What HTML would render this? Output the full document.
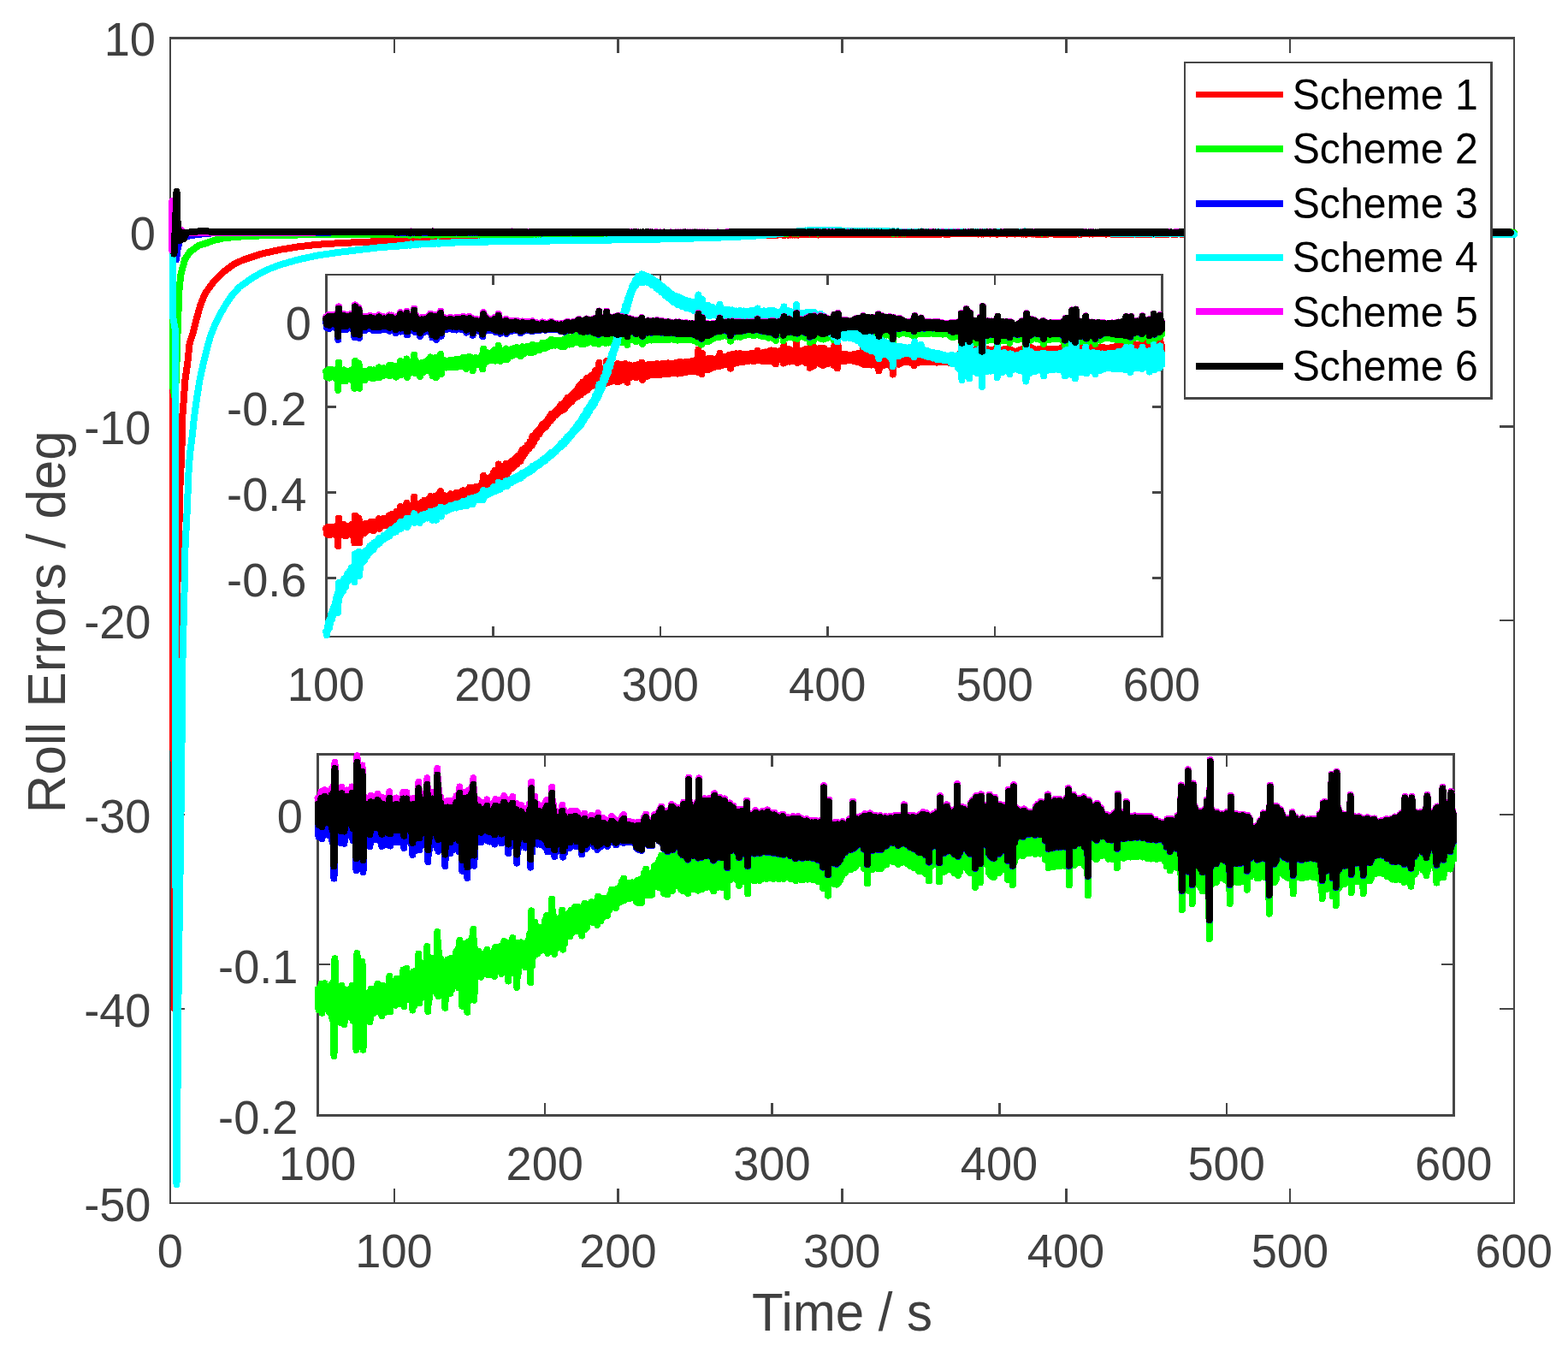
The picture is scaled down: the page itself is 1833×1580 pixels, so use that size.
<!DOCTYPE html>
<html lang="en"><head><meta charset="utf-8"><title>Roll Errors</title>
<style>html,body{margin:0;padding:0;background:#fff}svg{display:block}text{font-family:"Liberation Sans",sans-serif}.ax{fill:#464646;shape-rendering:crispEdges}.tk{fill:#404040;font-size:54.2px}.lb{fill:#404040;font-size:60.0px}.lg{fill:#000;font-size:50.0px}.d{fill:none;stroke-width:8.0;stroke-linejoin:round;stroke-linecap:round;shape-rendering:crispEdges}.k{fill:none;stroke-width:7;shape-rendering:crispEdges}</style></head><body>
<svg width="1833" height="1580" viewBox="0 0 1833 1580">
<rect width="1833" height="1580" fill="#fff"/>
<g id="main">
<path class="ax" d="M198,43H200V1407H198ZM1769,43H1771V1407H1769ZM198,43H1771V46H198ZM198,1405H1771V1407H198ZM460,1389H462V1407H460ZM460,43H462V62H460ZM721,1389H724V1407H721ZM721,43H724V62H721ZM983,1389H986V1407H983ZM983,43H986V62H983ZM1245,1389H1248V1407H1245ZM1245,43H1248V62H1245ZM1507,1389H1509V1407H1507ZM1507,43H1509V62H1507ZM198,270H216V273H198ZM1753,270H1771V273H1753ZM198,497H216V500H198ZM1753,497H1771V500H1753ZM198,724H216V726H198ZM1753,724H1771V726H1753ZM198,951H216V953H198ZM1753,951H1771V953H1753ZM198,1178H216V1180H198ZM1753,1178H1771V1180H1753Z"/>
<g class="d">
<path d="M202,275 202,870 203.5,890 203.5,1178 205.6,1000 206.8,756 206.9,700 209.4,616.6 210.2,573.5 212.3,530.5 213.2,487.5 214.9,466 216.4,444.5 219.4,423 221.6,401.5 225.4,390 229.4,374 234.3,356.3 240,342.6 250.9,327.8 261.8,317.5 272.7,309.3 283.6,304 294.6,300.3 305.5,296.7 327.3,291.8 349.1,288.3 370.9,285.8 392.8,284.4 414.6,283.3 440,282.2 460.8,282.4 461.8,282.7 462.8,282.4 463.8,282.6 464.8,282.3 465.8,282.7 466.7,282.4 467.7,282.7 468.7,282.3 469.7,282.7 470.7,282.3 471.7,282.7 472.7,282.3 473.6,282.7 474.6,282.3 475.6,282.7 476.6,282.3 477.6,282.8 478.6,282.2 479.5,283.3 480.5,281.8 481.5,282.7 482.5,282.3 483.5,282.7 484.5,282.3 485.5,282.7 486.4,282.3 487.4,282.7 488.4,282.2 489.4,282.7 490.4,282.3 491.4,282.8 492.4,282.3 493.3,282.7 494.3,282.3 495.3,282.7 496.3,282.3 497.3,282.6 498.3,282.3 499.3,282.6 500.2,282.2 501.2,282.7 502.2,282.3 503.2,282.7 504.2,282.3 505.2,283.2 506.1,281.7 507.1,282.8 508.1,282.2 509.1,282.7 510.1,282.3 511.1,282.7 512.1,281.8 513,283.2 514,282.3 515,282.6 516,282.2 517,282.6 518,282.2 519,282.6 519.9,282.2 520.9,282.6 521.9,282.1 522.9,282.5 523.9,282.2 524.9,282.5 525.8,282.2 526.8,282.5 527.8,282.1 528.8,282.5 529.8,282 530.8,282.4 531.8,282.1 532.7,282.5 533.7,282.1 534.7,282.5 535.7,282 536.7,282.4 537.7,282 538.7,282.3 539.6,282.1 540.6,282.4 541.6,282 542.6,282.3 543.6,281.9 544.6,282.4 545.5,282 546.5,282.3 547.5,282 548.5,282.2 549.5,282 550.5,282.2 551.5,281.8 552.4,282.2 553.4,281.9 554.4,282.2 555.4,281.9 556.4,282.2 557.4,281.8 558.4,282.1 559.3,281.7 560.3,282.2 561.3,281.7 562.3,282.1 563.3,281.6 564.3,282.1 565.3,281.7 566.2,282 567.2,281.7 568.2,282 569.2,281.6 570.2,282.1 571.2,281.5 572.1,282 573.1,281.6 574.1,282 575.1,281.5 576.1,281.9 577.1,281.2 578.1,282 579,281.5 580,281.8 581,281.4 582,281.8 583,281.3 584,281.8 585,281.4 585.9,281.8 586.9,281 587.9,282 588.9,281.3 589.9,281.8 590.9,281.3 591.8,281.6 592.8,281.2 593.8,281.6 594.8,281.2 595.8,281.6 596.8,281.2 597.8,281.6 598.7,280.7 599.7,281.7 600.7,281 601.7,281.6 602.7,281.1 603.7,281.6 604.7,281.1 605.6,281.5 606.6,281.1 607.6,281.8 608.6,281.1 609.6,281.5 610.6,281 611.5,281.5 612.5,281 613.5,281.4 614.5,280.9 615.5,281.4 616.5,281 617.5,281.3 618.4,281 619.4,281.4 620.4,280.9 621.4,281.3 622.4,280.9 623.4,281.4 624.4,280.7 625.3,281.3 626.3,280.8 627.3,281.6 628.3,280.7 629.3,281.3 630.3,280.7 631.3,281.4 632.2,280.7 633.2,281.7 634.2,280.6 635.2,281.2 636.2,280.6 637.2,281.1 638.1,280.6 639.1,281.2 640.1,280.4 641.1,281.5 642.1,280.7 643.1,281 644.1,280.7 645,281 646,280.6 647,281 648,280.7 649,281 650,280.7 651,281 651.9,280.7 652.9,281 653.9,280.7 654.9,280.9 655.9,280.6 656.9,280.9 657.8,280.6 658.8,280.9 659.8,280.6 660.8,280.9 661.8,280.6 662.8,280.8 663.8,280.5 664.7,280.9 665.7,280.5 666.7,280.8 667.7,280.5 668.7,280.8 669.7,280.5 670.7,280.8 671.6,280.5 672.6,280.9 673.6,280.4 674.6,280.8 675.6,280.4 676.6,280.8 677.5,280.4 678.5,280.7 679.5,280.4 680.5,280.9 681.5,280.4 682.5,280.8 683.5,280.3 684.4,280.7 685.4,280.2 686.4,280.7 687.4,280.3 688.4,280.7 689.4,280.2 690.4,280.9 691.3,280.3 692.3,280.7 693.3,280.2 694.3,280.5 695.3,280.2 696.3,280.5 697.3,280.2 698.2,280.5 699.2,280.2 700.2,280.5 701.2,280.2 702.2,280.4 703.2,280.1 704.1,280.4 705.1,280 706.1,280.7 707.1,279.6 708.1,280.4 709.1,279.9 710.1,280.2 711,279.7 712,280.2 713,279.8 714,280.1 715,279.7 716,280 717,279.7 717.9,280 718.9,279.7 719.9,279.9 720.9,279.6 721.9,279.9 722.9,279.4 723.8,279.9 724.8,279.3 725.8,279.9 726.8,279.4 727.8,279.8 728.8,279.4 729.8,279.8 730.7,279 731.7,279.7 732.7,279.2 733.7,279.7 734.7,279.2 735.7,279.6 736.7,279.2 737.6,279.5 738.6,279.2 739.6,279.5 740.6,279.1 741.6,279.4 742.6,278.9 743.5,279.5 744.5,279 745.5,279.4 746.5,279 747.5,279.3 748.5,278.9 749.5,279.2 750.4,278.9 751.4,279.2 752.4,278.8 753.4,279.1 754.4,278.8 755.4,279.1 756.4,278.7 757.3,279 758.3,278.7 759.3,279 760.3,278.6 761.3,278.9 762.3,278.5 763.3,278.8 764.2,278.5 765.2,278.8 766.2,278.4 767.2,278.6 768.2,278.2 769.2,278.6 770.1,278.2 771.1,278.5 772.1,278.1 773.1,278.4 774.1,278.1 775.1,278.3 776.1,278 777,278.2 778,277.9 779,278.2 780,277.8 781,278 782,277.7 783,278 783.9,277.5 784.9,277.8 785.9,277.5 786.9,277.8 787.9,277.4 788.9,277.6 789.8,277.3 790.8,277.5 791.8,277.2 792.8,277.4 793.8,277.2 794.8,277.4 795.8,277.1 796.7,277.2 797.7,277 798.7,277.2 799.7,276.9 800.7,277.1 801.7,276.8 802.7,277 803.6,276.8 804.6,277 805.6,276.7 806.6,276.9 807.6,276.6 808.6,276.8 809.5,276.5 810.5,276.7 811.5,276.4 812.5,276.7 813.5,276.3 814.5,276.6 815.5,276.3 816.4,276.5 817.4,276.3 818.4,276.4 819.4,276.2 820.4,276.4 821.4,276.1 822.4,276.3 823.3,276.1 824.3,276.2 825.3,276 826.3,276.2 827.3,275.9 828.3,276.2 829.3,275.8 830.2,276.1 831.2,275.8 832.2,276 833.2,275.7 834.2,276.1 835.2,275.7 836.1,275.9 837.1,275.6 838.1,275.9 839.1,275.5 840.1,275.8 841.1,275.4 842.1,275.8 843,275.4 844,275.7 845,275.4 846,275.6 847,275.3 848,275.5 849,275.2 849.9,275.4 850.9,275.2 851.9,275.4 852.9,275.1 853.9,275.4 854.9,274.9 855.8,275.3 856.8,274.8 857.8,275.3 858.8,274.8 859.8,275.3 860.8,274.7 861.8,275.2 862.7,274.6 863.7,275.2 864.7,274.6 865.7,275.1 866.7,274.6 867.7,275 868.7,274.4 869.6,275.1 870.6,274.4 871.6,274.9 872.6,274.4 873.6,274.9 874.6,274.3 875.5,274.8 876.5,274.3 877.5,274.8 878.5,274.3 879.5,274.8 880.5,274.2 881.5,274.8 882.4,274 883.4,274.7 884.4,274.1 885.4,274.8 886.4,274 887.4,274.8 888.4,273.6 889.3,274.6 890.3,274 891.3,274.6 892.3,274 893.3,274.7 894.3,273.9 895.3,274.6 896.2,274 897.2,274.6 898.2,273.9 899.2,274.7 900.2,273.5 901.2,274.6 902.1,273.8 903.1,274.6 904.1,273.8 905.1,274.6 906.1,273.8 907.1,274.6 908.1,273.8 909,274.6 910,273.9 911,274.5 912,273.7 913,274.5 914,273.8 915,274.6 915.9,273.8 916.9,274.6 917.9,273.6 918.9,274.5 919.9,273.8 920.9,274.6 921.8,273.7 922.8,274.5 923.8,273.7 924.8,274.5 925.8,273.7 926.8,274.5 927.8,273.8 928.7,274.5 929.7,273.7 930.7,274.5 931.7,273.8 932.7,274.6 933.7,273.7 934.7,274.3 935.6,273.7 936.6,274.4 937.6,273.8 938.6,274.3 939.6,273.8 940.6,274.3 941.5,273.8 942.5,274.3 943.5,273.8 944.5,274.3 945.5,273.7 946.5,274.4 947.5,273.8 948.4,274.3 949.4,273.7 950.4,274.3 951.4,273.8 952.4,274.3 953.4,273.8 954.4,274.3 955.3,273.6 956.3,274.5 957.3,273.7 958.3,274.3 959.3,273.7 960.3,274.3 961.3,273.8 962.2,274.3 963.2,273.8 964.2,274.3 965.2,273.7 966.2,274.2 967.2,273.8 968.1,274.2 969.1,273.7 970.1,274.3 971.1,273.7 972.1,274.2 973.1,273.7 974.1,274.2 975,273.7 976,274.2 977,273.7 978,274.3 979,273.6 980,274.2 981,273.7 981.9,274.2 982.9,273.7 983.9,274.2 984.9,273.7 985.9,274.2 986.9,273.6 987.8,274.1 988.8,273.7 989.8,274.1 990.8,273.7 991.8,274.2 992.8,273.7 993.8,274.2 994.7,273.6 995.7,274.2 996.7,273.6 997.7,274.2 998.7,273.7 999.7,274.1 1000.7,273.7 1001.6,274.1 1002.6,273.6 1003.6,274.1 1004.6,273.7 1005.6,274.2 1006.6,273.7 1007.5,274.1 1008.5,273.6 1009.5,274.1 1010.5,273.7 1011.5,274.2 1012.5,273.6 1013.5,274.1 1014.4,273.6 1015.4,274.1 1016.4,273.6 1017.4,274.1 1018.4,273.6 1019.4,274.1 1020.4,273.6 1021.3,274.1 1022.3,273.6 1023.3,274 1024.3,273.5 1025.3,274.1 1026.3,273.6 1027.3,274 1028.2,273.6 1029.2,274.1 1030.2,273.5 1031.2,274.1 1032.2,273.6 1033.2,274 1034.1,273.5 1035.1,274.1 1036.1,273.5 1037.1,274.1 1038.1,273.5 1039.1,274 1040.1,273.5 1041,274 1042,273.5 1043,274.1 1044,272.9 1045,274.1 1046,273.4 1047,273.9 1047.9,273.5 1048.9,274.2 1049.9,273.1 1050.9,273.9 1051.9,273.5 1052.9,274 1053.8,273.5 1054.8,274 1055.8,273.4 1056.8,274 1057.8,273.4 1058.8,274 1059.8,273.4 1060.7,273.9 1061.7,273.4 1062.7,273.9 1063.7,273.4 1064.7,273.9 1065.7,273.4 1066.7,273.8 1067.6,273.4 1068.6,273.8 1069.6,273.4 1070.6,273.7 1071.6,273.4 1072.6,273.8 1073.5,273.4 1074.5,273.8 1075.5,273.4 1076.5,273.7 1077.5,273.1 1078.5,273.8 1079.5,273.3 1080.4,273.7 1081.4,273.3 1082.4,273.7 1083.4,273.3 1084.4,273.7 1085.4,273.3 1086.4,273.7 1087.3,273.3 1088.3,273.7 1089.3,273.3 1090.3,273.7 1091.3,273.2 1092.3,273.6 1093.3,273.2 1094.2,273.9 1095.2,273.2 1096.2,273.6 1097.2,273.1 1098.2,273.6 1099.2,273.2 1100.1,273.6 1101.1,273.1 1102.1,273.5 1103.1,273.1 1104.1,273.6 1105.1,273.2 1106.1,273.6 1107,273.2 1108,273.6 1109,273.1 1110,273.6 1111,273.2 1112,273.5 1113,273.2 1113.9,273.5 1114.9,273.1 1115.9,273.5 1116.9,273.2 1117.9,273.5 1118.9,273.2 1119.8,273.5 1120.8,273.1 1121.8,273.5 1122.8,273.2 1123.8,273.5 1124.8,273.2 1125.8,273.5 1126.7,273.1 1127.7,273.5 1128.7,273.1 1129.7,273.5 1130.7,273.1 1131.7,273.5 1132.7,273.1 1133.6,273.5 1134.6,273.1 1135.6,273.4 1136.6,272.9 1137.6,273.4 1138.6,273.1 1139.5,273.5 1140.5,273.1 1141.5,273.4 1142.5,273.1 1143.5,273.5 1144.5,273.1 1145.5,273.4 1146.4,273 1147.4,273.5 1148.4,273 1149.4,273.5 1150.4,273.1 1151.4,273.5 1152.4,273.1 1153.3,273.5 1154.3,273 1155.3,273.5 1156.3,273 1157.3,273.5 1158.3,272.9 1159.3,273.5 1160.2,273 1161.2,273.5 1162.2,273 1163.2,273.5 1164.2,273 1165.2,273.7 1166.1,273 1167.1,273.5 1168.1,273.1 1169.1,273.4 1170.1,273 1171.1,273.4 1172.1,273 1173,273.4 1174,272.9 1175,273.4 1176,272.9 1177,273.6 1178,272.7 1179,273.5 1179.9,272.9 1180.9,273.5 1181.9,272.9 1182.9,273.5 1183.9,273 1184.9,273.4 1185.8,272.9 1186.8,273.5 1187.8,272.9 1188.8,273.4 1189.8,273 1190.8,273.4 1191.8,273 1192.7,273.5 1193.7,273 1194.7,273.5 1195.7,272.9 1196.7,273.5 1197.7,272.5 1198.7,273.6 1199.6,273 1200.6,273.6 1201.6,272.9 1202.6,273.4 1203.6,273 1204.6,273.4 1205.5,273 1206.5,273.5 1207.5,273 1208.5,273.5 1209.5,272.9 1210.5,273.5 1211.5,273 1212.4,273.6 1213.4,272.9 1214.4,273.6 1215.4,272.9 1216.4,273.6 1217.4,272.9 1218.4,273.9 1219.3,272.8 1220.3,273.7 1221.3,272.9 1222.3,273.6 1223.3,272.9 1224.3,273.8 1225.3,272.8 1226.2,273.5 1227.2,273.1 1228.2,273.4 1229.2,273.1 1230.2,273.5 1231.2,273 1232.1,273.6 1233.1,273 1234.1,273.7 1235.1,272.8 1236.1,273.7 1237.1,272.9 1238.1,273.7 1239,272.9 1240,273.7 1241,272.8 1242,273.6 1243,273 1244,273.6 1245,273 1245.9,273.7 1246.9,273 1247.9,273.6 1248.9,273 1249.9,273.6 1250.9,273 1251.8,273.6 1252.8,273 1253.8,273.6 1254.8,272.9 1255.8,273.7 1256.8,272.7 1257.8,273.6 1258.7,273 1259.7,273.5 1260.7,273.1 1261.7,273.9 1262.7,272.7 1263.7,273.6 1264.7,273.1 1265.6,273.5 1266.6,273.1 1267.6,273.5 1268.6,273.1 1269.6,273.5 1270.6,273.2 1271.5,273.5 1272.5,273.2 1273.5,273.5 1274.5,273.1 1275.5,273.5 1276.5,273.2 1277.5,273.5 1278.4,273.2 1279.4,273.5 1280.4,273.2 1281.4,273.5 1282.4,273.2 1283.4,273.5 1284.4,273.2 1285.3,273.5 1286.3,273.2 1287.3,273.5 1288.3,273.1 1289.3,273.5 1290.3,273.1 1291.3,273.5 1292.2,273.2 1293.2,273.6 1294.2,273.1 1295.2,273.5 1296.2,273.2 1297.2,273.5 1298.1,273.1 1299.1,273.6 1300.1,273 1301.1,273.6 1302.1,272.9 1303.1,273.7 1304.1,273.1 1305,273.6 1306,273 1307,273.7 1308,273.1 1309,273.7 1310,273 1311,273.7 1311.9,273 1312.9,273.6 1313.9,273.1 1314.9,273.7 1315.9,273 1316.9,273.7 1317.8,273.1 1318.8,273.7 1319.8,273.1 1320.8,273.6 1321.8,273.1 1322.8,273.7 1323.8,273 1324.7,273.6 1325.7,272.9 1326.7,274 1327.7,273.1 1328.7,273.7 1329.7,273 1330.7,273.7 1331.6,273 1332.6,273.8 1333.6,273.1 1334.6,273.7 1335.6,273.1 1336.6,273.7 1337.5,273.1 1338.5,273.7 1339.5,273.2 1340.5,273.7 1341.5,273.1 1342.5,273.7 1343.5,273 1344.4,273.8 1345.4,273.1 1346.4,273.7 1347.4,273.2 1348.4,274.2 1349.4,273.1 1350.4,273.6 1351.3,273.2 1352.3,273.6 1353.3,273.2 1354.3,273.6 1355.3,273.2 1356.3,273.6 1357.3,273.2 1358.2,273.7 1359.2,273.2 1360.2,273.6 1361.2,273.2 1362.2,273.6 1363.2,273.2 1364.1,273.6 1365.1,273.3 1366.1,273.6 1367.1,273.3 1368.1,273.5 1369.1,273.2 1370.1,273.6 1371,273.3 1372,273.6 1373,273.3 1374,273.6 1375,273.2 1376,273.6 1377,273.3 1377.9,273.5 1378.9,273.2 1379.9,273.6 1380.9,273.2 1381.9,273.7 1382.9,272.9 1383.8,273.6 1384.8,273.3 1385.8,273.6 1386.8,273.2 1387.8,273.5 1388.8,273.3 1389.8,273.6 1390.7,273.3 1391.7,273.6 1392.7,273 1393.7,273.6 1394.7,273.3 1395.7,273.5 1396.7,273.3 1397.6,273.6 1398.6,273.3 1399.6,273.6 1400.6,273.3 1401.6,273.5 1402.6,273.3 1403.6,273.5 1404.5,273.3 1405.5,273.6 1406.5,273.3 1407.5,273.5 1408.5,273.3 1409.5,273.5 1410.4,273.3 1411.4,273.6 1412.4,273.3 1413.4,273.5 1414.4,273.3 1415.4,273.5 1416.4,273.3 1417.3,273.6 1418.3,273.3 1419.3,273.6 1420.3,273.3 1421.3,273.6 1422.3,273.3 1423.3,273.6 1424.2,273.3 1425.2,273.5 1426.2,273.3 1427.2,273.6 1428.2,273.3 1429.2,273.5 1430.1,273.3 1431.1,273.5 1432.1,273.3 1433.1,273.5 1434.1,273.3 1435.1,273.5 1436.1,273.3 1437,273.6 1438,273.3 1439,273.6 1440,273.2 1441,273.6 1442,273.2 1443,273.7 1443.9,273.2 1444.9,273.6 1445.9,273.2 1446.9,273.6 1447.9,273.3 1448.9,273.5 1449.8,273.2 1450.8,273.6 1451.8,273.2 1452.8,273.6 1453.8,273.2 1454.8,273.7 1455.8,272.7 1456.7,274.2 1457.7,273 1458.7,273.7 1459.7,273 1460.7,273.7 1461.7,272.9 1462.7,273.8 1463.6,272.3 1464.6,273.8 1465.6,273 1466.6,273.8 1467.6,272.8 1468.6,274.1 1469.6,272.6 1470.5,273.7 1471.5,272.9 1472.5,273.7 1473.5,273 1474.5,273.6 1475.5,273.1 1476.4,273.7 1477.4,272.9 1478.4,273.7 1479.4,272.9 1480.4,273.7 1481.4,273 1482.4,273.6 1483.3,272.9 1484.3,273.7 1485.3,272.7 1486.3,273.6 1487.3,272.8 1488.3,274.5 1489.3,272.1 1490.2,273.7 1491.2,272.9 1492.2,273.6 1493.2,273 1494.2,273.5 1495.2,273 1496.1,273.6 1497.1,272.9 1498.1,273.5 1499.1,273 1500.1,273.6 1501.1,272.9 1502.1,273.6 1503,272.9 1504,273.5 1505,273 1506,273.6 1507,272.9 1508,273.6 1509,272.9 1509.9,273.6 1510.9,272.9 1511.9,273.9 1512.9,272.6 1513.9,273.6 1514.9,272.9 1515.8,273.6 1516.8,272.9 1517.8,273.6 1518.8,272.9 1519.8,273.6 1520.8,273 1521.8,273.5 1522.7,272.9 1523.7,273.6 1524.7,273 1525.7,273.6 1526.7,272.9 1527.7,273.5 1528.7,272.9 1529.6,273.6 1530.6,273 1531.6,273.7 1532.6,272.9 1533.6,273.5 1534.6,272.9 1535.6,273.5 1536.5,273 1537.5,273.4 1538.5,273 1539.5,273.4 1540.5,273.1 1541.5,273.4 1542.4,273 1543.4,273.5 1544.4,273 1545.4,273.5 1546.4,272.9 1547.4,273.5 1548.4,273 1549.3,273.5 1550.3,272.9 1551.3,273.5 1552.3,272.9 1553.3,273.4 1554.3,272.9 1555.3,273.5 1556.2,272.9 1557.2,274.1 1558.2,272.4 1559.2,273.5 1560.2,272.9 1561.2,273.6 1562.1,272.9 1563.1,273.6 1564.1,272.8 1565.1,273.6 1566.1,272.8 1567.1,273.5 1568.1,272.9 1569,273.5 1570,272.9 1571,273.5 1572,272.9 1573,273.5 1574,272.9 1575,273.5 1575.9,272.9 1576.9,273.4 1577.9,272.9 1578.9,273.5 1579.9,272.9 1580.9,273.5 1581.8,272.9 1582.8,273.5 1583.8,272.8 1584.8,273.7 1585.8,272.9 1586.8,273.4 1587.8,272.9 1588.7,273.4 1589.7,272.9 1590.7,273.4 1591.7,272.9 1592.7,273.4 1593.7,272.9 1594.7,273.5 1595.6,272.9 1596.6,273.4 1597.6,272.9 1598.6,273.4 1599.6,272.9 1600.6,273.4 1601.6,272.9 1602.5,273.4 1603.5,272.9 1604.5,273.4 1605.5,272.9 1606.5,273.4 1607.5,272.9 1608.4,273.4 1609.4,272.8 1610.4,273.4 1611.4,272.9 1612.4,273.4 1613.4,272.8 1614.4,273.4 1615.3,272.8 1616.3,273.5 1617.3,272.8 1618.3,273.8 1619.3,272.6 1620.3,273.5 1621.3,272.6 1622.2,273.6 1623.2,272.7 1624.2,273.5 1625.2,272.8 1626.2,273.6 1627.2,272.6 1628.1,273.5 1629.1,272.2 1630.1,273.7 1631.1,272.8 1632.1,273.6 1633.1,272.8 1634.1,273.9 1635,272.1 1636,273.6 1637,272.7 1638,273.5 1639,272.8 1640,273.4 1641,272.7 1641.9,273.5 1642.9,272.8 1643.9,273.5 1644.9,272.8 1645.9,273.4 1646.9,272.8 1647.8,273.4 1648.8,272.9 1649.8,273.5 1650.8,272.4 1651.8,273.6 1652.8,272.8 1653.8,273.4 1654.7,272.8 1655.7,273.4 1656.7,272.8 1657.7,273.4 1658.7,272.8 1659.7,273.4 1660.7,272.8 1661.6,273.4 1662.6,272.8 1663.6,273.4 1664.6,272.8 1665.6,273.6 1666.6,272.8 1667.6,273.4 1668.5,272.8 1669.5,273.4 1670.5,272.8 1671.5,273.4 1672.5,272.9 1673.5,273.4 1674.4,272.8 1675.4,273.4 1676.4,272.8 1677.4,273.3 1678.4,272.8 1679.4,273.3 1680.4,272.9 1681.3,273.3 1682.3,272.8 1683.3,273.3 1684.3,272.8 1685.3,273.3 1686.3,272.8 1687.3,273.3 1688.2,272.8 1689.2,273.3 1690.2,272.8 1691.2,273.3 1692.2,272.8 1693.2,273.3 1694.1,272.8 1695.1,273.2 1696.1,272.8 1697.1,273.3 1698.1,272.7 1699.1,273.3 1700.1,272.7 1701,273.3 1702,272.7 1703,273.3 1704,272.8 1705,273.3 1706,272.7 1707,273.3 1707.9,272.7 1708.9,273.3 1709.9,272.6 1710.9,273.3 1711.9,272.6 1712.9,273.4 1713.8,272.4 1714.8,273.3 1715.8,272.6 1716.8,273.2 1717.8,272.7 1718.8,273.3 1719.8,272.6 1720.7,273.4 1721.7,272.4 1722.7,273.3 1723.7,272.7 1724.7,273.3 1725.7,272.6 1726.7,273.2 1727.6,272.7 1728.6,273.2 1729.6,272.7 1730.6,273.1 1731.6,272.7 1732.6,273.2 1733.6,272.7 1734.5,273.2 1735.5,272.7 1736.5,273.2 1737.5,272.6 1738.5,273.3 1739.5,272.4 1740.4,273.2 1741.4,272.6 1742.4,273.1 1743.4,272.7 1744.4,273.1 1745.4,272.7 1746.4,273.1 1747.3,272.7 1748.3,273.2 1749.3,272.6 1750.3,273.4 1751.3,272.5 1752.3,273.1 1753.3,272.6 1754.2,273.2 1755.2,272.6 1756.2,273.1 1757.2,272.3 1758.2,273.3 1759.2,272.6 1760.1,273.1 1761.1,272.5 1762.1,273.1 1763.1,272.6 1764.1,273.2 1765.1,272.5 1766.1,273.2 1767,272.3 1768,273.1 1769,272.6 1770,273 1770,273" stroke="#ff0000"/>
<path d="M202,275 202,452 204.5,465 206,440 207.5,390 209.5,338.6 211.4,320.9 216.1,303.1 221.9,294.3 232.5,286.8 240,284.5 250.9,280.7 261.8,278.2 283.6,276.4 305.5,275.4 349,274.5 400,274.3 440,274.2 460.8,274 461.8,274.4 462.8,274 463.8,274.3 464.8,274 465.8,274.4 466.7,274 467.7,274.3 468.7,274 469.7,274.3 470.7,274 471.7,274.3 472.7,274 473.6,274.4 474.6,274 475.6,274.4 476.6,274 477.6,274.5 478.6,273.9 479.5,275 480.5,273.6 481.5,274.4 482.5,274.1 483.5,274.4 484.5,274.1 485.5,274.5 486.4,274.1 487.4,274.5 488.4,274 489.4,274.5 490.4,274.1 491.4,274.6 492.4,274.1 493.3,274.4 494.3,274.1 495.3,274.5 496.3,274.1 497.3,274.4 498.3,274.1 499.3,274.4 500.2,274 501.2,274.5 502.2,274.1 503.2,274.5 504.2,274.1 505.2,275 506.1,273.5 507.1,274.6 508.1,274 509.1,274.5 510.1,274.1 511.1,274.5 512.1,273.6 513,275 514,274.1 515,274.4 516,274.1 517,274.5 518,274.1 519,274.5 519.9,274.1 520.9,274.5 521.9,274 522.9,274.4 523.9,274.1 524.9,274.4 525.8,274.1 526.8,274.4 527.8,274 528.8,274.4 529.8,274 530.8,274.4 531.8,274 532.7,274.4 533.7,274 534.7,274.4 535.7,274 536.7,274.4 537.7,274 538.7,274.3 539.6,274.1 540.6,274.4 541.6,274 542.6,274.3 543.6,273.8 544.6,274.4 545.5,273.9 546.5,274.3 547.5,274 548.5,274.2 549.5,274 550.5,274.3 551.5,273.9 552.4,274.2 553.4,273.9 554.4,274.3 555.4,273.9 556.4,274.2 557.4,273.9 558.4,274.2 559.3,273.7 560.3,274.3 561.3,273.8 562.3,274.2 563.3,273.7 564.3,274.2 565.3,273.8 566.2,274.2 567.2,273.8 568.2,274.2 569.2,273.8 570.2,274.4 571.2,273.8 572.1,274.3 573.1,273.9 574.1,274.2 575.1,273.8 576.1,274.1 577.1,273.5 578.1,274.2 579,273.8 580,274.2 581,273.7 582,274.2 583,273.7 584,274.1 585,273.7 585.9,274.1 586.9,273.4 587.9,274.4 588.9,273.6 589.9,274.2 590.9,273.7 591.8,274 592.8,273.6 593.8,274 594.8,273.6 595.8,274.1 596.8,273.7 597.8,274.1 598.7,273.2 599.7,274.1 600.7,273.5 601.7,274 602.7,273.6 603.7,274 604.7,273.6 605.6,274 606.6,273.6 607.6,274.3 608.6,273.6 609.6,274.1 610.6,273.6 611.5,274.1 612.5,273.6 613.5,274.1 614.5,273.6 615.5,274 616.5,273.7 617.5,274 618.4,273.6 619.4,274 620.4,273.5 621.4,273.8 622.4,273.4 623.4,274 624.4,273.3 625.3,274 626.3,273.4 627.3,274.3 628.3,273.4 629.3,274 630.3,273.4 631.3,274.1 632.2,273.4 633.2,274.4 634.2,273.3 635.2,273.9 636.2,273.4 637.2,273.8 638.1,273.3 639.1,273.9 640.1,273.1 641.1,274.2 642.1,273.4 643.1,273.8 644.1,273.6 645,273.8 646,273.5 647,273.8 648,273.5 649,273.9 650,273.5 651,273.8 651.9,273.5 652.9,273.8 653.9,273.5 654.9,273.8 655.9,273.4 656.9,273.8 657.8,273.5 658.8,273.8 659.8,273.5 660.8,273.8 661.8,273.5 662.8,273.8 663.8,273.5 664.7,273.8 665.7,273.4 666.7,273.7 667.7,273.5 668.7,273.7 669.7,273.5 670.7,273.8 671.6,273.4 672.6,273.8 673.6,273.4 674.6,273.8 675.6,273.3 676.6,273.8 677.5,273.3 678.5,273.7 679.5,273.4 680.5,273.9 681.5,273.3 682.5,273.8 683.5,273.3 684.4,273.7 685.4,273.3 686.4,273.8 687.4,273.4 688.4,273.8 689.4,273.3 690.4,274 691.3,273.4 692.3,273.8 693.3,273.4 694.3,273.7 695.3,273.3 696.3,273.7 697.3,273.4 698.2,273.6 699.2,273.4 700.2,273.7 701.2,273.3 702.2,273.6 703.2,273.3 704.1,273.6 705.1,273.2 706.1,273.9 707.1,272.9 708.1,273.7 709.1,273.2 710.1,273.5 711,273 712,273.5 713,273.1 714,273.5 715,273.1 716,273.4 717,273.1 717.9,273.5 718.9,273.1 719.9,273.4 720.9,273.1 721.9,273.4 722.9,273 723.8,273.5 724.8,272.9 725.8,273.5 726.8,273 727.8,273.4 728.8,273 729.8,273.5 730.7,272.7 731.7,273.4 732.7,272.9 733.7,273.5 734.7,273 735.7,273.4 736.7,273 737.6,273.4 738.6,273 739.6,273.4 740.6,273 741.6,273.3 742.6,272.9 743.5,273.4 744.5,272.9 745.5,273.4 746.5,273 747.5,273.2 748.5,272.9 749.5,273.2 750.4,272.9 751.4,273.2 752.4,272.9 753.4,273.2 754.4,272.9 755.4,273.1 756.4,272.8 757.3,273.1 758.3,272.8 759.3,273.2 760.3,272.8 761.3,273.1 762.3,272.8 763.3,273.1 764.2,272.9 765.2,273.2 766.2,272.8 767.2,273.1 768.2,272.8 769.2,273.1 770.1,272.8 771.1,273.1 772.1,272.8 773.1,273 774.1,272.8 775.1,273 776.1,272.7 777,273 778,272.8 779,273 780,272.7 781,273 782,272.8 783,273.1 783.9,272.6 784.9,273 785.9,272.7 786.9,273 787.9,272.7 788.9,273 789.8,272.7 790.8,272.9 791.8,272.7 792.8,272.9 793.8,272.7 794.8,272.9 795.8,272.7 796.7,272.8 797.7,272.6 798.7,272.8 799.7,272.5 800.7,272.8 801.7,272.6 802.7,272.8 803.6,272.6 804.6,272.8 805.6,272.5 806.6,272.7 807.6,272.5 808.6,272.7 809.5,272.5 810.5,272.7 811.5,272.4 812.5,272.7 813.5,272.4 814.5,272.7 815.5,272.5 816.4,272.7 817.4,272.5 818.4,272.7 819.4,272.4 820.4,272.7 821.4,272.5 822.4,272.7 823.3,272.4 824.3,272.7 825.3,272.5 826.3,272.7 827.3,272.4 828.3,272.7 829.3,272.4 830.2,272.7 831.2,272.5 832.2,272.7 833.2,272.4 834.2,272.7 835.2,272.4 836.1,272.6 837.1,272.3 838.1,272.6 839.1,272.2 840.1,272.6 841.1,272.3 842.1,272.6 843,272.3 844,272.6 845,272.3 846,272.6 847,272.3 848,272.5 849,272.2 849.9,272.4 850.9,272.2 851.9,272.5 852.9,272.1 853.9,272.5 854.9,272.1 855.8,272.5 856.8,272 857.8,272.5 858.8,272.1 859.8,272.6 860.8,272.1 861.8,272.6 862.7,272.1 863.7,272.6 864.7,272.1 865.7,272.6 866.7,272 867.7,272.5 868.7,271.9 869.6,272.6 870.6,271.9 871.6,272.5 872.6,271.9 873.6,272.5 874.6,271.9 875.5,272.4 876.5,271.9 877.5,272.5 878.5,272 879.5,272.5 880.5,271.9 881.5,272.6 882.4,271.8 883.4,272.5 884.4,271.9 885.4,272.6 886.4,271.8 887.4,272.6 888.4,271.4 889.3,272.5 890.3,271.9 891.3,272.5 892.3,271.9 893.3,272.5 894.3,271.8 895.3,272.4 896.2,271.9 897.2,272.5 898.2,271.8 899.2,272.6 900.2,271.4 901.2,272.5 902.1,271.7 903.1,272.5 904.1,271.7 905.1,272.5 906.1,271.7 907.1,272.5 908.1,271.8 909,272.5 910,271.9 911,272.4 912,271.7 913,272.4 914,271.8 915,272.5 915.9,271.8 916.9,272.6 917.9,271.6 918.9,272.5 919.9,271.7 920.9,272.5 921.8,271.7 922.8,272.4 923.8,271.6 924.8,272.4 925.8,271.7 926.8,272.5 927.8,271.8 928.7,272.5 929.7,271.7 930.7,272.5 931.7,271.8 932.7,272.6 933.7,271.7 934.7,272.4 935.6,271.7 936.6,272.4 937.6,271.8 938.6,272.3 939.6,271.7 940.6,272.4 941.5,271.8 942.5,272.3 943.5,271.9 944.5,272.4 945.5,271.8 946.5,272.5 947.5,271.9 948.4,272.4 949.4,271.8 950.4,272.4 951.4,271.8 952.4,272.4 953.4,271.9 954.4,272.3 955.3,271.7 956.3,272.6 957.3,271.8 958.3,272.4 959.3,271.9 960.3,272.4 961.3,271.9 962.2,272.4 963.2,271.8 964.2,272.4 965.2,271.8 966.2,272.3 967.2,271.9 968.1,272.3 969.1,271.8 970.1,272.4 971.1,271.9 972.1,272.4 973.1,271.8 974.1,272.3 975,271.9 976,272.3 977,271.8 978,272.4 979,271.8 980,272.4 981,271.8 981.9,272.4 982.9,271.8 983.9,272.3 984.9,271.8 985.9,272.4 986.9,271.8 987.8,272.3 988.8,271.9 989.8,272.3 990.8,271.8 991.8,272.4 992.8,271.9 993.8,272.4 994.7,271.8 995.7,272.4 996.7,271.8 997.7,272.4 998.7,271.9 999.7,272.3 1000.7,271.9 1001.6,272.3 1002.6,271.8 1003.6,272.3 1004.6,271.9 1005.6,272.4 1006.6,271.9 1007.5,272.3 1008.5,271.8 1009.5,272.3 1010.5,271.9 1011.5,272.4 1012.5,271.8 1013.5,272.3 1014.4,271.8 1015.4,272.3 1016.4,271.9 1017.4,272.4 1018.4,271.8 1019.4,272.4 1020.4,271.9 1021.3,272.3 1022.3,271.9 1023.3,272.3 1024.3,271.8 1025.3,272.4 1026.3,271.9 1027.3,272.3 1028.2,271.9 1029.2,272.4 1030.2,271.9 1031.2,272.4 1032.2,271.9 1033.2,272.4 1034.1,271.9 1035.1,272.4 1036.1,271.9 1037.1,272.4 1038.1,271.9 1039.1,272.4 1040.1,271.9 1041,272.4 1042,271.9 1043,272.5 1044,271.3 1045,272.5 1046,271.9 1047,272.4 1047.9,271.9 1048.9,272.6 1049.9,271.5 1050.9,272.4 1051.9,271.9 1052.9,272.4 1053.8,271.9 1054.8,272.5 1055.8,271.9 1056.8,272.5 1057.8,271.9 1058.8,272.5 1059.8,271.9 1060.7,272.4 1061.7,271.9 1062.7,272.4 1063.7,271.9 1064.7,272.3 1065.7,271.9 1066.7,272.3 1067.6,271.9 1068.6,272.3 1069.6,271.9 1070.6,272.2 1071.6,271.9 1072.6,272.2 1073.5,271.8 1074.5,272.2 1075.5,271.8 1076.5,272.2 1077.5,271.6 1078.5,272.2 1079.5,271.8 1080.4,272.2 1081.4,271.8 1082.4,272.1 1083.4,271.8 1084.4,272.2 1085.4,271.8 1086.4,272.1 1087.3,271.8 1088.3,272.1 1089.3,271.8 1090.3,272.2 1091.3,271.7 1092.3,272.2 1093.3,271.8 1094.2,272.4 1095.2,271.8 1096.2,272.2 1097.2,271.7 1098.2,272.2 1099.2,271.8 1100.1,272.2 1101.1,271.7 1102.1,272.2 1103.1,271.7 1104.1,272.2 1105.1,271.8 1106.1,272.2 1107,271.8 1108,272.2 1109,271.7 1110,272.2 1111,271.8 1112,272.2 1113,271.8 1113.9,272.2 1114.9,271.8 1115.9,272.2 1116.9,271.8 1117.9,272.1 1118.9,271.8 1119.8,272.1 1120.8,271.8 1121.8,272.1 1122.8,271.8 1123.8,272.1 1124.8,271.8 1125.8,272.1 1126.7,271.7 1127.7,272.1 1128.7,271.8 1129.7,272.2 1130.7,271.7 1131.7,272.1 1132.7,271.7 1133.6,272.1 1134.6,271.7 1135.6,272.1 1136.6,271.6 1137.6,272.1 1138.6,271.8 1139.5,272.1 1140.5,271.7 1141.5,272.1 1142.5,271.8 1143.5,272.2 1144.5,271.8 1145.5,272.1 1146.4,271.7 1147.4,272.2 1148.4,271.8 1149.4,272.2 1150.4,271.8 1151.4,272.2 1152.4,271.8 1153.3,272.3 1154.3,271.7 1155.3,272.3 1156.3,271.8 1157.3,272.2 1158.3,271.7 1159.3,272.2 1160.2,271.7 1161.2,272.3 1162.2,271.7 1163.2,272.3 1164.2,271.7 1165.2,272.4 1166.1,271.8 1167.1,272.2 1168.1,271.8 1169.1,272.1 1170.1,271.7 1171.1,272.2 1172.1,271.8 1173,272.1 1174,271.7 1175,272.2 1176,271.7 1177,272.4 1178,271.5 1179,272.3 1179.9,271.7 1180.9,272.3 1181.9,271.7 1182.9,272.3 1183.9,271.7 1184.9,272.2 1185.8,271.6 1186.8,272.2 1187.8,271.6 1188.8,272.2 1189.8,271.7 1190.8,272.2 1191.8,271.9 1192.7,272.3 1193.7,271.8 1194.7,272.3 1195.7,271.6 1196.7,272.2 1197.7,271.3 1198.7,272.3 1199.6,271.7 1200.6,272.3 1201.6,271.6 1202.6,272.1 1203.6,271.6 1204.6,272.1 1205.5,271.6 1206.5,272.2 1207.5,271.7 1208.5,272.2 1209.5,271.7 1210.5,272.3 1211.5,271.7 1212.4,272.3 1213.4,271.6 1214.4,272.2 1215.4,271.5 1216.4,272.3 1217.4,271.6 1218.4,272.5 1219.3,271.5 1220.3,272.3 1221.3,271.5 1222.3,272.3 1223.3,271.5 1224.3,272.4 1225.3,271.4 1226.2,272.1 1227.2,271.7 1228.2,272 1229.2,271.7 1230.2,272.1 1231.2,271.6 1232.1,272.2 1233.1,271.6 1234.1,272.3 1235.1,271.4 1236.1,272.3 1237.1,271.5 1238.1,272.4 1239,271.6 1240,272.4 1241,271.5 1242,272.2 1243,271.6 1244,272.2 1245,271.6 1245.9,272.3 1246.9,271.6 1247.9,272.2 1248.9,271.6 1249.9,272.2 1250.9,271.6 1251.8,272.2 1252.8,271.6 1253.8,272.2 1254.8,271.6 1255.8,272.4 1256.8,271.4 1257.8,272.2 1258.7,271.6 1259.7,272.2 1260.7,271.7 1261.7,272.5 1262.7,271.3 1263.7,272.1 1264.7,271.6 1265.6,272.1 1266.6,271.6 1267.6,272 1268.6,271.7 1269.6,272 1270.6,271.7 1271.5,272 1272.5,271.7 1273.5,272 1274.5,271.6 1275.5,272 1276.5,271.7 1277.5,272 1278.4,271.7 1279.4,272 1280.4,271.7 1281.4,272 1282.4,271.7 1283.4,272 1284.4,271.7 1285.3,272 1286.3,271.7 1287.3,272 1288.3,271.6 1289.3,271.9 1290.3,271.6 1291.3,272 1292.2,271.6 1293.2,272 1294.2,271.5 1295.2,271.9 1296.2,271.6 1297.2,271.9 1298.1,271.6 1299.1,272.1 1300.1,271.5 1301.1,272.1 1302.1,271.4 1303.1,272.2 1304.1,271.6 1305,272.2 1306,271.6 1307,272.2 1308,271.6 1309,272.2 1310,271.5 1311,272.1 1311.9,271.5 1312.9,272.1 1313.9,271.5 1314.9,272.2 1315.9,271.5 1316.9,272.2 1317.8,271.5 1318.8,272.1 1319.8,271.6 1320.8,272.1 1321.8,271.5 1322.8,272.2 1323.8,271.5 1324.7,272.1 1325.7,271.3 1326.7,272.5 1327.7,271.5 1328.7,272.2 1329.7,271.5 1330.7,272.1 1331.6,271.4 1332.6,272.2 1333.6,271.5 1334.6,272.1 1335.6,271.6 1336.6,272.1 1337.5,271.5 1338.5,272.1 1339.5,271.6 1340.5,272.1 1341.5,271.6 1342.5,272.1 1343.5,271.5 1344.4,272.2 1345.4,271.6 1346.4,272.1 1347.4,271.6 1348.4,272.6 1349.4,271.5 1350.4,272.1 1351.3,271.6 1352.3,272 1353.3,271.6 1354.3,272 1355.3,271.6 1356.3,272.1 1357.3,271.6 1358.2,272.1 1359.2,271.6 1360.2,272 1361.2,271.6 1362.2,272 1363.2,271.6 1364.1,272 1365.1,271.7 1366.1,272 1367.1,271.8 1368.1,272 1369.1,271.7 1370.1,272 1371,271.8 1372,272.1 1373,271.8 1374,272.1 1375,271.7 1376,272.1 1377,271.8 1377.9,272 1378.9,271.7 1379.9,272 1380.9,271.7 1381.9,272.2 1382.9,271.4 1383.8,272 1384.8,271.8 1385.8,272.1 1386.8,271.7 1387.8,272 1388.8,271.7 1389.8,272.1 1390.7,271.8 1391.7,272.1 1392.7,271.5 1393.7,272.1 1394.7,271.7 1395.7,272 1396.7,271.8 1397.6,272.1 1398.6,271.8 1399.6,272.1 1400.6,271.8 1401.6,272 1402.6,271.8 1403.6,272 1404.5,271.8 1405.5,272 1406.5,271.8 1407.5,272 1408.5,271.8 1409.5,272 1410.4,271.8 1411.4,272.1 1412.4,271.8 1413.4,272 1414.4,271.8 1415.4,272 1416.4,271.8 1417.3,272.1 1418.3,271.8 1419.3,272 1420.3,271.8 1421.3,272.1 1422.3,271.8 1423.3,272.1 1424.2,271.8 1425.2,272 1426.2,271.8 1427.2,272.1 1428.2,271.8 1429.2,272 1430.1,271.8 1431.1,272.1 1432.1,271.9 1433.1,272.1 1434.1,271.8 1435.1,272.1 1436.1,271.8 1437,272.1 1438,271.9 1439,272.2 1440,271.8 1441,272.2 1442,271.8 1443,272.3 1443.9,271.8 1444.9,272.2 1445.9,271.8 1446.9,272.2 1447.9,271.9 1448.9,272.1 1449.8,271.8 1450.8,272.2 1451.8,271.7 1452.8,272.2 1453.8,271.8 1454.8,272.3 1455.8,271.3 1456.7,272.8 1457.7,271.6 1458.7,272.4 1459.7,271.7 1460.7,272.4 1461.7,271.7 1462.7,272.5 1463.6,271.1 1464.6,272.6 1465.6,271.7 1466.6,272.5 1467.6,271.5 1468.6,272.8 1469.6,271.3 1470.5,272.4 1471.5,271.6 1472.5,272.4 1473.5,271.7 1474.5,272.3 1475.5,271.8 1476.4,272.5 1477.4,271.7 1478.4,272.5 1479.4,271.7 1480.4,272.6 1481.4,271.8 1482.4,272.4 1483.3,271.6 1484.3,272.5 1485.3,271.5 1486.3,272.4 1487.3,271.6 1488.3,273.3 1489.3,270.9 1490.2,272.5 1491.2,271.7 1492.2,272.4 1493.2,271.8 1494.2,272.3 1495.2,271.8 1496.1,272.4 1497.1,271.7 1498.1,272.3 1499.1,271.8 1500.1,272.3 1501.1,271.7 1502.1,272.4 1503,271.7 1504,272.3 1505,271.8 1506,272.4 1507,271.7 1508,272.4 1509,271.7 1509.9,272.4 1510.9,271.8 1511.9,272.8 1512.9,271.4 1513.9,272.4 1514.9,271.7 1515.8,272.4 1516.8,271.7 1517.8,272.4 1518.8,271.7 1519.8,272.4 1520.8,271.8 1521.8,272.4 1522.7,271.7 1523.7,272.4 1524.7,271.8 1525.7,272.4 1526.7,271.7 1527.7,272.3 1528.7,271.7 1529.6,272.4 1530.6,271.8 1531.6,272.5 1532.6,271.7 1533.6,272.3 1534.6,271.8 1535.6,272.3 1536.5,271.9 1537.5,272.3 1538.5,271.9 1539.5,272.3 1540.5,272 1541.5,272.3 1542.4,271.9 1543.4,272.4 1544.4,271.9 1545.4,272.4 1546.4,271.8 1547.4,272.4 1548.4,271.8 1549.3,272.3 1550.3,271.7 1551.3,272.4 1552.3,271.7 1553.3,272.2 1554.3,271.7 1555.3,272.4 1556.2,271.8 1557.2,272.9 1558.2,271.3 1559.2,272.4 1560.2,271.7 1561.2,272.4 1562.1,271.7 1563.1,272.4 1564.1,271.6 1565.1,272.4 1566.1,271.6 1567.1,272.3 1568.1,271.7 1569,272.2 1570,271.6 1571,272.3 1572,271.7 1573,272.3 1574,271.8 1575,272.3 1575.9,271.8 1576.9,272.3 1577.9,271.9 1578.9,272.4 1579.9,271.8 1580.9,272.3 1581.8,271.8 1582.8,272.4 1583.8,271.7 1584.8,272.6 1585.8,271.8 1586.8,272.3 1587.8,271.8 1588.7,272.3 1589.7,271.9 1590.7,272.4 1591.7,271.8 1592.7,272.3 1593.7,271.8 1594.7,272.4 1595.6,271.8 1596.6,272.3 1597.6,271.8 1598.6,272.3 1599.6,271.8 1600.6,272.4 1601.6,271.8 1602.5,272.3 1603.5,271.8 1604.5,272.3 1605.5,271.8 1606.5,272.3 1607.5,271.8 1608.4,272.4 1609.4,271.8 1610.4,272.3 1611.4,271.9 1612.4,272.4 1613.4,271.8 1614.4,272.3 1615.3,271.7 1616.3,272.5 1617.3,271.7 1618.3,272.7 1619.3,271.5 1620.3,272.4 1621.3,271.5 1622.2,272.5 1623.2,271.6 1624.2,272.4 1625.2,271.7 1626.2,272.5 1627.2,271.6 1628.1,272.4 1629.1,271.1 1630.1,272.6 1631.1,271.7 1632.1,272.5 1633.1,271.7 1634.1,272.8 1635,271.1 1636,272.5 1637,271.6 1638,272.5 1639,271.8 1640,272.4 1641,271.7 1641.9,272.4 1642.9,271.7 1643.9,272.5 1644.9,271.8 1645.9,272.4 1646.9,271.7 1647.8,272.4 1648.8,271.8 1649.8,272.4 1650.8,271.4 1651.8,272.6 1652.8,271.7 1653.8,272.4 1654.7,271.7 1655.7,272.4 1656.7,271.8 1657.7,272.4 1658.7,271.8 1659.7,272.3 1660.7,271.7 1661.6,272.4 1662.6,271.8 1663.6,272.4 1664.6,271.8 1665.6,272.6 1666.6,271.8 1667.6,272.4 1668.5,271.8 1669.5,272.4 1670.5,271.8 1671.5,272.4 1672.5,271.8 1673.5,272.4 1674.4,271.8 1675.4,272.4 1676.4,271.8 1677.4,272.3 1678.4,271.8 1679.4,272.3 1680.4,271.8 1681.3,272.2 1682.3,271.8 1683.3,272.3 1684.3,271.8 1685.3,272.3 1686.3,271.8 1687.3,272.3 1688.2,271.8 1689.2,272.3 1690.2,271.8 1691.2,272.3 1692.2,271.8 1693.2,272.3 1694.1,271.8 1695.1,272.2 1696.1,271.8 1697.1,272.4 1698.1,271.8 1699.1,272.4 1700.1,271.8 1701,272.3 1702,271.7 1703,272.4 1704,271.9 1705,272.4 1706,271.8 1707,272.4 1707.9,271.7 1708.9,272.4 1709.9,271.7 1710.9,272.3 1711.9,271.7 1712.9,272.4 1713.8,271.4 1714.8,272.4 1715.8,271.7 1716.8,272.3 1717.8,271.7 1718.8,272.4 1719.8,271.7 1720.7,272.5 1721.7,271.4 1722.7,272.3 1723.7,271.8 1724.7,272.3 1725.7,271.7 1726.7,272.3 1727.6,271.7 1728.6,272.2 1729.6,271.7 1730.6,272.1 1731.6,271.7 1732.6,272.2 1733.6,271.7 1734.5,272.2 1735.5,271.7 1736.5,272.2 1737.5,271.6 1738.5,272.3 1739.5,271.4 1740.4,272.2 1741.4,271.7 1742.4,272.2 1743.4,271.7 1744.4,272.1 1745.4,271.7 1746.4,272.2 1747.3,271.7 1748.3,272.2 1749.3,271.6 1750.3,272.4 1751.3,271.6 1752.3,272.2 1753.3,271.6 1754.2,272.3 1755.2,271.7 1756.2,272.2 1757.2,271.3 1758.2,272.4 1759.2,271.6 1760.1,272.2 1761.1,271.5 1762.1,272.1 1763.1,271.6 1764.1,272.2 1765.1,271.5 1766.1,272.2 1767,271.4 1768,272.1 1769,271.7 1770,272.1 1770,272.1" stroke="#00ff00"/>
<path d="M203,285 204.5,295 206,303.5 207.5,292 210,282 214,277.5 222,275.3 235,273.6 250,272.2 260,271.7 460.8,271.4 461.8,271.7 462.8,271.4 463.8,271.7 464.8,271.3 465.8,271.8 466.7,271.4 467.7,271.7 468.7,271.3 469.7,271.7 470.7,271.4 471.7,271.7 472.7,271.4 473.6,271.7 474.6,271.3 475.6,271.7 476.6,271.3 477.6,271.8 478.6,271.3 479.5,272.4 480.5,270.9 481.5,271.7 482.5,271.4 483.5,271.8 484.5,271.5 485.5,271.8 486.4,271.4 487.4,271.8 488.4,271.3 489.4,271.8 490.4,271.4 491.4,271.8 492.4,271.4 493.3,271.7 494.3,271.3 495.3,271.7 496.3,271.4 497.3,271.7 498.3,271.3 499.3,271.7 500.2,271.3 501.2,271.8 502.2,271.4 503.2,271.8 504.2,271.4 505.2,272.3 506.1,270.8 507.1,271.9 508.1,271.3 509.1,271.8 510.1,271.4 511.1,271.8 512.1,270.9 513,272.3 514,271.4 515,271.8 516,271.4 517,271.8 518,271.4 519,271.8 519.9,271.5 520.9,271.9 521.9,271.4 522.9,271.8 523.9,271.5 524.9,271.8 525.8,271.5 526.8,271.8 527.8,271.4 528.8,271.8 529.8,271.4 530.8,271.8 531.8,271.4 532.7,271.8 533.7,271.5 534.7,271.9 535.7,271.4 536.7,271.9 537.7,271.5 538.7,271.8 539.6,271.5 540.6,271.9 541.6,271.5 542.6,271.8 543.6,271.3 544.6,271.9 545.5,271.5 546.5,271.8 547.5,271.5 548.5,271.8 549.5,271.6 550.5,271.8 551.5,271.4 552.4,271.8 553.4,271.5 554.4,271.8 555.4,271.5 556.4,271.8 557.4,271.5 558.4,271.8 559.3,271.4 560.3,271.9 561.3,271.4 562.3,271.8 563.3,271.4 564.3,271.8 565.3,271.4 566.2,271.8 567.2,271.5 568.2,271.9 569.2,271.5 570.2,272 571.2,271.4 572.1,272 573.1,271.6 574.1,271.9 575.1,271.4 576.1,271.8 577.1,271.2 578.1,271.9 579,271.5 580,271.9 581,271.4 582,271.9 583,271.4 584,271.8 585,271.5 585.9,271.8 586.9,271.1 587.9,272.1 588.9,271.4 589.9,271.9 590.9,271.5 591.8,271.8 592.8,271.4 593.8,271.8 594.8,271.4 595.8,271.9 596.8,271.5 597.8,271.9 598.7,271 599.7,272 600.7,271.3 601.7,271.9 602.7,271.4 603.7,271.9 604.7,271.5 605.6,271.8 606.6,271.5 607.6,272.2 608.6,271.5 609.6,271.9 610.6,271.5 611.5,272 612.5,271.5 613.5,272 614.5,271.5 615.5,272 616.5,271.6 617.5,271.9 618.4,271.5 619.4,271.9 620.4,271.4 621.4,271.8 622.4,271.4 623.4,272 624.4,271.3 625.3,271.9 626.3,271.4 627.3,272.3 628.3,271.4 629.3,271.9 630.3,271.3 631.3,272 632.2,271.4 633.2,272.4 634.2,271.3 635.2,271.9 636.2,271.3 637.2,271.8 638.1,271.3 639.1,271.9 640.1,271.1 641.1,272.2 642.1,271.4 643.1,271.8 644.1,271.5 645,271.8 646,271.4 647,271.8 648,271.5 649,271.8 650,271.5 651,271.8 651.9,271.5 652.9,271.8 653.9,271.5 654.9,271.8 655.9,271.4 656.9,271.8 657.8,271.5 658.8,271.8 659.8,271.5 660.8,271.8 661.8,271.5 662.8,271.8 663.8,271.5 664.7,271.9 665.7,271.4 666.7,271.8 667.7,271.5 668.7,271.8 669.7,271.5 670.7,271.8 671.6,271.4 672.6,271.8 673.6,271.4 674.6,271.8 675.6,271.4 676.6,271.8 677.5,271.4 678.5,271.8 679.5,271.4 680.5,272 681.5,271.4 682.5,271.9 683.5,271.4 684.4,271.8 685.4,271.4 686.4,271.9 687.4,271.5 688.4,271.9 689.4,271.5 690.4,272.1 691.3,271.5 692.3,271.9 693.3,271.5 694.3,271.8 695.3,271.5 696.3,271.8 697.3,271.6 698.2,271.8 699.2,271.5 700.2,271.9 701.2,271.6 702.2,271.8 703.2,271.5 704.1,271.9 705.1,271.5 706.1,272.2 707.1,271.1 708.1,272 709.1,271.5 710.1,271.8 711,271.4 712,271.9 713,271.5 714,271.9 715,271.5 716,271.8 717,271.5 717.9,271.9 718.9,271.5 719.9,271.8 720.9,271.5 721.9,271.9 722.9,271.5 723.8,271.9 724.8,271.4 725.8,272 726.8,271.5 727.8,271.9 728.8,271.5 729.8,272 730.7,271.2 731.7,272 732.7,271.5 733.7,272 734.7,271.5 735.7,272 736.7,271.6 737.6,271.9 738.6,271.6 739.6,271.9 740.6,271.5 741.6,271.9 742.6,271.5 743.5,272.1 744.5,271.5 745.5,272 746.5,271.6 747.5,271.9 748.5,271.6 749.5,271.9 750.4,271.6 751.4,271.9 752.4,271.5 753.4,271.9 754.4,271.5 755.4,271.8 756.4,271.5 757.3,271.8 758.3,271.5 759.3,271.9 760.3,271.5 761.3,271.9 762.3,271.6 763.3,271.9 764.2,271.6 765.2,272 766.2,271.6 767.2,271.9 768.2,271.5 769.2,271.9 770.1,271.6 771.1,271.9 772.1,271.6 773.1,271.9 774.1,271.6 775.1,271.8 776.1,271.6 777,271.8 778,271.6 779,271.9 780,271.6 781,271.8 782,271.6 783,271.9 783.9,271.5 784.9,271.9 785.9,271.6 786.9,271.9 787.9,271.6 788.9,271.9 789.8,271.6 790.8,271.9 791.8,271.6 792.8,271.8 793.8,271.6 794.8,271.9 795.8,271.6 796.7,271.8 797.7,271.6 798.7,271.8 799.7,271.5 800.7,271.8 801.7,271.6 802.7,271.8 803.6,271.6 804.6,271.9 805.6,271.6 806.6,271.8 807.6,271.6 808.6,271.8 809.5,271.6 810.5,271.8 811.5,271.5 812.5,271.8 813.5,271.5 814.5,271.8 815.5,271.6 816.4,271.8 817.4,271.6 818.4,271.8 819.4,271.6 820.4,271.8 821.4,271.6 822.4,271.8 823.3,271.6 824.3,271.8 825.3,271.7 826.3,271.8 827.3,271.6 828.3,271.9 829.3,271.6 830.2,271.9 831.2,271.7 832.2,271.9 833.2,271.6 834.2,272 835.2,271.6 836.1,271.9 837.1,271.5 838.1,271.8 839.1,271.5 840.1,271.9 841.1,271.5 842.1,271.9 843,271.6 844,271.9 845,271.6 846,271.9 847,271.5 848,271.8 849,271.5 849.9,271.7 850.9,271.5 851.9,271.8 852.9,271.4 853.9,271.8 854.9,271.4 855.8,271.8 856.8,271.3 857.8,271.8 858.8,271.4 859.8,271.9 860.8,271.4 861.8,271.9 862.7,271.4 863.7,272 864.7,271.4 865.7,271.9 866.7,271.4 867.7,271.8 868.7,271.3 869.6,271.9 870.6,271.3 871.6,271.9 872.6,271.4 873.6,271.9 874.6,271.4 875.5,271.8 876.5,271.4 877.5,271.9 878.5,271.4 879.5,272 880.5,271.4 881.5,272 882.4,271.3 883.4,272 884.4,271.4 885.4,272 886.4,271.3 887.4,272.1 888.4,270.9 889.3,271.9 890.3,271.4 891.3,272 892.3,271.4 893.3,272 894.3,271.3 895.3,271.9 896.2,271.4 897.2,272 898.2,271.3 899.2,272.1 900.2,270.9 901.2,272 902.1,271.2 903.1,272.1 904.1,271.2 905.1,272 906.1,271.2 907.1,272 908.1,271.3 909,272 910,271.4 911,271.9 912,271.2 913,272 914,271.3 915,272.1 915.9,271.3 916.9,272.1 917.9,271.1 918.9,272 919.9,271.3 920.9,272.1 921.8,271.2 922.8,272 923.8,271.2 924.8,272 925.8,271.2 926.8,272.1 927.8,271.3 928.7,272 929.7,271.2 930.7,272 931.7,271.4 932.7,272.2 933.7,271.3 934.7,271.9 935.6,271.3 936.6,272 937.6,271.4 938.6,271.9 939.6,271.3 940.6,271.9 941.5,271.4 942.5,271.9 943.5,271.4 944.5,272 945.5,271.4 946.5,272.1 947.5,271.5 948.4,272 949.4,271.4 950.4,272 951.4,271.4 952.4,272 953.4,271.5 954.4,271.9 955.3,271.2 956.3,272.2 957.3,271.4 958.3,272 959.3,271.5 960.3,272 961.3,271.5 962.2,272 963.2,271.4 964.2,272 965.2,271.4 966.2,271.9 967.2,271.5 968.1,271.9 969.1,271.4 970.1,272 971.1,271.5 972.1,272 973.1,271.4 974.1,271.9 975,271.5 976,271.9 977,271.4 978,272 979,271.4 980,272 981,271.4 981.9,272 982.9,271.4 983.9,271.9 984.9,271.5 985.9,272 986.9,271.4 987.8,271.9 988.8,271.5 989.8,271.9 990.8,271.5 991.8,272 992.8,271.5 993.8,272 994.7,271.5 995.7,272 996.7,271.5 997.7,272 998.7,271.5 999.7,272 1000.7,271.5 1001.6,272 1002.6,271.5 1003.6,272 1004.6,271.5 1005.6,272 1006.6,271.5 1007.5,271.9 1008.5,271.5 1009.5,272 1010.5,271.6 1011.5,272.1 1012.5,271.5 1013.5,272 1014.4,271.5 1015.4,272 1016.4,271.5 1017.4,272.1 1018.4,271.5 1019.4,272.1 1020.4,271.6 1021.3,272 1022.3,271.5 1023.3,272 1024.3,271.5 1025.3,272.1 1026.3,271.5 1027.3,272 1028.2,271.6 1029.2,272.1 1030.2,271.5 1031.2,272.1 1032.2,271.6 1033.2,272 1034.1,271.5 1035.1,272.1 1036.1,271.6 1037.1,272.1 1038.1,271.6 1039.1,272.1 1040.1,271.5 1041,272.1 1042,271.6 1043,272.2 1044,271 1045,272.2 1046,271.6 1047,272.1 1047.9,271.6 1048.9,272.3 1049.9,271.2 1050.9,272.1 1051.9,271.6 1052.9,272.1 1053.8,271.6 1054.8,272.1 1055.8,271.6 1056.8,272.2 1057.8,271.6 1058.8,272.2 1059.8,271.6 1060.7,272.1 1061.7,271.6 1062.7,272.1 1063.7,271.6 1064.7,272 1065.7,271.6 1066.7,272 1067.6,271.6 1068.6,272 1069.6,271.6 1070.6,271.9 1071.6,271.6 1072.6,271.9 1073.5,271.5 1074.5,271.9 1075.5,271.5 1076.5,271.9 1077.5,271.3 1078.5,271.9 1079.5,271.5 1080.4,271.9 1081.4,271.5 1082.4,271.8 1083.4,271.5 1084.4,271.9 1085.4,271.5 1086.4,271.9 1087.3,271.5 1088.3,271.9 1089.3,271.5 1090.3,271.9 1091.3,271.4 1092.3,271.9 1093.3,271.5 1094.2,272.2 1095.2,271.5 1096.2,271.9 1097.2,271.4 1098.2,271.9 1099.2,271.5 1100.1,272 1101.1,271.5 1102.1,271.9 1103.1,271.5 1104.1,271.9 1105.1,271.5 1106.1,271.9 1107,271.5 1108,271.9 1109,271.5 1110,271.9 1111,271.6 1112,271.9 1113,271.5 1113.9,271.9 1114.9,271.5 1115.9,271.9 1116.9,271.5 1117.9,271.8 1118.9,271.5 1119.8,271.8 1120.8,271.5 1121.8,271.8 1122.8,271.5 1123.8,271.8 1124.8,271.5 1125.8,271.8 1126.7,271.5 1127.7,271.8 1128.7,271.5 1129.7,271.9 1130.7,271.5 1131.7,271.8 1132.7,271.5 1133.6,271.9 1134.6,271.5 1135.6,271.8 1136.6,271.3 1137.6,271.8 1138.6,271.5 1139.5,271.9 1140.5,271.5 1141.5,271.8 1142.5,271.5 1143.5,271.9 1144.5,271.5 1145.5,271.9 1146.4,271.5 1147.4,271.9 1148.4,271.5 1149.4,271.9 1150.4,271.5 1151.4,271.9 1152.4,271.5 1153.3,272 1154.3,271.5 1155.3,272 1156.3,271.5 1157.3,272 1158.3,271.4 1159.3,272 1160.2,271.5 1161.2,272 1162.2,271.4 1163.2,272 1164.2,271.5 1165.2,272.1 1166.1,271.5 1167.1,271.9 1168.1,271.5 1169.1,271.8 1170.1,271.4 1171.1,271.9 1172.1,271.5 1173,271.8 1174,271.4 1175,271.9 1176,271.4 1177,272.1 1178,271.2 1179,272 1179.9,271.4 1180.9,272 1181.9,271.4 1182.9,272 1183.9,271.4 1184.9,271.9 1185.8,271.3 1186.8,272 1187.8,271.4 1188.8,271.9 1189.8,271.4 1190.8,271.9 1191.8,271.6 1192.7,272 1193.7,271.5 1194.7,272 1195.7,271.4 1196.7,271.9 1197.7,271 1198.7,272 1199.6,271.4 1200.6,272 1201.6,271.3 1202.6,271.8 1203.6,271.3 1204.6,271.8 1205.5,271.3 1206.5,271.9 1207.5,271.4 1208.5,271.9 1209.5,271.4 1210.5,272 1211.5,271.4 1212.4,272 1213.4,271.3 1214.4,271.9 1215.4,271.2 1216.4,272 1217.4,271.3 1218.4,272.2 1219.3,271.2 1220.3,272.1 1221.3,271.3 1222.3,272 1223.3,271.3 1224.3,272.2 1225.3,271.1 1226.2,271.8 1227.2,271.4 1228.2,271.7 1229.2,271.4 1230.2,271.9 1231.2,271.3 1232.1,271.9 1233.1,271.3 1234.1,272 1235.1,271.1 1236.1,272 1237.1,271.2 1238.1,272.1 1239,271.3 1240,272.1 1241,271.2 1242,271.9 1243,271.4 1244,271.9 1245,271.4 1245.9,272 1246.9,271.3 1247.9,271.9 1248.9,271.3 1249.9,271.9 1250.9,271.3 1251.8,272 1252.8,271.3 1253.8,272 1254.8,271.3 1255.8,272.1 1256.8,271.1 1257.8,272 1258.7,271.3 1259.7,271.9 1260.7,271.4 1261.7,272.2 1262.7,271 1263.7,271.8 1264.7,271.3 1265.6,271.8 1266.6,271.4 1267.6,271.7 1268.6,271.4 1269.6,271.7 1270.6,271.4 1271.5,271.7 1272.5,271.4 1273.5,271.8 1274.5,271.4 1275.5,271.7 1276.5,271.4 1277.5,271.7 1278.4,271.4 1279.4,271.7 1280.4,271.4 1281.4,271.7 1282.4,271.4 1283.4,271.7 1284.4,271.4 1285.3,271.7 1286.3,271.4 1287.3,271.7 1288.3,271.3 1289.3,271.7 1290.3,271.3 1291.3,271.7 1292.2,271.3 1293.2,271.7 1294.2,271.3 1295.2,271.6 1296.2,271.3 1297.2,271.6 1298.1,271.3 1299.1,271.8 1300.1,271.2 1301.1,271.8 1302.1,271.1 1303.1,271.9 1304.1,271.3 1305,271.9 1306,271.3 1307,271.9 1308,271.4 1309,271.9 1310,271.2 1311,271.9 1311.9,271.2 1312.9,271.8 1313.9,271.3 1314.9,271.9 1315.9,271.2 1316.9,271.9 1317.8,271.2 1318.8,271.8 1319.8,271.3 1320.8,271.8 1321.8,271.2 1322.8,271.9 1323.8,271.2 1324.7,271.8 1325.7,271.1 1326.7,272.2 1327.7,271.3 1328.7,271.9 1329.7,271.2 1330.7,271.8 1331.6,271.1 1332.6,271.9 1333.6,271.3 1334.6,271.8 1335.6,271.3 1336.6,271.8 1337.5,271.2 1338.5,271.8 1339.5,271.3 1340.5,271.8 1341.5,271.3 1342.5,271.8 1343.5,271.2 1344.4,271.9 1345.4,271.3 1346.4,271.9 1347.4,271.3 1348.4,272.3 1349.4,271.2 1350.4,271.8 1351.3,271.3 1352.3,271.8 1353.3,271.4 1354.3,271.7 1355.3,271.3 1356.3,271.8 1357.3,271.3 1358.2,271.8 1359.2,271.3 1360.2,271.7 1361.2,271.4 1362.2,271.7 1363.2,271.3 1364.1,271.7 1365.1,271.4 1366.1,271.7 1367.1,271.5 1368.1,271.7 1369.1,271.4 1370.1,271.8 1371,271.5 1372,271.8 1373,271.5 1374,271.8 1375,271.5 1376,271.8 1377,271.5 1377.9,271.7 1378.9,271.4 1379.9,271.8 1380.9,271.4 1381.9,271.9 1382.9,271.1 1383.8,271.8 1384.8,271.5 1385.8,271.8 1386.8,271.4 1387.8,271.7 1388.8,271.5 1389.8,271.8 1390.7,271.5 1391.7,271.8 1392.7,271.3 1393.7,271.8 1394.7,271.5 1395.7,271.7 1396.7,271.5 1397.6,271.8 1398.6,271.5 1399.6,271.8 1400.6,271.5 1401.6,271.7 1402.6,271.5 1403.6,271.7 1404.5,271.5 1405.5,271.8 1406.5,271.5 1407.5,271.7 1408.5,271.5 1409.5,271.7 1410.4,271.5 1411.4,271.8 1412.4,271.5 1413.4,271.7 1414.4,271.5 1415.4,271.7 1416.4,271.5 1417.3,271.8 1418.3,271.5 1419.3,271.8 1420.3,271.5 1421.3,271.8 1422.3,271.5 1423.3,271.8 1424.2,271.5 1425.2,271.8 1426.2,271.5 1427.2,271.8 1428.2,271.6 1429.2,271.7 1430.1,271.5 1431.1,271.8 1432.1,271.6 1433.1,271.8 1434.1,271.6 1435.1,271.8 1436.1,271.6 1437,271.8 1438,271.6 1439,271.9 1440,271.5 1441,271.9 1442,271.5 1443,272 1443.9,271.5 1444.9,271.9 1445.9,271.5 1446.9,271.9 1447.9,271.6 1448.9,271.8 1449.8,271.5 1450.8,271.9 1451.8,271.5 1452.8,271.9 1453.8,271.5 1454.8,272 1455.8,271 1456.7,272.6 1457.7,271.4 1458.7,272.1 1459.7,271.4 1460.7,272.1 1461.7,271.4 1462.7,272.3 1463.6,270.8 1464.6,272.3 1465.6,271.4 1466.6,272.2 1467.6,271.2 1468.6,272.5 1469.6,271 1470.5,272.1 1471.5,271.3 1472.5,272.1 1473.5,271.4 1474.5,272 1475.5,271.5 1476.4,272.2 1477.4,271.4 1478.4,272.2 1479.4,271.4 1480.4,272.3 1481.4,271.5 1482.4,272.1 1483.3,271.4 1484.3,272.2 1485.3,271.2 1486.3,272.1 1487.3,271.3 1488.3,273 1489.3,270.6 1490.2,272.2 1491.2,271.4 1492.2,272.1 1493.2,271.5 1494.2,272 1495.2,271.5 1496.1,272.2 1497.1,271.4 1498.1,272 1499.1,271.5 1500.1,272.1 1501.1,271.4 1502.1,272.1 1503,271.4 1504,272 1505,271.5 1506,272.1 1507,271.5 1508,272.1 1509,271.4 1509.9,272.1 1510.9,271.5 1511.9,272.5 1512.9,271.2 1513.9,272.2 1514.9,271.4 1515.8,272.1 1516.8,271.5 1517.8,272.1 1518.8,271.4 1519.8,272.2 1520.8,271.5 1521.8,272.1 1522.7,271.4 1523.7,272.1 1524.7,271.5 1525.7,272.1 1526.7,271.4 1527.7,272 1528.7,271.5 1529.6,272.1 1530.6,271.5 1531.6,272.3 1532.6,271.5 1533.6,272 1534.6,271.5 1535.6,272.1 1536.5,271.6 1537.5,272 1538.5,271.6 1539.5,272 1540.5,271.7 1541.5,272 1542.4,271.6 1543.4,272.1 1544.4,271.6 1545.4,272.1 1546.4,271.5 1547.4,272.1 1548.4,271.5 1549.3,272 1550.3,271.4 1551.3,272.1 1552.3,271.4 1553.3,272 1554.3,271.4 1555.3,272.1 1556.2,271.5 1557.2,272.6 1558.2,271 1559.2,272.1 1560.2,271.4 1561.2,272.1 1562.1,271.4 1563.1,272.2 1564.1,271.3 1565.1,272.1 1566.1,271.3 1567.1,272 1568.1,271.4 1569,272 1570,271.4 1571,272 1572,271.4 1573,272 1574,271.5 1575,272.1 1575.9,271.5 1576.9,272.1 1577.9,271.6 1578.9,272.1 1579.9,271.5 1580.9,272.1 1581.8,271.5 1582.8,272.1 1583.8,271.4 1584.8,272.3 1585.8,271.5 1586.8,272 1587.8,271.5 1588.7,272 1589.7,271.6 1590.7,272.1 1591.7,271.5 1592.7,272 1593.7,271.5 1594.7,272.1 1595.6,271.5 1596.6,272 1597.6,271.5 1598.6,272 1599.6,271.5 1600.6,272.1 1601.6,271.5 1602.5,272.1 1603.5,271.6 1604.5,272 1605.5,271.5 1606.5,272 1607.5,271.5 1608.4,272.1 1609.4,271.5 1610.4,272 1611.4,271.6 1612.4,272.1 1613.4,271.5 1614.4,272.1 1615.3,271.4 1616.3,272.2 1617.3,271.4 1618.3,272.4 1619.3,271.3 1620.3,272.2 1621.3,271.2 1622.2,272.3 1623.2,271.4 1624.2,272.1 1625.2,271.4 1626.2,272.2 1627.2,271.3 1628.1,272.1 1629.1,270.8 1630.1,272.4 1631.1,271.4 1632.1,272.3 1633.1,271.4 1634.1,272.5 1635,270.8 1636,272.3 1637,271.3 1638,272.2 1639,271.5 1640,272.1 1641,271.4 1641.9,272.1 1642.9,271.5 1643.9,272.2 1644.9,271.5 1645.9,272.1 1646.9,271.4 1647.8,272.1 1648.8,271.6 1649.8,272.2 1650.8,271.1 1651.8,272.3 1652.8,271.5 1653.8,272.1 1654.7,271.5 1655.7,272.1 1656.7,271.5 1657.7,272.1 1658.7,271.5 1659.7,272.1 1660.7,271.5 1661.6,272.1 1662.6,271.5 1663.6,272.2 1664.6,271.5 1665.6,272.3 1666.6,271.5 1667.6,272.1 1668.5,271.5 1669.5,272.1 1670.5,271.5 1671.5,272.1 1672.5,271.6 1673.5,272.1 1674.4,271.5 1675.4,272.1 1676.4,271.5 1677.4,272 1678.4,271.5 1679.4,272 1680.4,271.6 1681.3,272 1682.3,271.5 1683.3,272 1684.3,271.6 1685.3,272 1686.3,271.5 1687.3,272 1688.2,271.5 1689.2,272 1690.2,271.6 1691.2,272 1692.2,271.5 1693.2,272.1 1694.1,271.6 1695.1,272 1696.1,271.6 1697.1,272.1 1698.1,271.5 1699.1,272.1 1700.1,271.5 1701,272.1 1702,271.5 1703,272.1 1704,271.6 1705,272.1 1706,271.5 1707,272.1 1707.9,271.4 1708.9,272.1 1709.9,271.4 1710.9,272.1 1711.9,271.4 1712.9,272.2 1713.8,271.2 1714.8,272.1 1715.8,271.4 1716.8,272 1717.8,271.5 1718.8,272.1 1719.8,271.4 1720.7,272.2 1721.7,271.2 1722.7,272 1723.7,271.5 1724.7,272 1725.7,271.4 1726.7,272 1727.6,271.4 1728.6,271.9 1729.6,271.4 1730.6,271.9 1731.6,271.4 1732.6,271.9 1733.6,271.4 1734.5,272 1735.5,271.4 1736.5,272 1737.5,271.3 1738.5,272.1 1739.5,271.1 1740.4,272 1741.4,271.4 1742.4,271.9 1743.4,271.4 1744.4,271.9 1745.4,271.4 1746.4,271.9 1747.3,271.4 1748.3,272 1749.3,271.3 1750.3,272.2 1751.3,271.3 1752.3,271.9 1753.3,271.3 1754.2,272 1755.2,271.4 1756.2,271.9 1757.2,271 1758.2,272.1 1759.2,271.3 1760.1,271.9 1761.1,271.3 1762.1,271.8 1763.1,271.4 1764.1,271.9 1765.1,271.3 1766.1,272" stroke="#0000ff"/>
<path d="M202,275 202,370 205,386 205.4,1000 206.5,1384.4 208.8,1130 210,1060 212.2,900 213.7,750 215,720 216.5,640 218.8,595 220.5,552 222,530.5 224.8,509 227,487.5 230,466 233.4,444.5 238.1,423 243.5,401.5 247,390 251.1,380 256.5,368.8 262.4,358.5 269.5,347.3 279.8,335.5 294.6,325.1 305.5,318.6 316.4,313.6 327.3,309.5 349.1,303.3 370.9,298.6 392.8,295.3 414.6,292.6 440,289.6 460.8,287.9 461.8,288 462.8,287.6 463.8,287.8 464.8,287.3 465.8,287.7 466.7,287.2 467.7,287.4 468.7,286.9 469.7,287.2 470.7,286.8 471.7,287 472.7,286.6 473.6,286.8 474.6,286.3 475.6,286.6 476.6,286.1 477.6,286.5 478.6,285.8 479.5,286.8 480.5,285.3 481.5,286 482.5,285.6 483.5,285.9 484.5,285.5 485.5,285.8 486.4,285.3 487.4,285.7 488.4,285.1 489.4,285.5 490.4,285 491.4,285.5 492.4,285 493.3,285.2 494.3,284.8 495.3,285.1 496.3,284.7 497.3,285 498.3,284.6 499.3,285 500.2,284.5 501.2,285 502.2,284.5 503.2,284.9 504.2,284.4 505.2,285.2 506.1,283.7 507.1,284.8 508.1,284.1 509.1,284.6 510.1,284.2 511.1,284.5 512.1,283.6 513,284.9 514,284 515,284.3 516,283.9 517,284.2 518,283.8 519,284.1 519.9,283.7 520.9,284.1 521.9,283.6 522.9,283.9 523.9,283.6 524.9,283.8 525.8,283.5 526.8,283.7 527.8,283.4 528.8,283.7 529.8,283.3 530.8,283.6 531.8,283.3 532.7,283.5 533.7,283.3 534.7,283.5 535.7,283.1 536.7,283.4 537.7,283.1 538.7,283.3 539.6,283.1 540.6,283.3 541.6,283 542.6,283.2 543.6,282.9 544.6,283.2 545.5,282.9 546.5,283.1 547.5,282.9 548.5,283 549.5,282.9 550.5,283 551.5,282.8 552.4,282.9 553.4,282.7 554.4,282.9 555.4,282.7 556.4,282.8 557.4,282.6 558.4,282.8 559.3,282.5 560.3,282.8 561.3,282.5 562.3,282.7 563.3,282.4 564.3,282.6 565.3,282.4 566.2,282.6 567.2,282.4 568.2,282.6 569.2,282.3 570.2,282.6 571.2,282.2 572.1,282.5 573.1,282.3 574.1,282.4 575.1,282.2 576.1,282.4 577.1,282 578.1,282.4 579,282.2 580,282.3 581,282.1 582,282.3 583,282 584,282.2 585,282 585.9,282.2 586.9,281.9 587.9,282.3 588.9,281.9 589.9,282.2 590.9,281.9 591.8,282.1 592.8,281.9 593.8,282.1 594.8,281.8 595.8,282.1 596.8,281.8 597.8,282.1 598.7,281.6 599.7,282.1 600.7,281.7 601.7,282 602.7,281.8 603.7,282 604.7,281.8 605.6,281.9 606.6,281.8 607.6,282.1 608.6,281.7 609.6,281.9 610.6,281.7 611.5,281.9 612.5,281.7 613.5,281.9 614.5,281.6 615.5,281.8 616.5,281.7 617.5,281.8 618.4,281.6 619.4,281.8 620.4,281.6 621.4,281.8 622.4,281.6 623.4,281.8 624.4,281.5 625.3,281.8 626.3,281.5 627.3,281.9 628.3,281.5 629.3,281.8 630.3,281.5 631.3,281.8 632.2,281.5 633.2,281.9 634.2,281.4 635.2,281.7 636.2,281.4 637.2,281.6 638.1,281.3 639.1,281.7 640.1,281.3 641.1,281.8 642.1,281.4 643.1,281.5 644.1,281.4 645,281.5 646,281.3 647,281.5 648,281.3 649,281.5 650,281.3 651,281.4 651.9,281.3 652.9,281.4 653.9,281.2 654.9,281.4 655.9,281.2 656.9,281.3 657.8,281.2 658.8,281.3 659.8,281.2 660.8,281.3 661.8,281.1 662.8,281.3 663.8,281.1 664.7,281.3 665.7,281.1 666.7,281.2 667.7,281.1 668.7,281.2 669.7,281.1 670.7,281.2 671.6,281 672.6,281.2 673.6,281 674.6,281.2 675.6,281 676.6,281.2 677.5,281 678.5,281.1 679.5,280.9 680.5,281.2 681.5,280.9 682.5,281.1 683.5,280.9 684.4,281.1 685.4,280.8 686.4,281 687.4,280.8 688.4,281 689.4,280.8 690.4,281.1 691.3,280.8 692.3,281 693.3,280.8 694.3,280.9 695.3,280.7 696.3,280.9 697.3,280.7 698.2,280.8 699.2,280.7 700.2,280.8 701.2,280.7 702.2,280.8 703.2,280.6 704.1,280.8 705.1,280.5 706.1,280.9 707.1,280.4 708.1,280.7 709.1,280.5 710.1,280.6 711,280.4 712,280.6 713,280.4 714,280.6 715,280.4 716,280.5 717,280.4 717.9,280.5 718.9,280.4 719.9,280.5 720.9,280.3 721.9,280.5 722.9,280.2 723.8,280.4 724.8,280.2 725.8,280.4 726.8,280.2 727.8,280.3 728.8,280.2 729.8,280.3 730.7,280 731.7,280.3 732.7,280 733.7,280.3 734.7,280 735.7,280.2 736.7,280 737.6,280.2 738.6,280 739.6,280.2 740.6,279.9 741.6,280.1 742.6,279.9 743.5,280.1 744.5,279.9 745.5,280.1 746.5,279.9 747.5,280 748.5,279.8 749.5,280 750.4,279.8 751.4,279.9 752.4,279.8 753.4,279.9 754.4,279.7 755.4,279.9 756.4,279.7 757.3,279.8 758.3,279.7 759.3,279.8 760.3,279.6 761.3,279.8 762.3,279.6 763.3,279.7 764.2,279.6 765.2,279.7 766.2,279.5 767.2,279.6 768.2,279.4 769.2,279.6 770.1,279.4 771.1,279.6 772.1,279.4 773.1,279.5 774.1,279.4 775.1,279.5 776.1,279.3 777,279.4 778,279.3 779,279.4 780,279.2 781,279.3 782,279.2 783,279.3 783.9,279.1 784.9,279.2 785.9,279.1 786.9,279.2 787.9,279 788.9,279.1 789.8,279 790.8,279.1 791.8,279 792.8,279 793.8,278.9 794.8,279 795.8,278.9 796.7,278.9 797.7,278.8 798.7,278.9 799.7,278.8 800.7,278.9 801.7,278.7 802.7,278.8 803.6,278.7 804.6,278.8 805.6,278.6 806.6,278.7 807.6,278.6 808.6,278.6 809.5,278.5 810.5,278.6 811.5,278.4 812.5,278.5 813.5,278.4 814.5,278.5 815.5,278.4 816.4,278.4 817.4,278.3 818.4,278.4 819.4,278.2 820.4,278.3 821.4,278.2 822.4,278.2 823.3,278.1 824.3,278.2 825.3,278 826.3,278.1 827.3,278 828.3,278.1 829.3,277.9 830.2,278 831.2,277.8 832.2,277.9 833.2,277.8 834.2,277.9 835.2,277.7 836.1,277.8 837.1,277.6 838.1,277.7 839.1,277.5 840.1,277.7 841.1,277.5 842.1,277.6 843,277.4 844,277.5 845,277.3 846,277.4 847,277.2 848,277.3 849,277.1 849.9,277.2 850.9,277.1 851.9,277.2 852.9,277 853.9,277.1 854.9,276.9 855.8,277 856.8,276.8 857.8,277 858.8,276.7 859.8,276.9 860.8,276.6 861.8,276.8 862.7,276.5 863.7,276.7 864.7,276.4 865.7,276.6 866.7,276.3 867.7,276.4 868.7,276.1 869.6,276.4 870.6,276.1 871.6,276.3 872.6,276 873.6,276.2 874.6,275.9 875.5,276 876.5,275.7 877.5,275.9 878.5,275.7 879.5,275.9 880.5,275.5 881.5,275.7 882.4,275.3 883.4,275.6 884.4,275.2 885.4,275.5 886.4,275.1 887.4,275.4 888.4,274.8 889.3,275.2 890.3,274.8 891.3,275.1 892.3,274.7 893.3,274.9 894.3,274.5 895.3,274.7 896.2,274.3 897.2,274.5 898.2,274.1 899.2,274.4 900.2,273.8 901.2,274.2 902.1,273.8 903.1,274.1 904.1,273.6 905.1,273.8 906.1,273.4 907.1,273.6 908.1,273.2 909,273.4 910,273 911,273.1 912,272.7 913,272.9 914,272.5 915,272.7 915.9,272.3 916.9,272.5 917.9,272 918.9,272.3 919.9,271.8 920.9,272 921.8,271.5 922.8,271.8 923.8,271.3 924.8,271.5 925.8,271 926.8,271.3 927.8,270.8 928.7,271 929.7,270.6 930.7,270.8 931.7,270.4 932.7,270.7 933.7,270.2 934.7,270.4 935.6,270 936.6,270.2 937.6,269.9 938.6,270 939.6,269.6 940.6,269.8 941.5,269.5 942.5,269.6 943.5,269.4 944.5,269.5 945.5,269.2 946.5,269.5 947.5,269.1 948.4,269.3 949.4,269 950.4,269.3 951.4,269 952.4,269.3 953.4,269 954.4,269.2 955.3,268.9 956.3,269.3 957.3,269 958.3,269.2 959.3,268.9 960.3,269.2 961.3,269 962.2,269.3 963.2,269 964.2,269.3 965.2,269 966.2,269.3 967.2,269.1 968.1,269.3 969.1,269.1 970.1,269.4 971.1,269.2 972.1,269.5 973.1,269.2 974.1,269.5 975,269.3 976,269.6 977,269.3 978,269.6 979,269.3 980,269.7 981,269.4 981.9,269.7 982.9,269.4 983.9,269.8 984.9,269.5 985.9,269.8 986.9,269.5 987.8,269.9 988.8,269.6 989.8,269.9 990.8,269.6 991.8,270 992.8,269.7 993.8,270.1 994.7,269.7 995.7,270.1 996.7,269.8 997.7,270.2 998.7,269.9 999.7,270.2 1000.7,269.9 1001.6,270.3 1002.6,270 1003.6,270.3 1004.6,270 1005.6,270.4 1006.6,270.1 1007.5,270.4 1008.5,270 1009.5,270.4 1010.5,270.1 1011.5,270.5 1012.5,270.1 1013.5,270.5 1014.4,270.1 1015.4,270.5 1016.4,270.2 1017.4,270.6 1018.4,270.2 1019.4,270.6 1020.4,270.3 1021.3,270.6 1022.3,270.3 1023.3,270.6 1024.3,270.3 1025.3,270.7 1026.3,270.3 1027.3,270.6 1028.2,270.4 1029.2,270.7 1030.2,270.3 1031.2,270.7 1032.2,270.4 1033.2,270.7 1034.1,270.4 1035.1,270.8 1036.1,270.4 1037.1,270.8 1038.1,270.4 1039.1,270.8 1040.1,270.4 1041,270.9 1042,270.5 1043,271 1044,270 1045,271 1046,270.5 1047,270.9 1047.9,270.5 1048.9,271.1 1049.9,270.2 1050.9,270.9 1051.9,270.6 1052.9,271 1053.8,270.6 1054.8,271 1055.8,270.6 1056.8,271.1 1057.8,270.6 1058.8,271.1 1059.8,270.6 1060.7,271.1 1061.7,270.6 1062.7,271.1 1063.7,270.7 1064.7,271.1 1065.7,270.6 1066.7,271.1 1067.6,270.7 1068.6,271.1 1069.6,270.7 1070.6,271 1071.6,270.8 1072.6,271.1 1073.5,270.7 1074.5,271.1 1075.5,270.8 1076.5,271.1 1077.5,270.5 1078.5,271.1 1079.5,270.8 1080.4,271.1 1081.4,270.8 1082.4,271.1 1083.4,270.8 1084.4,271.2 1085.4,270.8 1086.4,271.2 1087.3,270.8 1088.3,271.2 1089.3,270.8 1090.3,271.3 1091.3,270.8 1092.3,271.2 1093.3,270.8 1094.2,271.5 1095.2,270.9 1096.2,271.3 1097.2,270.8 1098.2,271.3 1099.2,270.9 1100.1,271.3 1101.1,270.9 1102.1,271.3 1103.1,270.9 1104.1,271.3 1105.1,270.9 1106.1,271.3 1107,270.9 1108,271.3 1109,270.8 1110,271.3 1111,270.9 1112,271.3 1113,270.9 1113.9,271.3 1114.9,270.9 1115.9,271.3 1116.9,270.9 1117.9,271.2 1118.9,270.9 1119.8,271.2 1120.8,270.9 1121.8,271.2 1122.8,270.9 1123.8,271.2 1124.8,270.9 1125.8,271.2 1126.7,270.8 1127.7,271.2 1128.7,270.9 1129.7,271.3 1130.7,270.8 1131.7,271.2 1132.7,270.9 1133.6,271.3 1134.6,270.9 1135.6,271.2 1136.6,270.7 1137.6,271.2 1138.6,270.9 1139.5,271.3 1140.5,270.9 1141.5,271.2 1142.5,270.9 1143.5,271.3 1144.5,270.9 1145.5,271.2 1146.4,270.8 1147.4,271.3 1148.4,270.9 1149.4,271.3 1150.4,270.9 1151.4,271.3 1152.4,270.9 1153.3,271.4 1154.3,270.8 1155.3,271.4 1156.3,270.9 1157.3,271.4 1158.3,270.8 1159.3,271.4 1160.2,270.9 1161.2,271.4 1162.2,270.8 1163.2,271.4 1164.2,270.9 1165.2,271.6 1166.1,270.9 1167.1,271.4 1168.1,271 1169.1,271.3 1170.1,270.9 1171.1,271.4 1172.1,271 1173,271.3 1174,270.9 1175,271.4 1176,270.9 1177,271.6 1178,270.6 1179,271.4 1179.9,270.9 1180.9,271.5 1181.9,270.9 1182.9,271.5 1183.9,270.9 1184.9,271.4 1185.8,270.9 1186.8,271.5 1187.8,270.9 1188.8,271.4 1189.8,270.9 1190.8,271.4 1191.8,271 1192.7,271.4 1193.7,270.9 1194.7,271.5 1195.7,270.9 1196.7,271.4 1197.7,270.5 1198.7,271.6 1199.6,271 1200.6,271.6 1201.6,270.9 1202.6,271.4 1203.6,271 1204.6,271.4 1205.5,271 1206.5,271.6 1207.5,271 1208.5,271.5 1209.5,271 1210.5,271.6 1211.5,271 1212.4,271.7 1213.4,270.9 1214.4,271.6 1215.4,270.9 1216.4,271.7 1217.4,271 1218.4,272 1219.3,270.9 1220.3,271.8 1221.3,271 1222.3,271.7 1223.3,271 1224.3,271.9 1225.3,270.9 1226.2,271.6 1227.2,271.2 1228.2,271.5 1229.2,271.2 1230.2,271.7 1231.2,271.2 1232.1,271.7 1233.1,271.2 1234.1,271.9 1235.1,271 1236.1,271.9 1237.1,271.1 1238.1,272 1239,271.2 1240,272 1241,271.1 1242,271.9 1243,271.3 1244,271.9 1245,271.3 1245.9,272 1246.9,271.3 1247.9,272 1248.9,271.4 1249.9,272 1250.9,271.5 1251.8,272.1 1252.8,271.4 1253.8,272.1 1254.8,271.4 1255.8,272.2 1256.8,271.2 1257.8,272.1 1258.7,271.5 1259.7,272.1 1260.7,271.6 1261.7,272.5 1262.7,271.3 1263.7,272.2 1264.7,271.7 1265.6,272.2 1266.6,271.8 1267.6,272.2 1268.6,271.8 1269.6,272.2 1270.6,271.9 1271.5,272.2 1272.5,271.9 1273.5,272.3 1274.5,271.9 1275.5,272.2 1276.5,271.9 1277.5,272.2 1278.4,272 1279.4,272.3 1280.4,272 1281.4,272.3 1282.4,272 1283.4,272.3 1284.4,272 1285.3,272.3 1286.3,272 1287.3,272.3 1288.3,272 1289.3,272.3 1290.3,272 1291.3,272.3 1292.2,272 1293.2,272.4 1294.2,272 1295.2,272.4 1296.2,272.1 1297.2,272.4 1298.1,272.1 1299.1,272.6 1300.1,272 1301.1,272.6 1302.1,271.9 1303.1,272.7 1304.1,272.2 1305,272.7 1306,272.2 1307,272.8 1308,272.3 1309,272.9 1310,272.2 1311,272.9 1311.9,272.2 1312.9,272.9 1313.9,272.3 1314.9,273 1315.9,272.3 1316.9,273 1317.8,272.3 1318.8,272.9 1319.8,272.4 1320.8,273 1321.8,272.4 1322.8,273.1 1323.8,272.4 1324.7,273 1325.7,272.2 1326.7,273.4 1327.7,272.5 1328.7,273.1 1329.7,272.4 1330.7,273.1 1331.6,272.4 1332.6,273.2 1333.6,272.6 1334.6,273.2 1335.6,272.6 1336.6,273.2 1337.5,272.5 1338.5,273.2 1339.5,272.6 1340.5,273.2 1341.5,272.6 1342.5,273.2 1343.5,272.6 1344.4,273.3 1345.4,272.7 1346.4,273.3 1347.4,272.7 1348.4,273.8 1349.4,272.7 1350.4,273.2 1351.3,272.8 1352.3,273.2 1353.3,272.8 1354.3,273.1 1355.3,272.7 1356.3,273.2 1357.3,272.8 1358.2,273.2 1359.2,272.7 1360.2,273.2 1361.2,272.8 1362.2,273.2 1363.2,272.8 1364.1,273.1 1365.1,272.8 1366.1,273.1 1367.1,272.9 1368.1,273.1 1369.1,272.8 1370.1,273.1 1371,272.8 1372,273.1 1373,272.8 1374,273.1 1375,272.8 1376,273.1 1377,272.8 1377.9,273.1 1378.9,272.8 1379.9,273.1 1380.9,272.8 1381.9,273.3 1382.9,272.5 1383.8,273.1 1384.8,272.8 1385.8,273.1 1386.8,272.8 1387.8,273.1 1388.8,272.8 1389.8,273.2 1390.7,272.9 1391.7,273.2 1392.7,272.6 1393.7,273.2 1394.7,272.9 1395.7,273.2 1396.7,272.9 1397.6,273.2 1398.6,272.9 1399.6,273.2 1400.6,273 1401.6,273.2 1402.6,273 1403.6,273.3 1404.5,273 1405.5,273.3 1406.5,273 1407.5,273.3 1408.5,273 1409.5,273.3 1410.4,273.1 1411.4,273.4 1412.4,273.1 1413.4,273.3 1414.4,273.1 1415.4,273.4 1416.4,273.1 1417.3,273.4 1418.3,273.1 1419.3,273.4 1420.3,273.1 1421.3,273.4 1422.3,273.2 1423.3,273.4 1424.2,273.2 1425.2,273.4 1426.2,273.2 1427.2,273.4 1428.2,273.2 1429.2,273.4 1430.1,273.2 1431.1,273.5 1432.1,273.3 1433.1,273.5 1434.1,273.2 1435.1,273.4 1436.1,273.2 1437,273.5 1438,273.3 1439,273.6 1440,273.2 1441,273.6 1442,273.2 1443,273.7 1443.9,273.2 1444.9,273.6 1445.9,273.2 1446.9,273.6 1447.9,273.3 1448.9,273.6 1449.8,273.3 1450.8,273.9 1451.8,273.2 1452.8,273.9 1453.8,273.2 1454.8,274 1455.8,272.7 1456.7,274.5 1457.7,273.1 1458.7,274.1 1459.7,273 1460.7,274 1461.7,273 1462.7,274.1 1463.6,272.4 1464.6,274.1 1465.6,273.1 1466.6,274.2 1467.6,272.9 1468.6,274.4 1469.6,272.6 1470.5,274.1 1471.5,273 1472.5,274.1 1473.5,273.1 1474.5,273.9 1475.5,273.2 1476.4,274.1 1477.4,273 1478.4,274.1 1479.4,273 1480.4,274.1 1481.4,273.1 1482.4,274 1483.3,273 1484.3,274.2 1485.3,272.9 1486.3,274 1487.3,273 1488.3,274.9 1489.3,272.3 1490.2,274.1 1491.2,273 1492.2,274 1493.2,273.2 1494.2,274 1495.2,273.2 1496.1,274.1 1497.1,273.1 1498.1,273.9 1499.1,273.1 1500.1,274 1501.1,273.1 1502.1,274 1503,273.1 1504,274 1505,273.2 1506,274 1507,273.1 1508,274 1509,273 1509.9,274 1510.9,273.1 1511.9,274.4 1512.9,272.8 1513.9,274.1 1514.9,273.1 1515.8,274 1516.8,273.1 1517.8,274 1518.8,273.1 1519.8,274.1 1520.8,273.2 1521.8,274 1522.7,273.1 1523.7,274 1524.7,273.1 1525.7,274 1526.7,273.1 1527.7,273.9 1528.7,273.1 1529.6,274.1 1530.6,273.2 1531.6,274.2 1532.6,273.1 1533.6,273.9 1534.6,273.1 1535.6,274 1536.5,273.3 1537.5,273.9 1538.5,273.2 1539.5,273.9 1540.5,273.3 1541.5,273.8 1542.4,273.2 1543.4,273.9 1544.4,273.2 1545.4,274 1546.4,273.2 1547.4,274 1548.4,273.2 1549.3,274 1550.3,273.1 1551.3,274 1552.3,273.1 1553.3,273.9 1554.3,273.1 1555.3,274.1 1556.2,273.2 1557.2,274.6 1558.2,272.7 1559.2,274.1 1560.2,273.1 1561.2,274.1 1562.1,273.1 1563.1,274.1 1564.1,273 1565.1,274.1 1566.1,273.1 1567.1,274 1568.1,273.2 1569,274 1570,273.1 1571,274.1 1572,273.2 1573,274 1574,273.1 1575,274 1575.9,273.2 1576.9,273.9 1577.9,273.2 1578.9,274 1579.9,273.1 1580.9,274 1581.8,273.2 1582.8,274 1583.8,273.1 1584.8,274.3 1585.8,273.2 1586.8,273.9 1587.8,273.1 1588.7,273.9 1589.7,273.2 1590.7,274 1591.7,273.1 1592.7,273.9 1593.7,273.1 1594.7,274 1595.6,273.1 1596.6,274 1597.6,273.2 1598.6,273.9 1599.6,273.2 1600.6,274 1601.6,273.1 1602.5,273.9 1603.5,273.2 1604.5,273.9 1605.5,273.1 1606.5,273.9 1607.5,273.1 1608.4,274 1609.4,273.1 1610.4,273.9 1611.4,273.2 1612.4,273.9 1613.4,273.1 1614.4,274 1615.3,273.1 1616.3,274.1 1617.3,273.1 1618.3,274.3 1619.3,273 1620.3,274.1 1621.3,272.9 1622.2,274.2 1623.2,273.1 1624.2,274 1625.2,273.1 1626.2,274.2 1627.2,273 1628.1,274 1629.1,272.5 1630.1,274.3 1631.1,273.1 1632.1,274.1 1633.1,273.1 1634.1,274.4 1635,272.4 1636,274.1 1637,273 1638,274.1 1639,273.1 1640,274 1641,273 1641.9,274 1642.9,273.1 1643.9,274.1 1644.9,273.2 1645.9,274 1646.9,273.1 1647.8,274 1648.8,273.2 1649.8,274 1650.8,272.8 1651.8,274.2 1652.8,273.1 1653.8,274 1654.7,273.1 1655.7,274 1656.7,273.1 1657.7,274 1658.7,273.1 1659.7,273.9 1660.7,273.1 1661.6,274 1662.6,273.1 1663.6,274 1664.6,273.1 1665.6,274.2 1666.6,273.1 1667.6,273.9 1668.5,273.1 1669.5,274 1670.5,273.1 1671.5,274 1672.5,273.2 1673.5,274 1674.4,273.1 1675.4,274 1676.4,273.1 1677.4,273.9 1678.4,273.1 1679.4,273.9 1680.4,273.2 1681.3,273.8 1682.3,273.2 1683.3,273.9 1684.3,273.2 1685.3,273.8 1686.3,273.1 1687.3,273.8 1688.2,273.1 1689.2,273.9 1690.2,273.2 1691.2,273.8 1692.2,273.1 1693.2,273.9 1694.1,273.1 1695.1,273.8 1696.1,273.2 1697.1,273.9 1698.1,273.1 1699.1,273.9 1700.1,273.1 1701,273.9 1702,273 1703,273.9 1704,273.2 1705,273.9 1706,273.1 1707,273.9 1707.9,273 1708.9,273.9 1709.9,273 1710.9,273.9 1711.9,273 1712.9,274 1713.8,272.8 1714.8,274 1715.8,273 1716.8,273.8 1717.8,273 1718.8,274 1719.8,273 1720.7,274.1 1721.7,272.8 1722.7,273.9 1723.7,273.1 1724.7,273.9 1725.7,273 1726.7,273.9 1727.6,273 1728.6,273.9 1729.6,273.1 1730.6,273.8 1731.6,273.1 1732.6,273.8 1733.6,273.1 1734.5,273.9 1735.5,273.1 1736.5,273.9 1737.5,272.9 1738.5,273.9 1739.5,272.8 1740.4,273.8 1741.4,273 1742.4,273.8 1743.4,273.1 1744.4,273.8 1745.4,273.1 1746.4,273.8 1747.3,273.1 1748.3,273.9 1749.3,273 1750.3,274.1 1751.3,273 1752.3,273.8 1753.3,273 1754.2,273.9 1755.2,273.1 1756.2,273.8 1757.2,272.7 1758.2,274 1759.2,273 1760.1,273.8 1761.1,272.9 1762.1,273.8 1763.1,273.1 1764.1,273.8 1765.1,272.9 1766.1,273.9 1767,272.7 1768,273.8 1769,273 1770,273.7 1770,273.7" stroke="#00ffff"/>
<path d="M201.2,292.5 201.2,260 201.4,234.6 203,240 206,262 209,267.5 211.5,268.5 214,271.5 225,272 460.8,271.2 461.8,271.5 462.8,271.2 463.8,271.4 464.8,271.1 465.8,271.5 466.7,271.1 467.7,271.4 468.7,271 469.7,271.4 470.7,271.1 471.7,271.4 472.7,271.1 473.6,271.4 474.6,271.1 475.6,271.5 476.6,271 477.6,271.5 478.6,271 479.5,272.1 480.5,270.6 481.5,271.5 482.5,271.1 483.5,271.5 484.5,271.2 485.5,271.5 486.4,271.1 487.4,271.6 488.4,271 489.4,271.5 490.4,271.1 491.4,271.6 492.4,271.1 493.3,271.4 494.3,271 495.3,271.4 496.3,271.1 497.3,271.4 498.3,271.1 499.3,271.4 500.2,271 501.2,271.5 502.2,271.1 503.2,271.5 504.2,271.1 505.2,272 506.1,270.5 507.1,271.6 508.1,271 509.1,271.6 510.1,271.1 511.1,271.5 512.1,270.7 513,272 514,271.2 515,271.5 516,271.2 517,271.5 518,271.2 519,271.5 519.9,271.2 520.9,271.6 521.9,271.1 522.9,271.5 523.9,271.2 524.9,271.5 525.8,271.2 526.8,271.5 527.8,271.2 528.8,271.5 529.8,271.1 530.8,271.5 531.8,271.1 532.7,271.5 533.7,271.2 534.7,271.6 535.7,271.2 536.7,271.6 537.7,271.2 538.7,271.5 539.6,271.3 540.6,271.6 541.6,271.2 542.6,271.5 543.6,271.1 544.6,271.6 545.5,271.2 546.5,271.5 547.5,271.2 548.5,271.5 549.5,271.3 550.5,271.6 551.5,271.2 552.4,271.5 553.4,271.2 554.4,271.6 555.4,271.2 556.4,271.5 557.4,271.2 558.4,271.5 559.3,271.1 560.3,271.6 561.3,271.1 562.3,271.5 563.3,271.1 564.3,271.5 565.3,271.2 566.2,271.5 567.2,271.2 568.2,271.6 569.2,271.2 570.2,271.7 571.2,271.2 572.1,271.7 573.1,271.3 574.1,271.6 575.1,271.2 576.1,271.6 577.1,270.9 578.1,271.7 579,271.2 580,271.6 581,271.2 582,271.6 583,271.1 584,271.6 585,271.2 585.9,271.6 586.9,270.9 587.9,271.8 588.9,271.1 589.9,271.7 590.9,271.2 591.8,271.5 592.8,271.1 593.8,271.5 594.8,271.1 595.8,271.6 596.8,271.2 597.8,271.6 598.7,270.7 599.7,271.7 600.7,271 601.7,271.6 602.7,271.1 603.7,271.6 604.7,271.2 605.6,271.6 606.6,271.2 607.6,271.9 608.6,271.3 609.6,271.7 610.6,271.2 611.5,271.7 612.5,271.2 613.5,271.7 614.5,271.2 615.5,271.7 616.5,271.3 617.5,271.6 618.4,271.3 619.4,271.7 620.4,271.1 621.4,271.5 622.4,271.1 623.4,271.7 624.4,271 625.3,271.7 626.3,271.1 627.3,272 628.3,271.1 629.3,271.7 630.3,271.1 631.3,271.8 632.2,271.1 633.2,272.1 634.2,271.1 635.2,271.7 636.2,271.1 637.2,271.6 638.1,271 639.1,271.7 640.1,270.9 641.1,271.9 642.1,271.2 643.1,271.5 644.1,271.3 645,271.5 646,271.2 647,271.5 648,271.3 649,271.6 650,271.2 651,271.5 651.9,271.2 652.9,271.5 653.9,271.3 654.9,271.5 655.9,271.2 656.9,271.6 657.8,271.3 658.8,271.6 659.8,271.3 660.8,271.5 661.8,271.3 662.8,271.5 663.8,271.2 664.7,271.6 665.7,271.2 666.7,271.5 667.7,271.2 668.7,271.5 669.7,271.3 670.7,271.6 671.6,271.2 672.6,271.6 673.6,271.2 674.6,271.6 675.6,271.1 676.6,271.6 677.5,271.2 678.5,271.5 679.5,271.2 680.5,271.8 681.5,271.2 682.5,271.7 683.5,271.2 684.4,271.6 685.4,271.1 686.4,271.6 687.4,271.3 688.4,271.7 689.4,271.2 690.4,271.9 691.3,271.3 692.3,271.7 693.3,271.3 694.3,271.6 695.3,271.3 696.3,271.6 697.3,271.3 698.2,271.6 699.2,271.3 700.2,271.7 701.2,271.3 702.2,271.6 703.2,271.3 704.1,271.7 705.1,271.2 706.1,272 707.1,270.9 708.1,271.8 709.1,271.3 710.1,271.6 711,271.1 712,271.6 713,271.3 714,271.6 715,271.3 716,271.6 717,271.3 717.9,271.7 718.9,271.3 719.9,271.6 720.9,271.3 721.9,271.7 722.9,271.2 723.8,271.7 724.8,271.2 725.8,271.8 726.8,271.3 727.8,271.7 728.8,271.3 729.8,271.8 730.7,271 731.7,271.8 732.7,271.3 733.7,271.9 734.7,271.4 735.7,271.8 736.7,271.4 737.6,271.7 738.6,271.4 739.6,271.8 740.6,271.4 741.6,271.7 742.6,271.3 743.5,271.9 744.5,271.3 745.5,271.8 746.5,271.4 747.5,271.7 748.5,271.4 749.5,271.7 750.4,271.4 751.4,271.7 752.4,271.4 753.4,271.7 754.4,271.4 755.4,271.7 756.4,271.4 757.3,271.7 758.3,271.4 759.3,271.7 760.3,271.4 761.3,271.7 762.3,271.4 763.3,271.7 764.2,271.5 765.2,271.9 766.2,271.4 767.2,271.8 768.2,271.4 769.2,271.8 770.1,271.5 771.1,271.8 772.1,271.4 773.1,271.7 774.1,271.5 775.1,271.7 776.1,271.4 777,271.7 778,271.5 779,271.8 780,271.5 781,271.7 782,271.5 783,271.8 783.9,271.4 784.9,271.8 785.9,271.5 786.9,271.8 787.9,271.5 788.9,271.7 789.8,271.5 790.8,271.7 791.8,271.5 792.8,271.7 793.8,271.5 794.8,271.8 795.8,271.5 796.7,271.7 797.7,271.5 798.7,271.7 799.7,271.4 800.7,271.7 801.7,271.5 802.7,271.7 803.6,271.5 804.6,271.8 805.6,271.5 806.6,271.7 807.6,271.5 808.6,271.7 809.5,271.5 810.5,271.7 811.5,271.4 812.5,271.7 813.5,271.4 814.5,271.7 815.5,271.5 816.4,271.7 817.4,271.5 818.4,271.7 819.4,271.5 820.4,271.7 821.4,271.5 822.4,271.7 823.3,271.5 824.3,271.7 825.3,271.6 826.3,271.8 827.3,271.5 828.3,271.8 829.3,271.5 830.2,271.9 831.2,271.6 832.2,271.8 833.2,271.5 834.2,271.9 835.2,271.5 836.1,271.8 837.1,271.5 838.1,271.8 839.1,271.4 840.1,271.8 841.1,271.5 842.1,271.8 843,271.5 844,271.8 845,271.5 846,271.8 847,271.5 848,271.7 849,271.4 849.9,271.7 850.9,271.4 851.9,271.7 852.9,271.4 853.9,271.8 854.9,271.3 855.8,271.8 856.8,271.3 857.8,271.8 858.8,271.4 859.8,271.9 860.8,271.4 861.8,271.9 862.7,271.4 863.7,271.9 864.7,271.4 865.7,271.9 866.7,271.3 867.7,271.8 868.7,271.3 869.6,271.9 870.6,271.3 871.6,271.9 872.6,271.3 873.6,271.9 874.6,271.3 875.5,271.8 876.5,271.3 877.5,271.9 878.5,271.4 879.5,272 880.5,271.4 881.5,272 882.4,271.2 883.4,272 884.4,271.3 885.4,272 886.4,271.2 887.4,272 888.4,270.9 889.3,271.9 890.3,271.3 891.3,272 892.3,271.3 893.3,272 894.3,271.3 895.3,271.9 896.2,271.3 897.2,271.9 898.2,271.2 899.2,272 900.2,270.9 901.2,272 902.1,271.2 903.1,272 904.1,271.2 905.1,272 906.1,271.2 907.1,272 908.1,271.2 909,272 910,271.3 911,271.9 912,271.2 913,271.9 914,271.3 915,272 915.9,271.3 916.9,272.1 917.9,271.1 918.9,272 919.9,271.2 920.9,272 921.8,271.2 922.8,271.9 923.8,271.2 924.8,271.9 925.8,271.2 926.8,272 927.8,271.3 928.7,272 929.7,271.2 930.7,272 931.7,271.3 932.7,272.2 933.7,271.3 934.7,271.9 935.6,271.2 936.6,271.9 937.6,271.4 938.6,271.9 939.6,271.3 940.6,271.9 941.5,271.4 942.5,271.9 943.5,271.4 944.5,271.9 945.5,271.3 946.5,272 947.5,271.4 948.4,271.9 949.4,271.3 950.4,271.9 951.4,271.4 952.4,272 953.4,271.4 954.4,271.9 955.3,271.2 956.3,272.1 957.3,271.4 958.3,272 959.3,271.4 960.3,271.9 961.3,271.5 962.2,272 963.2,271.4 964.2,272 965.2,271.4 966.2,271.9 967.2,271.4 968.1,271.9 969.1,271.4 970.1,272 971.1,271.4 972.1,271.9 973.1,271.4 974.1,271.9 975,271.4 976,271.9 977,271.4 978,271.9 979,271.3 980,271.9 981,271.4 981.9,271.9 982.9,271.4 983.9,271.9 984.9,271.4 985.9,272 986.9,271.4 987.8,271.9 988.8,271.5 989.8,271.9 990.8,271.4 991.8,272 992.8,271.5 993.8,272 994.7,271.4 995.7,272 996.7,271.4 997.7,272 998.7,271.5 999.7,271.9 1000.7,271.5 1001.6,272 1002.6,271.5 1003.6,272 1004.6,271.5 1005.6,272 1006.6,271.5 1007.5,271.9 1008.5,271.4 1009.5,271.9 1010.5,271.5 1011.5,272 1012.5,271.5 1013.5,271.9 1014.4,271.4 1015.4,272 1016.4,271.5 1017.4,272 1018.4,271.5 1019.4,272 1020.4,271.5 1021.3,272 1022.3,271.5 1023.3,271.9 1024.3,271.5 1025.3,272 1026.3,271.5 1027.3,271.9 1028.2,271.6 1029.2,272 1030.2,271.5 1031.2,272 1032.2,271.5 1033.2,272 1034.1,271.5 1035.1,272 1036.1,271.5 1037.1,272.1 1038.1,271.5 1039.1,272 1040.1,271.5 1041,272.1 1042,271.6 1043,272.2 1044,271 1045,272.1 1046,271.5 1047,272 1047.9,271.6 1048.9,272.3 1049.9,271.2 1050.9,272 1051.9,271.6 1052.9,272.1 1053.8,271.6 1054.8,272.1 1055.8,271.5 1056.8,272.1 1057.8,271.5 1058.8,272.1 1059.8,271.5 1060.7,272.1 1061.7,271.6 1062.7,272.1 1063.7,271.6 1064.7,272 1065.7,271.5 1066.7,271.9 1067.6,271.5 1068.6,271.9 1069.6,271.6 1070.6,271.9 1071.6,271.6 1072.6,271.9 1073.5,271.5 1074.5,271.9 1075.5,271.5 1076.5,271.8 1077.5,271.2 1078.5,271.9 1079.5,271.5 1080.4,271.9 1081.4,271.4 1082.4,271.8 1083.4,271.5 1084.4,271.8 1085.4,271.5 1086.4,271.8 1087.3,271.4 1088.3,271.8 1089.3,271.4 1090.3,271.9 1091.3,271.4 1092.3,271.8 1093.3,271.4 1094.2,272.1 1095.2,271.5 1096.2,271.9 1097.2,271.4 1098.2,271.9 1099.2,271.5 1100.1,271.9 1101.1,271.4 1102.1,271.8 1103.1,271.4 1104.1,271.9 1105.1,271.5 1106.1,271.9 1107,271.5 1108,271.9 1109,271.4 1110,271.9 1111,271.5 1112,271.8 1113,271.5 1113.9,271.9 1114.9,271.4 1115.9,271.8 1116.9,271.5 1117.9,271.8 1118.9,271.4 1119.8,271.8 1120.8,271.4 1121.8,271.8 1122.8,271.5 1123.8,271.8 1124.8,271.5 1125.8,271.8 1126.7,271.4 1127.7,271.8 1128.7,271.5 1129.7,271.8 1130.7,271.4 1131.7,271.8 1132.7,271.4 1133.6,271.8 1134.6,271.4 1135.6,271.8 1136.6,271.3 1137.6,271.8 1138.6,271.5 1139.5,271.8 1140.5,271.4 1141.5,271.8 1142.5,271.5 1143.5,271.9 1144.5,271.5 1145.5,271.8 1146.4,271.4 1147.4,271.9 1148.4,271.4 1149.4,271.9 1150.4,271.5 1151.4,271.9 1152.4,271.5 1153.3,271.9 1154.3,271.4 1155.3,271.9 1156.3,271.4 1157.3,271.9 1158.3,271.4 1159.3,271.9 1160.2,271.4 1161.2,272 1162.2,271.4 1163.2,271.9 1164.2,271.4 1165.2,272.1 1166.1,271.5 1167.1,271.9 1168.1,271.5 1169.1,271.8 1170.1,271.4 1171.1,271.8 1172.1,271.4 1173,271.8 1174,271.4 1175,271.9 1176,271.4 1177,272.1 1178,271.1 1179,271.9 1179.9,271.3 1180.9,272 1181.9,271.4 1182.9,272 1183.9,271.4 1184.9,271.8 1185.8,271.3 1186.8,271.9 1187.8,271.3 1188.8,271.9 1189.8,271.4 1190.8,271.9 1191.8,271.5 1192.7,271.9 1193.7,271.4 1194.7,272 1195.7,271.3 1196.7,271.9 1197.7,271 1198.7,272 1199.6,271.4 1200.6,272 1201.6,271.3 1202.6,271.8 1203.6,271.3 1204.6,271.8 1205.5,271.3 1206.5,271.9 1207.5,271.4 1208.5,271.9 1209.5,271.3 1210.5,271.9 1211.5,271.4 1212.4,272 1213.4,271.2 1214.4,271.9 1215.4,271.2 1216.4,271.9 1217.4,271.2 1218.4,272.2 1219.3,271.1 1220.3,272 1221.3,271.2 1222.3,271.9 1223.3,271.2 1224.3,272.1 1225.3,271.1 1226.2,271.8 1227.2,271.4 1228.2,271.7 1229.2,271.3 1230.2,271.8 1231.2,271.3 1232.1,271.8 1233.1,271.3 1234.1,272 1235.1,271.1 1236.1,272 1237.1,271.2 1238.1,272 1239,271.2 1240,272 1241,271.2 1242,271.9 1243,271.3 1244,271.9 1245,271.3 1245.9,272 1246.9,271.3 1247.9,271.9 1248.9,271.3 1249.9,271.8 1250.9,271.3 1251.8,271.9 1252.8,271.3 1253.8,271.9 1254.8,271.3 1255.8,272.1 1256.8,271 1257.8,271.9 1258.7,271.3 1259.7,271.8 1260.7,271.3 1261.7,272.2 1262.7,271 1263.7,271.8 1264.7,271.3 1265.6,271.7 1266.6,271.3 1267.6,271.7 1268.6,271.3 1269.6,271.7 1270.6,271.4 1271.5,271.7 1272.5,271.4 1273.5,271.7 1274.5,271.3 1275.5,271.6 1276.5,271.4 1277.5,271.6 1278.4,271.4 1279.4,271.7 1280.4,271.4 1281.4,271.7 1282.4,271.4 1283.4,271.7 1284.4,271.4 1285.3,271.6 1286.3,271.4 1287.3,271.7 1288.3,271.3 1289.3,271.6 1290.3,271.3 1291.3,271.6 1292.2,271.3 1293.2,271.7 1294.2,271.2 1295.2,271.6 1296.2,271.2 1297.2,271.6 1298.1,271.2 1299.1,271.8 1300.1,271.2 1301.1,271.8 1302.1,271.1 1303.1,271.9 1304.1,271.3 1305,271.8 1306,271.2 1307,271.9 1308,271.3 1309,271.9 1310,271.2 1311,271.8 1311.9,271.2 1312.9,271.8 1313.9,271.2 1314.9,271.9 1315.9,271.2 1316.9,271.9 1317.8,271.2 1318.8,271.8 1319.8,271.3 1320.8,271.8 1321.8,271.2 1322.8,271.9 1323.8,271.2 1324.7,271.7 1325.7,271 1326.7,272.2 1327.7,271.2 1328.7,271.9 1329.7,271.1 1330.7,271.8 1331.6,271.1 1332.6,271.8 1333.6,271.2 1334.6,271.8 1335.6,271.2 1336.6,271.8 1337.5,271.2 1338.5,271.8 1339.5,271.3 1340.5,271.8 1341.5,271.3 1342.5,271.8 1343.5,271.1 1344.4,271.9 1345.4,271.2 1346.4,271.8 1347.4,271.3 1348.4,272.3 1349.4,271.2 1350.4,271.7 1351.3,271.3 1352.3,271.7 1353.3,271.3 1354.3,271.7 1355.3,271.3 1356.3,271.7 1357.3,271.3 1358.2,271.8 1359.2,271.2 1360.2,271.7 1361.2,271.3 1362.2,271.7 1363.2,271.3 1364.1,271.7 1365.1,271.4 1366.1,271.7 1367.1,271.4 1368.1,271.7 1369.1,271.4 1370.1,271.7 1371,271.5 1372,271.8 1373,271.4 1374,271.8 1375,271.4 1376,271.8 1377,271.4 1377.9,271.7 1378.9,271.4 1379.9,271.7 1380.9,271.4 1381.9,271.9 1382.9,271.1 1383.8,271.7 1384.8,271.4 1385.8,271.7 1386.8,271.4 1387.8,271.7 1388.8,271.4 1389.8,271.7 1390.7,271.5 1391.7,271.7 1392.7,271.2 1393.7,271.7 1394.7,271.4 1395.7,271.7 1396.7,271.4 1397.6,271.7 1398.6,271.5 1399.6,271.7 1400.6,271.4 1401.6,271.7 1402.6,271.4 1403.6,271.7 1404.5,271.4 1405.5,271.7 1406.5,271.4 1407.5,271.7 1408.5,271.4 1409.5,271.7 1410.4,271.4 1411.4,271.7 1412.4,271.4 1413.4,271.7 1414.4,271.4 1415.4,271.7 1416.4,271.4 1417.3,271.8 1418.3,271.4 1419.3,271.7 1420.3,271.4 1421.3,271.8 1422.3,271.5 1423.3,271.8 1424.2,271.5 1425.2,271.7 1426.2,271.5 1427.2,271.8 1428.2,271.5 1429.2,271.7 1430.1,271.5 1431.1,271.8 1432.1,271.6 1433.1,271.8 1434.1,271.5 1435.1,271.7 1436.1,271.5 1437,271.8 1438,271.5 1439,271.9 1440,271.5 1441,271.9 1442,271.5 1443,271.9 1443.9,271.5 1444.9,271.9 1445.9,271.5 1446.9,271.9 1447.9,271.5 1448.9,271.8 1449.8,271.5 1450.8,271.9 1451.8,271.4 1452.8,271.9 1453.8,271.4 1454.8,272 1455.8,271 1456.7,272.5 1457.7,271.3 1458.7,272.1 1459.7,271.3 1460.7,272.1 1461.7,271.3 1462.7,272.2 1463.6,270.7 1464.6,272.2 1465.6,271.4 1466.6,272.2 1467.6,271.2 1468.6,272.4 1469.6,270.9 1470.5,272.1 1471.5,271.3 1472.5,272.1 1473.5,271.4 1474.5,272 1475.5,271.5 1476.4,272.2 1477.4,271.4 1478.4,272.2 1479.4,271.4 1480.4,272.3 1481.4,271.5 1482.4,272.1 1483.3,271.3 1484.3,272.2 1485.3,271.2 1486.3,272.1 1487.3,271.3 1488.3,273 1489.3,270.6 1490.2,272.2 1491.2,271.3 1492.2,272.1 1493.2,271.5 1494.2,272 1495.2,271.5 1496.1,272.1 1497.1,271.4 1498.1,272 1499.1,271.5 1500.1,272 1501.1,271.4 1502.1,272.1 1503,271.4 1504,272 1505,271.5 1506,272.1 1507,271.4 1508,272.1 1509,271.4 1509.9,272.1 1510.9,271.4 1511.9,272.4 1512.9,271.1 1513.9,272.1 1514.9,271.4 1515.8,272.1 1516.8,271.4 1517.8,272.1 1518.8,271.4 1519.8,272.1 1520.8,271.5 1521.8,272.1 1522.7,271.4 1523.7,272.1 1524.7,271.5 1525.7,272.1 1526.7,271.4 1527.7,272 1528.7,271.4 1529.6,272.1 1530.6,271.5 1531.6,272.2 1532.6,271.4 1533.6,272 1534.6,271.5 1535.6,272 1536.5,271.6 1537.5,272 1538.5,271.6 1539.5,271.9 1540.5,271.7 1541.5,272 1542.4,271.6 1543.4,272.1 1544.4,271.6 1545.4,272.1 1546.4,271.5 1547.4,272 1548.4,271.5 1549.3,272 1550.3,271.4 1551.3,272 1552.3,271.4 1553.3,271.9 1554.3,271.4 1555.3,272.1 1556.2,271.5 1557.2,272.6 1558.2,271 1559.2,272.1 1560.2,271.4 1561.2,272.1 1562.1,271.4 1563.1,272.1 1564.1,271.3 1565.1,272.1 1566.1,271.3 1567.1,272 1568.1,271.4 1569,271.9 1570,271.3 1571,272 1572,271.4 1573,272 1574,271.5 1575,272 1575.9,271.5 1576.9,272 1577.9,271.6 1578.9,272.1 1579.9,271.5 1580.9,272 1581.8,271.5 1582.8,272.1 1583.8,271.4 1584.8,272.3 1585.8,271.5 1586.8,272 1587.8,271.4 1588.7,272 1589.7,271.5 1590.7,272.1 1591.7,271.5 1592.7,272 1593.7,271.5 1594.7,272.1 1595.6,271.5 1596.6,272 1597.6,271.5 1598.6,272 1599.6,271.5 1600.6,272 1601.6,271.5 1602.5,272 1603.5,271.5 1604.5,272 1605.5,271.5 1606.5,272 1607.5,271.5 1608.4,272 1609.4,271.5 1610.4,272 1611.4,271.6 1612.4,272.1 1613.4,271.5 1614.4,272 1615.3,271.4 1616.3,272.1 1617.3,271.4 1618.3,272.4 1619.3,271.2 1620.3,272.1 1621.3,271.2 1622.2,272.2 1623.2,271.3 1624.2,272.1 1625.2,271.4 1626.2,272.2 1627.2,271.3 1628.1,272.1 1629.1,270.8 1630.1,272.3 1631.1,271.4 1632.1,272.2 1633.1,271.4 1634.1,272.5 1635,270.8 1636,272.2 1637,271.3 1638,272.2 1639,271.5 1640,272.1 1641,271.4 1641.9,272.1 1642.9,271.4 1643.9,272.2 1644.9,271.5 1645.9,272.1 1646.9,271.4 1647.8,272.1 1648.8,271.5 1649.8,272.1 1650.8,271.1 1651.8,272.3 1652.8,271.4 1653.8,272.1 1654.7,271.4 1655.7,272.1 1656.7,271.5 1657.7,272.1 1658.7,271.5 1659.7,272 1660.7,271.4 1661.6,272.1 1662.6,271.5 1663.6,272.1 1664.6,271.5 1665.6,272.3 1666.6,271.5 1667.6,272.1 1668.5,271.5 1669.5,272.1 1670.5,271.5 1671.5,272.1 1672.5,271.5 1673.5,272.1 1674.4,271.5 1675.4,272.1 1676.4,271.5 1677.4,272 1678.4,271.5 1679.4,272 1680.4,271.5 1681.3,271.9 1682.3,271.5 1683.3,272 1684.3,271.5 1685.3,272 1686.3,271.5 1687.3,272 1688.2,271.5 1689.2,272 1690.2,271.5 1691.2,272 1692.2,271.5 1693.2,272 1694.1,271.5 1695.1,272 1696.1,271.5 1697.1,272.1 1698.1,271.5 1699.1,272.1 1700.1,271.5 1701,272 1702,271.4 1703,272.1 1704,271.6 1705,272.1 1706,271.5 1707,272.1 1707.9,271.4 1708.9,272.1 1709.9,271.4 1710.9,272 1711.9,271.4 1712.9,272.1 1713.8,271.1 1714.8,272.1 1715.8,271.4 1716.8,272 1717.8,271.4 1718.8,272.1 1719.8,271.4 1720.7,272.2 1721.7,271.1 1722.7,272 1723.7,271.5 1724.7,272 1725.7,271.4 1726.7,272 1727.6,271.4 1728.6,271.9 1729.6,271.4 1730.6,271.8 1731.6,271.4 1732.6,271.9 1733.6,271.4 1734.5,272 1735.5,271.4 1736.5,271.9 1737.5,271.3 1738.5,272 1739.5,271.1 1740.4,271.9 1741.4,271.4 1742.4,271.9 1743.4,271.4 1744.4,271.8 1745.4,271.4 1746.4,271.9 1747.3,271.4 1748.3,271.9 1749.3,271.3 1750.3,272.1 1751.3,271.3 1752.3,271.9 1753.3,271.3 1754.2,272 1755.2,271.4 1756.2,271.9 1757.2,271 1758.2,272.1 1759.2,271.3 1760.1,271.9 1761.1,271.2 1762.1,271.8 1763.1,271.4 1764.1,271.9 1765.1,271.3 1766.1,271.9" stroke="#ff00ff"/>
<path d="M203.5,296.6 205,260 206.5,224 207.3,250 208.2,280.8 209.3,271.5 211,280.6 213,271.5 215,279 217,272 222,271.4 230,270.6 238,269.6 246,270.8 255,271.4 460.8,271.3 461.8,271.6 462.8,271.2 463.8,271.5 464.8,271.2 465.8,271.6 466.7,271.2 467.7,271.5 468.7,271.1 469.7,271.5 470.7,271.2 471.7,271.5 472.7,271.2 473.6,271.5 474.6,271.2 475.6,271.6 476.6,271.1 477.6,271.6 478.6,271.1 479.5,272.2 480.5,270.7 481.5,271.6 482.5,271.2 483.5,271.6 484.5,271.3 485.5,271.6 486.4,271.2 487.4,271.7 488.4,271.1 489.4,271.6 490.4,271.2 491.4,271.7 492.4,271.2 493.3,271.5 494.3,271.1 495.3,271.5 496.3,271.2 497.3,271.5 498.3,271.2 499.3,271.5 500.2,271.1 501.2,271.6 502.2,271.2 503.2,271.6 504.2,271.2 505.2,272.1 506.1,270.6 507.1,271.7 508.1,271.1 509.1,271.6 510.1,271.2 511.1,271.6 512.1,270.8 513,272.1 514,271.3 515,271.6 516,271.3 517,271.6 518,271.3 519,271.6 519.9,271.3 520.9,271.7 521.9,271.2 522.9,271.6 523.9,271.3 524.9,271.6 525.8,271.3 526.8,271.6 527.8,271.2 528.8,271.6 529.8,271.2 530.8,271.6 531.8,271.2 532.7,271.6 533.7,271.3 534.7,271.7 535.7,271.3 536.7,271.7 537.7,271.3 538.7,271.6 539.6,271.4 540.6,271.7 541.6,271.3 542.6,271.6 543.6,271.2 544.6,271.7 545.5,271.3 546.5,271.6 547.5,271.3 548.5,271.6 549.5,271.4 550.5,271.6 551.5,271.3 552.4,271.6 553.4,271.3 554.4,271.6 555.4,271.3 556.4,271.6 557.4,271.3 558.4,271.6 559.3,271.2 560.3,271.7 561.3,271.2 562.3,271.6 563.3,271.2 564.3,271.6 565.3,271.3 566.2,271.6 567.2,271.3 568.2,271.7 569.2,271.3 570.2,271.8 571.2,271.3 572.1,271.8 573.1,271.4 574.1,271.7 575.1,271.3 576.1,271.7 577.1,271 578.1,271.8 579,271.3 580,271.7 581,271.3 582,271.7 583,271.2 584,271.7 585,271.3 585.9,271.7 586.9,271 587.9,271.9 588.9,271.2 589.9,271.8 590.9,271.3 591.8,271.6 592.8,271.2 593.8,271.6 594.8,271.2 595.8,271.7 596.8,271.3 597.8,271.7 598.7,270.8 599.7,271.8 600.7,271.1 601.7,271.7 602.7,271.2 603.7,271.7 604.7,271.3 605.6,271.7 606.6,271.3 607.6,272 608.6,271.3 609.6,271.8 610.6,271.3 611.5,271.8 612.5,271.3 613.5,271.8 614.5,271.3 615.5,271.8 616.5,271.4 617.5,271.7 618.4,271.4 619.4,271.7 620.4,271.2 621.4,271.6 622.4,271.2 623.4,271.8 624.4,271.1 625.3,271.8 626.3,271.2 627.3,272.1 628.3,271.2 629.3,271.8 630.3,271.2 631.3,271.9 632.2,271.2 633.2,272.2 634.2,271.2 635.2,271.8 636.2,271.2 637.2,271.6 638.1,271.1 639.1,271.8 640.1,271 641.1,272 642.1,271.3 643.1,271.6 644.1,271.4 645,271.6 646,271.3 647,271.6 648,271.4 649,271.7 650,271.3 651,271.6 651.9,271.3 652.9,271.6 653.9,271.4 654.9,271.6 655.9,271.3 656.9,271.7 657.8,271.4 658.8,271.7 659.8,271.4 660.8,271.6 661.8,271.4 662.8,271.6 663.8,271.3 664.7,271.7 665.7,271.3 666.7,271.6 667.7,271.3 668.7,271.6 669.7,271.4 670.7,271.6 671.6,271.3 672.6,271.7 673.6,271.3 674.6,271.7 675.6,271.2 676.6,271.7 677.5,271.3 678.5,271.6 679.5,271.3 680.5,271.9 681.5,271.3 682.5,271.8 683.5,271.3 684.4,271.7 685.4,271.2 686.4,271.7 687.4,271.4 688.4,271.8 689.4,271.3 690.4,272 691.3,271.4 692.3,271.8 693.3,271.4 694.3,271.7 695.3,271.4 696.3,271.7 697.3,271.4 698.2,271.7 699.2,271.4 700.2,271.8 701.2,271.4 702.2,271.7 703.2,271.4 704.1,271.8 705.1,271.3 706.1,272.1 707.1,271 708.1,271.9 709.1,271.4 710.1,271.7 711,271.2 712,271.7 713,271.4 714,271.7 715,271.4 716,271.7 717,271.4 717.9,271.7 718.9,271.4 719.9,271.7 720.9,271.4 721.9,271.8 722.9,271.3 723.8,271.8 724.8,271.3 725.8,271.9 726.8,271.4 727.8,271.8 728.8,271.4 729.8,271.9 730.7,271.1 731.7,271.9 732.7,271.4 733.7,271.9 734.7,271.4 735.7,271.9 736.7,271.5 737.6,271.8 738.6,271.5 739.6,271.9 740.6,271.4 741.6,271.8 742.6,271.4 743.5,272 744.5,271.4 745.5,271.9 746.5,271.5 747.5,271.8 748.5,271.5 749.5,271.8 750.4,271.5 751.4,271.8 752.4,271.4 753.4,271.8 754.4,271.5 755.4,271.8 756.4,271.4 757.3,271.8 758.3,271.4 759.3,271.8 760.3,271.5 761.3,271.8 762.3,271.5 763.3,271.8 764.2,271.6 765.2,271.9 766.2,271.5 767.2,271.9 768.2,271.5 769.2,271.9 770.1,271.6 771.1,271.8 772.1,271.5 773.1,271.8 774.1,271.6 775.1,271.8 776.1,271.5 777,271.7 778,271.5 779,271.8 780,271.5 781,271.8 782,271.6 783,271.9 783.9,271.5 784.9,271.8 785.9,271.5 786.9,271.8 787.9,271.5 788.9,271.8 789.8,271.5 790.8,271.8 791.8,271.6 792.8,271.8 793.8,271.6 794.8,271.8 795.8,271.6 796.7,271.8 797.7,271.6 798.7,271.8 799.7,271.5 800.7,271.8 801.7,271.5 802.7,271.8 803.6,271.6 804.6,271.8 805.6,271.6 806.6,271.8 807.6,271.6 808.6,271.8 809.5,271.6 810.5,271.8 811.5,271.5 812.5,271.8 813.5,271.5 814.5,271.8 815.5,271.6 816.4,271.8 817.4,271.6 818.4,271.8 819.4,271.6 820.4,271.8 821.4,271.6 822.4,271.8 823.3,271.6 824.3,271.8 825.3,271.6 826.3,271.8 827.3,271.6 828.3,271.9 829.3,271.6 830.2,271.9 831.2,271.6 832.2,271.9 833.2,271.6 834.2,271.9 835.2,271.6 836.1,271.8 837.1,271.5 838.1,271.8 839.1,271.5 840.1,271.8 841.1,271.5 842.1,271.9 843,271.6 844,271.9 845,271.6 846,271.9 847,271.5 848,271.8 849,271.5 849.9,271.7 850.9,271.5 851.9,271.8 852.9,271.4 853.9,271.8 854.9,271.4 855.8,271.8 856.8,271.3 857.8,271.8 858.8,271.4 859.8,271.9 860.8,271.4 861.8,271.9 862.7,271.4 863.7,272 864.7,271.4 865.7,271.9 866.7,271.4 867.7,271.8 868.7,271.3 869.6,271.9 870.6,271.3 871.6,271.9 872.6,271.3 873.6,271.9 874.6,271.4 875.5,271.8 876.5,271.3 877.5,271.9 878.5,271.4 879.5,272 880.5,271.4 881.5,272 882.4,271.3 883.4,272 884.4,271.4 885.4,272 886.4,271.3 887.4,272.1 888.4,270.9 889.3,271.9 890.3,271.3 891.3,272 892.3,271.4 893.3,272 894.3,271.3 895.3,271.9 896.2,271.3 897.2,272 898.2,271.3 899.2,272.1 900.2,270.9 901.2,272 902.1,271.2 903.1,272 904.1,271.2 905.1,272 906.1,271.2 907.1,272 908.1,271.3 909,272 910,271.4 911,271.9 912,271.2 913,271.9 914,271.3 915,272 915.9,271.3 916.9,272.1 917.9,271.1 918.9,272 919.9,271.2 920.9,272.1 921.8,271.2 922.8,272 923.8,271.2 924.8,272 925.8,271.2 926.8,272.1 927.8,271.3 928.7,272 929.7,271.2 930.7,272 931.7,271.4 932.7,272.2 933.7,271.3 934.7,271.9 935.6,271.3 936.6,272 937.6,271.4 938.6,271.9 939.6,271.3 940.6,271.9 941.5,271.4 942.5,271.9 943.5,271.4 944.5,272 945.5,271.4 946.5,272.1 947.5,271.5 948.4,272 949.4,271.4 950.4,272 951.4,271.4 952.4,272 953.4,271.5 954.4,271.9 955.3,271.2 956.3,272.2 957.3,271.4 958.3,272 959.3,271.5 960.3,272 961.3,271.5 962.2,272 963.2,271.4 964.2,272 965.2,271.4 966.2,271.9 967.2,271.5 968.1,271.9 969.1,271.4 970.1,272 971.1,271.5 972.1,272 973.1,271.4 974.1,271.9 975,271.5 976,271.9 977,271.4 978,272 979,271.4 980,272 981,271.4 981.9,272 982.9,271.4 983.9,271.9 984.9,271.4 985.9,272 986.9,271.4 987.8,271.9 988.8,271.5 989.8,271.9 990.8,271.5 991.8,272 992.8,271.5 993.8,272 994.7,271.5 995.7,272 996.7,271.4 997.7,272 998.7,271.5 999.7,272 1000.7,271.5 1001.6,272 1002.6,271.5 1003.6,272 1004.6,271.5 1005.6,272 1006.6,271.5 1007.5,271.9 1008.5,271.5 1009.5,271.9 1010.5,271.5 1011.5,272.1 1012.5,271.5 1013.5,272 1014.4,271.5 1015.4,272 1016.4,271.5 1017.4,272.1 1018.4,271.5 1019.4,272.1 1020.4,271.6 1021.3,272 1022.3,271.5 1023.3,272 1024.3,271.5 1025.3,272.1 1026.3,271.5 1027.3,272 1028.2,271.6 1029.2,272.1 1030.2,271.5 1031.2,272.1 1032.2,271.6 1033.2,272 1034.1,271.5 1035.1,272.1 1036.1,271.6 1037.1,272.1 1038.1,271.6 1039.1,272.1 1040.1,271.5 1041,272.1 1042,271.6 1043,272.2 1044,271 1045,272.2 1046,271.6 1047,272.1 1047.9,271.6 1048.9,272.3 1049.9,271.2 1050.9,272 1051.9,271.6 1052.9,272.1 1053.8,271.6 1054.8,272.1 1055.8,271.6 1056.8,272.1 1057.8,271.6 1058.8,272.1 1059.8,271.6 1060.7,272.1 1061.7,271.6 1062.7,272.1 1063.7,271.6 1064.7,272 1065.7,271.5 1066.7,272 1067.6,271.6 1068.6,272 1069.6,271.6 1070.6,271.9 1071.6,271.6 1072.6,271.9 1073.5,271.5 1074.5,271.9 1075.5,271.5 1076.5,271.9 1077.5,271.2 1078.5,271.9 1079.5,271.5 1080.4,271.9 1081.4,271.5 1082.4,271.8 1083.4,271.5 1084.4,271.9 1085.4,271.5 1086.4,271.8 1087.3,271.5 1088.3,271.9 1089.3,271.5 1090.3,271.9 1091.3,271.4 1092.3,271.9 1093.3,271.5 1094.2,272.2 1095.2,271.5 1096.2,271.9 1097.2,271.4 1098.2,271.9 1099.2,271.5 1100.1,271.9 1101.1,271.5 1102.1,271.9 1103.1,271.5 1104.1,271.9 1105.1,271.5 1106.1,271.9 1107,271.5 1108,271.9 1109,271.5 1110,271.9 1111,271.6 1112,271.9 1113,271.5 1113.9,271.9 1114.9,271.5 1115.9,271.9 1116.9,271.5 1117.9,271.8 1118.9,271.5 1119.8,271.8 1120.8,271.5 1121.8,271.8 1122.8,271.5 1123.8,271.8 1124.8,271.5 1125.8,271.8 1126.7,271.5 1127.7,271.8 1128.7,271.5 1129.7,271.9 1130.7,271.5 1131.7,271.8 1132.7,271.5 1133.6,271.8 1134.6,271.5 1135.6,271.8 1136.6,271.3 1137.6,271.8 1138.6,271.5 1139.5,271.9 1140.5,271.5 1141.5,271.8 1142.5,271.5 1143.5,271.9 1144.5,271.5 1145.5,271.8 1146.4,271.5 1147.4,271.9 1148.4,271.5 1149.4,271.9 1150.4,271.5 1151.4,271.9 1152.4,271.5 1153.3,272 1154.3,271.4 1155.3,272 1156.3,271.5 1157.3,271.9 1158.3,271.4 1159.3,272 1160.2,271.5 1161.2,272 1162.2,271.4 1163.2,272 1164.2,271.4 1165.2,272.1 1166.1,271.5 1167.1,271.9 1168.1,271.5 1169.1,271.8 1170.1,271.4 1171.1,271.9 1172.1,271.5 1173,271.8 1174,271.4 1175,271.9 1176,271.4 1177,272.1 1178,271.2 1179,272 1179.9,271.4 1180.9,272 1181.9,271.4 1182.9,272 1183.9,271.4 1184.9,271.9 1185.8,271.3 1186.8,272 1187.8,271.4 1188.8,271.9 1189.8,271.4 1190.8,271.9 1191.8,271.6 1192.7,272 1193.7,271.5 1194.7,272 1195.7,271.4 1196.7,271.9 1197.7,271 1198.7,272 1199.6,271.4 1200.6,272 1201.6,271.3 1202.6,271.8 1203.6,271.3 1204.6,271.8 1205.5,271.3 1206.5,271.9 1207.5,271.4 1208.5,271.9 1209.5,271.4 1210.5,272 1211.5,271.4 1212.4,272 1213.4,271.3 1214.4,271.9 1215.4,271.2 1216.4,272 1217.4,271.3 1218.4,272.2 1219.3,271.2 1220.3,272.1 1221.3,271.3 1222.3,272 1223.3,271.2 1224.3,272.1 1225.3,271.1 1226.2,271.8 1227.2,271.4 1228.2,271.7 1229.2,271.4 1230.2,271.9 1231.2,271.3 1232.1,271.9 1233.1,271.3 1234.1,272 1235.1,271.1 1236.1,272 1237.1,271.2 1238.1,272.1 1239,271.3 1240,272.1 1241,271.2 1242,271.9 1243,271.3 1244,271.9 1245,271.4 1245.9,272 1246.9,271.3 1247.9,271.9 1248.9,271.3 1249.9,271.9 1250.9,271.3 1251.8,271.9 1252.8,271.3 1253.8,271.9 1254.8,271.3 1255.8,272.1 1256.8,271.1 1257.8,271.9 1258.7,271.3 1259.7,271.9 1260.7,271.4 1261.7,272.2 1262.7,271 1263.7,271.8 1264.7,271.3 1265.6,271.8 1266.6,271.4 1267.6,271.7 1268.6,271.4 1269.6,271.7 1270.6,271.4 1271.5,271.7 1272.5,271.4 1273.5,271.7 1274.5,271.4 1275.5,271.7 1276.5,271.4 1277.5,271.7 1278.4,271.4 1279.4,271.7 1280.4,271.4 1281.4,271.7 1282.4,271.4 1283.4,271.7 1284.4,271.4 1285.3,271.7 1286.3,271.4 1287.3,271.7 1288.3,271.3 1289.3,271.7 1290.3,271.3 1291.3,271.7 1292.2,271.3 1293.2,271.7 1294.2,271.2 1295.2,271.6 1296.2,271.3 1297.2,271.6 1298.1,271.3 1299.1,271.8 1300.1,271.2 1301.1,271.8 1302.1,271.1 1303.1,271.9 1304.1,271.3 1305,271.9 1306,271.3 1307,271.9 1308,271.3 1309,271.9 1310,271.2 1311,271.9 1311.9,271.2 1312.9,271.8 1313.9,271.2 1314.9,271.9 1315.9,271.2 1316.9,271.9 1317.8,271.2 1318.8,271.8 1319.8,271.3 1320.8,271.8 1321.8,271.2 1322.8,271.9 1323.8,271.2 1324.7,271.8 1325.7,271 1326.7,272.2 1327.7,271.2 1328.7,271.9 1329.7,271.2 1330.7,271.8 1331.6,271.1 1332.6,271.9 1333.6,271.2 1334.6,271.8 1335.6,271.3 1336.6,271.8 1337.5,271.2 1338.5,271.8 1339.5,271.3 1340.5,271.8 1341.5,271.3 1342.5,271.8 1343.5,271.2 1344.4,271.9 1345.4,271.3 1346.4,271.8 1347.4,271.3 1348.4,272.3 1349.4,271.2 1350.4,271.8 1351.3,271.3 1352.3,271.8 1353.3,271.3 1354.3,271.7 1355.3,271.3 1356.3,271.8 1357.3,271.3 1358.2,271.8 1359.2,271.3 1360.2,271.7 1361.2,271.3 1362.2,271.7 1363.2,271.3 1364.1,271.7 1365.1,271.4 1366.1,271.7 1367.1,271.5 1368.1,271.7 1369.1,271.4 1370.1,271.8 1371,271.5 1372,271.8 1373,271.5 1374,271.8 1375,271.5 1376,271.8 1377,271.5 1377.9,271.7 1378.9,271.4 1379.9,271.7 1380.9,271.4 1381.9,271.9 1382.9,271.1 1383.8,271.7 1384.8,271.5 1385.8,271.8 1386.8,271.4 1387.8,271.7 1388.8,271.5 1389.8,271.8 1390.7,271.5 1391.7,271.8 1392.7,271.2 1393.7,271.8 1394.7,271.5 1395.7,271.7 1396.7,271.5 1397.6,271.8 1398.6,271.5 1399.6,271.8 1400.6,271.5 1401.6,271.7 1402.6,271.5 1403.6,271.7 1404.5,271.5 1405.5,271.8 1406.5,271.5 1407.5,271.7 1408.5,271.5 1409.5,271.7 1410.4,271.5 1411.4,271.8 1412.4,271.5 1413.4,271.7 1414.4,271.5 1415.4,271.7 1416.4,271.5 1417.3,271.8 1418.3,271.5 1419.3,271.8 1420.3,271.5 1421.3,271.8 1422.3,271.5 1423.3,271.8 1424.2,271.5 1425.2,271.7 1426.2,271.5 1427.2,271.8 1428.2,271.5 1429.2,271.7 1430.1,271.5 1431.1,271.8 1432.1,271.6 1433.1,271.8 1434.1,271.5 1435.1,271.8 1436.1,271.6 1437,271.8 1438,271.6 1439,271.9 1440,271.5 1441,271.9 1442,271.5 1443,272 1443.9,271.5 1444.9,271.9 1445.9,271.5 1446.9,271.9 1447.9,271.6 1448.9,271.8 1449.8,271.5 1450.8,271.9 1451.8,271.5 1452.8,271.9 1453.8,271.5 1454.8,272 1455.8,271 1456.7,272.6 1457.7,271.4 1458.7,272.1 1459.7,271.4 1460.7,272.1 1461.7,271.4 1462.7,272.3 1463.6,270.8 1464.6,272.3 1465.6,271.4 1466.6,272.2 1467.6,271.2 1468.6,272.5 1469.6,271 1470.5,272.1 1471.5,271.3 1472.5,272.1 1473.5,271.4 1474.5,272 1475.5,271.5 1476.4,272.2 1477.4,271.4 1478.4,272.2 1479.4,271.4 1480.4,272.3 1481.4,271.5 1482.4,272.1 1483.3,271.4 1484.3,272.2 1485.3,271.2 1486.3,272.1 1487.3,271.3 1488.3,273 1489.3,270.6 1490.2,272.2 1491.2,271.4 1492.2,272.1 1493.2,271.5 1494.2,272 1495.2,271.5 1496.1,272.1 1497.1,271.4 1498.1,272 1499.1,271.5 1500.1,272.1 1501.1,271.4 1502.1,272.1 1503,271.4 1504,272 1505,271.5 1506,272.1 1507,271.4 1508,272.1 1509,271.4 1509.9,272.1 1510.9,271.5 1511.9,272.5 1512.9,271.2 1513.9,272.2 1514.9,271.4 1515.8,272.1 1516.8,271.4 1517.8,272.1 1518.8,271.4 1519.8,272.1 1520.8,271.5 1521.8,272.1 1522.7,271.4 1523.7,272.1 1524.7,271.5 1525.7,272.1 1526.7,271.4 1527.7,272 1528.7,271.5 1529.6,272.1 1530.6,271.5 1531.6,272.3 1532.6,271.4 1533.6,272 1534.6,271.5 1535.6,272.1 1536.5,271.6 1537.5,272 1538.5,271.6 1539.5,272 1540.5,271.7 1541.5,272 1542.4,271.6 1543.4,272.1 1544.4,271.6 1545.4,272.1 1546.4,271.5 1547.4,272.1 1548.4,271.5 1549.3,272 1550.3,271.4 1551.3,272.1 1552.3,271.4 1553.3,272 1554.3,271.4 1555.3,272.1 1556.2,271.5 1557.2,272.6 1558.2,271 1559.2,272.1 1560.2,271.4 1561.2,272.1 1562.1,271.4 1563.1,272.2 1564.1,271.3 1565.1,272.1 1566.1,271.3 1567.1,272 1568.1,271.4 1569,271.9 1570,271.4 1571,272 1572,271.4 1573,272 1574,271.5 1575,272.1 1575.9,271.5 1576.9,272.1 1577.9,271.6 1578.9,272.1 1579.9,271.5 1580.9,272.1 1581.8,271.5 1582.8,272.1 1583.8,271.4 1584.8,272.3 1585.8,271.5 1586.8,272 1587.8,271.5 1588.7,272 1589.7,271.6 1590.7,272.1 1591.7,271.5 1592.7,272 1593.7,271.5 1594.7,272.1 1595.6,271.5 1596.6,272 1597.6,271.5 1598.6,272 1599.6,271.5 1600.6,272.1 1601.6,271.5 1602.5,272.1 1603.5,271.6 1604.5,272 1605.5,271.5 1606.5,272 1607.5,271.5 1608.4,272.1 1609.4,271.5 1610.4,272 1611.4,271.6 1612.4,272.1 1613.4,271.5 1614.4,272.1 1615.3,271.4 1616.3,272.2 1617.3,271.4 1618.3,272.4 1619.3,271.3 1620.3,272.1 1621.3,271.2 1622.2,272.3 1623.2,271.3 1624.2,272.1 1625.2,271.4 1626.2,272.2 1627.2,271.3 1628.1,272.1 1629.1,270.8 1630.1,272.4 1631.1,271.4 1632.1,272.3 1633.1,271.4 1634.1,272.5 1635,270.8 1636,272.3 1637,271.3 1638,272.2 1639,271.5 1640,272.1 1641,271.4 1641.9,272.1 1642.9,271.5 1643.9,272.2 1644.9,271.5 1645.9,272.1 1646.9,271.4 1647.8,272.1 1648.8,271.5 1649.8,272.2 1650.8,271.1 1651.8,272.3 1652.8,271.5 1653.8,272.1 1654.7,271.5 1655.7,272.1 1656.7,271.5 1657.7,272.1 1658.7,271.5 1659.7,272.1 1660.7,271.5 1661.6,272.1 1662.6,271.5 1663.6,272.1 1664.6,271.5 1665.6,272.3 1666.6,271.5 1667.6,272.1 1668.5,271.5 1669.5,272.1 1670.5,271.5 1671.5,272.1 1672.5,271.6 1673.5,272.1 1674.4,271.5 1675.4,272.1 1676.4,271.5 1677.4,272 1678.4,271.5 1679.4,272 1680.4,271.6 1681.3,272 1682.3,271.5 1683.3,272 1684.3,271.5 1685.3,272 1686.3,271.5 1687.3,272 1688.2,271.5 1689.2,272 1690.2,271.6 1691.2,272 1692.2,271.5 1693.2,272.1 1694.1,271.6 1695.1,272 1696.1,271.6 1697.1,272.1 1698.1,271.5 1699.1,272.1 1700.1,271.5 1701,272 1702,271.5 1703,272.1 1704,271.6 1705,272.1 1706,271.5 1707,272.1 1707.9,271.4 1708.9,272.1 1709.9,271.4 1710.9,272.1 1711.9,271.4 1712.9,272.2 1713.8,271.2 1714.8,272.1 1715.8,271.4 1716.8,272 1717.8,271.5 1718.8,272.1 1719.8,271.4 1720.7,272.2 1721.7,271.2 1722.7,272 1723.7,271.5 1724.7,272 1725.7,271.4 1726.7,272 1727.6,271.4 1728.6,271.9 1729.6,271.4 1730.6,271.9 1731.6,271.4 1732.6,271.9 1733.6,271.4 1734.5,272 1735.5,271.4 1736.5,272 1737.5,271.3 1738.5,272.1 1739.5,271.1 1740.4,272 1741.4,271.4 1742.4,271.9 1743.4,271.4 1744.4,271.9 1745.4,271.4 1746.4,271.9 1747.3,271.4 1748.3,272 1749.3,271.3 1750.3,272.2 1751.3,271.3 1752.3,271.9 1753.3,271.3 1754.2,272 1755.2,271.4 1756.2,271.9 1757.2,271 1758.2,272.1 1759.2,271.3 1760.1,271.9 1761.1,271.3 1762.1,271.8 1763.1,271.4 1764.1,271.9 1765.1,271.3 1766.1,272" stroke="#000000"/>
</g>
<text class="tk" transform="translate(198.7 1480.6) scale(1.0 1.02)" text-anchor="middle">0</text>
<text class="tk" transform="translate(460.53 1480.6) scale(1.0 1.02)" text-anchor="middle">100</text>
<text class="tk" transform="translate(722.37 1480.6) scale(1.0 1.02)" text-anchor="middle">200</text>
<text class="tk" transform="translate(984.2 1480.6) scale(1.0 1.02)" text-anchor="middle">300</text>
<text class="tk" transform="translate(1246.03 1480.6) scale(1.0 1.02)" text-anchor="middle">400</text>
<text class="tk" transform="translate(1507.87 1480.6) scale(1.0 1.02)" text-anchor="middle">500</text>
<text class="tk" transform="translate(1769.7 1480.6) scale(1.0 1.02)" text-anchor="middle">600</text>
<text class="tk" transform="translate(182 65.2) scale(1.0 1.02)" text-anchor="end">10</text>
<text class="tk" transform="translate(182 292.1) scale(1.0 1.02)" text-anchor="end">0</text>
<text class="tk" transform="translate(176.5 519) scale(1.0 1.02)" text-anchor="end">-10</text>
<text class="tk" transform="translate(176.5 745.9) scale(1.0 1.02)" text-anchor="end">-20</text>
<text class="tk" transform="translate(176.5 972.8) scale(1.0 1.02)" text-anchor="end">-30</text>
<text class="tk" transform="translate(176.5 1199.7) scale(1.0 1.02)" text-anchor="end">-40</text>
<text class="tk" transform="translate(176.5 1426.6) scale(1.0 1.02)" text-anchor="end">-50</text>
<text class="lb" transform="translate(984.5 1555.3) scale(1.0 1.06)" text-anchor="middle">Time / s</text>
<text class="lb" transform="translate(76.2 726.8) rotate(-90) scale(1.031 1.04)" text-anchor="middle">Roll Errors / deg</text>
</g>
<g id="inset1">
<rect x="380" y="320" width="980" height="425" fill="#fff"/>
<path class="ax" d="M380,320H383V745H380ZM1357,320H1360V745H1357ZM380,320H1360V322H380ZM380,743H1360V745H380ZM575,732H578V745H575ZM575,320H578V333H575ZM771,732H773V745H771ZM771,320H773V333H771ZM966,732H969V745H966ZM966,320H969V333H966ZM1162,732H1164V745H1162ZM1162,320H1164V333H1162ZM380,374H393V377H380ZM1347,374H1360V377H1347ZM380,474H393V477H380ZM1347,474H1360V477H1347ZM380,574H393V577H380ZM1347,574H1360V577H1347ZM380,674H393V677H380ZM1347,674H1360V677H1347Z"/>
<g class="d">
<path d="M381.3,617.3 382,624 382.8,617.1 383.5,623.1 384.2,615.6 385,625.4 385.7,617.6 386.4,624.7 387.2,615.9 387.9,624.2 388.7,616.6 389.4,624 390.1,616.5 390.9,624.4 391.6,615.9 392.3,624.6 393.1,614.9 393.8,626.3 394.5,613.9 395.3,638.2 396,605.5 396.7,623.7 397.5,615.5 398.2,623.5 398.9,616.6 399.7,624.5 400.4,615.6 401.1,625.4 401.9,613.2 402.6,624.6 403.4,615.4 404.1,626.4 404.8,616.4 405.6,623.8 406.3,615 407,623.7 407.8,615.8 408.5,623.1 409.2,614.9 410,623.3 410.7,613.3 411.4,624.9 412.2,615.4 412.9,624.9 413.6,614.9 414.4,634.5 415.1,602.5 415.9,626.2 416.6,612.8 417.3,625 418.1,615.4 418.8,624.4 419.5,605.5 420.3,634.5 421,615.6 421.7,622.5 422.5,614.6 423.2,622.1 423.9,614 424.7,622 425.4,614.2 426.1,623.2 426.9,612.2 427.6,620.3 428.3,613.5 429.1,620 429.8,613.1 430.6,619.3 431.3,611.5 432,619.2 432.8,610.1 433.5,618.9 434.2,610.5 435,619.2 435.7,611.4 436.4,620.1 437.2,609.6 437.9,618.4 438.6,610.1 439.4,616.4 440.1,610.3 440.8,617.4 441.6,609 442.3,615.9 443.1,606.3 443.8,617.8 444.5,608 445.3,615 446,608.2 446.7,614 447.5,608.6 448.2,614.3 448.9,605.7 449.7,613.7 450.4,606.8 451.1,613.9 451.9,606.4 452.6,612.9 453.3,605.5 454.1,612 454.8,602.5 455.5,614.4 456.3,603.2 457,611.4 457.8,601 458.5,610.2 459.2,602 460,610 460.7,601.8 461.4,609.2 462.2,600 462.9,611.2 463.6,597.7 464.4,609.2 465.1,600.1 465.8,608.1 466.6,597.7 467.3,606.1 468,591.9 468.8,608 469.5,598.1 470.3,605.8 471,595.9 471.7,604.8 472.5,593.7 473.2,603.7 473.9,595.6 474.7,603.6 475.4,587.9 476.1,609.3 476.9,592.8 477.6,604.5 478.3,593.7 479.1,600.7 479.8,590.8 480.5,600.5 481.3,591 482,600.3 482.7,591.2 483.5,600.8 484.2,580.6 485,602 485.7,587.6 486.4,599.7 487.2,589.8 487.9,599.2 488.6,590.2 489.4,597.5 490.1,588.8 490.8,603.8 491.6,588.6 492.3,597.6 493,586.9 493.8,597.2 494.5,586.5 495.2,596.9 496,584.8 496.7,594.8 497.5,586.9 498.2,593.6 498.9,586.2 499.7,595.1 500.4,584.2 501.1,593 501.9,583.8 502.6,596.2 503.3,580.1 504.1,594.5 504.8,582.5 505.5,601.4 506.3,581.4 507,593.7 507.7,580.3 508.5,595.8 509.2,581.5 509.9,602.5 510.7,579.1 511.4,592.3 512.2,579.3 512.9,589.6 513.6,577.3 514.4,591.6 515.1,573.9 515.8,597.1 516.6,579.7 517.3,587.1 518,581.5 518.8,586.3 519.5,579.3 520.2,586.4 521,580.6 521.7,587.9 522.4,580.4 523.2,586.5 523.9,579.8 524.7,586.2 525.4,579.8 526.1,585.2 526.9,577.2 527.6,585.2 528.3,578.1 529.1,585 529.8,578 530.5,583.9 531.3,577.7 532,583.4 532.7,576.9 533.5,585.4 534.2,575.6 534.9,582.8 535.7,576.9 536.4,583 537.1,576.9 537.9,583.2 538.6,575.3 539.4,584.2 540.1,574.7 540.8,583.1 541.6,573.3 542.3,582.7 543,573.7 543.8,581.2 544.5,573.6 545.2,585.9 546,572.9 546.7,582.8 547.4,572.3 548.2,580.6 548.9,569.9 549.6,580.4 550.4,571.8 551.1,579.8 551.9,570.2 552.6,584.8 553.3,571.4 554.1,579.5 554.8,570.4 555.5,576.2 556.3,569.2 557,576.3 557.7,570.2 558.5,575.1 559.2,569.2 559.9,577 560.7,568.7 561.4,574.3 562.1,567.1 562.9,573.9 563.6,564.1 564.3,579.9 565.1,555.8 565.8,573.8 566.6,562.6 567.3,569.6 568,558.4 568.8,568.7 569.5,560.4 570.2,567.7 571,558.6 571.7,565.1 572.4,558.6 573.2,565.4 573.9,557.6 574.6,562.9 575.4,555.7 576.1,562.7 576.8,552.4 577.6,562.1 578.3,550.2 579.1,562.3 579.8,551.5 580.5,559.7 581.3,551 582,560.1 582.7,542.4 583.5,558.6 584.2,547.2 584.9,559.4 585.7,547.8 586.4,556.6 587.1,547.1 587.9,554.8 588.6,547.2 589.3,554.1 590.1,544.8 590.8,552.6 591.5,541.9 592.3,554.6 593,542.5 593.8,552 594.5,542.8 595.2,548.9 596,541.1 596.7,548 597.4,540.8 598.2,547.4 598.9,538.6 599.6,545.9 600.4,538.2 601.1,544.4 601.8,536.9 602.6,543.2 603.3,535.3 604,542.5 604.8,533.6 605.5,540.2 606.3,532.5 607,538.4 607.7,531.3 608.5,538.8 609.2,528.7 609.9,534.8 610.7,525.5 611.4,533.4 612.1,525.8 612.9,531.4 613.6,523.6 614.3,528.7 615.1,523.2 615.8,527 616.5,520.2 617.3,524.3 618,519.2 618.7,524.3 619.5,516.4 620.2,521 621,515.1 621.7,520.7 622.4,510.2 623.2,517.5 623.9,510 624.6,515.7 625.4,507.9 626.1,513 626.8,505.8 627.6,510.8 628.3,504.2 629,508.4 629.8,502.8 630.5,507.6 631.2,501.1 632,504.3 632.7,498.6 633.5,502.4 634.2,495.9 634.9,501.3 635.7,495.1 636.4,499.7 637.1,494 637.9,499.1 638.6,492.3 639.3,495.9 640.1,490.8 640.8,494.9 641.5,488.9 642.3,493 643,486.1 643.7,491.8 644.5,483.7 645.2,490.2 646,484.1 646.7,488.2 647.4,482.7 648.2,486.3 648.9,481 649.6,485.6 650.4,480 651.1,483.8 651.8,478 652.6,482 653.3,477.4 654,480.7 654.8,474.9 655.5,480.5 656.2,472.6 657,479.5 657.7,472.8 658.4,477.8 659.2,470.8 659.9,478.3 660.7,470 661.4,475.5 662.1,467.4 662.9,473.7 663.6,464.9 664.3,472.7 665.1,464.7 665.8,471.4 666.5,463.7 667.3,469.6 668,462.6 668.7,469.1 669.5,461.4 670.2,466.3 670.9,459 671.7,464 672.4,458.3 673.2,464.3 673.9,456.1 674.6,463.7 675.4,453.7 676.1,462.1 676.8,451.3 677.6,461.8 678.3,451 679,461.3 679.8,448.8 680.5,458.6 681.2,446.5 682,458.7 682.7,446.8 683.4,457.1 684.2,445 684.9,454.5 685.6,442.4 686.4,456 687.1,441.6 687.9,453.6 688.6,441.2 689.3,452.6 690.1,440.1 690.8,450.2 691.5,438.6 692.3,450 693,438.7 693.7,450.6 694.5,437 695.2,450.3 695.9,433.2 696.7,449 697.4,434.8 698.1,449.7 698.9,432.3 699.6,450.4 700.4,423.7 701.1,446.4 701.8,433 702.6,447.1 703.3,432.5 704,447.2 704.8,431.3 705.5,445 706.2,432.1 707,445.8 707.7,430 708.4,447.7 709.2,422 709.9,446.4 710.6,428.9 711.4,447 712.1,428.9 712.8,445.5 713.6,428.1 714.3,445.9 715.1,429 715.8,445.4 716.5,430.7 717.3,442.9 718,426.8 718.7,443.3 719.5,428.9 720.2,445.4 720.9,428.9 721.7,446.5 722.4,425.1 723.1,444 723.9,427.3 724.6,445 725.3,426 726.1,443.1 726.8,425.7 727.6,443.2 728.3,426.1 729,444.4 729.8,427.7 730.5,443.2 731.2,425.2 732,442.9 732.7,428.3 733.4,446.8 734.2,426.8 734.9,440.4 735.6,426.4 736.4,441.4 737.1,429.3 737.8,440.3 738.6,427.4 739.3,440.4 740,428.4 740.8,439.4 741.5,428.4 742.3,440.2 743,426.5 743.7,441.2 744.5,428.1 745.2,439.6 745.9,426.1 746.7,439.1 747.4,427.4 748.1,440.3 748.9,428.6 749.6,438.7 750.3,423.5 751.1,444 751.8,427 752.5,439.1 753.3,427.2 754,438.8 754.8,428.4 755.5,439.5 756.2,427.4 757,439.7 757.7,426.1 758.4,437.5 759.2,427.6 759.9,436.7 760.6,426.1 761.4,438.5 762.1,426.9 762.8,438.3 763.6,425.6 764.3,436.8 765,427.1 765.8,437.2 766.5,426 767.2,438.4 768,425 768.7,437.8 769.5,426.1 770.2,437.8 770.9,425.5 771.7,436.5 772.4,425.8 773.1,437.7 773.9,425 774.6,436 775.3,426.9 776.1,435.2 776.8,425.2 777.5,437.1 778.3,425.9 779,436.9 779.7,425 780.5,436.5 781.2,424.4 782,436.8 782.7,426 783.4,435.6 784.2,425.4 784.9,436 785.6,424.9 786.4,436 787.1,425.8 787.8,436.5 788.6,425.5 789.3,434.2 790,423.9 790.8,434.3 791.5,425.3 792.2,436.7 793,424.1 793.7,434.1 794.4,423.2 795.2,435 795.9,424.2 796.7,435.7 797.4,423.4 798.1,435.6 798.9,424.4 799.6,434.2 800.3,423.4 801.1,433.1 801.8,422.9 802.5,434.8 803.3,423.3 804,432.7 804.7,424.4 805.5,434.3 806.2,422.7 806.9,434.2 807.7,423 808.4,433.3 809.2,422.2 809.9,433.9 810.6,422.7 811.4,434.1 812.1,422.2 812.8,433.2 813.6,421 814.3,433.2 815,421.5 815.8,434.7 816.5,408.5 817.2,434.3 818,420.6 818.7,431.5 819.4,421.2 820.2,437.3 820.9,413.1 821.6,431.1 822.4,421.5 823.1,431.8 823.9,421.4 824.6,432.4 825.3,419.8 826.1,432.2 826.8,419.4 827.5,432.1 828.3,418.9 829,431.4 829.7,419.7 830.5,430.8 831.2,420.4 831.9,429.8 832.7,419.2 833.4,428.7 834.1,419.8 834.9,428.9 835.6,420.4 836.4,427.2 837.1,420.4 837.8,427.5 838.6,418.7 839.3,428.1 840,419.3 840.8,426.4 841.5,412.8 842.2,427.6 843,418.4 843.7,427 844.4,417.8 845.2,425.5 845.9,418.4 846.6,426 847.4,417.9 848.1,425.3 848.8,416.8 849.6,425.1 850.3,416.7 851.1,426.4 851.8,415.3 852.5,424.9 853.3,415.9 854,430.6 854.7,415.5 855.5,425 856.2,413.8 856.9,424.1 857.7,415.4 858.4,424.7 859.1,413.6 859.9,422.8 860.6,413.3 861.3,423 862.1,415 862.8,423.7 863.6,414.7 864.3,422.9 865,412.9 865.8,423.5 866.5,415.1 867.2,422.4 868,414.6 868.7,422.7 869.4,413.6 870.2,422.7 870.9,414.2 871.6,421.7 872.4,414.1 873.1,421.9 873.8,413.9 874.6,421.6 875.3,415.3 876,421.8 876.8,414.7 877.5,421.1 878.3,413.2 879,420.8 879.7,414.1 880.5,422.3 881.2,413 881.9,420.9 882.7,413.2 883.4,421.7 884.1,413.2 884.9,420.4 885.6,409.6 886.3,420.4 887.1,413.5 887.8,421.5 888.5,412.4 889.3,420.5 890,413.1 890.8,421.7 891.5,413 892.2,420.2 893,411.5 893.7,421.7 894.4,411.5 895.2,421.6 895.9,412.7 896.6,420.7 897.4,412 898.1,422.2 898.8,410.5 899.6,422.2 900.3,410.8 901,421.5 901.8,409.5 902.5,421.6 903.2,410.5 904,422.8 904.7,409.7 905.5,421.9 906.2,410.2 906.9,425.4 907.7,411.6 908.4,421 909.1,412.1 909.9,419.4 910.6,411.1 911.3,420.5 912.1,411.2 912.8,419.1 913.5,409.3 914.3,419.7 915,409.4 915.7,424.6 916.5,403.4 917.2,421.3 918,408.5 918.7,422.4 919.4,409.5 920.2,422.7 920.9,410.3 921.6,420.6 922.4,408.3 923.1,422.6 923.8,409 924.6,420.4 925.3,409.7 926,419.8 926.8,411.8 927.5,421.2 928.2,410.1 929,422.4 929.7,408.3 930.4,421.1 931.2,400.6 931.9,424 932.7,410.7 933.4,423.4 934.1,409.4 934.9,420.3 935.6,409.7 936.3,420 937.1,409.7 937.8,422.3 938.5,411.1 939.3,421.3 940,409.3 940.7,422.5 941.5,410 942.2,423.8 942.9,407.9 943.7,422.9 944.4,407.5 945.2,424.4 945.9,408.8 946.6,429.8 947.4,406.4 948.1,426 948.8,408.4 949.6,423.9 950.3,407.9 951,427.7 951.8,405.8 952.5,421 953.2,412.4 954,419.2 954.7,412 955.4,422.7 956.2,410.3 956.9,422.9 957.6,410.2 958.4,425.4 959.1,406.6 959.9,426.1 960.6,408.4 961.3,426.7 962.1,409 962.8,426.7 963.5,407.2 964.3,423.6 965,410.8 965.7,423 966.5,410.9 967.2,425.2 967.9,409.8 968.7,423.9 969.4,410.4 970.1,423.3 970.9,411.3 971.6,424.4 972.4,410.1 973.1,423.8 973.8,409.6 974.6,426.9 975.3,404.4 976,424 976.8,409.7 977.5,422.8 978.2,412.1 979,430.4 979.7,404.4 980.4,423.1 981.2,412.1 981.9,421.8 982.6,413.1 983.4,421.3 984.1,413.6 984.8,421.8 985.6,414.6 986.3,421.8 987.1,414.4 987.8,422.4 988.5,413.9 989.3,420.9 990,414.4 990.7,420.9 991.5,415.3 992.2,421.4 992.9,414.8 993.7,421.4 994.4,414.8 995.1,421.3 995.9,415 996.6,421 997.3,415.2 998.1,422.2 998.8,413.9 999.6,421.4 1000.3,413.5 1001,421.9 1001.8,414.1 1002.5,423.3 1003.2,413.3 1004,421.8 1004.7,414.2 1005.4,421.7 1006.2,413.4 1006.9,424.6 1007.6,411.8 1008.4,423.9 1009.1,408.5 1009.8,425.9 1010.6,412.3 1011.3,425 1012,411.7 1012.8,426.2 1013.5,413.8 1014.3,426.2 1015,410.9 1015.7,425.1 1016.5,411.2 1017.2,424.7 1017.9,412 1018.7,426.5 1019.4,411.3 1020.1,426.5 1020.9,412 1021.6,425.2 1022.3,414 1023.1,425.1 1023.8,412.4 1024.5,426.9 1025.3,411.4 1026,424.3 1026.8,408.3 1027.5,433.5 1028.2,413 1029,427.2 1029.7,411.3 1030.4,426 1031.2,411.1 1031.9,427.4 1032.6,413.6 1033.4,426.6 1034.1,414 1034.8,426.2 1035.6,412.1 1036.3,426.2 1037,414.4 1037.8,426 1038.5,414 1039.2,425.2 1040,411.7 1040.7,427.5 1041.5,413.9 1042.2,426.7 1042.9,414.7 1043.7,437.6 1044.4,413 1045.1,424.8 1045.9,415.6 1046.6,424.7 1047.3,415.6 1048.1,423.3 1048.8,414.6 1049.5,425.1 1050.3,415.3 1051,425.7 1051.7,414.1 1052.5,423.8 1053.2,415.4 1054,423.9 1054.7,415.1 1055.4,423.7 1056.2,416.3 1056.9,423.2 1057.6,417.3 1058.4,422.2 1059.1,416.2 1059.8,422.9 1060.6,416.7 1061.3,423.3 1062,416.3 1062.8,423.3 1063.5,416.1 1064.2,423.6 1065,416.8 1065.7,422.3 1066.4,415.7 1067.2,423.1 1067.9,415.9 1068.7,427.1 1069.4,409.6 1070.1,423.2 1070.9,416.9 1071.6,423.7 1072.3,415.7 1073.1,422.5 1073.8,416.7 1074.5,423.6 1075.3,417.2 1076,423.2 1076.7,411.8 1077.5,423 1078.2,416.3 1078.9,422.4 1079.7,416.6 1080.4,423.1 1081.2,416.9 1081.9,423 1082.6,416.6 1083.4,422.6 1084.1,416.4 1084.8,422.5 1085.6,416.7 1086.3,422.9 1087,416.7 1087.8,422.2 1088.5,416.7 1089.2,422.1 1090,416.9 1090.7,423.1 1091.4,416.7 1092.2,422.2 1092.9,416.7 1093.6,422.6 1094.4,416.9 1095.1,423.6 1095.9,416.5 1096.6,422.9 1097.3,416.4 1098.1,423.4 1098.8,417.6 1099.5,423.1 1100.3,417.5 1101,422.3 1101.7,417 1102.5,423.1 1103.2,417.7 1103.9,421.9 1104.7,417.4 1105.4,422.6 1106.1,418.3 1106.9,422.6 1107.6,417.4 1108.4,421.9 1109.1,417.3 1109.8,423 1110.6,417.2 1111.3,424.4 1112,415.7 1112.8,424 1113.5,415.4 1114.2,425.5 1115,416 1115.7,424 1116.4,415.6 1117.2,424.4 1117.9,416.9 1118.6,422.5 1119.4,415.6 1120.1,424.6 1120.9,414.3 1121.6,424.5 1122.3,414.4 1123.1,426.4 1123.8,403.8 1124.5,437.8 1125.3,411 1126,427.2 1126.7,410.3 1127.5,425.9 1128.2,409.6 1128.9,428.9 1129.7,395.8 1130.4,429.2 1131.1,410.9 1131.9,428.8 1132.6,407.1 1133.3,434.4 1134.1,401.6 1134.8,427 1135.6,409.4 1136.3,426.5 1137,411.2 1137.8,423.6 1138.5,411.9 1139.2,426.9 1140,408.5 1140.7,426.4 1141.4,408.1 1142.2,427.2 1142.9,410.8 1143.6,424.1 1144.4,407.6 1145.1,427.2 1145.8,404.6 1146.6,423.8 1147.3,407.2 1148.1,443.6 1148.8,391.2 1149.5,425.7 1150.3,407.5 1151,423.5 1151.7,410.1 1152.5,422.3 1153.2,410.7 1153.9,424.8 1154.7,408.3 1155.4,422.5 1156.1,410.2 1156.9,423 1157.6,409.2 1158.3,423.7 1159.1,409.1 1159.8,422.2 1160.5,410.5 1161.3,423.8 1162,409.3 1162.8,423.3 1163.5,408 1164.2,424.2 1165,409.4 1165.7,431.3 1166.4,402.4 1167.2,424.6 1167.9,408.4 1168.6,423.4 1169.4,409.1 1170.1,423.5 1170.8,408.6 1171.6,424.3 1172.3,410.1 1173,422.6 1173.8,408.2 1174.5,423.5 1175.3,409.8 1176,423.2 1176.7,408 1177.5,421.3 1178.2,409 1178.9,423.7 1179.7,410.5 1180.4,426.8 1181.1,408.8 1181.9,421.3 1182.6,409.2 1183.3,421.6 1184.1,411.6 1184.8,420.6 1185.5,411.3 1186.3,418.9 1187,412.2 1187.7,419.4 1188.5,411.1 1189.2,420.9 1190,409.9 1190.7,420.9 1191.4,409.3 1192.2,421.5 1192.9,409.7 1193.6,422 1194.4,408.4 1195.1,422.6 1195.8,408.4 1196.6,420.1 1197.3,408 1198,422.8 1198.8,409.2 1199.5,434.2 1200.2,398.5 1201,422.5 1201.7,408.3 1202.5,423.1 1203.2,407.8 1203.9,424.3 1204.7,405.8 1205.4,423.6 1206.1,406.3 1206.9,421.2 1207.6,408.6 1208.3,420.8 1209.1,407.9 1209.8,422.3 1210.5,408.6 1211.3,421.5 1212,408.7 1212.7,420.9 1213.5,408.2 1214.2,420 1214.9,409.6 1215.7,420.9 1216.4,408.1 1217.2,420.9 1217.9,409 1218.6,421.8 1219.4,407 1220.1,427.2 1220.8,408.9 1221.6,419.6 1222.3,407.8 1223,419.5 1223.8,409.5 1224.5,420.5 1225.2,408.5 1226,419 1226.7,408.1 1227.4,420.9 1228.2,407.5 1228.9,419.8 1229.7,408.6 1230.4,418.5 1231.1,408.5 1231.9,420.5 1232.6,408 1233.3,420.3 1234.1,409 1234.8,418.7 1235.5,407.8 1236.3,419.2 1237,408.1 1237.7,420.1 1238.5,407.4 1239.2,418.9 1239.9,409.3 1240.7,419.8 1241.4,407.1 1242.1,419.7 1242.9,405.8 1243.6,422.4 1244.4,406.1 1245.1,427.7 1245.8,402.7 1246.6,422.3 1247.3,402.4 1248,424.9 1248.8,404.9 1249.5,421.4 1250.2,406.4 1251,424.4 1251.7,402.9 1252.4,421.9 1253.2,392.8 1253.9,426.6 1254.6,406.1 1255.4,424.2 1256.1,405.7 1256.9,429.6 1257.6,391.7 1258.3,423.9 1259.1,403.4 1259.8,422.8 1260.5,406.3 1261.3,419.8 1262,405 1262.7,421.1 1263.5,406.4 1264.2,422.4 1264.9,406.9 1265.7,420 1266.4,405.3 1267.1,420.4 1267.9,407.5 1268.6,420.9 1269.3,398.2 1270.1,424 1270.8,405.4 1271.6,420 1272.3,405.4 1273,419.7 1273.8,405.7 1274.5,420.3 1275.2,406.2 1276,418.6 1276.7,405.3 1277.4,420.2 1278.2,405.8 1278.9,420.3 1279.6,405.8 1280.4,424.1 1281.1,406.7 1281.8,418.8 1282.6,406.1 1283.3,419.9 1284.1,405.6 1284.8,419.5 1285.5,407.6 1286.3,420.1 1287,406.4 1287.7,418.9 1288.5,406.2 1289.2,417.6 1289.9,406.2 1290.7,418.1 1291.4,407.8 1292.1,416.5 1292.9,407.4 1293.6,417.8 1294.3,407.4 1295.1,417.1 1295.8,406.8 1296.5,417.2 1297.3,406.7 1298,417.6 1298.8,407.3 1299.5,416.3 1300.2,405.6 1301,418 1301.7,406.6 1302.4,415.6 1303.2,406.4 1303.9,417.7 1304.6,404.7 1305.4,418.2 1306.1,404.9 1306.8,416.8 1307.6,404 1308.3,418.3 1309,406.5 1309.8,418 1310.5,404.7 1311.3,417.8 1312,403.2 1312.7,418.2 1313.5,402.6 1314.2,417 1314.9,402.4 1315.7,418.9 1316.4,397.1 1317.1,417.9 1317.9,401.9 1318.6,415.5 1319.3,403.5 1320.1,418.3 1320.8,402.2 1321.5,420.4 1322.3,397.3 1323,416.4 1323.7,404.6 1324.5,416.8 1325.2,402.7 1326,416.2 1326.7,403.1 1327.4,415 1328.2,403.8 1328.9,413.2 1329.6,403.3 1330.4,415.1 1331.1,403.4 1331.8,415.8 1332.6,403.7 1333.3,415 1334,401.3 1334.8,416.8 1335.5,396.5 1336.2,414.8 1337,402.3 1337.7,413.5 1338.5,403.3 1339.2,413.2 1339.9,403.6 1340.7,413.9 1341.4,403.7 1342.1,415 1342.9,401.2 1343.6,419.5 1344.3,400.7 1345.1,413.3 1345.8,401 1346.5,415.6 1347.3,402.2 1348,414 1348.7,394.4 1349.5,418 1350.2,401.4 1350.9,413.9 1351.7,400.4 1352.4,413.4 1353.2,402.8 1353.9,414.4 1354.6,400.1 1355.4,414.9 1356.1,395.5 1356.8,412.5 1357.6,402.2 1358.3,411.5" stroke="#ff0000"/>
<path d="M381.3,433.8 382,440.6 382.8,433.7 383.5,439.7 384.2,432 385,441.6 385.7,433.6 386.4,440.4 387.2,431.8 387.9,440.2 388.7,432.8 389.4,440.3 390.1,433 390.9,441 391.6,432.7 392.3,441.6 393.1,432 393.8,443.7 394.5,431.4 395.3,455.9 396,423.5 396.7,442.1 397.5,434.2 398.2,442.5 398.9,436 399.7,444.1 400.4,435 401.1,444.8 401.9,432.4 402.6,443.7 403.4,434.4 404.1,445.3 404.8,435.2 405.6,442.7 406.3,434 407,442.8 407.8,434.9 408.5,442.2 409.2,434 410,442.5 410.7,432.5 411.4,444.1 412.2,434.6 412.9,444.2 413.6,434.2 414.4,453.8 415.1,421.8 415.9,445.4 416.6,431.9 417.3,444.1 418.1,434.4 418.8,443.3 419.5,424.5 420.3,453.7 421,435.2 421.7,442.5 422.5,435 423.2,443 423.9,435 424.7,443.1 425.4,435.4 426.1,444.5 426.9,433.6 427.6,441.8 428.3,435.1 429.1,441.7 429.8,434.8 430.6,441.1 431.3,433.3 432,441 432.8,431.9 433.5,440.8 434.2,432.5 435,441.2 435.7,433.5 436.4,442.5 437.2,432.4 437.9,441.6 438.6,433.6 439.4,440.3 440.1,434.3 440.8,441.1 441.6,432.5 442.3,439.1 443.1,429.4 443.8,441.1 444.5,431.5 445.3,438.8 446,432.2 446.7,438.3 447.5,433.1 448.2,439 448.9,430.3 449.7,438.3 450.4,431.2 451.1,438.4 451.9,430.9 452.6,437.5 453.3,430.1 454.1,436.7 454.8,427.2 455.5,439.4 456.3,428.5 457,436.9 457.8,426.7 458.5,436.3 459.2,428.4 460,436.7 460.7,429.1 461.4,437.2 462.2,428.8 462.9,440.6 463.6,427.8 464.4,439.2 465.1,430.1 465.8,438.1 466.6,427.6 467.3,436 468,421.9 468.8,438.3 469.5,428.6 470.3,436.6 471,427 471.7,436.2 472.5,425.2 473.2,435.2 473.9,427.1 474.7,435.2 475.4,419.5 476.1,441 476.9,424.7 477.6,436.6 478.3,425.9 479.1,433.1 479.8,423.4 480.5,433.5 481.3,424.3 482,434 482.7,425.1 483.5,435 484.2,414.7 485,435.9 485.7,421.5 486.4,433.5 487.2,423.6 487.9,433.2 488.6,424.7 489.4,432.6 490.1,424.6 490.8,439.9 491.6,425 492.3,434.3 493,423.9 493.8,434.5 494.5,424.3 495.2,435.1 496,423.4 496.7,433.8 497.5,425.8 498.2,432 498.9,424.1 499.7,432.5 500.4,421.1 501.1,429.4 501.9,420.5 502.6,433.2 503.3,417.4 504.1,432.1 504.8,420.3 505.5,439.3 506.3,419.4 507,431.8 507.7,418.5 508.5,434.2 509.2,420.1 509.9,441.3 510.7,418 511.4,431.5 512.2,418.6 512.9,428.9 513.6,416.8 514.4,431.2 515.1,413.8 515.8,437.3 516.6,420.3 517.3,428.1 518,422.9 518.8,428.1 519.5,421.1 520.2,428.2 521,422.3 521.7,429.6 522.4,422 523.2,428.2 523.9,421.9 524.7,428.7 525.4,422.6 526.1,428.3 526.9,420.6 527.6,428.8 528.3,422 529.1,429 529.8,422 530.5,428 531.3,421.7 532,427.4 532.7,421 533.5,429.4 534.2,419.7 534.9,426.9 535.7,421 536.4,427 537.1,421 537.9,427.4 538.6,419.5 539.4,428.5 540.1,419.1 540.8,427.5 541.6,417.8 542.3,427.3 543,418.3 543.8,426 544.5,418.5 545.2,431 546,418.4 546.7,428.6 547.4,418.4 548.2,427.1 548.9,416.7 549.6,427.6 550.4,419.2 551.1,427.6 551.9,418.3 552.6,433.1 553.3,419.8 554.1,428.1 554.8,419.1 555.5,425.1 556.3,418.2 557,425.5 557.7,419.5 558.5,424.5 559.2,418.6 559.9,426.4 560.7,418.4 561.4,424.3 562.1,417.5 562.9,424.7 563.6,415.3 564.3,431.5 565.1,407.7 565.8,425.9 566.6,415.1 567.3,422.3 568,411.4 568.8,422.1 569.5,414 570.2,421.8 571,413.1 571.7,420 572.4,413.9 573.2,420.9 573.9,413.6 574.6,419.5 575.4,412.9 576.1,420.6 576.8,410.7 577.6,420.8 578.3,409.2 579.1,421.7 579.8,411.3 580.5,419.9 581.3,411.6 582,421.1 582.7,403.8 583.5,420.4 584.2,409.4 584.9,422 585.7,410.8 586.4,420.1 587.1,411 587.9,418.9 588.6,411.7 589.3,418.9 590.1,409.8 590.8,417.8 591.5,407.5 592.3,420.5 593,408.8 593.8,418.6 594.5,409.8 595.2,416.2 596,408.8 596.7,416.1 597.4,409.3 598.2,416.1 598.9,407.5 599.6,415.1 600.4,407.6 601.1,414 601.8,406.7 602.6,413.4 603.3,406.3 604,414.4 604.8,406.4 605.5,413.9 606.3,407 607,413.8 607.7,407.6 608.5,416 609.2,406.7 609.9,413.9 610.7,405.3 611.4,413.8 612.1,406.8 612.9,413 613.6,405.8 614.3,411.5 615.1,406.6 615.8,411 616.5,404.8 617.3,409.7 618,405.5 618.7,411.7 619.5,404.8 620.2,410.5 621,405.6 621.7,412.3 622.4,402.9 623.2,411.1 623.9,404.5 624.6,411 625.4,404.1 626.1,410.1 626.8,403.7 627.6,409.4 628.3,403.6 629,408.5 629.8,403.7 630.5,409.3 631.2,403.4 632,407.3 632.7,402.3 633.5,406.7 634.2,400.7 634.9,406.6 635.7,400.9 636.4,406.1 637.1,401 637.9,406.7 638.6,400.5 639.3,404.7 640.1,400.2 640.8,404.9 641.5,399.5 642.3,404.2 643,397.9 643.7,404.3 644.5,397 645.2,404.2 646,398.8 646.7,403.6 647.4,398.8 648.2,403.1 648.9,398.4 649.6,403.6 650.4,398.7 651.1,403.3 651.8,398.3 652.6,403 653.3,399.2 654,403.3 654.8,398.3 655.5,404.8 656.2,397.7 657,405 657.7,398.7 658.4,404 659.2,397.2 659.9,405.1 660.7,397 661.4,402.8 662.1,395 662.9,402 663.6,393.9 664.3,402.4 665.1,395.2 665.8,402.6 666.5,395.6 667.3,402.3 668,395.7 668.7,402.3 669.5,394.8 670.2,399.9 670.9,392.8 671.7,398.1 672.4,392.9 673.2,399.5 673.9,391.9 674.6,400 675.4,390.6 676.1,399.5 676.8,389.3 677.6,400.4 678.3,390.6 679,402 679.8,390.4 680.5,401.3 681.2,390 682,402.3 682.7,390.6 683.4,401.1 684.2,389.1 684.9,398.7 685.6,387 686.4,401 687.1,387.1 687.9,399.6 688.6,387.6 689.3,399.4 690.1,387.4 690.8,398 691.5,386.9 692.3,398.8 693,388.2 693.7,400.7 694.5,387.5 695.2,401 695.9,384.3 696.7,400.3 697.4,386.2 698.1,401.1 698.9,383.8 699.6,401.9 700.4,375.6 701.1,398.7 701.8,385.6 702.6,400 703.3,385.7 704,400.5 704.8,384.6 705.5,398.3 706.2,385.4 707,399.1 707.7,383.3 708.4,400.9 709.2,375.4 709.9,399.9 710.6,382.4 711.4,400.6 712.1,382.6 712.8,399.3 713.6,382 714.3,400 715.1,383.4 715.8,399.9 716.5,385.5 717.3,397.8 718,381.6 718.7,398.1 719.5,383.6 720.2,400.2 720.9,383.7 721.7,401.2 722.4,379.8 723.1,398.9 723.9,382.3 724.6,400.1 725.3,381.1 726.1,398.2 726.8,380.8 727.6,398.4 728.3,381.4 729,399.9 729.8,383.4 730.5,399 731.2,381.1 732,399 732.7,384.5 733.4,403 734.2,382.9 734.9,396.5 735.6,382.3 736.4,397.3 737.1,385.1 737.8,396 738.6,383.1 739.3,396.4 740,384.8 740.8,396.1 741.5,385.4 742.3,397.7 743,384.3 743.7,399.3 744.5,386.2 745.2,397.6 745.9,384.1 746.7,397 747.4,385.2 748.1,398 748.9,386.3 749.6,396.2 750.3,381.1 751.1,402 751.8,385.2 752.5,397.7 753.3,386.1 754,397.5 754.8,386.8 755.5,397.6 756.2,385.2 757,397.7 757.7,384.3 758.4,396 759.2,386.4 759.9,395.7 760.6,385.2 761.4,397.6 762.1,385.9 762.8,397.2 763.6,384.4 764.3,395.5 765,385.7 765.8,395.7 766.5,384.6 767.2,397.1 768,383.8 768.7,396.6 769.5,385 770.2,396.8 770.9,384.6 771.7,395.7 772.4,385.1 773.1,397 773.9,384.4 774.6,395.5 775.3,386.5 776.1,395 776.8,385 777.5,397 778.3,385.9 779,397 779.7,385.1 780.5,396.7 781.2,384.6 782,397 782.7,386.2 783.4,395.8 784.2,385.7 784.9,396.3 785.6,385.2 786.4,396.4 787.1,386.2 787.8,397 788.6,386.1 789.3,394.9 790,384.7 790.8,395.2 791.5,386.2 792.2,397.7 793,385.2 793.7,395.3 794.4,384.6 795.2,396.4 795.9,385.7 796.7,397.3 797.4,385.2 798.1,397.5 798.9,386.4 799.6,396.3 800.3,385.6 801.1,395.3 801.8,385.2 802.5,397.3 803.3,385.8 804,395.4 804.7,387.2 805.5,397.2 806.2,385.7 806.9,397.3 807.7,386.2 808.4,396.6 809.2,385.7 809.9,397.5 810.6,386.4 811.4,397.9 812.1,386.1 812.8,397.4 813.6,385.6 814.3,398.2 815,386.8 815.8,400.2 816.5,374 817.2,399.8 818,386 818.7,396.9 819.4,386.7 820.2,402.7 820.9,378.6 821.6,396.8 822.4,387.3 823.1,397.8 823.9,387.5 824.6,398.7 825.3,386.2 826.1,398.8 826.8,386.1 827.5,399 828.3,386 829,398.4 829.7,386.7 830.5,397.6 831.2,387.1 831.9,396.4 832.7,385.6 833.4,395 834.1,386 834.9,395 835.6,386.5 836.4,393.4 837.1,386.5 837.8,393.6 838.6,384.7 839.3,394.1 840,385.3 840.8,392.4 841.5,378.8 842.2,393.6 843,384.4 843.7,393 844.4,383.9 845.2,391.6 845.9,384.4 846.6,392.1 847.4,384.2 848.1,391.9 848.8,383.5 849.6,392 850.3,383.7 851.1,393.7 851.8,382.7 852.5,392.5 853.3,383.7 854,398.6 854.7,383.7 855.5,393.4 856.2,382.4 856.9,392.9 857.7,384.5 858.4,393.9 859.1,383 859.9,392.4 860.6,383 861.3,392.7 862.1,384.8 862.8,393.6 863.6,384.7 864.3,393 865,383.1 865.8,393.7 866.5,385.2 867.2,392.4 868,384.5 868.7,392.6 869.4,383.4 870.2,392.4 870.9,383.8 871.6,391.2 872.4,383.5 873.1,391.2 873.8,383.3 874.6,391 875.3,384.8 876,391.4 876.8,384.3 877.5,390.8 878.3,383 879,390.7 879.7,384 880.5,392.3 881.2,383 881.9,390.9 882.7,383.2 883.4,391.7 884.1,383.2 884.9,390.4 885.6,379.5 886.3,390.5 887.1,383.8 887.8,391.9 888.5,383 889.3,391.3 890,384.1 890.8,392.9 891.5,384.3 892.2,391.7 893,383 893.7,393.4 894.4,383.3 895.2,393.5 895.9,384.7 896.6,392.8 897.4,384.3 898.1,394.6 898.8,382.9 899.6,394.6 900.3,383.3 901,394 901.8,382 902.5,394.1 903.2,383.1 904,395.4 904.7,382.3 905.5,394.5 906.2,382.9 906.9,397.8 907.7,383.8 908.4,393 909.1,383.8 909.9,390.9 910.6,382.6 911.3,392.3 912.1,383.3 912.8,391.4 913.5,382 914.3,392.6 915,382.6 915.7,398.1 916.5,376.7 917.2,394.3 918,381.3 918.7,394.9 919.4,381.7 920.2,394.7 920.9,382 921.6,392 922.4,379.5 923.1,394.1 923.8,381 924.6,392.8 925.3,382.5 926,393.1 926.8,385.4 927.5,394.5 928.2,383.2 929,395.2 929.7,380.9 930.4,393.4 931.2,372.7 931.9,395.9 932.7,382.3 933.4,394.8 934.1,380.5 934.9,391.2 935.6,380.3 936.3,390.5 937.1,380.5 937.8,393.3 938.5,382.4 939.3,392.8 940,381.1 940.7,394.3 941.5,381.5 942.2,395.1 942.9,378.9 943.7,393.7 944.4,378.1 945.2,394.6 945.9,378.8 946.6,399.9 947.4,376.6 948.1,396.3 948.8,378.7 949.6,394.3 950.3,378.5 951,398.3 951.8,376.1 952.5,391 953.2,381.9 954,388.5 954.7,381.2 955.4,392 956.2,379.7 956.9,392.4 957.6,379.7 958.4,395 959.1,376.2 959.9,395.8 960.6,378.2 961.3,396.4 962.1,378.9 962.8,396.6 963.5,377.1 964.3,393.6 965,380.8 965.7,393 966.5,380.9 967.2,395 967.9,379.5 968.7,393.3 969.4,379.7 970.1,392.3 970.9,380.5 971.6,393.9 972.4,379.9 973.1,393.9 973.8,379.9 974.6,397.4 975.3,374.6 976,394 976.8,379.3 977.5,392.2 978.2,381.1 979,399.1 979.7,373 980.4,391.5 981.2,380.4 981.9,389.9 982.6,381 983.4,389 984.1,381.2 984.8,389.3 985.6,381.9 986.3,389.1 987.1,381.5 987.8,389.5 988.5,381 989.3,388 990,381.5 990.7,388 991.5,382.4 992.2,388.6 992.9,382 993.7,388.5 994.4,381.9 995.1,388.4 995.9,382.1 996.6,388 997.3,382 998.1,388.9 998.8,380.3 999.6,387.6 1000.3,379.5 1001,387.7 1001.8,379.7 1002.5,388.7 1003.2,378.6 1004,386.9 1004.7,379.1 1005.4,386.8 1006.2,379 1006.9,390.7 1007.6,378.4 1008.4,391 1009.1,376.2 1009.8,393.5 1010.6,379.8 1011.3,392.3 1012,378.9 1012.8,393.2 1013.5,380.7 1014.3,393.1 1015,377.8 1015.7,391.9 1016.5,377.9 1017.2,391.3 1017.9,378.5 1018.7,392.9 1019.4,377.7 1020.1,392.9 1020.9,378.2 1021.6,391.4 1022.3,380.1 1023.1,391.1 1023.8,378.5 1024.5,392.9 1025.3,377.3 1026,390.1 1026.8,374.1 1027.5,399.2 1028.2,378.5 1029,392.7 1029.7,376.6 1030.4,391.3 1031.2,376.3 1031.9,392.5 1032.6,378.6 1033.4,391.6 1034.1,379.1 1034.8,391.5 1035.6,377.5 1036.3,391.6 1037,380 1037.8,391.5 1038.5,379.5 1039.2,390.7 1040,377 1040.7,392.8 1041.5,379.2 1042.2,391.8 1042.9,379.8 1043.7,402.6 1044.4,378 1045.1,389.9 1045.9,380.6 1046.6,389.8 1047.3,380.8 1048.1,388.4 1048.8,379.7 1049.5,390 1050.3,380.2 1051,390.6 1051.7,379.1 1052.5,388.9 1053.2,380.7 1054,389.4 1054.7,380.7 1055.4,389.4 1056.2,382.1 1056.9,389.3 1057.6,383.5 1058.4,388.6 1059.1,382.8 1059.8,389.7 1060.6,383.7 1061.3,390.5 1062,383.5 1062.8,390.4 1063.5,383.1 1064.2,390.6 1065,383.7 1065.7,389 1066.4,382.3 1067.2,389.6 1067.9,382.3 1068.7,393.4 1069.4,376 1070.1,389.6 1070.9,383.3 1071.6,390.1 1072.3,382.1 1073.1,388.9 1073.8,383.2 1074.5,390.2 1075.3,383.9 1076,389.9 1076.7,378.6 1077.5,389.8 1078.2,383.1 1078.9,389.3 1079.7,383.4 1080.4,389.9 1081.2,383.8 1081.9,389.9 1082.6,383.5 1083.4,389.5 1084.1,383.3 1084.8,389.4 1085.6,383.5 1086.3,389.8 1087,383.5 1087.8,389 1088.5,383.5 1089.2,388.9 1090,383.7 1090.7,389.9 1091.4,383.5 1092.2,388.9 1092.9,383.4 1093.6,389.2 1094.4,383.4 1095.1,390.3 1095.9,383.3 1096.6,389.8 1097.3,383.4 1098.1,390.4 1098.8,384.7 1099.5,390.3 1100.3,384.8 1101,389.7 1101.7,384.4 1102.5,390.6 1103.2,385.2 1103.9,389.5 1104.7,385 1105.4,390.3 1106.1,386.1 1106.9,390.4 1107.6,385.3 1108.4,389.9 1109.1,385.4 1109.8,391.2 1110.6,385.5 1111.3,392.9 1112,384.3 1112.8,392.7 1113.5,384.3 1114.2,394.4 1115,384.8 1115.7,392.7 1116.4,384.3 1117.2,393.1 1117.9,385.6 1118.6,391.3 1119.4,384.3 1120.1,393.4 1120.9,383.1 1121.6,393.3 1122.3,383.3 1123.1,395.3 1123.8,373 1124.5,407.4 1125.3,380.9 1126,397.5 1126.7,381 1127.5,397 1128.2,381.1 1128.9,400.8 1129.7,367.8 1130.4,401 1131.1,382.5 1131.9,400.2 1132.6,378.3 1133.3,405.3 1134.1,372.4 1134.8,397.6 1135.6,379.9 1136.3,396.9 1137,381.6 1137.8,394.7 1138.5,383.6 1139.2,399.3 1140,381.6 1140.7,400.1 1141.4,382.2 1142.2,401.2 1142.9,384.5 1143.6,397.6 1144.4,380.9 1145.1,400.4 1145.8,377.8 1146.6,397.1 1147.3,380.6 1148.1,417.1 1148.8,364.7 1149.5,399.2 1150.3,381.1 1151,397.1 1151.7,383.7 1152.5,396 1153.2,384.3 1153.9,398.3 1154.7,381.8 1155.4,395.9 1156.1,383.6 1156.9,396.3 1157.6,382.5 1158.3,396.9 1159.1,382.3 1159.8,395.5 1160.5,383.9 1161.3,397.3 1162,382.9 1162.8,397 1163.5,381.8 1164.2,398.1 1165,383.3 1165.7,405.3 1166.4,376.4 1167.2,398.5 1167.9,382.3 1168.6,397.3 1169.4,382.9 1170.1,397.3 1170.8,382.4 1171.6,398.2 1172.3,384.2 1173,396.9 1173.8,382.7 1174.5,398.1 1175.3,384.7 1176,397.9 1176.7,382.5 1177.5,395.7 1178.2,383.2 1178.9,397.7 1179.7,384.3 1180.4,400.7 1181.1,382.9 1181.9,395.6 1182.6,383.8 1183.3,396.4 1184.1,386.6 1184.8,395.8 1185.5,386.6 1186.3,394.4 1187,387.9 1187.7,395.1 1188.5,387 1189.2,396.9 1190,386.1 1190.7,396.8 1191.4,384.8 1192.2,396.5 1192.9,384.1 1193.6,395.9 1194.4,382.1 1195.1,396.5 1195.8,382.3 1196.6,394.2 1197.3,382.1 1198,397 1198.8,383.6 1199.5,408.7 1200.2,372.9 1201,396.8 1201.7,382.6 1202.5,397.3 1203.2,381.9 1203.9,398.3 1204.7,379.7 1205.4,397.3 1206.1,379.8 1206.9,394.6 1207.6,381.8 1208.3,393.8 1209.1,380.8 1209.8,395.2 1210.5,382.1 1211.3,395.6 1212,383.4 1212.7,396.1 1213.5,384.1 1214.2,396.3 1214.9,385.6 1215.7,396.7 1216.4,383.7 1217.2,396.2 1217.9,384.2 1218.6,396.7 1219.4,381.7 1220.1,402 1220.8,384 1221.6,394.9 1222.3,383.3 1223,395.2 1223.8,385.5 1224.5,396.6 1225.2,384.7 1226,395 1226.7,384.2 1227.4,396.9 1228.2,383.5 1228.9,395.8 1229.7,384.6 1230.4,394.5 1231.1,384.5 1231.9,396.5 1232.6,384.1 1233.3,396.3 1234.1,385 1234.8,394.7 1235.5,383.8 1236.3,395.3 1237,384.4 1237.7,396.5 1238.5,383.9 1239.2,395.5 1239.9,386 1240.7,396.7 1241.4,383.8 1242.1,396.3 1242.9,382.2 1243.6,398.7 1244.4,382.3 1245.1,403.7 1245.8,378.6 1246.6,398.2 1247.3,378.2 1248,400.7 1248.8,380.6 1249.5,397 1250.2,382 1251,400.2 1251.7,378.9 1252.4,398 1253.2,369 1253.9,402.8 1254.6,382.3 1255.4,400.5 1256.1,382 1256.9,406 1257.6,368.2 1258.3,400.6 1259.1,380.3 1259.8,399.9 1260.5,383.6 1261.3,397.1 1262,382.1 1262.7,398 1263.5,383.1 1264.2,398.9 1264.9,383.4 1265.7,396.8 1266.4,382.3 1267.1,397.6 1267.9,384.9 1268.6,398.5 1269.3,375.9 1270.1,401.7 1270.8,383 1271.6,397.6 1272.3,382.9 1273,397.2 1273.8,383.2 1274.5,397.9 1275.2,383.8 1276,396.2 1276.7,383 1277.4,397.9 1278.2,383.6 1278.9,398.1 1279.6,383.6 1280.4,401.9 1281.1,384.5 1281.8,396.5 1282.6,383.8 1283.3,397.6 1284.1,383.3 1284.8,397.1 1285.5,385.2 1286.3,397.7 1287,384 1287.7,396.5 1288.5,383.7 1289.2,395.1 1289.9,383.6 1290.7,395.5 1291.4,385.3 1292.1,393.8 1292.9,384.7 1293.6,395.2 1294.3,384.9 1295.1,394.6 1295.8,384.4 1296.5,394.8 1297.3,384.5 1298,395.4 1298.8,385.2 1299.5,394.4 1300.2,383.8 1301,396.3 1301.7,385 1302.4,394.2 1303.2,385.1 1303.9,396.5 1304.6,383.7 1305.4,397.3 1306.1,384 1306.8,395.8 1307.6,383 1308.3,397.4 1309,385.6 1309.8,397.1 1310.5,383.8 1311.3,396.9 1312,382.4 1312.7,397.4 1313.5,381.8 1314.2,396.2 1314.9,381.7 1315.7,398.2 1316.4,376.4 1317.1,397.2 1317.9,381.1 1318.6,394.8 1319.3,382.8 1320.1,397.5 1320.8,381.4 1321.5,399.6 1322.3,376.4 1323,395.4 1323.7,383.5 1324.5,395.6 1325.2,381.4 1326,394.8 1326.7,381.6 1327.4,393.5 1328.2,382.1 1328.9,391.5 1329.6,381.5 1330.4,393.2 1331.1,381.7 1331.8,394.2 1332.6,382.3 1333.3,393.9 1334,380.3 1334.8,396 1335.5,375.8 1336.2,393.9 1337,381.2 1337.7,392.2 1338.5,381.9 1339.2,391.7 1339.9,382.2 1340.7,392.5 1341.4,382.5 1342.1,393.8 1342.9,380.1 1343.6,398.4 1344.3,379.6 1345.1,392.2 1345.8,379.8 1346.5,394.4 1347.3,381.1 1348,392.9 1348.7,373.2 1349.5,396.7 1350.2,379.8 1350.9,392.1 1351.7,378.3 1352.4,391.3 1353.2,380.9 1353.9,392.8 1354.6,378.8 1355.4,393.9 1356.1,374.6 1356.8,391.5 1357.6,381.2 1358.3,390.5" stroke="#00ff00"/>
<path d="M381.3,376.4 382,383.1 382.8,376.2 383.5,382.1 384.2,374.3 385,383.8 385.7,375.7 386.4,382.5 387.2,373.8 387.9,382.1 388.7,374.6 389.4,382 390.1,374.6 390.9,382.6 391.6,374.2 392.3,383 393.1,373.3 393.8,384.9 394.5,372.6 395.3,397 396,364.5 396.7,383 397.5,375 398.2,383.3 398.9,376.6 399.7,384.7 400.4,375.5 401.1,385.2 401.9,372.8 402.6,383.9 403.4,374.5 404.1,385.4 404.8,375.1 405.6,382.6 406.3,373.8 407,382.6 407.8,374.8 408.5,382.2 409.2,374.1 410,382.6 410.7,372.7 411.4,384.4 412.2,374.9 412.9,384.6 413.6,374.7 414.4,394.4 415.1,362.4 415.9,386.1 416.6,372.7 417.3,384.9 418.1,375.3 418.8,384.3 419.5,365.6 420.3,394.9 421,376.4 421.7,383.7 422.5,376.3 423.2,384.4 423.9,376.6 424.7,384.8 425.4,377.2 426.1,386.4 426.9,375.6 427.6,384 428.3,377.4 429.1,384.1 429.8,377.4 430.6,383.8 431.3,376.2 432,384 432.8,375 433.5,384.1 434.2,375.8 435,384.7 435.7,377.1 436.4,386.3 437.2,376.3 437.9,385.6 438.6,377.7 439.4,384.6 440.1,378.7 440.8,385.7 441.6,377.2 442.3,384 443.1,374.4 443.8,386.2 444.5,376.8 445.3,384.2 446,377.7 446.7,384 447.5,378.9 448.2,385 448.9,376.4 449.7,384.5 450.4,377.7 451.1,385 451.9,377.6 452.6,384.3 453.3,377.1 454.1,383.8 454.8,374.5 455.5,386.8 456.3,376.1 457,384.6 457.8,374.6 458.5,384.2 459.2,376.4 460,384.8 460.7,377.3 461.4,385.6 462.2,377.2 462.9,389.2 463.6,376.4 464.4,388 465.1,378.9 465.8,387 466.6,376.6 467.3,385.1 468,371.1 468.8,387.6 469.5,378 470.3,386.1 471,376.6 471.7,385.9 472.5,375 473.2,385.1 473.9,377.1 474.7,385.3 475.4,369.8 476.1,391.5 476.9,375.2 477.6,387.3 478.3,376.7 479.1,384 479.8,374.5 480.5,384.8 481.3,375.7 482,385.4 482.7,376.7 483.5,386.7 484.2,366.6 485,387.9 485.7,373.6 486.4,385.7 487.2,375.9 487.9,385.7 488.6,377.4 489.4,385.4 490.1,377.5 490.8,392.9 491.6,378.1 492.3,387.5 493,377.2 493.8,387.9 494.5,377.8 495.2,388.7 496,377.1 496.7,387.7 497.5,379.8 498.2,386.1 498.9,378.3 499.7,386.8 500.4,375.5 501.1,383.9 501.9,375.1 502.6,388 503.3,372.3 504.1,387.1 504.8,375.4 505.5,394.5 506.3,374.7 507,387.2 507.7,374 508.5,389.7 509.2,375.6 509.9,396.8 510.7,373.5 511.4,386.9 512.2,374 512.9,384.4 513.6,372.2 514.4,386.7 515.1,369.2 515.8,392.7 516.6,375.8 517.3,383.6 518,378.3 518.8,383.6 519.5,376.6 520.2,383.6 521,377.8 521.7,385 522.4,377.4 523.2,383.7 523.9,377.3 524.7,384.1 525.4,378 526.1,383.8 526.9,376.2 527.6,384.5 528.3,377.8 529.1,384.8 529.8,377.9 530.5,383.9 531.3,377.7 532,383.5 532.7,377.1 533.5,385.6 534.2,376 534.9,383.2 535.7,377.4 536.4,383.5 537.1,377.6 537.9,384.1 538.6,376.2 539.4,385.3 540.1,376 540.8,384.4 541.6,374.8 542.3,384.4 543,375.6 543.8,383.4 544.5,376 545.2,388.6 546,376.1 546.7,386.4 547.4,376.4 548.2,385.2 548.9,374.9 549.6,385.9 550.4,377.7 551.1,386.2 551.9,377 552.6,391.9 553.3,378.7 554.1,387.1 554.8,378.3 555.5,384.4 556.3,377.6 557,385 557.7,379.2 558.5,384.4 559.2,378.7 559.9,386.8 560.7,378.9 561.4,385.2 562.1,378.6 562.9,386 563.6,376.9 564.3,393.3 565.1,369.8 565.8,388.3 566.6,377.7 567.3,385.2 568,374.5 568.8,385.4 569.5,377.6 570.2,385.6 571,377.2 571.7,384.3 572.4,378.5 573.2,385.8 573.9,378.7 574.6,384.8 575.4,378.5 576.1,386.3 576.8,376.6 577.6,386.8 578.3,375.5 579.1,388.1 579.8,377.9 580.5,386.7 581.3,378.5 582,388.1 582.7,371 583.5,387.8 584.2,377 584.9,389.7 585.7,378.7 586.4,388.2 587.1,379.2 587.9,387.3 588.6,380.2 589.3,387.6 590.1,378.7 590.8,386.9 591.5,376.7 592.3,389.9 593,378.3 593.8,388.3 594.5,379.7 595.2,386.3 596,379 596.7,386.4 597.4,379.8 598.2,386.8 598.9,378.4 599.6,386.1 600.4,378.8 601.1,385.4 601.8,378.2 602.6,385.1 603.3,378.2 604,386.4 604.8,378.6 605.5,386.2 606.3,379.5 607,386.5 607.7,380.4 608.5,389 609.2,379.9 609.9,387.1 610.7,378.6 611.4,387.3 612.1,380.4 612.9,386.7 613.6,379.7 614.3,385.4 615.1,380.7 615.8,385.2 616.5,379.1 617.3,384 618,380 618.7,386.3 619.5,379.5 620.2,385.3 621,380.6 621.7,387.4 622.4,378.1 623.2,386.4 623.9,379.9 624.6,386.5 625.4,379.7 626.1,385.8 626.8,379.6 627.6,385.6 628.3,380 629,385.1 629.8,380.5 630.5,386.3 631.2,380.7 632,384.8 632.7,380 633.5,384.6 634.2,378.8 634.9,384.9 635.7,379.4 636.4,384.8 637.1,380 637.9,385.8 638.6,379.9 639.3,384.3 640.1,380 640.8,385 641.5,379.8 642.3,384.7 643,378.6 643.7,385.1 644.5,377.8 645.2,385.1 646,379.8 646.7,384.6 647.4,380 648.2,384.4 648.9,379.8 649.6,385 650.4,380.3 651.1,384.9 651.8,380 652.6,384.9 653.3,381.1 654,385.3 654.8,380.4 655.5,386.9 656.2,379.9 657,387.4 657.7,381.1 658.4,386.5 659.2,379.8 659.9,387.8 660.7,379.8 661.4,385.6 662.1,378 662.9,385 663.6,377 664.3,385.7 665.1,378.5 665.8,386 666.5,379.1 667.3,385.9 668,379.4 668.7,386.1 669.5,378.6 670.2,383.8 670.9,376.9 671.7,382.2 672.4,377.1 673.2,383.8 673.9,376.3 674.6,384.5 675.4,375.2 676.1,384.2 676.8,374.1 677.6,385.3 678.3,375.6 679,387.2 679.8,375.7 680.5,386.8 681.2,375.6 682,388.1 682.7,376.5 683.4,387.1 684.2,375.2 684.9,385 685.6,373.4 686.4,387.6 687.1,373.8 687.9,386.4 688.6,374.6 689.3,386.6 690.1,374.7 690.8,385.4 691.5,374.4 692.3,386.5 693,376 693.7,388.6 694.5,375.6 695.2,389.3 695.9,372.6 696.7,388.8 697.4,374.8 698.1,389.8 698.9,372.5 699.6,390.7 700.4,364.4 701.1,387.5 701.8,374.5 702.6,388.9 703.3,374.7 704,389.5 704.8,373.6 705.5,387.4 706.2,374.5 707,388.3 707.7,372.5 708.4,390.2 709.2,364.7 709.9,389.2 710.6,371.7 711.4,390 712.1,372 712.8,388.7 713.6,371.4 714.3,389.5 715.1,372.9 715.8,389.5 716.5,375.1 717.3,387.4 718,371.3 718.7,387.8 719.5,373.4 720.2,390 720.9,373.5 721.7,391.1 722.4,369.7 723.1,388.8 723.9,372.3 724.6,390.1 725.3,371.1 726.1,388.3 726.8,370.9 727.6,388.5 728.3,371.6 729,390.1 729.8,373.6 730.5,389.3 731.2,371.5 732,389.4 732.7,374.9 733.4,393.4 734.2,373.4 734.9,387 735.6,372.9 736.4,387.9 737.1,375.7 737.8,386.6 738.6,373.8 739.3,387.2 740,375.5 740.8,386.8 741.5,376.2 742.3,388.4 743,375.1 743.7,390.1 744.5,377 745.2,388.4 745.9,374.9 746.7,387.8 747.4,376.1 748.1,388.9 748.9,377.2 749.6,387.1 750.3,372 751.1,392.9 751.8,376.2 752.5,388.6 753.3,377 754,388.5 754.8,377.8 755.5,388.6 756.2,376.2 757,388.7 757.7,375.4 758.4,387 759.2,377.4 759.9,386.8 760.6,376.3 761.4,388.7 762.1,377 762.8,388.3 763.6,375.5 764.3,386.7 765,376.9 765.8,386.9 766.5,375.8 767.2,388.3 768,375.1 768.7,388 769.5,376.4 770.2,388.3 770.9,376 771.7,387.2 772.4,376.6 773.1,388.6 773.9,376.1 774.6,387.2 775.3,378.2 776.1,386.7 776.8,376.9 777.5,388.9 778.3,377.8 779,388.9 779.7,377.1 780.5,388.8 781.2,376.6 782,389.1 782.7,378.4 783.4,388 784.2,377.9 784.9,388.6 785.6,377.6 786.4,388.7 787.1,378.6 787.8,389.5 788.6,378.7 789.3,387.4 790,377.3 790.8,387.8 791.5,378.9 792.2,390.4 793,377.9 793.7,388.1 794.4,377.3 795.2,389.2 795.9,378.5 796.7,390.1 797.4,378 798.1,390.3 798.9,379.2 799.6,389.1 800.3,378.4 801.1,388.1 801.8,378.1 802.5,390.1 803.3,378.7 804,388.3 804.7,380.1 805.5,390.1 806.2,378.6 806.9,390.2 807.7,379.2 808.4,389.6 809.2,378.6 809.9,390.4 810.6,379.4 811.4,390.9 812.1,379.1 812.8,390.4 813.6,378.6 814.3,391.2 815,379.8 815.8,393.3 816.5,367 817.2,392.9 818,379.1 818.7,390 819.4,379.8 820.2,395.8 820.9,371.8 821.6,389.9 822.4,380.4 823.1,390.9 823.9,380.7 824.6,391.9 825.3,379.4 826.1,392 826.8,379.3 827.5,392.2 828.3,379.2 829,391.7 829.7,379.9 830.5,390.9 831.2,380.4 831.9,389.7 832.7,378.9 833.4,388.3 834.1,379.4 834.9,388.4 835.6,379.9 836.4,386.7 837.1,379.9 837.8,387 838.6,378.1 839.3,387.5 840,378.8 840.8,385.9 841.5,372.3 842.2,387.1 843,377.9 843.7,386.6 844.4,377.4 845.2,385.1 845.9,378 846.6,385.7 847.4,377.8 848.1,385.5 848.8,377.1 849.6,385.6 850.3,377.4 851.1,387.4 851.8,376.4 852.5,386.2 853.3,377.5 854,392.4 854.7,377.5 855.5,387.2 856.2,376.2 856.9,386.7 857.7,378.3 858.4,387.7 859.1,376.9 859.9,386.2 860.6,376.8 861.3,386.6 862.1,378.7 862.8,387.5 863.6,378.6 864.3,386.8 865,376.9 865.8,387.5 866.5,379 867.2,386.3 868,378.4 868.7,386.4 869.4,377.2 870.2,386.2 870.9,377.6 871.6,385 872.4,377.4 873.1,385.1 873.8,377.1 874.6,384.8 875.3,378.6 876,385.2 876.8,378.1 877.5,384.6 878.3,376.8 879,384.5 879.7,377.8 880.5,386.1 881.2,376.9 881.9,384.7 882.7,377 883.4,385.5 884.1,377 884.9,384.2 885.6,373.3 886.3,384.3 887.1,377.6 887.8,385.8 888.5,376.9 889.3,385.2 890,377.9 890.8,386.7 891.5,378.1 892.2,385.5 893,376.8 893.7,387.2 894.4,377.1 895.2,387.3 895.9,378.5 896.6,386.7 897.4,378.1 898.1,388.4 898.8,376.7 899.6,388.4 900.3,377.1 901,387.8 901.8,375.8 902.5,387.9 903.2,376.9 904,389.2 904.7,376.1 905.5,388.3 906.2,376.7 906.9,391.6 907.7,377.6 908.4,386.8 909.1,377.6 909.9,384.6 910.6,376.4 911.3,386.1 912.1,377.1 912.8,385.2 913.5,375.7 914.3,386.4 915,376.4 915.7,391.8 916.5,370.4 917.2,388.1 918,375.1 918.7,388.7 919.4,375.5 920.2,388.5 920.9,375.8 921.6,385.8 922.4,373.3 923.1,387.9 923.8,374.8 924.6,386.6 925.3,376.3 926,386.9 926.8,379.2 927.5,388.3 928.2,377 929,389 929.7,374.7 930.4,387.2 931.2,366.5 931.9,389.7 932.7,376 933.4,388.6 934.1,374.2 934.9,385 935.6,374.1 936.3,384.2 937.1,374.3 937.8,387.1 938.5,376.1 939.3,386.6 940,374.9 940.7,388.1 941.5,375.3 942.2,388.8 942.9,372.7 943.7,387.4 944.4,371.8 945.2,388.4 945.9,372.6 946.6,393.7 947.4,370.4 948.1,390 948.8,372.5 949.6,388.1 950.3,372.2 951,392.1 951.8,369.9 952.5,384.7 953.2,375.7 954,382.2 954.7,375 955.4,385.8 956.2,373.5 956.9,386.1 957.6,373.4 958.4,388.8 959.1,370 959.9,389.6 960.6,371.9 961.3,390.2 962.1,372.6 962.8,390.3 963.5,370.9 964.3,387.4 965,374.6 965.7,386.8 966.5,374.7 967.2,388.8 967.9,373.2 968.7,387.1 969.4,373.4 970.1,386.1 970.9,374.3 971.6,387.7 972.4,373.6 973.1,387.7 973.8,373.7 974.6,391.1 975.3,368.3 976,387.7 976.8,373 977.5,385.9 978.2,374.9 979,392.9 979.7,366.8 980.4,385.3 981.2,374.1 981.9,383.6 982.6,374.7 983.4,382.7 984.1,374.9 984.8,383 985.6,375.6 986.3,382.8 987.1,375.3 987.8,383.2 988.5,374.7 989.3,381.7 990,375.3 990.7,381.8 991.5,376.2 992.2,382.3 992.9,375.7 993.7,382.2 994.4,375.6 995.1,382.1 995.9,375.8 996.6,381.7 997.3,375.7 998.1,382.6 998.8,374 999.6,381.3 1000.3,373.2 1001,381.4 1001.8,373.4 1002.5,382.5 1003.2,372.3 1004,380.7 1004.7,372.8 1005.4,380.5 1006.2,372.7 1006.9,384.5 1007.6,372.2 1008.4,384.7 1009.1,369.9 1009.8,387.2 1010.6,373.5 1011.3,386 1012,372.6 1012.8,387 1013.5,374.5 1014.3,386.8 1015,371.5 1015.7,385.6 1016.5,371.6 1017.2,385 1017.9,372.2 1018.7,386.6 1019.4,371.4 1020.1,386.6 1020.9,371.9 1021.6,385.1 1022.3,373.8 1023.1,384.8 1023.8,372.2 1024.5,386.6 1025.3,371 1026,383.8 1026.8,367.8 1027.5,392.9 1028.2,372.3 1029,386.4 1029.7,370.4 1030.4,385 1031.2,370 1031.9,386.2 1032.6,372.3 1033.4,385.3 1034.1,372.8 1034.8,385.2 1035.6,371.2 1036.3,385.3 1037,373.7 1037.8,385.2 1038.5,373.2 1039.2,384.4 1040,370.7 1040.7,386.5 1041.5,372.9 1042.2,385.5 1042.9,373.5 1043.7,396.3 1044.4,371.7 1045.1,383.6 1045.9,374.3 1046.6,383.5 1047.3,374.5 1048.1,382.1 1048.8,373.3 1049.5,383.7 1050.3,373.9 1051,384.3 1051.7,372.8 1052.5,382.6 1053.2,374.4 1054,383.1 1054.7,374.4 1055.4,383.1 1056.2,375.8 1056.9,382.9 1057.6,377.2 1058.4,382.3 1059.1,376.5 1059.8,383.4 1060.6,377.4 1061.3,384.2 1062,377.2 1062.8,384.1 1063.5,376.8 1064.2,384.3 1065,377.3 1065.7,382.7 1066.4,376 1067.2,383.3 1067.9,375.9 1068.7,387.1 1069.4,369.6 1070.1,383.3 1070.9,377 1071.6,383.8 1072.3,375.8 1073.1,382.6 1073.8,376.9 1074.5,383.9 1075.3,377.5 1076,383.6 1076.7,372.3 1077.5,383.5 1078.2,376.8 1078.9,382.9 1079.7,377.1 1080.4,383.6 1081.2,377.5 1081.9,383.5 1082.6,377.1 1083.4,383.2 1084.1,376.9 1084.8,383.1 1085.6,377.2 1086.3,383.4 1087,377.1 1087.8,382.7 1088.5,377.1 1089.2,382.6 1090,377.3 1090.7,383.6 1091.4,377.1 1092.2,382.6 1092.9,377.1 1093.6,382.9 1094.4,377.1 1095.1,384 1095.9,377 1096.6,383.5 1097.3,377.1 1098.1,384.1 1098.8,378.4 1099.5,384 1100.3,378.5 1101,383.4 1101.7,378.1 1102.5,384.3 1103.2,378.9 1103.9,383.2 1104.7,378.7 1105.4,384 1106.1,379.8 1106.9,384.1 1107.6,379 1108.4,383.6 1109.1,379.1 1109.8,384.9 1110.6,379.2 1111.3,386.6 1112,378 1112.8,386.4 1113.5,378 1114.2,388.1 1115,378.5 1115.7,386.5 1116.4,378.1 1117.2,386.8 1117.9,379.3 1118.6,385 1119.4,378 1120.1,387.1 1120.9,376.9 1121.6,387.1 1122.3,377.1 1123.1,389.1 1123.8,366.7 1124.5,401.1 1125.3,374.7 1126,391.3 1126.7,374.8 1127.5,390.8 1128.2,374.9 1128.9,394.6 1129.7,361.6 1130.4,394.8 1131.1,376.2 1131.9,394 1132.6,372 1133.3,399.1 1134.1,366.2 1134.8,391.4 1135.6,373.7 1136.3,390.6 1137,375.4 1137.8,388.5 1138.5,377.4 1139.2,393 1140,375.3 1140.7,393.9 1141.4,376 1142.2,395 1142.9,378.3 1143.6,391.4 1144.4,374.6 1145.1,394.1 1145.8,371.6 1146.6,390.9 1147.3,374.4 1148.1,410.8 1148.8,358.4 1149.5,393 1150.3,374.8 1151,390.9 1151.7,377.5 1152.5,389.8 1153.2,378.1 1153.9,392.1 1154.7,375.6 1155.4,389.7 1156.1,377.4 1156.9,390.1 1157.6,376.3 1158.3,390.7 1159.1,376.1 1159.8,389.3 1160.5,377.7 1161.3,391.1 1162,376.7 1162.8,390.8 1163.5,375.6 1164.2,391.9 1165,377.2 1165.7,399.1 1166.4,370.2 1167.2,392.3 1167.9,376.2 1168.6,391.1 1169.4,376.7 1170.1,391.2 1170.8,376.2 1171.6,392.1 1172.3,378 1173,390.7 1173.8,376.5 1174.5,392 1175.3,378.5 1176,391.7 1176.7,376.4 1177.5,389.5 1178.2,377 1178.9,391.5 1179.7,378.2 1180.4,394.5 1181.1,376.8 1181.9,389.4 1182.6,377.6 1183.3,390.3 1184.1,380.4 1184.8,389.7 1185.5,380.5 1186.3,388.3 1187,381.7 1187.7,389 1188.5,380.9 1189.2,390.8 1190,379.9 1190.7,390.7 1191.4,378.6 1192.2,390.3 1192.9,378 1193.6,389.8 1194.4,376 1195.1,390.3 1195.8,376.2 1196.6,388.1 1197.3,376 1198,390.9 1198.8,377.4 1199.5,402.5 1200.2,366.7 1201,390.7 1201.7,376.5 1202.5,391.2 1203.2,375.8 1203.9,392.2 1204.7,373.6 1205.4,391.2 1206.1,373.7 1206.9,388.5 1207.6,375.7 1208.3,387.7 1209.1,374.7 1209.8,389.1 1210.5,375.9 1211.3,389.5 1212,377.3 1212.7,390 1213.5,378 1214.2,390.2 1214.9,379.5 1215.7,390.6 1216.4,377.6 1217.2,390.1 1217.9,378.1 1218.6,390.6 1219.4,375.6 1220.1,395.9 1220.8,377.9 1221.6,388.8 1222.3,377.2 1223,389.1 1223.8,379.4 1224.5,390.5 1225.2,378.6 1226,389 1226.7,378.1 1227.4,390.8 1228.2,377.4 1228.9,389.7 1229.7,378.5 1230.4,388.4 1231.1,378.4 1231.9,390.5 1232.6,378 1233.3,390.3 1234.1,379 1234.8,388.7 1235.5,377.8 1236.3,389.3 1237,378.3 1237.7,390.4 1238.5,377.8 1239.2,389.5 1239.9,379.9 1240.7,390.7 1241.4,377.8 1242.1,390.2 1242.9,376.2 1243.6,392.7 1244.4,376.3 1245.1,397.7 1245.8,372.6 1246.6,392.2 1247.3,372.1 1248,394.6 1248.8,374.5 1249.5,391 1250.2,376 1251,394.1 1251.7,372.8 1252.4,392 1253.2,363 1253.9,396.8 1254.6,376.3 1255.4,394.5 1256.1,376 1256.9,400 1257.6,362.1 1258.3,394.5 1259.1,374.3 1259.8,393.9 1260.5,377.6 1261.3,391.1 1262,376.1 1262.7,392 1263.5,377.1 1264.2,392.9 1264.9,377.4 1265.7,390.7 1266.4,376.3 1267.1,391.6 1267.9,378.9 1268.6,392.5 1269.3,369.9 1270.1,395.7 1270.8,377 1271.6,391.6 1272.3,376.9 1273,391.2 1273.8,377.2 1274.5,391.9 1275.2,377.8 1276,390.2 1276.7,377 1277.4,391.9 1278.2,377.6 1278.9,392.1 1279.6,377.6 1280.4,395.9 1281.1,378.5 1281.8,390.5 1282.6,377.9 1283.3,391.6 1284.1,377.3 1284.8,391.2 1285.5,379.3 1286.3,391.8 1287,378 1287.7,390.5 1288.5,377.7 1289.2,389.1 1289.9,377.7 1290.7,389.5 1291.4,379.3 1292.1,387.9 1292.9,378.8 1293.6,389.2 1294.3,378.9 1295.1,388.6 1295.8,378.5 1296.5,388.9 1297.3,378.5 1298,389.5 1298.8,379.3 1299.5,388.4 1300.2,377.9 1301,390.3 1301.7,379.1 1302.4,388.2 1303.2,379.2 1303.9,390.6 1304.6,377.7 1305.4,391.3 1306.1,378.1 1306.8,389.9 1307.6,377.1 1308.3,391.5 1309,379.6 1309.8,391.2 1310.5,377.9 1311.3,391 1312,376.5 1312.7,391.5 1313.5,375.9 1314.2,390.3 1314.9,375.7 1315.7,392.3 1316.4,370.4 1317.1,391.3 1317.9,375.2 1318.6,388.9 1319.3,376.8 1320.1,391.6 1320.8,375.5 1321.5,393.7 1322.3,370.4 1323,389.5 1323.7,377.6 1324.5,389.7 1325.2,375.5 1326,388.9 1326.7,375.7 1327.4,387.6 1328.2,376.2 1328.9,385.6 1329.6,375.6 1330.4,387.3 1331.1,375.8 1331.8,388.3 1332.6,376.5 1333.3,388 1334,374.4 1334.8,390.1 1335.5,369.9 1336.2,388 1337,375.3 1337.7,386.3 1338.5,376 1339.2,385.8 1339.9,376.3 1340.7,386.7 1341.4,376.6 1342.1,387.9 1342.9,374.2 1343.6,392.5 1344.3,373.7 1345.1,386.3 1345.8,374 1346.5,388.6 1347.3,375.2 1348,387 1348.7,367.3 1349.5,390.8 1350.2,374 1350.9,386.3 1351.7,372.5 1352.4,385.4 1353.2,375.1 1353.9,387 1354.6,372.9 1355.4,388 1356.1,368.7 1356.8,385.7 1357.6,375.3 1358.3,384.6" stroke="#0000ff"/>
<path d="M381.3,738 382,742.3 382.8,732.9 383.5,736.5 384.2,726.6 385,734 385.7,723.8 386.4,728.7 387.2,717.7 387.9,723.8 388.7,714 389.4,719.2 390.1,709.6 390.9,715.3 391.6,704.6 392.3,711.1 393.1,699.2 393.8,708.4 394.5,693.8 395.3,715.9 396,681.1 396.7,697.6 397.5,687.8 398.2,694.4 398.9,686.1 399.7,692.5 400.4,682.2 401.1,690.5 401.9,676.9 402.6,686.8 403.4,676.1 404.1,685.7 404.8,674.2 405.6,680.3 406.3,670.6 407,678.4 407.8,669.6 408.5,676 409.2,666.9 410,674.4 410.7,663.5 411.4,674.2 412.2,663.8 412.9,672.4 413.6,661.5 414.4,680.2 415.1,647.3 415.9,670.1 416.6,655.7 417.3,667.1 418.1,656.5 418.8,664.5 419.5,644.7 420.3,672.8 421,653.1 421.7,659.2 422.5,650.5 423.2,657.3 423.9,648.5 424.7,655.7 425.4,647.3 426.1,655.2 426.9,644.1 427.6,651 428.3,644.2 429.1,649.4 429.8,642.7 430.6,647.4 431.3,640.3 432,645.9 432.8,638 433.5,644.3 434.2,637.3 435,643.1 435.7,636.8 436.4,642.2 437.2,634.4 437.9,639.5 438.6,633.5 439.4,637 440.1,632.9 440.8,636.6 441.6,631.4 442.3,634.8 443.1,629.3 443.8,634.8 444.5,629.4 445.3,632.5 446,628.6 446.7,631.1 447.5,628 448.2,630.4 448.9,625.6 449.7,629.2 450.4,625.3 451.1,628.5 451.9,624.4 452.6,627.3 453.3,623.2 454.1,626.1 454.8,621.1 455.5,626.6 456.3,620.7 457,624.4 457.8,618.9 458.5,623.1 459.2,618.7 460,622.3 460.7,617.9 461.4,621.2 462.2,616.3 462.9,621.5 463.6,614.5 464.4,619.8 465.1,614.9 465.8,618.6 466.6,613.1 467.3,617.1 468,609.9 468.8,617.7 469.5,612.6 470.3,616.1 471,611 471.7,615.3 472.5,609.6 473.2,614.3 473.9,610.1 474.7,613.8 475.4,605.9 476.1,616.2 476.9,607.9 477.6,613.5 478.3,607.9 479.1,611.2 479.8,606.1 480.5,610.7 481.3,605.8 482,610.3 482.7,605.7 483.5,610.3 484.2,600.3 485,610.7 485.7,603.6 486.4,609.4 487.2,604.5 487.9,609 488.6,604.4 489.4,607.9 490.1,603.6 490.8,610.9 491.6,603.3 492.3,607.6 493,602.3 493.8,607.2 494.5,601.9 495.2,606.9 496,600.9 496.7,605.7 497.5,601.7 498.2,604.9 498.9,601.2 499.7,605.5 500.4,600 501.1,604.2 501.9,599.6 502.6,605.6 503.3,597.6 504.1,604.6 504.8,598.6 505.5,607.7 506.3,597.9 507,603.8 507.7,597.2 508.5,604.7 509.2,597.5 509.9,607.7 510.7,596.2 511.4,602.6 512.2,596 512.9,600.8 513.6,594.6 514.4,601.4 515.1,592.6 515.8,603.6 516.6,594.9 517.3,598.4 518,595.4 518.8,597.5 519.5,593.9 520.2,597.2 521,594.1 521.7,597.5 522.4,593.6 523.2,596.4 523.9,592.9 524.7,595.8 525.4,592.5 526.1,594.9 526.9,590.8 527.6,594.5 528.3,590.9 529.1,594.1 529.8,590.6 530.5,593.4 531.3,590.2 532,592.8 532.7,589.5 533.5,593.5 534.2,588.6 534.9,592 535.7,589 536.4,591.8 537.1,588.7 537.9,591.6 538.6,587.6 539.4,591.8 540.1,587.1 540.8,591 541.6,586.1 542.3,590.5 543,586 543.8,589.5 544.5,585.6 545.2,591.4 546,585 546.7,589.6 547.4,584.3 548.2,588.2 548.9,582.9 549.6,587.8 550.4,583.4 551.1,587.1 551.9,582.4 552.6,589.3 553.3,582.6 554.1,586.4 554.8,581.8 555.5,584.5 556.3,580.9 557,584.2 557.7,581 558.5,583.1 559.2,580.1 559.9,583.6 560.7,579.4 561.4,582.1 562.1,578.6 562.9,581.7 563.6,577 564.3,584.5 565.1,572.9 565.8,581.5 566.6,576 567.3,579.3 568,573.9 568.8,578.8 569.5,574.7 570.2,578.2 571,573.8 571.7,576.8 572.4,573.7 573.2,576.7 573.9,572.9 574.6,575.3 575.4,571.7 576.1,574.9 576.8,569.9 577.6,574.4 578.3,568.6 579.1,574.2 579.8,568.9 580.5,572.7 581.3,568.4 582,572.6 582.7,564 583.5,571.6 584.2,566.1 584.9,571.7 585.7,566.1 586.4,570.2 587.1,565.5 587.9,569 588.6,565.3 589.3,568.4 590.1,563.9 590.8,567.4 591.5,562.2 592.3,568.2 593,562.3 593.8,566.7 594.5,562.3 595.2,565 596,561.2 596.7,564.4 597.4,560.9 598.2,563.9 598.9,559.6 599.6,563 600.4,559.2 601.1,562.1 601.8,558.4 602.6,561.3 603.3,557.5 604,560.9 604.8,556.7 605.5,559.8 606.3,556.1 607,558.8 607.7,555.5 608.5,559 609.2,554.2 609.9,557.1 610.7,552.6 611.4,556.3 612.1,552.7 612.9,555.3 613.6,551.6 614.3,554 615.1,551.4 615.8,553.2 616.5,549.9 617.3,551.9 618,549.4 618.7,551.8 619.5,548 620.2,550.2 621,547.4 621.7,550 622.4,545 623.2,548.4 623.9,544.8 624.6,547.5 625.4,543.8 626.1,546.2 626.8,542.8 627.6,545.1 628.3,541.9 629,543.8 629.8,541.2 630.5,543.4 631.2,540.3 632,541.8 632.7,539.1 633.5,540.8 634.2,537.5 634.9,539.9 635.7,536.8 636.4,538.7 637.1,535.8 637.9,538 638.6,534.6 639.3,536.1 640.1,533.5 640.8,535.2 641.5,532.2 642.3,533.9 643,530.4 643.7,532.9 644.5,528.9 645.2,531.7 646,528.7 646.7,530.4 647.4,527.6 648.2,529.1 648.9,526.2 649.6,527.9 650.4,524.9 651.1,526.3 651.8,523.1 652.6,524.5 653.3,522 654,523.1 654.8,520 655.5,522.2 656.2,518.1 657,520.8 657.7,517.3 658.4,519.2 659.2,515.5 659.9,518.6 660.7,514.3 661.4,516.4 662.1,512.2 662.9,514.7 663.6,510.2 664.3,513.3 665.1,509 665.8,511.6 666.5,507.5 667.3,509.7 668,505.9 668.7,508.4 669.5,504.2 670.2,506 670.9,502.1 671.7,503.8 672.4,500.7 673.2,502.9 673.9,498.6 674.6,501.5 675.4,496.4 676.1,499.7 676.8,494.1 677.6,498.5 678.3,492.9 679,497 679.8,490.3 680.5,494 681.2,487.5 682,492.2 682.7,485.8 683.4,489.7 684.2,483.2 684.9,486.6 685.6,480.2 686.4,485.5 687.1,478 687.9,482.6 688.6,476 689.3,480.3 690.1,473.7 690.8,477.4 691.5,471.2 692.3,475.5 693,469.4 693.7,473.9 694.5,466.5 695.2,471.2 695.9,462 696.7,467.9 697.4,460 698.1,465.5 698.9,456.1 699.6,463 700.4,449.4 701.1,458.5 701.8,451 702.6,456 703.3,447.8 704,452.7 704.8,443.6 705.5,448 706.2,440.2 707,444.6 707.7,435.6 708.4,441.8 709.2,428.2 709.9,437.4 710.6,427.5 711.4,433.9 712.1,423.8 712.8,429 713.6,418.7 714.3,424.4 715.1,414.3 715.8,419.4 716.5,410.3 717.3,413.5 718,403.8 718.7,408.9 719.5,400 720.2,405.1 720.9,395.2 721.7,400.7 722.4,388.3 723.1,394.3 723.9,384.1 724.6,389.5 725.3,378.2 726.1,383.3 726.8,372.7 727.6,378 728.3,367.6 729,373.2 729.8,363 730.5,367.4 731.2,357 732,362.9 732.7,354.1 733.4,360.3 734.2,349 734.9,353 735.6,344.5 736.4,349.1 737.1,341.4 737.8,344.2 738.6,336.2 739.3,339.9 740,333 740.8,336.7 741.5,330.5 742.3,334.6 743,327.2 743.7,332.7 744.5,325.7 745.2,329.9 745.9,322.9 746.7,328.8 747.4,323.1 748.1,329.1 748.9,323.3 749.6,328 750.3,320.4 751.1,330.3 751.8,321.7 752.5,327.5 753.3,321.4 754,327.7 754.8,322.8 755.5,328.9 756.2,323.1 757,330 757.7,323.3 758.4,329.7 759.2,324.9 759.9,330.2 760.6,324.9 761.4,332.2 762.1,326.4 762.8,333.2 763.6,326.7 764.3,333.5 765,328.6 765.8,334.9 766.5,329 767.2,336.7 768,329.5 768.7,337.5 769.5,331.2 770.2,338.7 770.9,332 771.7,339.3 772.4,333.5 773.1,341.3 773.9,334.2 774.6,341.6 775.3,336.6 776.1,342.4 776.8,336.8 777.5,344.9 778.3,338.4 779,346 779.7,339.1 780.5,347.1 781.2,339.9 782,348.6 782.7,342.2 783.4,349.1 784.2,343 784.9,350.7 785.6,343.8 786.4,351.7 787.1,345.3 787.8,353.1 788.6,346 789.3,352.4 790,345.7 790.8,353.3 791.5,347.4 792.2,355.8 793,347.3 793.7,354.8 794.4,347.5 795.2,356.3 795.9,348.9 796.7,357.6 797.4,349.1 798.1,358.4 798.9,350.6 799.6,358.2 800.3,350.6 801.1,358 801.8,350.7 802.5,359.9 803.3,351.4 804,358.9 804.7,352.8 805.5,360.6 806.2,351.9 806.9,361.1 807.7,352.7 808.4,360.9 809.2,352.5 809.9,362.1 810.6,353.6 811.4,363.1 812.1,353.9 812.8,363.1 813.6,353.6 814.3,364 815,354.7 815.8,365.9 816.5,344.5 817.2,366.2 818,355 818.7,364.4 819.4,356.1 820.2,369.9 820.9,349.7 821.6,365.3 822.4,357.3 823.1,366.5 823.9,357.8 824.6,367.7 825.3,356.9 826.1,368.1 826.8,357.1 827.5,368.6 828.3,357.2 829,368.6 829.7,358.5 830.5,368.7 831.2,359.6 831.9,368.3 832.7,359 833.4,367.9 834.1,360 834.9,368.5 835.6,361 836.4,367.6 837.1,361.4 837.8,368.4 838.6,360.3 839.3,369.4 840,361.4 840.8,368.4 841.5,355.6 842.2,370 843,361.4 843.7,369.9 844.4,361.3 845.2,369 845.9,362.2 846.6,370 847.4,362.4 848.1,370.1 848.8,362 849.6,370.6 850.3,362.5 851.1,372.6 851.8,361.9 852.5,371.8 853.3,363.2 854,378.2 854.7,363.4 855.5,373.2 856.2,362.4 856.9,373 857.7,364.7 858.4,374.3 859.1,363.6 859.9,373 860.6,363.5 861.3,373.2 862.1,365.1 862.8,373.8 863.6,364.8 864.3,373 865,363 865.8,373.5 866.5,365.1 867.2,372.4 868,364.5 868.7,372.6 869.4,363.5 870.2,372.5 870.9,364 871.6,371.4 872.4,363.8 873.1,371.6 873.8,363.6 874.6,371.2 875.3,364.9 876,371.4 876.8,364.3 877.5,370.8 878.3,363.1 879,370.8 879.7,364.1 880.5,372.4 881.2,363.3 881.9,371.2 882.7,363.6 883.4,372.3 884.1,363.9 884.9,371.2 885.6,360.4 886.3,371.3 887.1,364.6 887.8,372.6 888.5,363.7 889.3,371.9 890,364.6 890.8,373.3 891.5,364.7 892.2,372 893,363.4 893.7,373.7 894.4,363.6 895.2,373.8 895.9,365 896.6,373.1 897.4,364.5 898.1,374.8 898.8,363.2 899.6,375 900.3,363.7 901,374.5 901.8,362.6 902.5,374.8 903.2,363.8 904,376.2 904.7,363.2 905.5,375.4 906.2,363.9 906.9,379.1 907.7,365.4 908.4,375 909.1,366.1 909.9,373.5 910.6,365.3 911.3,374.8 912.1,365.6 912.8,373.6 913.5,363.9 914.3,374.4 915,364.2 915.7,379.5 916.5,358.4 917.2,376.3 918,363.5 918.7,377.4 919.4,364.5 920.2,377.8 920.9,365.4 921.6,375.7 922.4,363.4 923.1,377.7 923.8,364.2 924.6,375.6 925.3,364.9 926,375 926.8,367.1 927.5,376.4 928.2,365.4 929,377.6 929.7,363.6 930.4,376.4 931.2,356 931.9,379.6 932.7,366.3 933.4,379.2 934.1,365.3 934.9,376.4 935.6,365.9 936.3,376.3 937.1,366.2 937.8,378.8 938.5,367.7 939.3,378.1 940,366.2 940.7,379.6 941.5,367.2 942.2,381.1 942.9,365.3 943.7,380.5 944.4,365.2 945.2,382.2 945.9,366.7 946.6,387.8 947.4,364.6 948.1,384.3 948.8,366.8 949.6,382.4 950.3,366.6 951,386.6 951.8,364.8 952.5,380.1 953.2,371.6 954,378.6 954.7,371.4 955.4,382.3 956.2,370 956.9,382.8 957.6,370.1 958.4,385.5 959.1,366.8 959.9,386.7 960.6,369.3 961.3,387.8 962.1,370.6 962.8,388.5 963.5,369.4 964.3,386.1 965,373.6 965.7,386.1 966.5,374.3 967.2,389 967.9,373.9 968.7,388.3 969.4,375.1 970.1,388.4 970.9,376.7 971.6,390.1 972.4,376.1 973.1,390.2 973.8,376.3 974.6,393.9 975.3,371.7 976,391.7 976.8,377.7 977.5,391.2 978.2,380.8 979,399.4 979.7,373.8 980.4,392.8 981.2,382.1 981.9,392.1 982.6,383.8 983.4,392.3 984.1,384.9 984.8,393.5 985.6,386.5 986.3,394.1 987.1,387 987.8,395.2 988.5,386.8 989.3,393.9 990,387.5 990.7,394.1 991.5,388.6 992.2,394.7 992.9,388.2 993.7,394.9 994.4,388.3 995.1,394.9 995.9,388.7 996.6,394.8 997.3,389.1 998.1,396.2 998.8,388 999.6,395.6 1000.3,387.7 1001,396.3 1001.8,388.6 1002.5,398.2 1003.2,388.6 1004,397.6 1004.7,390.4 1005.4,398.3 1006.2,390.5 1006.9,402.1 1007.6,389.8 1008.4,402.3 1009.1,387.4 1009.8,405.2 1010.6,392 1011.3,405.1 1012,392.3 1012.8,407.2 1013.5,395.2 1014.3,408 1015,393.2 1015.7,407.9 1016.5,394.2 1017.2,407.8 1017.9,395.3 1018.7,410 1019.4,395 1020.1,410.5 1020.9,396.1 1021.6,409.5 1022.3,398.5 1023.1,409.8 1023.8,397.3 1024.5,412 1025.3,396.7 1026,409.8 1026.8,394 1027.5,419.4 1028.2,399 1029,413.5 1029.7,397.7 1030.4,412.7 1031.2,398 1031.9,414.5 1032.6,400.9 1033.4,414.1 1034.1,401.7 1034.8,414.2 1035.6,400.3 1036.3,414.6 1037,403 1037.8,414.8 1038.5,403 1039.2,414.5 1040,401.1 1040.7,417.2 1041.5,403.8 1042.2,416.8 1042.9,405 1043.7,428.1 1044.4,403.6 1045.1,415.5 1045.9,406.2 1046.6,415.3 1047.3,406.2 1048.1,413.9 1048.8,405.2 1049.5,415.6 1050.3,405.8 1051,416.2 1051.7,404.6 1052.5,414.2 1053.2,405.8 1054,414.3 1054.7,405.5 1055.4,414 1056.2,406.6 1056.9,413.5 1057.6,407.6 1058.4,412.4 1059.1,406.4 1059.8,413.1 1060.6,406.9 1061.3,413.5 1062,406.4 1062.8,413.4 1063.5,406.2 1064.2,413.7 1065,406.9 1065.7,412.3 1066.4,405.7 1067.2,413.1 1067.9,405.8 1068.7,417 1069.4,399.5 1070.1,413.1 1070.9,406.7 1071.6,413.6 1072.3,405.5 1073.1,412.4 1073.8,406.9 1074.5,414.1 1075.3,407.9 1076,414.2 1076.7,403 1077.5,414.5 1078.2,408 1078.9,414.4 1079.7,408.8 1080.4,415.5 1081.2,409.6 1081.9,416 1082.6,409.8 1083.4,416.1 1084.1,410.1 1084.8,416.5 1085.6,410.9 1086.3,417.4 1087,411.3 1087.8,417.1 1088.5,411.6 1089.2,417.2 1090,412.1 1090.7,418.5 1091.4,412.2 1092.2,417.9 1092.9,412.5 1093.6,418.5 1094.4,412.9 1095.1,419.8 1095.9,412.9 1096.6,419.4 1097.3,413 1098.1,420.2 1098.8,414.5 1099.5,420.1 1100.3,414.6 1101,419.6 1101.7,414.4 1102.5,420.7 1103.2,415.4 1103.9,419.8 1104.7,415.4 1105.4,420.8 1106.1,416.6 1106.9,421 1107.6,416 1108.4,420.7 1109.1,416.2 1109.8,422 1110.6,416.3 1111.3,423.7 1112,415.1 1112.8,423.5 1113.5,415.1 1114.2,425.3 1115,416 1115.7,424.1 1116.4,415.9 1117.2,424.9 1117.9,417.6 1118.6,423.4 1119.4,416.6 1120.1,429.5 1120.9,414.9 1121.6,431.1 1122.3,415.6 1123.1,432.1 1123.8,404.7 1124.5,444.1 1125.3,412.5 1126,434.1 1126.7,411.4 1127.5,432.4 1128.2,411 1128.9,435.9 1129.7,396.9 1130.4,435.8 1131.1,412.9 1131.9,436.3 1132.6,409.6 1133.3,442.4 1134.1,402.9 1134.8,434.4 1135.6,411.2 1136.3,434 1137,412.9 1137.8,431.2 1138.5,415 1139.2,434.4 1140,411.2 1140.7,434 1141.4,410.1 1142.2,435.8 1142.9,413.6 1143.6,432.8 1144.4,410.7 1145.1,436.4 1145.8,407.5 1146.6,432.5 1147.3,410.9 1148.1,452.1 1148.8,394.9 1149.5,434.6 1150.3,411.7 1151,433.4 1151.7,414.2 1152.5,431.8 1153.2,415.2 1153.9,434.3 1154.7,412 1155.4,431.4 1156.1,413.5 1156.9,432.1 1157.6,413.6 1158.3,433.7 1159.1,413.4 1159.8,432.4 1160.5,415 1161.3,433.3 1162,413.3 1162.8,433.6 1163.5,411.7 1164.2,433.7 1165,413.6 1165.7,441.1 1166.4,406.5 1167.2,434.2 1167.9,412.3 1168.6,433.8 1169.4,414 1170.1,433.3 1170.8,413.4 1171.6,435 1172.3,414.7 1173,433 1173.8,412.2 1174.5,433.6 1175.3,413.8 1176,433.1 1176.7,413.4 1177.5,431.1 1178.2,413.5 1178.9,433.9 1179.7,414.9 1180.4,437.3 1181.1,413.4 1181.9,431.6 1182.6,414 1183.3,432.5 1184.1,416.7 1184.8,431.2 1185.5,415.8 1186.3,430.2 1187,417.5 1187.7,429.5 1188.5,415.8 1189.2,431.6 1190,414.5 1190.7,432.1 1191.4,414.8 1192.2,432.9 1192.9,414.9 1193.6,433.2 1194.4,413.2 1195.1,433.7 1195.8,413.1 1196.6,431 1197.3,413.6 1198,434 1198.8,414.8 1199.5,445.6 1200.2,403.9 1201,433.9 1201.7,413.4 1202.5,434.3 1203.2,412.8 1203.9,435.8 1204.7,410.9 1205.4,434.1 1206.1,412.6 1206.9,432.7 1207.6,414.5 1208.3,432.6 1209.1,413.8 1209.8,433.9 1210.5,414.7 1211.3,433 1212,413.9 1212.7,432.7 1213.5,414.2 1214.2,431.4 1214.9,415.3 1215.7,432.1 1216.4,414 1217.2,433 1217.9,414.4 1218.6,433 1219.4,412.6 1220.1,439.3 1220.8,415 1221.6,431.6 1222.3,413.4 1223,431.6 1223.8,416.1 1224.5,432.7 1225.2,413.9 1226,430.3 1226.7,414 1227.4,432 1228.2,413.5 1228.9,431.9 1229.7,414.4 1230.4,430.8 1231.1,415 1231.9,431.8 1232.6,413.8 1233.3,431.5 1234.1,415.6 1234.8,430.2 1235.5,413.7 1236.3,431 1237,414 1237.7,432.3 1238.5,413.3 1239.2,431.3 1239.9,415.1 1240.7,431.5 1241.4,413.7 1242.1,431.9 1242.9,412.1 1243.6,434.8 1244.4,412.2 1245.1,439.5 1245.8,409.7 1246.6,434.8 1247.3,408.7 1248,436.8 1248.8,412.1 1249.5,433 1250.2,413.3 1251,436.3 1251.7,410 1252.4,433.5 1253.2,400 1253.9,438.6 1254.6,413.3 1255.4,436.1 1256.1,412.5 1256.9,442.4 1257.6,397.8 1258.3,436 1259.1,410.6 1259.8,434.7 1260.5,412.7 1261.3,432 1262,411.6 1262.7,433.7 1263.5,412.9 1264.2,435.2 1264.9,414.2 1265.7,432.1 1266.4,412.7 1267.1,432.8 1267.9,414.1 1268.6,432.9 1269.3,405.6 1270.1,436.3 1270.8,412.6 1271.6,431.9 1272.3,412.3 1273,432.7 1273.8,412.7 1274.5,433 1275.2,413.1 1276,430.8 1276.7,412.6 1277.4,432.1 1278.2,412.2 1278.9,432.6 1279.6,412.9 1280.4,437.2 1281.1,413 1281.8,430.8 1282.6,413 1283.3,432.4 1284.1,412.9 1284.8,431.8 1285.5,414.7 1286.3,433 1287,413.8 1287.7,432 1288.5,413.4 1289.2,429.8 1289.9,413.6 1290.7,431.1 1291.4,414.2 1292.1,428.3 1292.9,414.2 1293.6,430.1 1294.3,414.1 1295.1,429.3 1295.8,413.2 1296.5,429.4 1297.3,413.3 1298,429.9 1298.8,414.2 1299.5,429 1300.2,412.8 1301,430.9 1301.7,413.8 1302.4,428 1303.2,414.5 1303.9,431.4 1304.6,412.6 1305.4,431.2 1306.1,412.9 1306.8,430.2 1307.6,411 1308.3,431.5 1309,414.5 1309.8,431.2 1310.5,413.1 1311.3,430.6 1312,411.7 1312.7,431.5 1313.5,409.9 1314.2,430.1 1314.9,410.3 1315.7,432.1 1316.4,405.8 1317.1,432.1 1317.9,410.5 1318.6,428.8 1319.3,411.2 1320.1,431.7 1320.8,410.9 1321.5,434.9 1322.3,406 1323,430.7 1323.7,413.2 1324.5,430.9 1325.2,411.4 1326,430 1326.7,411 1327.4,429.7 1328.2,412.7 1328.9,427.7 1329.6,412.4 1330.4,429 1331.1,412.7 1331.8,430.2 1332.6,412.1 1333.3,429.7 1334,409.6 1334.8,431 1335.5,405.8 1336.2,428.5 1337,411.2 1337.7,428.5 1338.5,412.3 1339.2,427.9 1339.9,412 1340.7,429 1341.4,412.4 1342.1,429.8 1342.9,410.7 1343.6,434.6 1344.3,409.9 1345.1,428.4 1345.8,410.5 1346.5,431 1347.3,412 1348,429.3 1348.7,403.1 1349.5,432.5 1350.2,410.3 1350.9,429.1 1351.7,409.6 1352.4,427.9 1353.2,412.3 1353.9,428.9 1354.6,409.4 1355.4,429.9 1356.1,404.3 1356.8,427.5 1357.6,411.5 1358.3,426" stroke="#00ffff"/>
<path d="M381.3,370.3 382,377 382.8,370.1 383.5,376 384.2,368.2 385,377.7 385.7,369.6 386.4,376.4 387.2,367.7 387.9,376 388.7,368.5 389.4,375.9 390.1,368.5 390.9,376.5 391.6,368.1 392.3,376.9 393.1,367.2 393.8,378.8 394.5,366.5 395.3,390.9 396,358.4 396.7,376.9 397.5,368.9 398.2,377.2 398.9,370.5 399.7,378.6 400.4,369.4 401.1,379.1 401.9,366.7 402.6,377.8 403.4,368.4 404.1,379.3 404.8,369 405.6,376.5 406.3,367.7 407,376.5 407.8,368.7 408.5,376.1 409.2,368 410,376.5 410.7,366.6 411.4,378.3 412.2,368.8 412.9,378.5 413.6,368.6 414.4,388.3 415.1,356.3 415.9,380 416.6,366.6 417.3,378.8 418.1,369.2 418.8,378.2 419.5,359.5 420.3,388.8 421,370.3 421.7,377.6 422.5,370.2 423.2,378.3 423.9,370.5 424.7,378.7 425.4,371.1 426.1,380.3 426.9,369.5 427.6,377.9 428.3,371.3 429.1,378 429.8,371.3 430.6,377.7 431.3,370.1 432,377.9 432.8,368.9 433.5,378 434.2,369.7 435,378.6 435.7,371 436.4,380.2 437.2,370.2 437.9,379.5 438.6,371.6 439.4,378.5 440.1,372.6 440.8,379.6 441.6,371.1 442.3,377.9 443.1,368.3 443.8,380.1 444.5,370.7 445.3,378.1 446,371.6 446.7,377.9 447.5,372.8 448.2,378.9 448.9,370.3 449.7,378.4 450.4,371.6 451.1,378.9 451.9,371.5 452.6,378.2 453.3,371 454.1,377.7 454.8,368.4 455.5,380.7 456.3,370 457,378.5 457.8,368.5 458.5,378.1 459.2,370.3 460,378.7 460.7,371.2 461.4,379.5 462.2,371.1 462.9,383.1 463.6,370.3 464.4,381.9 465.1,372.8 465.8,380.9 466.6,370.5 467.3,379 468,365 468.8,381.5 469.5,371.9 470.3,380 471,370.5 471.7,379.8 472.5,368.9 473.2,379 473.9,371 474.7,379.2 475.4,363.7 476.1,385.4 476.9,369.1 477.6,381.2 478.3,370.6 479.1,377.9 479.8,368.4 480.5,378.7 481.3,369.6 482,379.4 482.7,370.7 483.5,380.7 484.2,360.5 485,381.9 485.7,367.6 486.4,379.7 487.2,369.9 487.9,379.7 488.6,371.4 489.4,379.4 490.1,371.5 490.8,386.9 491.6,372.2 492.3,381.6 493,371.3 493.8,382.1 494.5,372 495.2,382.9 496,371.3 496.7,381.9 497.5,373.9 498.2,380.3 498.9,372.5 499.7,381 500.4,369.7 501.1,378.2 501.9,369.4 502.6,382.3 503.3,366.6 504.1,381.4 504.8,369.7 505.5,388.8 506.3,369.1 507,381.5 507.7,368.4 508.5,384.1 509.2,369.9 509.9,391.1 510.7,367.9 511.4,381.3 512.2,368.5 512.9,378.8 513.6,366.7 514.4,381.1 515.1,363.7 515.8,387.2 516.6,370.2 517.3,378.1 518,372.8 518.8,378.1 519.5,371.1 520.2,378.1 521,372.3 521.7,379.6 522.4,372 523.2,378.2 523.9,371.9 524.7,378.7 525.4,372.7 526.1,378.4 526.9,370.8 527.6,379.1 528.3,372.4 529.1,379.5 529.8,372.6 530.5,378.6 531.3,372.4 532,378.2 532.7,371.8 533.5,380.4 534.2,370.7 534.9,378 535.7,372.2 536.4,378.3 537.1,372.4 537.9,378.9 538.6,371.1 539.4,380.1 540.1,370.8 540.8,379.3 541.6,369.6 542.3,379.3 543,370.4 543.8,378.3 544.5,370.9 545.2,383.5 546,371.1 546.7,381.4 547.4,371.3 548.2,380.1 548.9,369.9 549.6,380.9 550.4,372.7 551.1,381.2 551.9,372 552.6,386.9 553.3,373.8 554.1,382.2 554.8,373.3 555.5,379.5 556.3,372.7 557,380.1 557.7,374.3 558.5,379.5 559.2,373.8 559.9,381.9 560.7,374.1 561.4,380.3 562.1,373.8 562.9,381.2 563.6,372.1 564.3,388.5 565.1,365 565.8,383.5 566.6,372.9 567.3,380.4 568,369.8 568.8,380.7 569.5,372.9 570.2,380.9 571,372.5 571.7,379.6 572.4,373.9 573.2,381.1 573.9,374.1 574.6,380.2 575.4,373.8 576.1,381.7 576.8,372 577.6,382.3 578.3,370.9 579.1,383.6 579.8,373.4 580.5,382.2 581.3,374.1 582,383.7 582.7,366.6 583.5,383.4 584.2,372.7 584.9,385.4 585.7,374.5 586.4,384 587.1,375 587.9,383.2 588.6,376.1 589.3,383.5 590.1,374.6 590.8,382.8 591.5,372.7 592.3,385.9 593,374.3 593.8,384.4 594.5,375.8 595.2,382.4 596,375.2 596.7,382.6 597.4,376 598.2,383.1 598.9,374.7 599.6,382.4 600.4,375.1 601.1,381.7 601.8,374.6 602.6,381.5 603.3,374.6 604,382.9 604.8,375.1 605.5,382.7 606.3,376.1 607,383.1 607.7,377.1 608.5,385.6 609.2,376.6 609.9,383.8 610.7,375.4 611.4,384 612.1,377.2 612.9,383.5 613.6,376.5 614.3,382.3 615.1,377.6 615.8,382.1 616.5,376 617.3,381 618,377 618.7,383.3 619.5,376.6 620.2,382.4 621,377.7 621.7,384.6 622.4,375.3 623.2,383.6 623.9,377.1 624.6,383.8 625.4,377 626.1,383.2 626.8,377 627.6,383 628.3,377.4 629,382.6 629.8,378 630.5,383.8 631.2,378.2 632,382.4 632.7,377.6 633.5,382.3 634.2,376.4 634.9,382.6 635.7,377.1 636.4,382.6 637.1,377.7 637.9,383.6 638.6,377.7 639.3,382.1 640.1,377.9 640.8,382.9 641.5,377.7 642.3,382.6 643,376.5 643.7,383.1 644.5,375.8 645.2,383.1 646,377.9 646.7,382.7 647.4,378.1 648.2,382.5 648.9,378 649.6,383.2 650.4,378.5 651.1,383.2 651.8,378.3 652.6,383.2 653.3,379.5 654,383.7 654.8,378.8 655.5,385.3 656.2,378.3 657,385.8 657.7,379.6 658.4,385 659.2,378.3 659.9,386.3 660.7,378.3 661.4,384.2 662.1,376.6 662.9,383.7 663.6,375.7 664.3,384.4 665.1,377.3 665.8,384.8 666.5,377.9 667.3,384.7 668,378.2 668.7,385 669.5,377.5 670.2,382.7 670.9,375.8 671.7,381.1 672.4,376.1 673.2,382.8 673.9,375.3 674.6,383.5 675.4,374.2 676.1,383.3 676.8,373.1 677.6,384.4 678.3,374.7 679,386.2 679.8,374.8 680.5,385.8 681.2,374.7 682,387.1 682.7,375.6 683.4,386.1 684.2,374.3 684.9,384 685.6,372.4 686.4,386.6 687.1,372.8 687.9,385.5 688.6,373.6 689.3,385.6 690.1,373.7 690.8,384.4 691.5,373.5 692.3,385.5 693,375 693.7,387.7 694.5,374.7 695.2,388.3 695.9,371.7 696.7,387.9 697.4,373.9 698.1,388.9 698.9,371.6 699.6,389.8 700.4,363.5 701.1,386.6 701.8,373.6 702.6,388 703.3,373.7 704,388.6 704.8,372.7 705.5,386.4 706.2,373.6 707,387.3 707.7,371.5 708.4,389.2 709.2,363.7 709.9,388.2 710.6,370.8 711.4,389.1 712.1,371.1 712.8,387.8 713.6,370.5 714.3,388.6 715.1,372 715.8,388.6 716.5,374.2 717.3,386.5 718,370.4 718.7,386.9 719.5,372.5 720.2,389 720.9,372.6 721.7,390.1 722.4,368.8 723.1,387.9 723.9,371.4 724.6,389.1 725.3,370.2 726.1,387.4 726.8,370 727.6,387.6 728.3,370.7 729,389.2 729.8,372.7 730.5,388.3 731.2,370.5 732,388.4 732.7,374 733.4,392.5 734.2,372.5 734.9,386.1 735.6,371.9 736.4,387 737.1,374.7 737.8,385.7 738.6,372.9 739.3,386.2 740,374.6 740.8,385.9 741.5,375.3 742.3,387.5 743,374.2 743.7,389.2 744.5,376.1 745.2,387.5 745.9,374 746.7,386.9 747.4,375.2 748.1,388 748.9,376.2 749.6,386.2 750.3,371.1 751.1,392 751.8,375.2 752.5,387.7 753.3,376.1 754,387.6 754.8,376.9 755.5,387.6 756.2,375.3 757,387.8 757.7,374.5 758.4,386.1 759.2,376.5 759.9,385.9 760.6,375.4 761.4,387.8 762.1,376.1 762.8,387.4 763.6,374.6 764.3,385.8 765,376 765.8,386 766.5,374.9 767.2,387.4 768,374.2 768.7,387.1 769.5,375.5 770.2,387.4 770.9,375.1 771.7,386.3 772.4,375.7 773.1,387.7 773.9,375.2 774.6,386.3 775.3,377.3 776.1,385.8 776.8,375.9 777.5,388 778.3,376.9 779,388 779.7,376.2 780.5,387.8 781.2,375.7 782,388.2 782.7,377.5 783.4,387.1 784.2,377 784.9,387.7 785.6,376.7 786.4,387.8 787.1,377.8 787.8,388.6 788.6,377.8 789.3,386.5 790,376.4 790.8,386.9 791.5,378 792.2,389.5 793,377 793.7,387.2 794.4,376.4 795.2,388.3 795.9,377.6 796.7,389.2 797.4,377.1 798.1,389.4 798.9,378.3 799.6,388.2 800.3,377.5 801.1,387.3 801.8,377.2 802.5,389.2 803.3,377.8 804,387.4 804.7,379.2 805.5,389.2 806.2,377.7 806.9,389.3 807.7,378.3 808.4,388.7 809.2,377.7 809.9,389.5 810.6,378.5 811.4,390 812.1,378.3 812.8,389.5 813.6,377.7 814.3,390.3 815,378.9 815.8,392.4 816.5,366.1 817.2,392 818,378.2 818.7,389.1 819.4,378.9 820.2,394.9 820.9,370.9 821.6,389 822.4,379.6 823.1,390 823.9,379.8 824.6,391 825.3,378.5 826.1,391.2 826.8,378.4 827.5,391.3 828.3,378.4 829,390.8 829.7,379.1 830.5,390 831.2,379.5 831.9,388.8 832.7,378.1 833.4,387.4 834.1,378.5 834.9,387.5 835.6,379 836.4,385.9 837.1,379 837.8,386.1 838.6,377.3 839.3,386.7 840,377.9 840.8,385 841.5,371.4 842.2,386.2 843,377 843.7,385.7 844.4,376.5 845.2,384.3 845.9,377.1 846.6,384.9 847.4,376.9 848.1,384.6 848.8,376.3 849.6,384.8 850.3,376.5 851.1,386.5 851.8,375.6 852.5,385.3 853.3,376.6 854,391.5 854.7,376.6 855.5,386.3 856.2,375.4 856.9,385.8 857.7,377.4 858.4,386.9 859.1,376 859.9,385.4 860.6,376 861.3,385.7 862.1,377.8 862.8,386.6 863.6,377.7 864.3,386 865,376.1 865.8,386.6 866.5,378.1 867.2,385.4 868,377.5 868.7,385.5 869.4,376.4 870.2,385.4 870.9,376.7 871.6,384.2 872.4,376.5 873.1,384.2 873.8,376.2 874.6,384 875.3,377.7 876,384.4 876.8,377.3 877.5,383.7 878.3,376 879,383.7 879.7,377 880.5,385.2 881.2,376 881.9,383.8 882.7,376.1 883.4,384.6 884.1,376.2 884.9,383.3 885.6,372.5 886.3,383.5 887.1,376.8 887.8,384.9 888.5,376 889.3,384.3 890,377 890.8,385.8 891.5,377.3 892.2,384.6 893,376 893.7,386.3 894.4,376.3 895.2,386.5 895.9,377.7 896.6,385.8 897.4,377.2 898.1,387.5 898.8,375.8 899.6,387.6 900.3,376.2 901,387 901.8,375 902.5,387.1 903.2,376 904,388.4 904.7,375.3 905.5,387.5 906.2,375.8 906.9,390.7 907.7,376.7 908.4,385.9 909.1,376.8 909.9,383.8 910.6,375.6 911.3,385.2 912.1,376.2 912.8,384.4 913.5,374.9 914.3,385.6 915,375.5 915.7,391 916.5,369.6 917.2,387.3 918,374.2 918.7,387.8 919.4,374.7 920.2,387.7 920.9,375 921.6,385 922.4,372.5 923.1,387 923.8,374 924.6,385.7 925.3,375.5 926,386.1 926.8,378.4 927.5,387.5 928.2,376.2 929,388.2 929.7,373.8 930.4,386.4 931.2,365.7 931.9,388.8 932.7,375.2 933.4,387.7 934.1,373.4 934.9,384.1 935.6,373.3 936.3,383.4 937.1,373.4 937.8,386.3 938.5,375.3 939.3,385.8 940,374.1 940.7,387.3 941.5,374.5 942.2,388 942.9,371.8 943.7,386.6 944.4,371 945.2,387.6 945.9,371.8 946.6,392.9 947.4,369.6 948.1,389.2 948.8,371.7 949.6,387.3 950.3,371.4 951,391.3 951.8,369.1 952.5,383.9 953.2,374.9 954,381.4 954.7,374.2 955.4,385 956.2,372.7 956.9,385.3 957.6,372.6 958.4,388 959.1,369.2 959.9,388.7 960.6,371.1 961.3,389.4 962.1,371.8 962.8,389.5 963.5,370.1 964.3,386.5 965,373.8 965.7,386 966.5,373.8 967.2,388 967.9,372.4 968.7,386.2 969.4,372.6 970.1,385.3 970.9,373.5 971.6,386.8 972.4,372.8 973.1,386.9 973.8,372.9 974.6,390.3 975.3,367.5 976,386.9 976.8,372.2 977.5,385.1 978.2,374.1 979,392.1 979.7,365.9 980.4,384.5 981.2,373.3 981.9,382.8 982.6,373.9 983.4,381.9 984.1,374.1 984.8,382.2 985.6,374.8 986.3,382 987.1,374.4 987.8,382.4 988.5,373.9 989.3,380.9 990,374.5 990.7,381 991.5,375.4 992.2,381.5 992.9,374.9 993.7,381.4 994.4,374.8 995.1,381.3 995.9,375 996.6,380.9 997.3,374.9 998.1,381.8 998.8,373.2 999.6,380.5 1000.3,372.4 1001,380.6 1001.8,372.6 1002.5,381.7 1003.2,371.5 1004,379.9 1004.7,372 1005.4,379.7 1006.2,371.9 1006.9,383.7 1007.6,371.4 1008.4,383.9 1009.1,369.1 1009.8,386.4 1010.6,372.7 1011.3,385.2 1012,371.8 1012.8,386.2 1013.5,373.7 1014.3,386 1015,370.7 1015.7,384.8 1016.5,370.8 1017.2,384.2 1017.9,371.4 1018.7,385.9 1019.4,370.6 1020.1,385.8 1020.9,371.2 1021.6,384.3 1022.3,373 1023.1,384.1 1023.8,371.4 1024.5,385.8 1025.3,370.2 1026,383.1 1026.8,367 1027.5,392.1 1028.2,371.5 1029,385.6 1029.7,369.6 1030.4,384.2 1031.2,369.2 1031.9,385.4 1032.6,371.5 1033.4,384.5 1034.1,372 1034.8,384.4 1035.6,370.4 1036.3,384.6 1037,372.9 1037.8,384.4 1038.5,372.4 1039.2,383.6 1040,369.9 1040.7,385.7 1041.5,372.1 1042.2,384.8 1042.9,372.7 1043.7,395.5 1044.4,370.9 1045.1,382.8 1045.9,373.6 1046.6,382.7 1047.3,373.7 1048.1,381.3 1048.8,372.6 1049.5,382.9 1050.3,373.2 1051,383.5 1051.7,372 1052.5,381.8 1053.2,373.6 1054,382.3 1054.7,373.6 1055.4,382.3 1056.2,375.1 1056.9,382.2 1057.6,376.4 1058.4,381.5 1059.1,375.7 1059.8,382.6 1060.6,376.6 1061.3,383.4 1062,376.5 1062.8,383.3 1063.5,376.1 1064.2,383.5 1065,376.6 1065.7,381.9 1066.4,375.2 1067.2,382.5 1067.9,375.2 1068.7,386.3 1069.4,368.9 1070.1,382.5 1070.9,376.2 1071.6,383 1072.3,375 1073.1,381.8 1073.8,376.1 1074.5,383.1 1075.3,376.8 1076,382.8 1076.7,371.5 1077.5,382.7 1078.2,376 1078.9,382.2 1079.7,376.3 1080.4,382.8 1081.2,376.7 1081.9,382.8 1082.6,376.4 1083.4,382.4 1084.1,376.2 1084.8,382.3 1085.6,376.4 1086.3,382.7 1087,376.4 1087.8,382 1088.5,376.4 1089.2,381.8 1090,376.6 1090.7,382.8 1091.4,376.4 1092.2,381.9 1092.9,376.3 1093.6,382.2 1094.4,376.4 1095.1,383.2 1095.9,376.2 1096.6,382.7 1097.3,376.3 1098.1,383.4 1098.8,377.7 1099.5,383.2 1100.3,377.7 1101,382.6 1101.7,377.4 1102.5,383.5 1103.2,378.2 1103.9,382.5 1104.7,378 1105.4,383.3 1106.1,379 1106.9,383.3 1107.6,378.2 1108.4,382.8 1109.1,378.3 1109.8,384.2 1110.6,378.5 1111.3,385.9 1112,377.2 1112.8,385.7 1113.5,377.2 1114.2,387.4 1115,377.8 1115.7,385.7 1116.4,377.3 1117.2,386.1 1117.9,378.6 1118.6,384.3 1119.4,377.3 1120.1,386.4 1120.9,376.1 1121.6,386.4 1122.3,376.3 1123.1,388.3 1123.8,366 1124.5,400.4 1125.3,374 1126,390.5 1126.7,374 1127.5,390.1 1128.2,374.1 1128.9,393.8 1129.7,360.9 1130.4,394 1131.1,375.5 1131.9,393.3 1132.6,371.3 1133.3,398.4 1134.1,365.4 1134.8,390.7 1135.6,373 1136.3,389.9 1137,374.7 1137.8,387.8 1138.5,376.6 1139.2,392.3 1140,374.6 1140.7,393.2 1141.4,375.3 1142.2,394.2 1142.9,377.6 1143.6,390.7 1144.4,373.9 1145.1,393.4 1145.8,370.9 1146.6,390.1 1147.3,373.7 1148.1,410.1 1148.8,357.7 1149.5,392.3 1150.3,374.1 1151,390.2 1151.7,376.8 1152.5,389.1 1153.2,377.4 1153.9,391.4 1154.7,374.9 1155.4,389 1156.1,376.7 1156.9,389.4 1157.6,375.6 1158.3,390 1159.1,375.4 1159.8,388.6 1160.5,377 1161.3,390.4 1162,376 1162.8,390.1 1163.5,374.9 1164.2,391.2 1165,376.5 1165.7,398.4 1166.4,369.5 1167.2,391.6 1167.9,375.5 1168.6,390.5 1169.4,376.1 1170.1,390.5 1170.8,375.5 1171.6,391.4 1172.3,377.3 1173,390.1 1173.8,375.8 1174.5,391.3 1175.3,377.8 1176,391.1 1176.7,375.7 1177.5,388.9 1178.2,376.3 1178.9,390.8 1179.7,377.5 1180.4,393.8 1181.1,376.1 1181.9,388.8 1182.6,376.9 1183.3,389.6 1184.1,379.8 1184.8,389 1185.5,379.8 1186.3,387.6 1187,381 1187.7,388.3 1188.5,380.2 1189.2,390.1 1190,379.3 1190.7,390 1191.4,377.9 1192.2,389.6 1192.9,377.3 1193.6,389.1 1194.4,375.3 1195.1,389.7 1195.8,375.5 1196.6,387.4 1197.3,375.3 1198,390.2 1198.8,376.8 1199.5,401.9 1200.2,366.1 1201,390 1201.7,375.8 1202.5,390.5 1203.2,375.1 1203.9,391.5 1204.7,372.9 1205.4,390.5 1206.1,373.1 1206.9,387.9 1207.6,375 1208.3,387 1209.1,374 1209.8,388.4 1210.5,375.3 1211.3,388.8 1212,376.6 1212.7,389.3 1213.5,377.3 1214.2,389.5 1214.9,378.8 1215.7,390 1216.4,376.9 1217.2,389.5 1217.9,377.4 1218.6,390 1219.4,375 1220.1,395.3 1220.8,377.2 1221.6,388.1 1222.3,376.6 1223,388.5 1223.8,378.8 1224.5,389.9 1225.2,377.9 1226,388.3 1226.7,377.5 1227.4,390.2 1228.2,376.8 1228.9,389.1 1229.7,377.8 1230.4,387.8 1231.1,377.8 1231.9,389.8 1232.6,377.3 1233.3,389.6 1234.1,378.3 1234.8,388 1235.5,377.1 1236.3,388.6 1237,377.7 1237.7,389.8 1238.5,377.2 1239.2,388.8 1239.9,379.3 1240.7,390 1241.4,377.2 1242.1,389.6 1242.9,375.6 1243.6,392 1244.4,375.6 1245.1,397 1245.8,371.9 1246.6,391.5 1247.3,371.5 1248,394 1248.8,373.9 1249.5,390.3 1250.2,375.4 1251,393.5 1251.7,372.2 1252.4,391.3 1253.2,362.4 1253.9,396.2 1254.6,375.7 1255.4,393.9 1256.1,375.4 1256.9,399.3 1257.6,361.5 1258.3,393.9 1259.1,373.7 1259.8,393.3 1260.5,377 1261.3,390.5 1262,375.5 1262.7,391.4 1263.5,376.5 1264.2,392.3 1264.9,376.8 1265.7,390.1 1266.4,375.6 1267.1,390.9 1267.9,378.3 1268.6,391.8 1269.3,369.3 1270.1,395 1270.8,376.4 1271.6,391 1272.3,376.3 1273,390.6 1273.8,376.6 1274.5,391.3 1275.2,377.2 1276,389.6 1276.7,376.4 1277.4,391.3 1278.2,377 1278.9,391.5 1279.6,377 1280.4,395.3 1281.1,377.9 1281.8,389.9 1282.6,377.3 1283.3,391 1284.1,376.7 1284.8,390.6 1285.5,378.7 1286.3,391.2 1287,377.4 1287.7,389.9 1288.5,377.1 1289.2,388.5 1289.9,377.1 1290.7,388.9 1291.4,378.7 1292.1,387.3 1292.9,378.2 1293.6,388.6 1294.3,378.3 1295.1,388 1295.8,377.9 1296.5,388.3 1297.3,377.9 1298,388.9 1298.8,378.7 1299.5,387.9 1300.2,377.3 1301,389.7 1301.7,378.5 1302.4,387.6 1303.2,378.6 1303.9,390 1304.6,377.1 1305.4,390.7 1306.1,377.5 1306.8,389.3 1307.6,376.5 1308.3,390.9 1309,379 1309.8,390.6 1310.5,377.3 1311.3,390.4 1312,375.9 1312.7,390.9 1313.5,375.3 1314.2,389.7 1314.9,375.2 1315.7,391.7 1316.4,369.9 1317.1,390.7 1317.9,374.6 1318.6,388.3 1319.3,376.3 1320.1,391 1320.8,374.9 1321.5,393.1 1322.3,369.9 1323,388.9 1323.7,377 1324.5,389.2 1325.2,374.9 1326,388.3 1326.7,375.1 1327.4,387 1328.2,375.6 1328.9,385 1329.6,375 1330.4,386.8 1331.1,375.2 1331.8,387.7 1332.6,375.9 1333.3,387.4 1334,373.8 1334.8,389.5 1335.5,369.3 1336.2,387.4 1337,374.7 1337.7,385.7 1338.5,375.5 1339.2,385.2 1339.9,375.8 1340.7,386.1 1341.4,376 1342.1,387.3 1342.9,373.6 1343.6,391.9 1344.3,373.1 1345.1,385.7 1345.8,373.4 1346.5,388 1347.3,374.7 1348,386.4 1348.7,366.7 1349.5,390.2 1350.2,373.4 1350.9,385.7 1351.7,371.9 1352.4,384.8 1353.2,374.5 1353.9,386.4 1354.6,372.4 1355.4,387.5 1356.1,368.2 1356.8,385.1 1357.6,374.8 1358.3,384.1" stroke="#ff00ff"/>
<path d="M381.3,372.4 382,379.1 382.8,372.2 383.5,378.1 384.2,370.3 385,379.8 385.7,371.7 386.4,378.5 387.2,369.8 387.9,378.1 388.7,370.6 389.4,378 390.1,370.6 390.9,378.6 391.6,370.2 392.3,379 393.1,369.3 393.8,380.9 394.5,368.6 395.3,393 396,360.5 396.7,379 397.5,371 398.2,379.3 398.9,372.6 399.7,380.7 400.4,371.5 401.1,381.2 401.9,368.8 402.6,379.9 403.4,370.5 404.1,381.4 404.8,371.1 405.6,378.6 406.3,369.8 407,378.6 407.8,370.8 408.5,378.2 409.2,370.1 410,378.6 410.7,368.7 411.4,380.4 412.2,370.9 412.9,380.6 413.6,370.7 414.4,390.4 415.1,358.4 415.9,382.1 416.6,368.7 417.3,380.9 418.1,371.3 418.8,380.3 419.5,361.6 420.3,390.9 421,372.4 421.7,379.7 422.5,372.3 423.2,380.4 423.9,372.6 424.7,380.8 425.4,373.2 426.1,382.4 426.9,371.6 427.6,380 428.3,373.4 429.1,380.1 429.8,373.4 430.6,379.8 431.3,372.2 432,380 432.8,371 433.5,380.1 434.2,371.8 435,380.7 435.7,373.1 436.4,382.3 437.2,372.3 437.9,381.6 438.6,373.7 439.4,380.6 440.1,374.7 440.8,381.7 441.6,373.2 442.3,380 443.1,370.4 443.8,382.2 444.5,372.8 445.3,380.2 446,373.7 446.7,380 447.5,374.9 448.2,381 448.9,372.4 449.7,380.5 450.4,373.7 451.1,381 451.9,373.6 452.6,380.3 453.3,373.1 454.1,379.8 454.8,370.5 455.5,382.8 456.3,372.1 457,380.6 457.8,370.6 458.5,380.2 459.2,372.4 460,380.8 460.7,373.3 461.4,381.6 462.2,373.2 462.9,385.2 463.6,372.4 464.4,384 465.1,374.9 465.8,383 466.6,372.6 467.3,381.1 468,367.1 468.8,383.6 469.5,374 470.3,382.1 471,372.6 471.7,381.9 472.5,371 473.2,381.1 473.9,373.1 474.7,381.3 475.4,365.8 476.1,387.5 476.9,371.2 477.6,383.3 478.3,372.7 479.1,380 479.8,370.5 480.5,380.8 481.3,371.7 482,381.5 482.7,372.8 483.5,382.8 484.2,362.6 485,384 485.7,369.7 486.4,381.8 487.2,372 487.9,381.8 488.6,373.5 489.4,381.5 490.1,373.6 490.8,389 491.6,374.3 492.3,383.7 493,373.4 493.8,384.2 494.5,374.1 495.2,385 496,373.4 496.7,384 497.5,376 498.2,382.4 498.9,374.6 499.7,383.1 500.4,371.8 501.1,380.3 501.9,371.5 502.6,384.4 503.3,368.7 504.1,383.5 504.8,371.8 505.5,390.9 506.3,371.2 507,383.6 507.7,370.5 508.5,386.2 509.2,372 509.9,393.2 510.7,370 511.4,383.4 512.2,370.6 512.9,380.9 513.6,368.8 514.4,383.2 515.1,365.8 515.8,389.3 516.6,372.3 517.3,380.2 518,374.9 518.8,380.2 519.5,373.2 520.2,380.2 521,374.4 521.7,381.7 522.4,374.1 523.2,380.3 523.9,374 524.7,380.8 525.4,374.8 526.1,380.5 526.9,372.9 527.6,381.2 528.3,374.5 529.1,381.6 529.8,374.7 530.5,380.7 531.3,374.5 532,380.3 532.7,373.9 533.5,382.5 534.2,372.8 534.9,380.1 535.7,374.3 536.4,380.4 537.1,374.5 537.9,381 538.6,373.2 539.4,382.2 540.1,372.9 540.8,381.4 541.6,371.7 542.3,381.4 543,372.5 543.8,380.4 544.5,373 545.2,385.6 546,373.2 546.7,383.5 547.4,373.4 548.2,382.2 548.9,372 549.6,383 550.4,374.8 551.1,383.3 551.9,374.1 552.6,389 553.3,375.9 554.1,384.3 554.8,375.4 555.5,381.6 556.3,374.8 557,382.2 557.7,376.4 558.5,381.6 559.2,375.9 559.9,384 560.7,376.2 561.4,382.4 562.1,375.9 562.9,383.3 563.6,374.2 564.3,390.6 565.1,367.1 565.8,385.6 566.6,375 567.3,382.5 568,371.9 568.8,382.8 569.5,375 570.2,383 571,374.6 571.7,381.7 572.4,376 573.2,383.2 573.9,376.2 574.6,382.3 575.4,375.9 576.1,383.8 576.8,374.1 577.6,384.4 578.3,373 579.1,385.7 579.8,375.4 580.5,384.3 581.3,376.2 582,385.8 582.7,368.7 583.5,385.5 584.2,374.7 584.9,387.5 585.7,376.5 586.4,386 587.1,377 587.9,385.1 588.6,378.1 589.3,385.4 590.1,376.5 590.8,384.8 591.5,374.6 592.3,387.9 593,376.3 593.8,386.3 594.5,377.7 595.2,384.3 596,377.1 596.7,384.5 597.4,377.9 598.2,385 598.9,376.5 599.6,384.2 600.4,376.9 601.1,383.6 601.8,376.5 602.6,383.3 603.3,376.4 604,384.7 604.8,376.9 605.5,384.5 606.3,377.9 607,384.9 607.7,378.8 608.5,387.4 609.2,378.3 609.9,385.6 610.7,377.1 611.4,385.8 612.1,378.9 612.9,385.3 613.6,378.2 614.3,384 615.1,379.3 615.8,383.8 616.5,377.7 617.3,382.7 618,378.7 618.7,385 619.5,378.3 620.2,384.1 621,379.4 621.7,386.2 622.4,376.9 623.2,385.2 623.9,378.7 624.6,385.4 625.4,378.6 626.1,384.8 626.8,378.6 627.6,384.6 628.3,379 629,384.1 629.8,379.6 630.5,385.4 631.2,379.8 632,383.9 632.7,379.1 633.5,383.8 634.2,377.9 634.9,384.1 635.7,378.6 636.4,384 637.1,379.2 637.9,385.1 638.6,379.1 639.3,383.5 640.1,379.3 640.8,384.2 641.5,379.1 642.3,384 643,377.9 643.7,384.4 644.5,377.2 645.2,384.4 646,379.2 646.7,384 647.4,379.4 648.2,383.8 648.9,379.2 649.6,384.4 650.4,379.7 651.1,384.4 651.8,379.5 652.6,384.3 653.3,380.6 654,384.8 654.8,379.9 655.5,386.4 656.2,379.4 657,386.9 657.7,380.6 658.4,386 659.2,379.4 659.9,387.3 660.7,379.3 661.4,385.2 662.1,377.6 662.9,384.7 663.6,376.7 664.3,385.3 665.1,378.2 665.8,385.7 666.5,378.8 667.3,385.6 668,379.1 668.7,385.8 669.5,378.4 670.2,383.6 670.9,376.6 671.7,381.9 672.4,376.9 673.2,383.6 673.9,376.1 674.6,384.3 675.4,375 676.1,384 676.8,373.9 677.6,385.1 678.3,375.4 679,387 679.8,375.5 680.5,386.6 681.2,375.4 682,387.9 682.7,376.3 683.4,386.9 684.2,375 684.9,384.8 685.6,373.2 686.4,387.4 687.1,373.6 687.9,386.2 688.6,374.4 689.3,386.4 690.1,374.5 690.8,385.2 691.5,374.2 692.3,386.3 693,375.8 693.7,388.4 694.5,375.4 695.2,389.1 695.9,372.4 696.7,388.6 697.4,374.6 698.1,389.6 698.9,372.3 699.6,390.5 700.4,364.2 701.1,387.3 701.8,374.3 702.6,388.7 703.3,374.5 704,389.3 704.8,373.5 705.5,387.2 706.2,374.3 707,388.1 707.7,372.3 708.4,390 709.2,364.5 709.9,389 710.6,371.5 711.4,389.8 712.1,371.8 712.8,388.5 713.6,371.2 714.3,389.3 715.1,372.7 715.8,389.3 716.5,374.9 717.3,387.2 718,371.1 718.7,387.6 719.5,373.2 720.2,389.8 720.9,373.3 721.7,390.9 722.4,369.5 723.1,388.6 723.9,372.1 724.6,389.9 725.3,371 726.1,388.1 726.8,370.7 727.6,388.3 728.3,371.4 729,389.9 729.8,373.4 730.5,389.1 731.2,371.3 732,389.2 732.7,374.7 733.4,393.2 734.2,373.2 734.9,386.8 735.6,372.7 736.4,387.7 737.1,375.5 737.8,386.4 738.6,373.6 739.3,387 740,375.3 740.8,386.6 741.5,376 742.3,388.2 743,374.9 743.7,389.9 744.5,376.8 745.2,388.3 745.9,374.7 746.7,387.6 747.4,375.9 748.1,388.7 748.9,377 749.6,386.9 750.3,371.8 751.1,392.7 751.8,376 752.5,388.4 753.3,376.8 754,388.3 754.8,377.6 755.5,388.4 756.2,376 757,388.6 757.7,375.2 758.4,386.8 759.2,377.3 759.9,386.6 760.6,376.1 761.4,388.5 762.1,376.8 762.8,388.1 763.6,375.3 764.3,386.5 765,376.7 765.8,386.7 766.5,375.6 767.2,388.1 768,374.9 768.7,387.8 769.5,376.2 770.2,388.1 770.9,375.9 771.7,387 772.4,376.4 773.1,388.4 773.9,375.9 774.6,387 775.3,378.1 776.1,386.5 776.8,376.7 777.5,388.7 778.3,377.6 779,388.7 779.7,376.9 780.5,388.6 781.2,376.4 782,388.9 782.7,378.2 783.4,387.8 784.2,377.7 784.9,388.4 785.6,377.4 786.4,388.6 787.1,378.5 787.8,389.3 788.6,378.5 789.3,387.3 790,377.1 790.8,387.6 791.5,378.7 792.2,390.2 793,377.7 793.7,387.9 794.4,377.1 795.2,389 795.9,378.3 796.7,389.9 797.4,377.8 798.1,390.1 798.9,379 799.6,388.9 800.3,378.2 801.1,388 801.8,377.9 802.5,389.9 803.3,378.5 804,388.1 804.7,379.9 805.5,389.9 806.2,378.4 806.9,390 807.7,379 808.4,389.4 809.2,378.4 809.9,390.2 810.6,379.2 811.4,390.7 812.1,379 812.8,390.2 813.6,378.4 814.3,391 815,379.6 815.8,393.1 816.5,366.8 817.2,392.7 818,378.9 818.7,389.8 819.4,379.6 820.2,395.6 820.9,371.6 821.6,389.7 822.4,380.2 823.1,390.7 823.9,380.5 824.6,391.7 825.3,379.2 826.1,391.8 826.8,379.1 827.5,392 828.3,379 829,391.5 829.7,379.7 830.5,390.7 831.2,380.2 831.9,389.5 832.7,378.7 833.4,388.1 834.1,379.2 834.9,388.2 835.6,379.7 836.4,386.5 837.1,379.7 837.8,386.8 838.6,377.9 839.3,387.4 840,378.6 840.8,385.7 841.5,372.1 842.2,386.9 843,377.7 843.7,386.4 844.4,377.2 845.2,384.9 845.9,377.8 846.6,385.5 847.4,377.6 848.1,385.3 848.8,376.9 849.6,385.5 850.3,377.2 851.1,387.2 851.8,376.3 852.5,386 853.3,377.3 854,392.2 854.7,377.3 855.5,387 856.2,376 856.9,386.5 857.7,378.1 858.4,387.5 859.1,376.7 859.9,386.1 860.6,376.7 861.3,386.4 862.1,378.5 862.8,387.3 863.6,378.4 864.3,386.6 865,376.7 865.8,387.3 866.5,378.8 867.2,386.1 868,378.2 868.7,386.2 869.4,377 870.2,386 870.9,377.4 871.6,384.8 872.4,377.2 873.1,384.9 873.8,376.9 874.6,384.6 875.3,378.4 876,385 876.8,378 877.5,384.4 878.3,376.7 879,384.3 879.7,377.6 880.5,385.9 881.2,376.7 881.9,384.5 882.7,376.8 883.4,385.3 884.1,376.8 884.9,384 885.6,373.2 886.3,384.1 887.1,377.4 887.8,385.6 888.5,376.7 889.3,385 890,377.7 890.8,386.5 891.5,377.9 892.2,385.3 893,376.7 893.7,387 894.4,376.9 895.2,387.2 895.9,378.3 896.6,386.5 897.4,377.9 898.1,388.2 898.8,376.5 899.6,388.2 900.3,376.9 901,387.6 901.8,375.7 902.5,387.8 903.2,376.7 904,389 904.7,376 905.5,388.1 906.2,376.5 906.9,391.4 907.7,377.4 908.4,386.6 909.1,377.4 909.9,384.5 910.6,376.2 911.3,385.9 912.1,376.9 912.8,385 913.5,375.6 914.3,386.2 915,376.2 915.7,391.7 916.5,370.3 917.2,388 918,374.9 918.7,388.5 919.4,375.3 920.2,388.3 920.9,375.6 921.6,385.6 922.4,373.1 923.1,387.7 923.8,374.6 924.6,386.4 925.3,376.1 926,386.7 926.8,379 927.5,388.1 928.2,376.8 929,388.8 929.7,374.5 930.4,387.1 931.2,366.3 931.9,389.5 932.7,375.9 933.4,388.4 934.1,374.1 934.9,384.8 935.6,373.9 936.3,384 937.1,374.1 937.8,386.9 938.5,375.9 939.3,386.4 940,374.7 940.7,387.9 941.5,375.1 942.2,388.6 942.9,372.5 943.7,387.3 944.4,371.6 945.2,388.2 945.9,372.4 946.6,393.5 947.4,370.2 948.1,389.8 948.8,372.3 949.6,387.9 950.3,372.1 951,391.9 951.8,369.7 952.5,384.5 953.2,375.5 954,382.1 954.7,374.8 955.4,385.6 956.2,373.3 956.9,386 957.6,373.3 958.4,388.6 959.1,369.8 959.9,389.4 960.6,371.8 961.3,390 962.1,372.5 962.8,390.2 963.5,370.7 964.3,387.2 965,374.4 965.7,386.6 966.5,374.5 967.2,388.6 967.9,373 968.7,386.9 969.4,373.2 970.1,385.9 970.9,374.1 971.6,387.5 972.4,373.4 973.1,387.5 973.8,373.5 974.6,390.9 975.3,368.2 976,387.5 976.8,372.9 977.5,385.7 978.2,374.7 979,392.7 979.7,366.6 980.4,385.1 981.2,373.9 981.9,383.4 982.6,374.6 983.4,382.6 984.1,374.8 984.8,382.8 985.6,375.5 986.3,382.6 987.1,375.1 987.8,383 988.5,374.6 989.3,381.6 990,375.1 990.7,381.6 991.5,376 992.2,382.1 992.9,375.5 993.7,382.1 994.4,375.5 995.1,382 995.9,375.7 996.6,381.5 997.3,375.5 998.1,382.4 998.8,373.8 999.6,381.1 1000.3,373 1001,381.3 1001.8,373.3 1002.5,382.3 1003.2,372.1 1004,380.5 1004.7,372.6 1005.4,380.3 1006.2,372.5 1006.9,384.3 1007.6,372 1008.4,384.6 1009.1,369.7 1009.8,387 1010.6,373.3 1011.3,385.8 1012,372.5 1012.8,386.8 1013.5,374.3 1014.3,386.6 1015,371.3 1015.7,385.4 1016.5,371.4 1017.2,384.8 1017.9,372 1018.7,386.5 1019.4,371.2 1020.1,386.4 1020.9,371.8 1021.6,384.9 1022.3,373.7 1023.1,384.7 1023.8,372 1024.5,386.4 1025.3,370.8 1026,383.7 1026.8,367.6 1027.5,392.7 1028.2,372.1 1029,386.2 1029.7,370.2 1030.4,384.8 1031.2,369.8 1031.9,386 1032.6,372.2 1033.4,385.1 1034.1,372.6 1034.8,385 1035.6,371 1036.3,385.2 1037,373.5 1037.8,385 1038.5,373 1039.2,384.2 1040,370.5 1040.7,386.3 1041.5,372.7 1042.2,385.4 1042.9,373.3 1043.7,396.1 1044.4,371.5 1045.1,383.4 1045.9,374.2 1046.6,383.3 1047.3,374.3 1048.1,381.9 1048.8,373.2 1049.5,383.5 1050.3,373.8 1051,384.1 1051.7,372.7 1052.5,382.4 1053.2,374.2 1054,382.9 1054.7,374.2 1055.4,382.9 1056.2,375.7 1056.9,382.8 1057.6,377 1058.4,382.1 1059.1,376.3 1059.8,383.2 1060.6,377.2 1061.3,384 1062,377.1 1062.8,383.9 1063.5,376.7 1064.2,384.1 1065,377.2 1065.7,382.5 1066.4,375.8 1067.2,383.1 1067.9,375.8 1068.7,386.9 1069.4,369.5 1070.1,383.1 1070.9,376.8 1071.6,383.6 1072.3,375.6 1073.1,382.4 1073.8,376.7 1074.5,383.7 1075.3,377.4 1076,383.4 1076.7,372.1 1077.5,383.3 1078.2,376.6 1078.9,382.8 1079.7,376.9 1080.4,383.4 1081.2,377.3 1081.9,383.4 1082.6,377 1083.4,383 1084.1,376.8 1084.8,382.9 1085.6,377 1086.3,383.3 1087,377 1087.8,382.6 1088.5,377 1089.2,382.4 1090,377.2 1090.7,383.4 1091.4,377 1092.2,382.4 1092.9,376.9 1093.6,382.8 1094.4,377 1095.1,383.8 1095.9,376.8 1096.6,383.3 1097.3,376.9 1098.1,384 1098.8,378.3 1099.5,383.8 1100.3,378.3 1101,383.2 1101.7,378 1102.5,384.1 1103.2,378.8 1103.9,383 1104.7,378.6 1105.4,383.8 1106.1,379.6 1106.9,383.9 1107.6,378.8 1108.4,383.4 1109.1,378.9 1109.8,384.8 1110.6,379 1111.3,386.4 1112,377.8 1112.8,386.3 1113.5,377.8 1114.2,387.9 1115,378.3 1115.7,386.3 1116.4,377.9 1117.2,386.7 1117.9,379.1 1118.6,384.8 1119.4,377.8 1120.1,386.9 1120.9,376.7 1121.6,386.9 1122.3,376.9 1123.1,388.9 1123.8,366.6 1124.5,400.9 1125.3,374.5 1126,391.1 1126.7,374.6 1127.5,390.6 1128.2,374.7 1128.9,394.4 1129.7,361.4 1130.4,394.6 1131.1,376.1 1131.9,393.8 1132.6,371.9 1133.3,398.9 1134.1,366 1134.8,391.2 1135.6,373.5 1136.3,390.5 1137,375.2 1137.8,388.3 1138.5,377.2 1139.2,392.9 1140,375.2 1140.7,393.7 1141.4,375.8 1142.2,394.8 1142.9,378.1 1143.6,391.2 1144.4,374.5 1145.1,394 1145.8,371.4 1146.6,390.7 1147.3,374.2 1148.1,410.7 1148.8,358.3 1149.5,392.8 1150.3,374.7 1151,390.7 1151.7,377.4 1152.5,389.6 1153.2,377.9 1153.9,392 1154.7,375.4 1155.4,389.5 1156.1,377.2 1156.9,390 1157.6,376.1 1158.3,390.5 1159.1,375.9 1159.8,389.1 1160.5,377.5 1161.3,390.9 1162,376.6 1162.8,390.6 1163.5,375.4 1164.2,391.7 1165,377 1165.7,398.9 1166.4,370 1167.2,392.2 1167.9,376 1168.6,391 1169.4,376.6 1170.1,391 1170.8,376.1 1171.6,391.9 1172.3,377.8 1173,390.6 1173.8,376.4 1174.5,391.8 1175.3,378.3 1176,391.6 1176.7,376.2 1177.5,389.4 1178.2,376.8 1178.9,391.4 1179.7,378 1180.4,394.4 1181.1,376.6 1181.9,389.3 1182.6,377.4 1183.3,390.1 1184.1,380.3 1184.8,389.5 1185.5,380.3 1186.3,388.1 1187,381.5 1187.7,388.8 1188.5,380.7 1189.2,390.6 1190,379.8 1190.7,390.5 1191.4,378.5 1192.2,390.1 1192.9,377.8 1193.6,389.6 1194.4,375.8 1195.1,390.2 1195.8,376 1196.6,387.9 1197.3,375.9 1198,390.7 1198.8,377.3 1199.5,402.4 1200.2,366.6 1201,390.5 1201.7,376.3 1202.5,391 1203.2,375.6 1203.9,392 1204.7,373.4 1205.4,391 1206.1,373.6 1206.9,388.4 1207.6,375.5 1208.3,387.5 1209.1,374.5 1209.8,388.9 1210.5,375.8 1211.3,389.3 1212,377.1 1212.7,389.8 1213.5,377.8 1214.2,390 1214.9,379.3 1215.7,390.5 1216.4,377.4 1217.2,390 1217.9,377.9 1218.6,390.5 1219.4,375.5 1220.1,395.8 1220.8,377.7 1221.6,388.6 1222.3,377.1 1223,389 1223.8,379.3 1224.5,390.4 1225.2,378.4 1226,388.8 1226.7,378 1227.4,390.7 1228.2,377.3 1228.9,389.6 1229.7,378.3 1230.4,388.3 1231.1,378.3 1231.9,390.3 1232.6,377.8 1233.3,390.1 1234.1,378.8 1234.8,388.5 1235.5,377.6 1236.3,389.1 1237,378.2 1237.7,390.3 1238.5,377.7 1239.2,389.3 1239.9,379.8 1240.7,390.5 1241.4,377.6 1242.1,390.1 1242.9,376 1243.6,392.5 1244.4,376.1 1245.1,397.5 1245.8,372.4 1246.6,392 1247.3,372 1248,394.5 1248.8,374.4 1249.5,390.8 1250.2,375.9 1251,394 1251.7,372.7 1252.4,391.8 1253.2,362.9 1253.9,396.6 1254.6,376.2 1255.4,394.3 1256.1,375.9 1256.9,399.8 1257.6,362 1258.3,394.4 1259.1,374.1 1259.8,393.7 1260.5,377.4 1261.3,391 1262,375.9 1262.7,391.9 1263.5,377 1264.2,392.7 1264.9,377.3 1265.7,390.6 1266.4,376.1 1267.1,391.4 1267.9,378.7 1268.6,392.3 1269.3,369.7 1270.1,395.5 1270.8,376.8 1271.6,391.4 1272.3,376.8 1273,391.1 1273.8,377.1 1274.5,391.8 1275.2,377.7 1276,390.1 1276.7,376.9 1277.4,391.7 1278.2,377.5 1278.9,392 1279.6,377.5 1280.4,395.8 1281.1,378.4 1281.8,390.4 1282.6,377.7 1283.3,391.5 1284.1,377.2 1284.8,391 1285.5,379.1 1286.3,391.6 1287,377.9 1287.7,390.3 1288.5,377.6 1289.2,389 1289.9,377.5 1290.7,389.4 1291.4,379.1 1292.1,387.7 1292.9,378.6 1293.6,389.1 1294.3,378.8 1295.1,388.5 1295.8,378.3 1296.5,388.7 1297.3,378.4 1298,389.3 1298.8,379.1 1299.5,388.3 1300.2,377.7 1301,390.2 1301.7,378.9 1302.4,388.1 1303.2,379 1303.9,390.4 1304.6,377.6 1305.4,391.2 1306.1,377.9 1306.8,389.8 1307.6,377 1308.3,391.3 1309,379.5 1309.8,391 1310.5,377.7 1311.3,390.8 1312,376.3 1312.7,391.3 1313.5,375.7 1314.2,390.2 1314.9,375.6 1315.7,392.1 1316.4,370.3 1317.1,391.2 1317.9,375 1318.6,388.7 1319.3,376.7 1320.1,391.4 1320.8,375.4 1321.5,393.5 1322.3,370.3 1323,389.3 1323.7,377.4 1324.5,389.6 1325.2,375.3 1326,388.8 1326.7,375.6 1327.4,387.4 1328.2,376.1 1328.9,385.5 1329.6,375.4 1330.4,387.2 1331.1,375.6 1331.8,388.1 1332.6,376.3 1333.3,387.8 1334,374.2 1334.8,390 1335.5,369.7 1336.2,387.8 1337,375.1 1337.7,386.1 1338.5,375.9 1339.2,385.6 1339.9,376.2 1340.7,386.5 1341.4,376.4 1342.1,387.7 1342.9,374 1343.6,392.4 1344.3,373.5 1345.1,386.1 1345.8,373.8 1346.5,388.4 1347.3,375.1 1348,386.8 1348.7,367.1 1349.5,390.6 1350.2,373.8 1350.9,386.1 1351.7,372.3 1352.4,385.2 1353.2,374.9 1353.9,386.8 1354.6,372.8 1355.4,387.9 1356.1,368.6 1356.8,385.5 1357.6,375.2 1358.3,384.5" stroke="#000000"/>
</g>
<text class="tk" transform="translate(381 819.2) scale(1.0 1.02)" text-anchor="middle">100</text>
<text class="tk" transform="translate(576.4 819.2) scale(1.0 1.02)" text-anchor="middle">200</text>
<text class="tk" transform="translate(771.8 819.2) scale(1.0 1.02)" text-anchor="middle">300</text>
<text class="tk" transform="translate(967.2 819.2) scale(1.0 1.02)" text-anchor="middle">400</text>
<text class="tk" transform="translate(1162.6 819.2) scale(1.0 1.02)" text-anchor="middle">500</text>
<text class="tk" transform="translate(1358 819.2) scale(1.0 1.02)" text-anchor="middle">600</text>
<text class="tk" transform="translate(364 397.3) scale(1.0 1.02)" text-anchor="end">0</text>
<text class="tk" transform="translate(358.5 497.3) scale(1.0 1.02)" text-anchor="end">-0.2</text>
<text class="tk" transform="translate(358.5 597.3) scale(1.0 1.02)" text-anchor="end">-0.4</text>
<text class="tk" transform="translate(358.5 697.3) scale(1.0 1.02)" text-anchor="end">-0.6</text>
</g>
<g id="inset2">
<rect x="370" y="880" width="1331" height="425" fill="#fff"/>
<path class="ax" d="M370,880H373V1305H370ZM1698,880H1701V1305H1698ZM370,880H1701V883H370ZM370,1302H1701V1305H370ZM636,1289H638V1305H636ZM636,880H638V896H636ZM901,1289H904V1305H901ZM901,880H904V896H901ZM1167,1289H1170V1305H1167ZM1167,880H1170V896H1167ZM1433,1289H1435V1305H1433ZM1433,880H1435V896H1433ZM370,950H386V952H370ZM1685,950H1701V952H1685ZM370,1126H386V1128H370ZM1685,1126H1701V1128H1685Z"/>
<g class="d">
<path d="M371.5,1156.3 372.5,1180.3 373.5,1156.1 374.5,1177.1 375.5,1150.1 376.5,1183.8 377.5,1155.7 378.5,1179.8 379.5,1149.3 380.5,1179 381.5,1152.9 382.5,1179.3 383.5,1153.6 384.5,1181.9 385.5,1152.7 386.5,1183.9 387.5,1150.2 388.5,1191.3 389.5,1148.2 390.5,1234.4 391.5,1120.3 392.5,1185.7 393.5,1157.7 394.5,1187.2 395.5,1164.1 396.5,1192.8 397.5,1160.9 398.5,1195.1 399.5,1151.7 400.5,1191.3 401.5,1158.5 402.5,1197 403.5,1161.2 404.5,1187.8 405.5,1157.2 406.5,1188.1 407.5,1160.2 408.5,1186.2 409.5,1157.3 410.5,1187 411.5,1151.7 412.5,1192.7 413.5,1159.2 414.5,1193 415.5,1157.9 416.5,1226.9 417.5,1114.1 418.5,1197.3 419.5,1149.8 420.5,1192.7 421.5,1158.6 422.5,1190.1 423.5,1123.7 424.5,1226.8 425.5,1161.4 426.5,1187 427.5,1160.7 428.5,1188.8 429.5,1160.9 430.5,1189.3 431.5,1162.1 432.5,1194.2 433.5,1155.7 434.5,1184.6 435.5,1160.9 436.5,1184.2 437.5,1160 438.4,1182.3 439.4,1154.8 440.4,1181.9 441.4,1149.9 442.4,1181.3 443.4,1151.8 444.4,1182.6 445.4,1155.3 446.4,1187.3 447.4,1151.6 448.4,1183.8 449.4,1155.7 450.4,1179.3 451.4,1158.1 452.4,1182.4 453.4,1151.8 454.4,1175.3 455.4,1140.8 456.4,1182.1 457.4,1148.5 458.4,1173.9 459.4,1150.7 460.4,1172.2 461.4,1153.9 462.4,1174.7 463.4,1144 464.4,1172.2 465.4,1147.5 466.4,1172.7 467.4,1146.3 468.4,1169.3 469.4,1143.4 470.4,1166.6 471.4,1133.4 472.4,1176.2 473.4,1137.7 474.4,1167.4 475.4,1131.6 476.4,1165.2 477.4,1137.3 478.4,1166.7 479.4,1139.8 480.4,1168.6 481.4,1138.7 482.4,1180.6 483.4,1135.4 484.4,1175.6 485.4,1143.3 486.4,1171.6 487.4,1134.5 488.4,1164.2 489.4,1114.5 490.4,1172.2 491.4,1138.3 492.4,1166.2 493.4,1132.3 494.4,1164.8 495.4,1126 496.4,1161.5 497.4,1132.9 498.4,1161.2 499.4,1106.1 500.4,1182 501.4,1124.3 502.4,1166.3 503.4,1128.6 504.4,1153.9 505.4,1119.9 506.4,1155.6 507.4,1123.1 508.4,1157 509.4,1125.8 510.4,1160.7 511.4,1089.1 512.4,1164 513.4,1113.2 514.4,1155.3 515.4,1120.3 516.4,1154.3 517.4,1124.5 518.4,1152.4 519.4,1124 520.4,1177.8 521.4,1125.5 522.4,1158.3 523.4,1121.4 524.4,1158.9 525.4,1122.9 526.4,1160.9 527.4,1119.7 528.4,1156.6 529.4,1128.2 530.4,1150.2 531.4,1122.3 532.4,1151.9 533.4,1111.6 534.4,1140.9 535.4,1109.5 536.4,1154.5 537.4,1098.8 538.4,1150.5 539.4,1108.9 540.4,1175.8 541.4,1105.8 542.4,1149.4 543.4,1102.6 544.4,1157.9 545.4,1108 546.4,1182.8 547.4,1100.9 548.4,1148.2 549.4,1102.8 550.4,1139.3 551.4,1096.4 552.4,1147.4 553.4,1085.9 554.4,1168.7 555.4,1108.9 556.4,1136.5 557.4,1118 558.4,1136.4 559.4,1111.8 560.4,1136.6 561.4,1116 562.4,1141.7 563.4,1114.9 564.4,1136.9 565.4,1114.6 566.4,1138.5 567.4,1116.8 568.4,1137 569.4,1109.8 570.4,1138.9 571.3,1115 572.3,1139.4 573.3,1114.9 574.3,1135.9 575.3,1113.8 576.3,1134 577.3,1111.2 578.3,1140.9 579.3,1106.7 580.3,1132.1 581.3,1111.2 582.3,1132.6 583.3,1111.4 584.3,1134 585.3,1106.2 586.3,1137.9 587.3,1104.7 588.3,1134.3 589.3,1100 590.3,1133.5 591.3,1101.9 592.3,1129 593.3,1102.5 594.3,1146.6 595.3,1102.2 596.3,1138 597.3,1102.2 598.3,1132.7 599.3,1096.1 600.3,1134.5 601.3,1105.1 602.3,1134.5 603.3,1101.7 604.3,1153.9 605.3,1107 606.3,1136.3 607.3,1104.6 608.3,1125.8 609.3,1101.4 610.3,1127.1 611.3,1106 612.3,1123.8 613.3,1102.9 614.3,1130.5 615.3,1102 616.3,1123 617.3,1099 618.3,1124.2 619.3,1091.2 620.3,1148.2 621.3,1064.4 622.3,1128.8 623.3,1090.4 624.3,1116 625.3,1077.6 626.3,1115.2 627.3,1086.8 628.3,1114.1 629.3,1083.4 630.3,1107.6 631.3,1086.4 632.3,1111 633.3,1085.2 634.3,1106 635.3,1082.7 636.3,1109.8 637.3,1074.9 638.3,1110.5 639.3,1069.8 640.3,1113.8 641.3,1077 642.3,1107.5 643.3,1078.3 644.3,1111.5 645.3,1050.6 646.3,1109.1 647.3,1070.4 648.3,1114.8 649.3,1075.4 650.3,1108.2 651.3,1075.9 652.3,1104 653.3,1078.4 654.3,1103.8 655.3,1071.7 656.3,1100.2 657.3,1063.6 658.3,1109.7 659.3,1068.2 660.3,1102.9 661.3,1071.9 662.3,1094.6 663.3,1068.4 664.3,1093.9 665.3,1070 666.3,1094.2 667.3,1063.9 668.3,1090.4 669.3,1064 670.3,1086.7 671.3,1060.9 672.3,1084.5 673.3,1059.6 674.3,1088.1 675.3,1059.8 676.3,1086.2 677.3,1061.9 678.3,1086 679.3,1064.1 680.3,1093.6 681.3,1061 682.3,1086.1 683.3,1055.9 684.3,1085.8 685.3,1061.3 686.3,1083.1 687.3,1057.9 688.3,1077.8 689.3,1060.7 690.3,1076.2 691.3,1054.3 692.3,1071.4 693.3,1056.5 694.3,1078.4 695.3,1054.3 696.3,1074.3 697.3,1057.2 698.3,1080.8 699.3,1047.5 700.3,1076.4 701.3,1053 702.3,1076.1 703.3,1051.8 704.2,1072.7 705.2,1050.2 706.2,1070.4 707.2,1050 708.2,1067.2 709.2,1050.3 710.2,1070 711.2,1049.4 712.2,1063.2 713.2,1045.5 714.2,1061.1 715.2,1039.7 716.2,1060.4 717.2,1040.3 718.2,1058.8 719.2,1040.8 720.2,1060.8 721.2,1038.9 722.2,1053.7 723.2,1037.8 724.2,1054.6 725.2,1035.5 726.2,1052 727.2,1030 728.2,1052.6 729.2,1026.7 730.2,1052 731.2,1033.1 732.2,1049.8 733.2,1033 734.2,1048.3 735.2,1031.8 736.2,1049.8 737.2,1032.8 738.2,1049 739.2,1031.4 740.2,1048 741.2,1034.6 742.2,1049.1 743.2,1031.4 744.2,1054.1 745.2,1029 746.2,1055 747.2,1032.6 748.2,1051.2 749.2,1027.4 750.2,1055.1 751.2,1026.6 752.2,1047 753.2,1019.8 754.2,1044.3 755.2,1015.7 756.2,1045.9 757.2,1020.4 758.2,1046.5 759.2,1021.9 760.2,1045.5 761.2,1022.1 762.2,1045.6 763.2,1018.9 764.2,1036.9 765.2,1012.1 766.2,1030.4 767.2,1012.4 768.2,1035.6 769.2,1008.7 770.2,1037.3 771.2,1004.2 772.2,1035.7 773.2,999.5 774.2,1038.6 775.2,1004.1 776.2,1044.3 777.2,1003.4 778.2,1041.8 779.2,1002.1 780.2,1045.5 781.2,1004.2 782.2,1041 783.2,998.8 784.2,1032.7 785.2,991.3 786.2,1040.8 787.2,991.6 788.2,1035.7 789.2,993.6 790.2,1035.3 791.2,992.9 792.2,1030.2 793.2,991.1 794.2,1033.1 795.2,995.5 796.2,1039.6 797.2,993.3 798.2,1041 799.2,981.9 800.2,1038.5 801.2,988.6 802.2,1041.2 803.2,980.1 804.2,1044.1 805.2,951.2 806.2,1032.6 807.2,986.5 808.2,1037.3 809.2,986.9 810.2,1039.2 811.2,983 812.2,1031.3 813.2,985.9 814.2,1034.2 815.2,978.4 816.2,1040.6 817.2,950.6 818.2,1036.8 819.2,975.3 820.2,1039.5 821.2,975.9 822.2,1034.7 823.2,973.7 824.2,1037.4 825.2,978.7 826.2,1037 827.2,986.2 828.2,1029.4 829.2,972.6 830.2,1030.5 831.2,979.6 832.2,1037.9 833.2,979.8 834.2,1041.5 835.2,966.2 836.2,1033.3 837.1,975 838.1,1037.5 839.1,970.7 840.1,1031.1 841.1,969.6 842.1,1031.6 843.1,971.7 844.1,1037 845.1,978.7 846.1,1033.7 847.1,970.8 848.1,1033.7 849.1,982.7 850.1,1047.9 851.1,977.1 852.1,1024.9 853.1,974.9 854.1,1027.8 855.1,984.6 856.1,1023.1 857.1,977.7 858.1,1024.8 859.1,983.7 860.1,1023.5 861.1,986 862.1,1029 863.1,982 864.1,1034.9 865.1,988.7 866.1,1029 867.1,981.1 868.1,1026.6 869.1,985.2 870.1,1030.3 871.1,988.9 872.1,1024 873.1,970.8 874.1,1044.3 875.1,985.2 876.1,1029.1 877.1,988.2 878.1,1028.5 879.1,990.7 880.1,1028.7 881.1,984.9 882.1,1029.2 883.1,982.1 884.1,1023.1 885.1,989.3 886.1,1022.3 887.1,985 888.1,1028.8 889.1,987.5 890.1,1027.2 891.1,982.3 892.1,1021.4 893.1,987 894.1,1022.3 895.1,982.9 896.1,1027 897.1,980.2 898.1,1025.5 899.1,984.4 900.1,1026.1 901.1,982.9 902.1,1022.1 903.1,984.7 904.1,1026.8 905.1,982.4 906.1,1021.5 907.1,989.7 908.1,1019.5 909.1,984.5 910.1,1026.8 911.1,987.6 912.1,1026.6 913.1,984.8 914.1,1025.7 915.1,982.8 916.1,1026.8 917.1,988.7 918.1,1022.6 919.1,986.8 920.1,1024.2 921.1,985.2 922.1,1024.5 923.1,988.7 924.1,1026.8 925.1,988.4 926.1,1019.3 927.1,983.3 928.1,1020.2 929.1,988.5 930.1,1029.2 931.1,985.2 932.1,1020.9 933.1,982.8 934.1,1024.7 935.1,987 936.1,1027.9 937.1,985.1 938.1,1028.4 939.1,989.3 940.1,1024.2 941.1,986.4 942.1,1020.8 943.1,985.2 944.1,1027.6 945.1,987.4 946.1,1021.1 947.1,992.1 948.1,1027.4 949.1,986.9 950.1,1027.8 951.1,988.8 952.1,1025.3 953.1,986.7 954.1,1028.4 955.1,989.4 956.1,1029.9 957.1,988.4 958.1,1028.2 959.1,986.5 960.1,1030.9 961.1,990.7 962.1,1038.1 963.1,945.5 964.1,1036.7 965.1,988.1 966.1,1026.5 967.1,990.2 968.1,1046.7 969.1,962 970,1025.8 971,992.4 972,1029.4 973,993.3 974,1032.6 975,988.5 976,1033.1 977,988.3 978,1033.7 979,987.9 980,1031.7 981,990.3 982,1028.9 983,991.8 984,1024.4 985,986.6 986,1019.7 987,988.1 988,1019.8 989,989.8 990,1013.9 991,989.6 992,1014.7 993,983.4 994,1016.5 995,985.5 996,1010.5 997,962.6 998,1014.6 999,982.2 1000,1012.7 1001,980.4 1002,1007.6 1003,982.4 1004,1009.5 1005,981.6 1006,1008.7 1007,979.1 1008,1009 1009,979.9 1010,1015 1011,976.4 1012,1010.8 1013,979.9 1014,1032.5 1015,979.8 1016,1013.9 1017,975.3 1018,1012.2 1019,982.5 1020,1015.8 1021,977.4 1022,1010.5 1023,977.4 1024,1011.7 1025,983.8 1026,1014.8 1027,983.5 1028,1012.6 1029,977.6 1030,1014.9 1031,985 1032,1010.6 1033,982.8 1034,1011 1035,978.8 1036,1010.5 1037,980.1 1038,1006.3 1039,979.2 1040,1006.4 1041,978.3 1042,1005.5 1043,983.6 1044,1007 1045,982 1046,1004.7 1047,977.4 1048,1004.5 1049,980.9 1050,1010 1051,977.5 1052,1005.1 1053,978 1054,1008 1055,978 1056,1003.4 1057,965.1 1058,1003.8 1059,980.2 1060,1008.9 1061,977.5 1062,1006.8 1063,981.1 1064,1012.1 1065,981.9 1066,1007.9 1067,977.4 1068,1013.9 1069,978.4 1070,1014.5 1071,983.4 1072,1012.1 1073,981.8 1074,1018.1 1075,976.9 1076,1018.2 1077,978.4 1078,1016.1 1079,974 1080,1016.6 1081,977.6 1082,1021.1 1083,975 1084,1017.9 1085,976.9 1086,1029.5 1087,980.1 1088,1012.5 1089,980.2 1090,1005 1091,975.9 1092,1010.1 1093,978.3 1094,1007 1095,973.7 1096,1011.2 1097,975.8 1098,1030.4 1099,955 1100,1017.4 1101,971.2 1101.9,1019.2 1102.9,972.8 1103.9,1018.7 1104.9,973.9 1105.9,1009.2 1106.9,965.1 1107.9,1016.5 1108.9,970.3 1109.9,1011.9 1110.9,975.6 1111.9,1013.1 1112.9,985.9 1113.9,1017.9 1114.9,978.2 1115.9,1020.4 1116.9,969.9 1117.9,1014.2 1118.9,941.1 1119.9,1022.8 1120.9,974.7 1121.9,1018.9 1122.9,968.4 1123.9,1006.2 1124.9,967.9 1125.9,1003.6 1126.9,968.5 1127.9,1013.7 1128.9,975.1 1129.9,1012.1 1130.9,970.7 1131.9,1017.3 1132.9,972.1 1133.9,1019.8 1134.9,962.8 1135.9,1015 1136.9,959.9 1137.9,1018.3 1138.9,962.6 1139.9,1037 1140.9,954.8 1141.9,1024.1 1142.9,962.3 1143.9,1017.3 1144.9,961.4 1145.9,1031.4 1146.9,953.2 1147.9,1005.4 1148.9,973.6 1149.9,996.6 1150.9,971.2 1151.9,1009.1 1152.9,965.8 1153.9,1010.4 1154.9,965.7 1155.9,1019.7 1156.9,953.4 1157.9,1022.5 1158.9,960.3 1159.9,1024.7 1160.9,962.8 1161.9,1025.3 1162.9,956.6 1163.9,1014.7 1164.9,969.7 1165.9,1012.7 1166.9,969.9 1167.9,1019.8 1168.9,964.9 1169.9,1013.7 1170.9,965.6 1171.9,1010.3 1172.9,968.7 1173.9,1015.8 1174.9,966.3 1175.9,1015.8 1176.9,966.5 1177.9,1028 1178.9,947.7 1179.9,1016 1180.9,964.3 1181.9,1009.7 1182.9,970.8 1183.9,1034.3 1184.9,942.1 1185.9,1007.4 1186.9,968.1 1187.9,1001.6 1188.9,970.3 1189.9,998.5 1190.9,971 1191.9,999.5 1192.9,973.5 1193.9,998.7 1194.9,972.1 1195.9,1000.2 1196.9,970.3 1197.9,995 1198.9,972.2 1199.9,995.1 1200.9,975.4 1201.9,997 1202.9,973.6 1203.9,996.8 1204.9,973.5 1205.9,996.4 1206.9,974.2 1207.9,994.9 1208.9,973.7 1209.9,998 1210.9,967.7 1211.9,993.5 1212.9,964.8 1213.9,993.9 1214.9,965.7 1215.9,997.6 1216.9,961.8 1217.9,991.2 1218.9,963.5 1219.9,990.6 1220.9,963.2 1221.9,1004.6 1222.9,961.3 1223.9,1005.6 1224.9,953.3 1225.9,1014.3 1226.9,966 1227.9,1010 1228.9,962.9 1229.9,1013.5 1230.9,969.3 1231.9,1012.8 1232.9,958.9 1233.9,1008.6 1234.8,959.2 1235.8,1006.5 1236.8,961.4 1237.8,1012.3 1238.8,958.7 1239.8,1012.2 1240.8,960.5 1241.8,1007 1242.8,967.2 1243.8,1006 1244.8,961.3 1245.8,1012.1 1246.8,957.1 1247.8,1002.5 1248.8,945.9 1249.8,1034.4 1250.8,961.6 1251.8,1011.4 1252.8,954.9 1253.8,1006.6 1254.8,953.6 1255.8,1010.8 1256.8,961.9 1257.8,1007.6 1258.8,963.6 1259.8,1007.2 1260.8,957.9 1261.8,1007.8 1262.8,966.7 1263.8,1007.3 1264.8,964.9 1265.8,1004.3 1266.8,956.2 1267.8,1011.9 1268.8,963.8 1269.8,1008.5 1270.8,966.1 1271.8,1046.5 1272.8,959.7 1273.8,1001.6 1274.8,969 1275.8,1001.2 1276.8,969.5 1277.8,996.4 1278.8,965.5 1279.8,1002.1 1280.8,967.6 1281.8,1004.2 1282.8,963.7 1283.8,998.2 1284.8,969.3 1285.8,999.8 1286.8,969.2 1287.8,999.9 1288.8,974.3 1289.8,999.4 1290.8,979.1 1291.8,997.1 1292.8,976.6 1293.8,1001 1294.8,979.8 1295.8,1003.7 1296.8,979.3 1297.8,1003.5 1298.8,977.8 1299.8,1004 1300.8,979.7 1301.8,998.5 1302.8,975 1303.8,1000.6 1304.8,974.8 1305.8,1014.1 1306.8,952.5 1307.8,1000.6 1308.8,978.3 1309.8,1002.5 1310.8,974.2 1311.8,998.3 1312.8,978 1313.8,1002.7 1314.8,980.4 1315.8,1001.8 1316.8,961.8 1317.8,1001.4 1318.8,977.8 1319.8,999.4 1320.8,978.7 1321.8,1001.6 1322.8,980.1 1323.8,1001.5 1324.8,978.9 1325.8,1000.2 1326.8,978.3 1327.8,999.9 1328.8,979.1 1329.8,1001.2 1330.8,979 1331.8,998.7 1332.8,979 1333.8,998.2 1334.8,979.7 1335.8,1001.6 1336.8,979 1337.8,998.2 1338.8,978.8 1339.8,999.3 1340.8,978.9 1341.8,1003.1 1342.8,978.4 1343.8,1001.2 1344.8,978.6 1345.8,1003.6 1346.8,983.5 1347.8,1003 1348.8,983.6 1349.8,1000.8 1350.8,982.4 1351.8,1004 1352.8,985.3 1353.8,1000.3 1354.8,984.5 1355.8,1003.1 1356.8,988.2 1357.8,1003.3 1358.8,985.3 1359.8,1001.5 1360.8,985.6 1361.8,1006.3 1362.8,986.2 1363.8,1012.2 1364.8,981.8 1365.8,1011.6 1366.8,981.8 1367.7,1017.5 1368.7,983.6 1369.7,1011.7 1370.7,982 1371.7,1013 1372.7,986.4 1373.7,1006.5 1374.7,981.9 1375.7,1013.9 1376.7,977.8 1377.7,1013.8 1378.7,978.5 1379.7,1020.8 1380.7,942.1 1381.7,1063.3 1382.7,970.1 1383.7,1028.6 1384.7,970.4 1385.7,1026.8 1386.7,970.7 1387.7,1040.1 1388.7,923.9 1389.7,1040.9 1390.7,975.5 1391.7,1038.1 1392.7,960.8 1393.7,1056.1 1394.7,940 1395.7,1028.9 1396.7,966.5 1397.7,1026.2 1398.7,972.6 1399.7,1018.6 1400.7,979.5 1401.7,1034.7 1402.7,972.3 1403.7,1037.7 1404.7,974.7 1405.7,1041.5 1406.7,982.8 1407.7,1028.9 1408.7,969.8 1409.7,1038.5 1410.7,959.1 1411.7,1027 1412.7,968.8 1413.7,1097.4 1414.7,912.7 1415.7,1034.4 1416.7,970.5 1417.7,1027 1418.7,979.9 1419.7,1023.2 1420.7,982 1421.7,1031.4 1422.7,973.2 1423.7,1022.8 1424.7,979.5 1425.7,1024.3 1426.7,975.6 1427.7,1026.3 1428.7,974.8 1429.7,1021.3 1430.7,980.4 1431.7,1027.7 1432.7,977.1 1433.7,1026.7 1434.7,973 1435.7,1030.4 1436.7,978.6 1437.7,1055.9 1438.7,953.9 1439.7,1032.1 1440.7,975 1441.7,1027.9 1442.7,977.1 1443.7,1027.9 1444.7,975.3 1445.7,1031 1446.7,981.5 1447.7,1026.4 1448.7,976.3 1449.7,1030.7 1450.7,983.2 1451.7,1029.9 1452.7,975.7 1453.7,1022.2 1454.7,977.9 1455.7,1029.1 1456.7,982.1 1457.7,1039.7 1458.7,977 1459.7,1021.8 1460.7,980 1461.7,1024.6 1462.7,990 1463.7,1022.6 1464.7,990.2 1465.7,1017.6 1466.7,994.4 1467.7,1020.1 1468.7,991.5 1469.7,1026.4 1470.7,988.2 1471.7,1026 1472.7,983.6 1473.7,1024.8 1474.7,981.4 1475.7,1022.9 1476.7,974.3 1477.7,1024.8 1478.7,974.9 1479.7,1016.8 1480.7,974.3 1481.7,1026.8 1482.7,979.3 1483.7,1067.8 1484.7,941.6 1485.7,1025.9 1486.7,975.9 1487.7,1027.7 1488.7,973.6 1489.7,1031.4 1490.7,965.7 1491.7,1027.8 1492.7,966.2 1493.7,1018.4 1494.7,973.2 1495.7,1015.4 1496.7,969.5 1497.7,1020.3 1498.7,974 1499.7,1021.7 1500.6,978.7 1501.6,1023.5 1502.6,981.1 1503.6,1024.1 1504.6,986.5 1505.6,1025.7 1506.6,979.8 1507.6,1024.1 1508.6,981.6 1509.6,1025.8 1510.6,972.9 1511.6,1044.5 1512.6,980.8 1513.6,1019.2 1514.6,978.4 1515.6,1020.4 1516.6,986.1 1517.6,1025.3 1518.6,983.2 1519.6,1019.8 1520.6,981.6 1521.6,1026.5 1522.6,979.1 1523.6,1022.5 1524.6,982.8 1525.6,1018 1526.6,982.6 1527.6,1025 1528.6,981.1 1529.6,1024.4 1530.6,984.5 1531.6,1018.8 1532.6,980.3 1533.6,1020.9 1534.6,982.3 1535.6,1025 1536.6,980.6 1537.6,1021.5 1538.6,987.9 1539.6,1025.7 1540.6,980.3 1541.6,1024.2 1542.6,974.7 1543.6,1032.8 1544.6,974.9 1545.6,1050.4 1546.6,961.9 1547.6,1030.9 1548.6,960.4 1549.6,1039.6 1550.6,968.7 1551.6,1026.7 1552.6,974 1553.6,1037.8 1554.6,962.8 1555.6,1030.2 1556.6,928.1 1557.6,1047.3 1558.6,975 1559.6,1039.2 1560.6,974 1561.6,1058.4 1562.6,925.1 1563.6,1039.3 1564.6,967.9 1565.6,1036.9 1566.6,979.5 1567.6,1027.2 1568.6,974.2 1569.6,1030.3 1570.6,977.9 1571.6,1033.4 1572.6,978.9 1573.6,1025.9 1574.6,974.7 1575.6,1028.7 1576.6,984 1577.6,1031.9 1578.6,952.2 1579.6,1043.2 1580.6,977.4 1581.6,1028.8 1582.6,977.1 1583.6,1027.5 1584.6,978.2 1585.6,1030 1586.6,980.2 1587.6,1024 1588.6,977.4 1589.6,1029.9 1590.6,979.5 1591.6,1030.6 1592.6,979.5 1593.6,1044.1 1594.6,982.7 1595.6,1025 1596.6,980.3 1597.6,1028.8 1598.6,978.5 1599.6,1027.2 1600.6,985.2 1601.6,1029.3 1602.6,980.9 1603.6,1024.8 1604.6,979.8 1605.6,1020 1606.6,979.6 1607.6,1021.4 1608.6,985.3 1609.6,1015.6 1610.6,983.5 1611.6,1020.3 1612.6,983.9 1613.6,1018.2 1614.6,982.4 1615.6,1019.1 1616.6,982.5 1617.6,1021.1 1618.6,985.2 1619.6,1017.5 1620.6,980.2 1621.6,1024.2 1622.6,984.5 1623.6,1016.7 1624.6,984.8 1625.6,1025 1626.6,979.7 1627.6,1027.6 1628.6,980.9 1629.6,1022.6 1630.6,977.5 1631.6,1028.2 1632.6,986.4 1633.5,1027.1 1634.5,980.1 1635.5,1026.4 1636.5,975.2 1637.5,1028.2 1638.5,973.2 1639.5,1024 1640.5,972.6 1641.5,1030.9 1642.5,954 1643.5,1027.5 1644.5,970.7 1645.5,1018.9 1646.5,976.5 1647.5,1028.5 1648.5,971.8 1649.5,1035.8 1650.5,953.9 1651.5,1021 1652.5,979 1653.5,1021.9 1654.5,971.7 1655.5,1019.1 1656.5,972.5 1657.5,1014.2 1658.5,974.2 1659.5,1007.4 1660.5,972 1661.5,1013.4 1662.5,972.6 1663.5,1016.8 1664.5,975 1665.5,1015.7 1666.5,967.8 1667.5,1023.2 1668.5,951.8 1669.5,1015.7 1670.5,970.9 1671.5,1009.7 1672.5,973.5 1673.5,1008 1674.5,974.6 1675.5,1011 1676.5,975.5 1677.5,1015.3 1678.5,967 1679.5,1031.6 1680.5,965.2 1681.5,1009.7 1682.5,966.2 1683.5,1017.7 1684.5,970.7 1685.5,1012.1 1686.5,942.7 1687.5,1025.5 1688.5,966.1 1689.5,1009.6 1690.5,960.9 1691.5,1006.5 1692.5,970.1 1693.5,1011.9 1694.5,962.5 1695.5,1015.6 1696.5,947.7 1697.5,1007.4 1698.5,971 1699.5,1003.7" stroke="#00ff00"/>
<path d="M371.5,954.1 372.5,977.8 373.5,953.3 374.5,974 375.5,946.7 376.5,980.1 377.5,951.7 378.5,975.5 379.5,944.8 380.5,974.2 381.5,947.8 382.5,973.8 383.5,947.8 384.5,975.9 385.5,946.3 386.5,977.3 387.5,943.3 388.5,984.1 389.5,940.7 390.5,1026.6 391.5,912.2 392.5,977.3 393.5,949.1 394.5,978.3 395.5,954.9 396.5,983.2 397.5,951 398.5,985 399.5,941.3 400.5,980.5 401.5,947.5 402.5,985.7 403.5,949.6 404.5,975.9 405.5,945 406.5,976 407.5,948.4 408.5,974.6 409.5,945.9 410.5,975.9 411.5,940.9 412.5,982.2 413.5,948.9 414.5,982.9 415.5,948 416.5,1017.4 417.5,904.8 418.5,988.2 419.5,940.9 420.5,984.2 421.5,950.3 422.5,982.1 423.5,915.9 424.5,1019.2 425.5,954.1 426.5,980 427.5,953.9 428.5,982.2 429.5,954.7 430.5,983.5 431.5,956.8 432.5,989.4 433.5,951.3 434.5,980.7 435.5,957.5 436.5,981.3 437.5,957.6 438.4,980.3 439.4,953.3 440.4,980.8 441.4,949.3 442.4,981.2 443.4,952.1 444.4,983.4 445.4,956.5 446.4,988.9 447.4,953.7 448.4,986.4 449.4,958.8 450.4,982.9 451.4,962.1 452.4,986.9 453.4,956.8 454.4,980.8 455.4,946.9 456.4,988.6 457.4,955.6 458.4,981.5 459.4,958.8 460.4,980.8 461.4,963 462.4,984.3 463.4,954.1 464.4,982.8 465.4,958.6 466.4,984.3 467.4,958.5 468.4,982 469.4,956.5 470.4,980.2 471.4,947.5 472.4,990.9 473.4,952.8 474.4,983.1 475.4,947.6 476.4,981.6 477.4,954 478.4,983.8 479.4,957.2 480.4,986.4 481.4,956.8 482.4,999 483.4,954.2 484.4,994.8 485.4,962.8 486.4,991.4 487.4,954.7 488.4,984.7 489.4,935.4 490.4,993.5 491.4,959.9 492.4,988.2 493.4,954.6 494.4,987.4 495.4,949 496.4,984.8 497.4,956.6 498.4,985.4 499.4,930.8 500.4,1007.2 501.4,949.9 502.4,992.4 503.4,955.3 504.4,981 505.4,947.4 506.4,983.6 507.4,951.6 508.4,985.9 509.4,955.2 510.4,990.5 511.4,919.4 512.4,994.7 513.4,944.4 514.4,986.9 515.4,952.4 516.4,986.8 517.4,957.5 518.4,985.8 519.4,957.8 520.4,1012.1 521.4,960.2 522.4,993.3 523.4,956.9 524.4,994.8 525.4,959.1 526.4,997.5 527.4,956.7 528.4,993.9 529.4,965.9 530.4,988.4 531.4,960.8 532.4,990.8 533.4,950.9 534.4,980.6 535.4,949.6 536.4,994.9 537.4,939.6 538.4,991.7 539.4,950.5 540.4,1017.8 541.4,948.2 542.4,992.1 543.4,945.7 544.4,1001 545.4,951.1 546.4,1025.9 547.4,943.9 548.4,991.3 549.4,945.8 550.4,982.3 551.4,939.4 552.4,990.4 553.4,928.8 554.4,1011.7 555.4,951.8 556.4,979.4 557.4,960.9 558.4,979.3 559.4,954.6 560.4,979.5 561.4,958.9 562.4,984.5 563.4,957.7 564.4,979.7 565.4,957.3 566.4,981.2 567.4,959.9 568.4,980.2 569.4,953.3 570.4,982.6 571.3,958.9 572.3,983.6 573.3,959.3 574.3,980.6 575.3,958.7 576.3,979.2 577.3,956.6 578.3,986.6 579.3,952.6 580.3,978.2 581.3,957.6 582.3,979.2 583.3,958.2 584.3,981 585.3,953.5 586.3,985.4 587.3,952.5 588.3,982.3 589.3,948.3 590.3,982.3 591.3,951.1 592.3,978.6 593.3,952.5 594.3,997.1 595.3,953.1 596.3,989.4 597.3,953.9 598.3,984.9 599.3,948.8 600.3,987.6 601.3,958.6 602.3,988.5 603.3,956.1 604.3,1008.7 605.3,962.2 606.3,991.9 607.3,960.7 608.3,982.3 609.3,958.4 610.3,984.5 611.3,963.8 612.3,982.2 613.3,962.2 614.3,990.6 615.3,963 616.3,984.9 617.3,961.8 618.3,987.9 619.3,955.8 620.3,1013.7 621.3,930.7 622.3,996 623.3,958.5 624.3,985 625.3,947.4 626.3,985.9 627.3,958.4 628.3,986.7 629.3,956.8 630.3,981.9 631.3,961.6 632.3,987.1 633.3,962.2 634.3,983.8 635.3,961.3 636.3,989.1 637.3,954.8 638.3,990.9 639.3,950.8 640.3,995.4 641.3,959.2 642.3,990.2 643.3,961.6 644.3,995.5 645.3,935.1 646.3,994.2 647.3,956.1 648.3,1001 649.3,962.2 650.3,995.6 651.3,963.9 652.3,992.6 653.3,967.5 654.3,993.5 655.3,962 656.3,991.1 657.3,955.1 658.3,1001.7 659.3,960.8 660.3,996.1 661.3,965.7 662.3,989 663.3,963.3 664.3,989.5 665.3,966.1 666.3,990.9 667.3,961.1 668.3,988.2 669.3,962.4 670.3,985.7 671.3,960.5 672.3,984.7 673.3,960.3 674.3,989.4 675.3,961.7 676.3,988.7 677.3,965 678.3,989.7 679.3,968.3 680.3,998.4 681.3,966.4 682.3,991.9 683.3,962 684.3,992.4 685.3,968.2 686.3,990.4 687.3,965.6 688.3,985.9 689.3,969.2 690.3,985.1 691.3,963.5 692.3,981 693.3,966.6 694.3,988.9 695.3,965.1 696.3,985.6 697.3,968.9 698.3,992.8 699.3,960 700.3,989.2 701.3,966.2 702.3,989.7 703.3,965.8 704.2,987.3 705.2,965.5 706.2,986.5 707.2,966.8 708.2,984.8 709.2,968.6 710.2,989.1 711.2,969.2 712.2,983.7 713.2,966.8 714.2,983.1 715.2,962.4 716.2,983.9 717.2,964.6 718.2,983.8 719.2,966.6 720.2,987.4 721.2,966.3 722.2,981.8 723.2,966.8 724.2,984.3 725.2,965.9 726.2,983.3 727.2,961.8 728.2,984.7 729.2,959.1 730.2,984.7 731.2,966.1 732.2,983.1 733.2,966.7 734.2,982.2 735.2,966 736.2,984.4 737.2,967.7 738.2,984.2 739.2,966.9 740.2,983.9 741.2,970.8 742.2,985.6 743.2,968.2 744.2,991.2 745.2,966.4 746.2,992.7 747.2,970.6 748.2,989.6 749.2,966.1 750.2,994.1 751.2,965.9 752.2,986.6 753.2,959.7 754.2,984.5 755.2,956.3 756.2,986.7 757.2,961.6 758.2,988 759.2,963.7 760.2,987.6 761.2,964.5 762.2,988.3 763.2,962 764.2,980.2 765.2,955.7 766.2,974.4 767.2,956.6 768.2,980.2 769.2,953.6 770.2,982.6 771.2,949.8 772.2,981.6 773.2,945.8 774.2,985.5 775.2,951.4 776.2,992.1 777.2,951.7 778.2,990.6 779.2,951.3 780.2,995.2 781.2,954.5 782.2,991.7 783.2,950 784.2,984.4 785.2,943.4 786.2,993.4 787.2,944.8 788.2,989.3 789.2,947.6 790.2,989.9 791.2,948 792.2,985.7 793.2,947.1 794.2,989.6 795.2,952.5 796.2,997.1 797.2,951.3 798.2,999.4 799.2,940.8 800.2,997.8 801.2,948.5 802.2,1001.4 803.2,940.4 804.2,1004.6 805.2,911.8 806.2,993.3 807.2,947.4 808.2,998.3 809.2,948 810.2,1000.4 811.2,944.4 812.2,992.8 813.2,947.5 814.2,995.9 815.2,940.2 816.2,1002.6 817.2,912.7 818.2,999.1 819.2,937.6 820.2,1002 821.2,938.5 822.2,997.4 823.2,936.6 824.2,1000.4 825.2,941.8 826.2,1000.3 827.2,949.6 828.2,992.9 829.2,936.2 830.2,994.2 831.2,943.5 832.2,1001.9 833.2,943.9 834.2,1005.7 835.2,930.6 836.2,997.8 837.1,939.6 838.1,1002.3 839.1,935.6 840.1,996.1 841.1,934.8 842.1,996.9 843.1,937.1 844.1,1002.5 845.1,944.3 846.1,999.4 847.1,936.7 848.1,999.7 849.1,948.9 850.1,1014.2 851.1,943.5 852.1,991.4 853.1,941.6 854.1,994.5 855.1,951.5 856.1,990.1 857.1,944.8 858.1,992 859.1,951 860.1,990.8 861.1,953.3 862.1,996.4 863.1,949.4 864.1,1002.4 865.1,956.3 866.1,996.6 867.1,948.7 868.1,994.3 869.1,952.9 870.1,998 871.1,956.7 872.1,991.9 873.1,938.7 874.1,1012.3 875.1,953.2 876.1,997.1 877.1,956.3 878.1,996.7 879.1,958.9 880.1,996.9 881.1,953.2 882.1,997.6 883.1,950.5 884.1,991.6 885.1,957.8 886.1,990.8 887.1,953.6 888.1,997.4 889.1,956.1 890.1,996 891.1,951 892.1,990.3 893.1,955.9 894.1,991.2 895.1,951.9 896.1,996.1 897.1,949.5 898.1,994.9 899.1,954 900.1,995.9 901.1,952.8 902.1,992.1 903.1,954.9 904.1,997.2 905.1,952.9 906.1,992.2 907.1,960.6 908.1,990.5 909.1,955.7 910.1,998.1 911.1,959 912.1,998.2 913.1,956.6 914.1,997.6 915.1,954.9 916.1,999 917.1,961.1 918.1,995.1 919.1,959.5 920.1,997 921.1,958.2 922.1,997.6 923.1,962 924.1,1000.3 925.1,962 926.1,993 927.1,957.2 928.1,994.2 929.1,962.7 930.1,1003.5 931.1,959.5 932.1,995.2 933.1,957.2 934.1,999.1 935.1,961.4 936.1,1002.4 937.1,959.6 938.1,1003 939.1,963.9 940.1,998.8 941.1,961.1 942.1,995.5 943.1,960 944.1,1002.4 945.1,962.2 946.1,996 947.1,967 948.1,1002.4 949.1,961.9 950.1,1002.8 951.1,963.9 952.1,1000.4 953.1,961.9 954.1,1003.6 955.1,964.7 956.1,1005.2 957.1,963.7 958.1,1003.5 959.1,961.9 960.1,1006.3 961.1,966.2 962.1,1013.7 963.1,921 964.1,1012.2 965.1,963.7 966.1,1002.1 967.1,965.9 968.1,1022.5 969.1,937.7 970,1001.7 971,968.3 972,1005.3 973,969.2 974,1008.6 975,964.5 976,1009.2 977,964.4 978,1009.8 979,964.1 980,1008 981,966.5 982,1005.2 983,968.2 984,1000.8 985,963 986,996.1 987,964.6 988,996.3 989,966.4 990,990.5 991,966.3 992,991.5 993,960.2 994,993.3 995,962.4 996,987.5 997,939.6 998,991.6 999,959.4 1000,989.9 1001,957.6 1002,984.9 1003,959.7 1004,987 1005,959.1 1006,986.2 1007,956.6 1008,986.7 1009,957.5 1010,992.7 1011,954.2 1012,988.7 1013,957.8 1014,1010.4 1015,957.8 1016,992 1017,953.4 1018,990.4 1019,960.7 1020,994 1021,955.7 1022,988.8 1023,955.6 1024,990 1025,962.1 1026,993.1 1027,961.7 1028,990.8 1029,955.9 1030,993.1 1031,963.3 1032,988.8 1033,961 1034,989.3 1035,957 1036,988.7 1037,958.3 1038,984.5 1039,957.4 1040,984.7 1041,956.5 1042,983.8 1043,961.8 1044,985.2 1045,960.2 1046,983 1047,955.6 1048,982.7 1049,959.1 1050,988.2 1051,955.7 1052,983.4 1053,956.2 1054,986.2 1055,956.2 1056,981.6 1057,943.3 1058,982 1059,958.4 1060,987.1 1061,955.7 1062,985 1063,959.3 1064,990.3 1065,960.1 1066,986.1 1067,955.6 1068,992.1 1069,956.6 1070,992.7 1071,961.5 1072,990.2 1073,960 1074,996.2 1075,955.1 1076,996.4 1077,956.5 1078,994.3 1079,952.1 1080,994.8 1081,955.7 1082,999.3 1083,953.2 1084,996 1085,955 1086,1007.6 1087,958.2 1088,990.6 1089,958.4 1090,983.2 1091,954.1 1092,988.2 1093,956.4 1094,985.1 1095,951.8 1096,989.3 1097,953.9 1098,1008.5 1099,933.1 1100,995.5 1101,949.4 1101.9,997.3 1102.9,950.9 1103.9,996.8 1104.9,952 1105.9,987.3 1106.9,943.2 1107.9,994.6 1108.9,948.4 1109.9,990 1110.9,953.7 1111.9,991.2 1112.9,964 1113.9,996 1114.9,956.2 1115.9,998.5 1116.9,947.9 1117.9,992.3 1118.9,919.2 1119.9,1000.9 1120.9,952.8 1121.9,996.9 1122.9,946.5 1123.9,984.3 1124.9,945.9 1125.9,981.7 1126.9,946.5 1127.9,991.8 1128.9,953.1 1129.9,990.1 1130.9,948.8 1131.9,995.4 1132.9,950.2 1133.9,997.9 1134.9,940.9 1135.9,993 1136.9,938 1137.9,996.4 1138.9,940.7 1139.9,1015 1140.9,932.9 1141.9,1002.1 1142.9,940.4 1143.9,995.3 1144.9,939.4 1145.9,1009.5 1146.9,931.2 1147.9,983.4 1148.9,951.6 1149.9,974.6 1150.9,949.2 1151.9,987.2 1152.9,943.8 1153.9,988.4 1154.9,943.7 1155.9,997.7 1156.9,931.4 1157.9,1000.5 1158.9,938.3 1159.9,1002.7 1160.9,940.8 1161.9,1003.3 1162.9,934.6 1163.9,992.7 1164.9,947.6 1165.9,990.7 1166.9,947.9 1167.9,997.8 1168.9,942.9 1169.9,991.6 1170.9,943.5 1171.9,988.3 1172.9,946.7 1173.9,993.8 1174.9,944.3 1175.9,993.8 1176.9,944.5 1177.9,1006 1178.9,925.6 1179.9,993.9 1180.9,942.2 1181.9,987.7 1182.9,948.8 1183.9,1012.2 1184.9,920.1 1185.9,985.3 1186.9,946 1187.9,979.5 1188.9,948.2 1189.9,976.5 1190.9,948.9 1191.9,977.4 1192.9,951.4 1193.9,976.7 1194.9,950 1195.9,978.1 1196.9,948.2 1197.9,972.9 1198.9,950.1 1199.9,973 1200.9,953.3 1201.9,974.9 1202.9,951.6 1203.9,974.7 1204.9,951.4 1205.9,974.3 1206.9,952.1 1207.9,972.8 1208.9,951.6 1209.9,975.9 1210.9,945.6 1211.9,971.4 1212.9,942.7 1213.9,971.8 1214.9,943.6 1215.9,975.4 1216.9,939.6 1217.9,969.1 1218.9,941.4 1219.9,968.5 1220.9,941.1 1221.9,982.5 1222.9,939.1 1223.9,983.5 1224.9,931.2 1225.9,992.2 1226.9,943.9 1227.9,987.9 1228.9,940.8 1229.9,991.3 1230.9,947.2 1231.9,990.7 1232.9,936.7 1233.9,986.5 1234.8,937.1 1235.8,984.4 1236.8,939.3 1237.8,990.2 1238.8,936.5 1239.8,990 1240.8,938.4 1241.8,984.8 1242.8,945 1243.8,983.8 1244.8,939.1 1245.8,989.9 1246.8,934.9 1247.8,980.3 1248.8,923.8 1249.8,1012.2 1250.8,939.5 1251.8,989.3 1252.8,932.8 1253.8,984.4 1254.8,931.4 1255.8,988.6 1256.8,939.7 1257.8,985.4 1258.8,941.4 1259.8,985 1260.8,935.7 1261.8,985.6 1262.8,944.5 1263.8,985.1 1264.8,942.7 1265.8,982.1 1266.8,934 1267.8,989.7 1268.8,941.6 1269.8,986.3 1270.8,943.9 1271.8,1024.3 1272.8,937.5 1273.8,979.4 1274.8,946.8 1275.8,979 1276.8,947.3 1277.8,974.2 1278.8,943.3 1279.8,979.8 1280.8,945.4 1281.8,982 1282.8,941.5 1283.8,976 1284.8,947.1 1285.8,977.6 1286.8,947 1287.8,977.6 1288.8,952.1 1289.8,977.2 1290.8,956.9 1291.8,974.9 1292.8,954.4 1293.8,978.8 1294.8,957.6 1295.8,981.4 1296.8,957 1297.8,981.3 1298.8,955.6 1299.8,981.8 1300.8,957.4 1301.8,976.2 1302.8,952.7 1303.8,978.4 1304.8,952.5 1305.8,991.8 1306.8,930.3 1307.8,978.3 1308.8,956 1309.8,980.2 1310.8,951.9 1311.8,976 1312.8,955.7 1313.8,980.4 1314.8,958.1 1315.8,979.5 1316.8,939.5 1317.8,979.1 1318.8,955.5 1319.8,977.1 1320.8,956.4 1321.8,979.3 1322.8,957.8 1323.8,979.2 1324.8,956.6 1325.8,977.9 1326.8,956 1327.8,977.5 1328.8,956.8 1329.8,978.8 1330.8,956.7 1331.8,976.4 1332.8,956.7 1333.8,975.9 1334.8,957.4 1335.8,979.3 1336.8,956.7 1337.8,976 1338.8,956.5 1339.8,977.1 1340.8,956.7 1341.8,980.8 1342.8,956.1 1343.8,979 1344.8,956.4 1345.8,981.3 1346.8,961.2 1347.8,980.7 1348.8,961.3 1349.8,978.6 1350.8,960.2 1351.8,981.8 1352.8,963.1 1353.8,978.1 1354.8,962.3 1355.8,980.9 1356.8,966 1357.8,981.1 1358.8,963.1 1359.8,979.4 1360.8,963.5 1361.8,984.1 1362.8,964 1363.8,990 1364.8,959.6 1365.8,989.5 1366.8,959.7 1367.7,995.3 1368.7,961.5 1369.7,989.6 1370.7,959.9 1371.7,990.9 1372.7,964.3 1373.7,984.4 1374.7,959.8 1375.7,991.8 1376.7,955.7 1377.7,991.7 1378.7,956.4 1379.7,998.7 1380.7,920 1381.7,1041.2 1382.7,948 1383.7,1006.5 1384.7,948.3 1385.7,1004.8 1386.7,948.6 1387.7,1018.1 1388.7,901.8 1389.7,1018.8 1390.7,953.5 1391.7,1016.1 1392.7,938.7 1393.7,1034.1 1394.7,918 1395.7,1006.9 1396.7,944.5 1397.7,1004.2 1398.7,950.6 1399.7,996.6 1400.7,957.5 1401.7,1012.7 1402.7,950.3 1403.7,1015.7 1404.7,952.7 1405.7,1019.5 1406.7,960.8 1407.7,1007 1408.7,947.9 1409.7,1016.6 1410.7,937.2 1411.7,1005 1412.7,946.9 1413.7,1075.5 1414.7,890.7 1415.7,1012.5 1416.7,948.6 1417.7,1005.1 1418.7,958 1419.7,1001.3 1420.7,960.1 1421.7,1009.5 1422.7,951.3 1423.7,1001 1424.7,957.6 1425.7,1002.5 1426.7,953.7 1427.7,1004.5 1428.7,953 1429.7,999.4 1430.7,958.5 1431.7,1005.8 1432.7,955.2 1433.7,1004.8 1434.7,951.2 1435.7,1008.6 1436.7,956.8 1437.7,1034.1 1438.7,932.1 1439.7,1010.3 1440.7,953.2 1441.7,1006.1 1442.7,955.3 1443.7,1006.1 1444.7,953.5 1445.7,1009.3 1446.7,959.7 1447.7,1004.7 1448.7,954.5 1449.7,1009 1450.7,961.4 1451.7,1008.2 1452.7,953.9 1453.7,1000.4 1454.7,956.2 1455.7,1007.4 1456.7,960.3 1457.7,1018 1458.7,955.3 1459.7,1000.1 1460.7,958.3 1461.7,1002.9 1462.7,968.3 1463.7,1000.9 1464.7,968.5 1465.7,996 1466.7,972.8 1467.7,998.4 1468.7,969.8 1469.7,1004.7 1470.7,966.5 1471.7,1004.4 1472.7,961.9 1473.7,1003.1 1474.7,959.7 1475.7,1001.3 1476.7,952.7 1477.7,1003.2 1478.7,953.3 1479.7,995.2 1480.7,952.7 1481.7,1005.2 1482.7,957.7 1483.7,1046.2 1484.7,920 1485.7,1004.3 1486.7,954.3 1487.7,1006.1 1488.7,952 1489.7,1009.8 1490.7,944.2 1491.7,1006.2 1492.7,944.6 1493.7,996.8 1494.7,951.6 1495.7,993.9 1496.7,947.9 1497.7,998.8 1498.7,952.5 1499.7,1000.1 1500.6,957.1 1501.6,1002 1502.6,959.6 1503.6,1002.6 1504.6,965 1505.6,1004.2 1506.6,958.3 1507.6,1002.6 1508.6,960.1 1509.6,1004.3 1510.6,951.4 1511.6,1023 1512.6,959.3 1513.6,997.7 1514.6,957 1515.6,998.9 1516.6,964.7 1517.6,1003.8 1518.6,961.7 1519.6,998.4 1520.6,960.1 1521.6,1005 1522.6,957.6 1523.6,1001.1 1524.6,961.4 1525.6,996.6 1526.6,961.2 1527.6,1003.6 1528.6,959.6 1529.6,1003 1530.6,963.1 1531.6,997.4 1532.6,958.9 1533.6,999.5 1534.6,960.9 1535.6,1003.6 1536.6,959.2 1537.6,1000.1 1538.6,966.6 1539.6,1004.3 1540.6,959 1541.6,1002.9 1542.6,953.4 1543.6,1011.4 1544.6,953.6 1545.6,1029.1 1546.6,940.6 1547.6,1009.6 1548.6,939.1 1549.6,1018.3 1550.6,947.4 1551.6,1005.4 1552.6,952.7 1553.6,1016.6 1554.6,941.5 1555.6,1008.9 1556.6,906.9 1557.6,1026 1558.6,953.8 1559.6,1017.9 1560.6,952.7 1561.6,1037.1 1562.6,903.8 1563.6,1018 1564.6,946.7 1565.6,1015.7 1566.6,958.3 1567.6,1005.9 1568.6,953 1569.6,1009.1 1570.6,956.6 1571.6,1012.2 1572.6,957.7 1573.6,1004.7 1574.6,953.5 1575.6,1007.5 1576.6,962.8 1577.6,1010.7 1578.6,931.1 1579.6,1022 1580.6,956.2 1581.6,1007.7 1582.6,955.9 1583.6,1006.4 1584.6,957 1585.6,1008.8 1586.6,959.1 1587.6,1002.8 1588.6,956.3 1589.6,1008.7 1590.6,958.3 1591.6,1009.5 1592.6,958.4 1593.6,1023 1594.6,961.6 1595.6,1003.9 1596.6,959.2 1597.6,1007.7 1598.6,957.4 1599.6,1006.1 1600.6,964.2 1601.6,1008.3 1602.6,959.8 1603.6,1003.7 1604.6,958.8 1605.6,999 1606.6,958.5 1607.6,1000.4 1608.6,964.2 1609.6,994.5 1610.6,962.5 1611.6,999.3 1612.6,962.9 1613.6,997.2 1614.6,961.4 1615.6,998.1 1616.6,961.5 1617.6,1000.1 1618.6,964.2 1619.6,996.5 1620.6,959.2 1621.6,1003.2 1622.6,963.6 1623.6,995.7 1624.6,963.8 1625.6,1004 1626.6,958.7 1627.6,1006.7 1628.6,959.9 1629.6,1001.7 1630.6,956.6 1631.6,1007.2 1632.6,965.5 1633.5,1006.2 1634.5,959.2 1635.5,1005.5 1636.5,954.3 1637.5,1007.3 1638.5,952.3 1639.5,1003.1 1640.5,951.7 1641.5,1010 1642.5,933.1 1643.5,1006.6 1644.5,949.8 1645.5,998.1 1646.5,955.6 1647.5,1007.7 1648.5,950.9 1649.5,1014.9 1650.5,933.1 1651.5,1000.1 1652.5,958.1 1653.5,1001.1 1654.5,950.9 1655.5,998.2 1656.5,951.7 1657.5,993.4 1658.5,953.4 1659.5,986.5 1660.5,951.2 1661.5,992.6 1662.5,951.8 1663.5,996 1664.5,954.3 1665.5,994.9 1666.5,947 1667.5,1002.4 1668.5,931.1 1669.5,994.9 1670.5,950.2 1671.5,989 1672.5,952.8 1673.5,987.2 1674.5,953.9 1675.5,990.2 1676.5,954.7 1677.5,994.6 1678.5,946.2 1679.5,1010.9 1680.5,944.5 1681.5,989 1682.5,945.5 1683.5,997 1684.5,950 1685.5,991.4 1686.5,922 1687.5,1004.8 1688.5,945.5 1689.5,988.9 1690.5,940.3 1691.5,985.8 1692.5,949.4 1693.5,991.3 1694.5,941.9 1695.5,995 1696.5,927 1697.5,986.8 1698.5,950.4 1699.5,983.1" stroke="#0000ff"/>
<path d="M371.5,932.6 372.5,956.3 373.5,931.8 374.5,952.5 375.5,925.2 376.5,958.6 377.5,930.2 378.5,954 379.5,923.3 380.5,952.7 381.5,926.3 382.5,952.3 383.5,926.3 384.5,954.4 385.5,924.8 386.5,955.8 387.5,921.8 388.5,962.5 389.5,919.2 390.5,1005.1 391.5,890.7 392.5,955.8 393.5,927.6 394.5,956.8 395.5,933.4 396.5,961.7 397.5,929.5 398.5,963.5 399.5,919.7 400.5,959 401.5,926 402.5,964.2 403.5,928.1 404.5,954.4 405.5,923.5 406.5,954.5 407.5,926.9 408.5,953.1 409.5,924.4 410.5,954.4 411.5,919.4 412.5,960.6 413.5,927.3 414.5,961.4 415.5,926.5 416.5,995.9 417.5,883.3 418.5,966.7 419.5,919.4 420.5,962.7 421.5,928.8 422.5,960.5 423.5,894.4 424.5,997.7 425.5,932.6 426.5,958.5 427.5,932.3 428.5,960.7 429.5,933.2 430.5,962 431.5,935.3 432.5,967.9 433.5,929.8 434.5,959.2 435.5,936 436.5,959.7 437.5,936.1 438.4,958.8 439.4,931.8 440.4,959.3 441.4,927.8 442.4,959.6 443.4,930.6 444.4,961.9 445.4,935 446.4,967.4 447.4,932.2 448.4,964.9 449.4,937.3 450.4,961.3 451.4,940.6 452.4,965.3 453.4,935.3 454.4,959.3 455.4,925.3 456.4,967.1 457.4,934.1 458.4,960 459.4,937.3 460.4,959.3 461.4,941.5 462.4,962.8 463.4,932.5 464.4,961.3 465.4,937.1 466.4,962.8 467.4,937 468.4,960.5 469.4,935 470.4,958.7 471.4,926 472.4,969.4 473.4,931.3 474.4,961.6 475.4,926.1 476.4,960.1 477.4,932.5 478.4,962.3 479.4,935.7 480.4,964.9 481.4,935.3 482.4,977.5 483.4,932.7 484.4,973.3 485.4,941.3 486.4,969.9 487.4,933.2 488.4,963.2 489.4,913.9 490.4,972 491.4,938.4 492.4,966.7 493.4,933.1 494.4,965.9 495.4,927.5 496.4,963.3 497.4,935.1 498.4,963.9 499.4,909.3 500.4,985.7 501.4,928.4 502.4,970.9 503.4,933.7 504.4,959.5 505.4,926 506.4,962.1 507.4,930.2 508.4,964.6 509.4,933.9 510.4,969.2 511.4,898.1 512.4,973.5 513.4,923.2 514.4,965.8 515.4,931.3 516.4,965.8 517.4,936.5 518.4,964.8 519.4,936.9 520.4,991.2 521.4,939.3 522.4,972.6 523.4,936.1 524.4,974 525.4,938.4 526.4,976.9 527.4,936.1 528.4,973.4 529.4,945.4 530.4,967.9 531.4,940.4 532.4,970.4 533.4,930.5 534.4,960.3 535.4,929.3 536.4,974.7 537.4,919.4 538.4,971.6 539.4,930.4 540.4,997.7 541.4,928.2 542.4,972.1 543.4,925.8 544.4,981.1 545.4,931.2 546.4,1006.1 547.4,924.2 548.4,971.5 549.4,926.1 550.4,962.7 551.4,919.7 552.4,970.8 553.4,909.3 554.4,992.2 555.4,932.3 556.4,960 557.4,941.5 558.4,959.9 559.4,935.3 560.4,960.2 561.4,939.6 562.4,965.3 563.4,938.5 564.4,960.5 565.4,938.3 566.4,962.2 567.4,940.9 568.4,961.3 569.4,934.4 570.4,963.7 571.3,940.1 572.3,964.8 573.3,940.6 574.3,961.9 575.3,940 576.3,960.6 577.3,938 578.3,968 579.3,934 580.3,959.7 581.3,939.1 582.3,960.8 583.3,939.8 584.3,962.7 585.3,935.2 586.3,967.2 587.3,934.3 588.3,964.2 589.3,930.2 590.3,964.2 591.3,933.1 592.3,960.6 593.3,934.6 594.3,979.2 595.3,935.2 596.3,971.5 597.3,936.1 598.3,967.2 599.3,931.1 600.3,969.9 601.3,941 602.3,970.9 603.3,938.6 604.3,991.2 605.3,944.7 606.3,974.5 607.3,943.3 608.3,965 609.3,941 610.3,967.2 611.3,946.5 612.3,965 613.3,945 614.3,973.5 615.3,945.9 616.3,967.9 617.3,944.8 618.3,970.9 619.3,938.8 620.3,996.8 621.3,913.9 622.3,979.2 623.3,941.7 624.3,968.3 625.3,930.8 626.3,969.3 627.3,941.8 628.3,970.1 629.3,940.3 630.3,965.4 631.3,945.2 632.3,970.6 633.3,945.8 634.3,967.5 635.3,945 636.3,972.8 637.3,938.6 638.3,974.8 639.3,934.8 640.3,979.5 641.3,943.4 642.3,974.5 643.3,946.1 644.3,980 645.3,919.7 646.3,978.9 647.3,940.9 648.3,985.9 649.3,947.2 650.3,980.7 651.3,949.1 652.3,977.9 653.3,953 654.3,979 655.3,947.7 656.3,976.8 657.3,940.9 658.3,987.6 659.3,946.8 660.3,982.2 661.3,952 662.3,975.3 663.3,949.8 664.3,976 665.3,952.7 666.3,977.6 667.3,948 668.3,975.2 669.3,949.5 670.3,972.9 671.3,947.8 672.3,972.1 673.3,947.8 674.3,977 675.3,949.4 676.3,976.4 677.3,952.9 678.3,977.7 679.3,956.4 680.3,986.6 681.3,954.7 682.3,980.2 683.3,950.5 684.3,980.9 685.3,956.9 686.3,979.2 687.3,954.5 688.3,974.9 689.3,958.3 690.3,974.3 691.3,952.8 692.3,970.4 693.3,956.1 694.3,978.5 695.3,954.8 696.3,975.4 697.3,958.8 698.3,982.8 699.3,950.1 700.3,979.4 701.3,956.6 702.3,980.2 703.3,956.3 704.2,977.9 705.2,956.2 706.2,977.3 707.2,957.7 708.2,975.8 709.2,959.8 710.2,980.3 711.2,960.5 712.2,975.1 713.2,958.3 714.2,974.7 715.2,954.2 716.2,975.8 717.2,956.5 718.2,975.8 719.2,958.7 720.2,979.6 721.2,958.6 722.2,974.2 723.2,959.2 724.2,976.8 725.2,958.6 726.2,976 727.2,954.6 728.2,977.6 729.2,952.1 730.2,977.8 731.2,959.3 732.2,976.4 733.2,960 734.2,975.7 735.2,959.6 736.2,978.1 737.2,961.4 738.2,978 739.2,960.8 740.2,977.9 741.2,964.9 742.2,979.7 743.2,962.5 744.2,985.6 745.2,960.9 746.2,987.2 747.2,965.2 748.2,984.3 749.2,960.9 750.2,989 751.2,960.9 752.2,981.7 753.2,954.9 754.2,979.8 755.2,951.6 756.2,982.2 757.2,957.1 758.2,983.6 759.2,959.4 760.2,983.4 761.2,960.4 762.2,984.3 763.2,958 764.2,976.4 765.2,951.9 766.2,970.7 767.2,953.1 768.2,976.7 769.2,950.2 770.2,979.2 771.2,946.4 772.2,978.2 773.2,942.5 774.2,982.1 775.2,948.1 776.2,988.8 777.2,948.4 778.2,987.2 779.2,948 780.2,991.9 781.2,951.1 782.2,988.4 783.2,946.7 784.2,981 785.2,940.1 786.2,990.1 787.2,941.4 788.2,986 789.2,944.3 790.2,986.5 791.2,944.6 792.2,982.4 793.2,943.8 794.2,986.3 795.2,949.2 796.2,993.7 797.2,947.9 798.2,996.1 799.2,937.5 800.2,994.5 801.2,945.2 802.2,998.1 803.2,937.1 804.2,1001.3 805.2,908.5 806.2,990 807.2,944.1 808.2,995 809.2,944.7 810.2,997.1 811.2,941.1 812.2,989.5 813.2,944.2 814.2,992.6 815.2,936.9 816.2,999.3 817.2,909.4 818.2,995.8 819.2,934.3 820.2,998.7 821.2,935.2 822.2,994.1 823.2,933.3 824.2,997.1 825.2,938.6 826.2,997 827.2,946.3 828.2,989.6 829.2,932.9 830.2,991 831.2,940.2 832.2,998.6 833.2,940.6 834.2,1002.5 835.2,927.3 836.2,994.5 837.1,936.3 838.1,999 839.1,932.3 840.1,992.8 841.1,931.5 842.1,993.6 843.1,933.8 844.1,999.2 845.1,941 846.1,996.2 847.1,933.4 848.1,996.5 849.1,945.6 850.1,1010.9 851.1,940.2 852.1,988.1 853.1,938.3 854.1,991.3 855.1,948.2 856.1,986.9 857.1,941.6 858.1,988.7 859.1,947.8 860.1,987.6 861.1,950.1 862.1,993.2 863.1,946.2 864.1,999.1 865.1,953 866.1,993.3 867.1,945.5 868.1,991.1 869.1,949.7 870.1,994.8 871.1,953.5 872.1,988.7 873.1,935.5 874.1,1009.1 875.1,950 876.1,993.9 877.1,953 878.1,993.5 879.1,955.7 880.1,993.7 881.1,950 882.1,994.4 883.1,947.2 884.1,988.4 885.1,954.6 886.1,987.6 887.1,950.4 888.1,994.2 889.1,952.9 890.1,992.8 891.1,947.8 892.1,987.1 893.1,952.7 894.1,988 895.1,948.7 896.1,992.9 897.1,946.3 898.1,991.7 899.1,950.8 900.1,992.7 901.1,949.6 902.1,988.9 903.1,951.7 904.1,994 905.1,949.8 906.1,989 907.1,957.4 908.1,987.3 909.1,952.5 910.1,994.9 911.1,955.8 912.1,995.1 913.1,953.4 914.1,994.4 915.1,951.7 916.1,995.8 917.1,957.9 918.1,991.9 919.1,956.3 920.1,993.9 921.1,955.1 922.1,994.4 923.1,958.8 924.1,997.1 925.1,958.9 926.1,989.8 927.1,954 928.1,991.1 929.1,959.6 930.1,1000.3 931.1,956.3 932.1,992 933.1,954.1 934.1,995.9 935.1,958.3 936.1,999.2 937.1,956.4 938.1,999.8 939.1,960.8 940.1,995.7 941.1,958 942.1,992.4 943.1,956.9 944.1,999.3 945.1,959.1 946.1,992.8 947.1,963.9 948.1,999.2 949.1,958.8 950.1,999.7 951.1,960.7 952.1,997.3 953.1,958.8 954.1,1000.4 955.1,961.5 956.1,1002.1 957.1,960.6 958.1,1000.4 959.1,958.8 960.1,1003.2 961.1,963.1 962.1,1010.5 963.1,917.9 964.1,1009.1 965.1,960.6 966.1,999 967.1,962.8 968.1,1019.4 969.1,934.6 970,998.6 971,965.2 972,1002.2 973,966.1 974,1005.5 975,961.4 976,1006.1 977,961.3 978,1006.7 979,961 980,1004.9 981,963.4 982,1002.1 983,965.1 984,997.7 985,959.9 986,993 987,961.5 988,993.2 989,963.3 990,987.4 991,963.2 992,988.4 993,957.1 994,990.3 995,959.3 996,984.4 997,936.5 998,988.6 999,956.3 1000,986.8 1001,954.5 1002,981.8 1003,956.6 1004,983.9 1005,956 1006,983.1 1007,953.6 1008,983.6 1009,954.5 1010,989.7 1011,951.2 1012,985.6 1013,954.7 1014,1007.4 1015,954.8 1016,988.9 1017,950.4 1018,987.3 1019,957.6 1020,991 1021,952.7 1022,985.7 1023,952.6 1024,986.9 1025,959 1026,990 1027,958.7 1028,987.8 1029,952.9 1030,990.1 1031,960.2 1032,985.8 1033,958 1034,986.2 1035,954 1036,985.7 1037,955.3 1038,981.5 1039,954.4 1040,981.6 1041,953.5 1042,980.7 1043,958.8 1044,982.2 1045,957.2 1046,979.9 1047,952.6 1048,979.7 1049,956.1 1050,985.2 1051,952.7 1052,980.3 1053,953.1 1054,983.2 1055,953.2 1056,978.5 1057,940.3 1058,979 1059,955.4 1060,984.1 1061,952.7 1062,982 1063,956.3 1064,987.3 1065,957.1 1066,983.1 1067,952.6 1068,989.1 1069,953.6 1070,989.7 1071,958.5 1072,987.2 1073,957 1074,993.3 1075,952.1 1076,993.4 1077,953.5 1078,991.3 1079,949.1 1080,991.8 1081,952.7 1082,996.3 1083,950.2 1084,993 1085,952 1086,1004.6 1087,955.3 1088,987.7 1089,955.4 1090,980.2 1091,951.1 1092,985.3 1093,953.4 1094,982.1 1095,948.8 1096,986.4 1097,951 1098,1005.6 1099,930.1 1100,992.5 1101,946.4 1101.9,994.4 1102.9,948 1103.9,993.9 1104.9,949.1 1105.9,984.4 1106.9,940.3 1107.9,991.6 1108.9,945.4 1109.9,987 1110.9,950.8 1111.9,988.2 1112.9,961.1 1113.9,993.1 1114.9,953.3 1115.9,995.5 1116.9,945 1117.9,989.3 1118.9,916.2 1119.9,998 1120.9,949.9 1121.9,994 1122.9,943.5 1123.9,981.4 1124.9,943 1125.9,978.8 1126.9,943.6 1127.9,988.9 1128.9,950.2 1129.9,987.2 1130.9,945.9 1131.9,992.4 1132.9,947.3 1133.9,995 1134.9,938 1135.9,990.1 1136.9,935 1137.9,993.5 1138.9,937.8 1139.9,1012.1 1140.9,930 1141.9,999.2 1142.9,937.4 1143.9,992.4 1144.9,936.5 1145.9,1006.6 1146.9,928.3 1147.9,980.5 1148.9,948.7 1149.9,971.7 1150.9,946.3 1151.9,984.3 1152.9,940.9 1153.9,985.5 1154.9,940.8 1155.9,994.8 1156.9,928.6 1157.9,997.6 1158.9,935.4 1159.9,999.9 1160.9,937.9 1161.9,1000.4 1162.9,931.7 1163.9,989.8 1164.9,944.8 1165.9,987.8 1166.9,945 1167.9,994.9 1168.9,940 1169.9,988.8 1170.9,940.7 1171.9,985.4 1172.9,943.8 1173.9,990.9 1174.9,941.4 1175.9,990.9 1176.9,941.6 1177.9,1003.1 1178.9,922.8 1179.9,991.1 1180.9,939.4 1181.9,984.8 1182.9,945.9 1183.9,1009.4 1184.9,917.2 1185.9,982.5 1186.9,943.1 1187.9,976.6 1188.9,945.4 1189.9,973.6 1190.9,946.1 1191.9,974.6 1192.9,948.6 1193.9,973.8 1194.9,947.2 1195.9,975.3 1196.9,945.4 1197.9,970.1 1198.9,947.3 1199.9,970.1 1200.9,950.5 1201.9,972 1202.9,948.7 1203.9,971.8 1204.9,948.6 1205.9,971.5 1206.9,949.3 1207.9,970 1208.9,948.8 1209.9,973.1 1210.9,942.8 1211.9,968.6 1212.9,939.9 1213.9,969 1214.9,940.8 1215.9,972.6 1216.9,936.8 1217.9,966.3 1218.9,938.6 1219.9,965.7 1220.9,938.2 1221.9,979.7 1222.9,936.3 1223.9,980.7 1224.9,928.4 1225.9,989.4 1226.9,941.1 1227.9,985 1228.9,938 1229.9,988.5 1230.9,944.4 1231.9,987.9 1232.9,933.9 1233.9,983.7 1234.8,934.3 1235.8,981.6 1236.8,936.5 1237.8,987.4 1238.8,933.7 1239.8,987.2 1240.8,935.6 1241.8,982 1242.8,942.2 1243.8,981 1244.8,936.4 1245.8,987.1 1246.8,932.2 1247.8,977.6 1248.8,921 1249.8,1009.4 1250.8,936.7 1251.8,986.5 1252.8,930 1253.8,981.6 1254.8,928.6 1255.8,985.9 1256.8,937 1257.8,982.7 1258.8,938.7 1259.8,982.2 1260.8,932.9 1261.8,982.8 1262.8,941.7 1263.8,982.3 1264.8,939.9 1265.8,979.4 1266.8,931.3 1267.8,986.9 1268.8,938.8 1269.8,983.5 1270.8,941.2 1271.8,1021.5 1272.8,934.8 1273.8,976.6 1274.8,944 1275.8,976.3 1276.8,944.5 1277.8,971.5 1278.8,940.6 1279.8,977.1 1280.8,942.6 1281.8,979.3 1282.8,938.7 1283.8,973.2 1284.8,944.3 1285.8,974.8 1286.8,944.2 1287.8,974.9 1288.8,949.4 1289.8,974.4 1290.8,954.1 1291.8,972.1 1292.8,951.6 1293.8,976 1294.8,954.8 1295.8,978.7 1296.8,954.3 1297.8,978.5 1298.8,952.9 1299.8,979.1 1300.8,954.7 1301.8,973.5 1302.8,950 1303.8,975.6 1304.8,949.8 1305.8,989.1 1306.8,927.5 1307.8,975.6 1308.8,953.3 1309.8,977.5 1310.8,949.2 1311.8,973.3 1312.8,953 1313.8,977.8 1314.8,955.4 1315.8,976.8 1316.8,936.8 1317.8,976.5 1318.8,952.8 1319.8,974.4 1320.8,953.8 1321.8,976.7 1322.8,955.1 1323.8,976.5 1324.8,954 1325.8,975.3 1326.8,953.3 1327.8,974.9 1328.8,954.1 1329.8,976.2 1330.8,954.1 1331.8,973.7 1332.8,954 1333.8,973.3 1334.8,954.7 1335.8,976.6 1336.8,954 1337.8,973.3 1338.8,953.8 1339.8,974.4 1340.8,954 1341.8,978.2 1342.8,953.5 1343.8,976.3 1344.8,953.8 1345.8,978.7 1346.8,958.6 1347.8,978.1 1348.8,958.7 1349.8,976 1350.8,957.6 1351.8,979.2 1352.8,960.4 1353.8,975.4 1354.8,959.7 1355.8,978.3 1356.8,963.4 1357.8,978.5 1358.8,960.5 1359.8,976.8 1360.8,960.9 1361.8,981.5 1362.8,961.4 1363.8,987.4 1364.8,957 1365.8,986.9 1366.8,957.1 1367.7,992.7 1368.7,958.9 1369.7,987 1370.7,957.3 1371.7,988.3 1372.7,961.7 1373.7,981.8 1374.7,957.2 1375.7,989.2 1376.7,953.1 1377.7,989.2 1378.7,953.9 1379.7,996.2 1380.7,917.4 1381.7,1038.6 1382.7,945.5 1383.7,1003.9 1384.7,945.8 1385.7,1002.2 1386.7,946.1 1387.7,1015.5 1388.7,899.3 1389.7,1016.3 1390.7,950.9 1391.7,1013.5 1392.7,936.2 1393.7,1031.6 1394.7,915.4 1395.7,1004.4 1396.7,941.9 1397.7,1001.7 1398.7,948.1 1399.7,994.1 1400.7,954.9 1401.7,1010.2 1402.7,947.8 1403.7,1013.2 1404.7,950.2 1405.7,1017 1406.7,958.3 1407.7,1004.5 1408.7,945.4 1409.7,1014.1 1410.7,934.7 1411.7,1002.5 1412.7,944.4 1413.7,1073 1414.7,888.2 1415.7,1010 1416.7,946.1 1417.7,1002.6 1418.7,955.5 1419.7,998.8 1420.7,957.6 1421.7,1007.1 1422.7,948.8 1423.7,998.5 1424.7,955.2 1425.7,1000 1426.7,951.3 1427.7,1002 1428.7,950.5 1429.7,997 1430.7,956 1431.7,1003.4 1432.7,952.8 1433.7,1002.4 1434.7,948.7 1435.7,1006.1 1436.7,954.3 1437.7,1031.7 1438.7,929.7 1439.7,1007.8 1440.7,950.7 1441.7,1003.6 1442.7,952.9 1443.7,1003.7 1444.7,951 1445.7,1006.8 1446.7,957.3 1447.7,1002.2 1448.7,952.1 1449.7,1006.5 1450.7,959 1451.7,1005.7 1452.7,951.5 1453.7,998 1454.7,953.8 1455.7,1005 1456.7,957.9 1457.7,1015.6 1458.7,952.9 1459.7,997.7 1460.7,955.9 1461.7,1000.5 1462.7,965.9 1463.7,998.5 1464.7,966.1 1465.7,993.6 1466.7,970.4 1467.7,996 1468.7,967.4 1469.7,1002.3 1470.7,964.1 1471.7,1002 1472.7,959.5 1473.7,1000.7 1474.7,957.4 1475.7,998.9 1476.7,950.3 1477.7,1000.8 1478.7,950.9 1479.7,992.8 1480.7,950.3 1481.7,1002.8 1482.7,955.3 1483.7,1043.9 1484.7,917.6 1485.7,1002 1486.7,951.9 1487.7,1003.8 1488.7,949.6 1489.7,1007.4 1490.7,941.8 1491.7,1003.9 1492.7,942.3 1493.7,994.5 1494.7,949.3 1495.7,991.5 1496.7,945.6 1497.7,996.4 1498.7,950.1 1499.7,997.8 1500.6,954.8 1501.6,999.7 1502.6,957.3 1503.6,1000.3 1504.6,962.6 1505.6,1001.9 1506.6,956 1507.6,1000.2 1508.6,957.8 1509.6,1002 1510.6,949.1 1511.6,1020.7 1512.6,957 1513.6,995.4 1514.6,954.7 1515.6,996.6 1516.6,962.4 1517.6,1001.6 1518.6,959.4 1519.6,996.1 1520.6,957.8 1521.6,1002.7 1522.6,955.4 1523.6,998.8 1524.6,959.1 1525.6,994.3 1526.6,958.9 1527.6,1001.3 1528.6,957.4 1529.6,1000.7 1530.6,960.9 1531.6,995.1 1532.6,956.6 1533.6,997.2 1534.6,958.7 1535.6,1001.3 1536.6,956.9 1537.6,997.9 1538.6,964.3 1539.6,1002.1 1540.6,956.7 1541.6,1000.6 1542.6,951.1 1543.6,1009.2 1544.6,951.3 1545.6,1026.8 1546.6,938.3 1547.6,1007.4 1548.6,936.8 1549.6,1016.1 1550.6,945.2 1551.6,1003.2 1552.6,950.5 1553.6,1014.3 1554.6,939.3 1555.6,1006.7 1556.6,904.6 1557.6,1023.8 1558.6,951.5 1559.6,1015.7 1560.6,950.5 1561.6,1034.9 1562.6,901.6 1563.6,1015.8 1564.6,944.5 1565.6,1013.5 1566.6,956.1 1567.6,1003.7 1568.6,950.8 1569.6,1006.9 1570.6,954.5 1571.6,1010 1572.6,955.5 1573.6,1002.5 1574.6,951.4 1575.6,1005.3 1576.6,960.6 1577.6,1008.5 1578.6,928.9 1579.6,1019.8 1580.6,954 1581.6,1005.5 1582.6,953.8 1583.6,1004.2 1584.6,954.9 1585.6,1006.6 1586.6,956.9 1587.6,1000.7 1588.6,954.2 1589.6,1006.6 1590.6,956.2 1591.6,1007.4 1592.6,956.3 1593.6,1020.8 1594.6,959.5 1595.6,1001.8 1596.6,957.1 1597.6,1005.6 1598.6,955.3 1599.6,1004 1600.6,962 1601.6,1006.1 1602.6,957.7 1603.6,1001.6 1604.6,956.6 1605.6,996.8 1606.6,956.4 1607.6,998.2 1608.6,962.1 1609.6,992.4 1610.6,960.3 1611.6,997.1 1612.6,960.8 1613.6,995.1 1614.6,959.3 1615.6,996 1616.6,959.4 1617.6,998 1618.6,962.1 1619.6,994.4 1620.6,957.1 1621.6,1001.1 1622.6,961.5 1623.6,993.6 1624.6,961.7 1625.6,1001.9 1626.6,956.6 1627.6,1004.6 1628.6,957.8 1629.6,999.6 1630.6,954.5 1631.6,1005.2 1632.6,963.4 1633.5,1004.1 1634.5,957.1 1635.5,1003.4 1636.5,952.2 1637.5,1005.2 1638.5,950.2 1639.5,1001 1640.5,949.7 1641.5,1007.9 1642.5,931 1643.5,1004.6 1644.5,947.8 1645.5,996 1646.5,953.6 1647.5,1005.6 1648.5,948.9 1649.5,1012.9 1650.5,931 1651.5,998.1 1652.5,956.1 1653.5,999.1 1654.5,948.8 1655.5,996.2 1656.5,949.7 1657.5,991.4 1658.5,951.4 1659.5,984.5 1660.5,949.2 1661.5,990.6 1662.5,949.8 1663.5,994 1664.5,952.2 1665.5,992.9 1666.5,945 1667.5,1000.4 1668.5,929.1 1669.5,992.9 1670.5,948.2 1671.5,987 1672.5,950.8 1673.5,985.2 1674.5,951.9 1675.5,988.3 1676.5,952.7 1677.5,992.6 1678.5,944.3 1679.5,1008.9 1680.5,942.5 1681.5,987 1682.5,943.5 1683.5,995 1684.5,948 1685.5,989.5 1686.5,920 1687.5,1002.8 1688.5,943.5 1689.5,986.9 1690.5,938.3 1691.5,983.8 1692.5,947.5 1693.5,989.3 1694.5,939.9 1695.5,993 1696.5,925.1 1697.5,984.8 1698.5,948.4 1699.5,981.1" stroke="#ff00ff"/>
<path d="M371.5,940 372.5,963.7 373.5,939.2 374.5,959.9 375.5,932.6 376.5,966 377.5,937.6 378.5,961.4 379.5,930.7 380.5,960.1 381.5,933.7 382.5,959.7 383.5,933.7 384.5,961.8 385.5,932.2 386.5,963.2 387.5,929.2 388.5,970 389.5,926.6 390.5,1012.5 391.5,898.1 392.5,963.2 393.5,935 394.5,964.2 395.5,940.8 396.5,969.1 397.5,936.9 398.5,970.9 399.5,927.2 400.5,966.4 401.5,933.4 402.5,971.6 403.5,935.5 404.5,961.8 405.5,930.9 406.5,961.9 407.5,934.3 408.5,960.5 409.5,931.8 410.5,961.8 411.5,926.8 412.5,968 413.5,934.7 414.5,968.8 415.5,933.9 416.5,1003.3 417.5,890.7 418.5,974.1 419.5,926.8 420.5,970.1 421.5,936.2 422.5,967.9 423.5,901.8 424.5,1005.1 425.5,940 426.5,965.9 427.5,939.8 428.5,968.1 429.5,940.6 430.5,969.4 431.5,942.7 432.5,975.3 433.5,937.2 434.5,966.6 435.5,943.4 436.5,967.2 437.5,943.5 438.4,966.2 439.4,939.2 440.4,966.7 441.4,935.2 442.4,967 443.4,938 444.4,969.3 445.4,942.4 446.4,974.8 447.4,939.6 448.4,972.3 449.4,944.7 450.4,968.7 451.4,948 452.4,972.8 453.4,942.7 454.4,966.7 455.4,932.7 456.4,974.5 457.4,941.5 458.4,967.4 459.4,944.7 460.4,966.7 461.4,948.9 462.4,970.2 463.4,939.9 464.4,968.7 465.4,944.5 466.4,970.2 467.4,944.4 468.4,967.9 469.4,942.4 470.4,966.1 471.4,933.4 472.4,976.8 473.4,938.7 474.4,969 475.4,933.5 476.4,967.5 477.4,939.9 478.4,969.7 479.4,943.1 480.4,972.3 481.4,942.7 482.4,984.9 483.4,940.1 484.4,980.7 485.4,948.7 486.4,977.3 487.4,940.6 488.4,970.6 489.4,921.3 490.4,979.4 491.4,945.8 492.4,974.1 493.4,940.5 494.4,973.3 495.4,934.9 496.4,970.7 497.4,942.5 498.4,971.3 499.4,916.7 500.4,993.1 501.4,935.8 502.4,978.3 503.4,941.2 504.4,966.9 505.4,933.4 506.4,969.6 507.4,937.6 508.4,972 509.4,941.3 510.4,976.6 511.4,905.5 512.4,981 513.4,930.6 514.4,973.2 515.4,938.7 516.4,973.2 517.4,943.9 518.4,972.2 519.4,944.3 520.4,998.6 521.4,946.7 522.4,980 523.4,943.5 524.4,981.4 525.4,945.9 526.4,984.3 527.4,943.5 528.4,980.8 529.4,952.8 530.4,975.3 531.4,947.8 532.4,977.8 533.4,937.9 534.4,967.7 535.4,936.7 536.4,982.1 537.4,926.8 538.4,979 539.4,937.8 540.4,1005.1 541.4,935.6 542.4,979.5 543.4,933.2 544.4,988.5 545.4,938.6 546.4,1013.5 547.4,931.6 548.4,978.9 549.4,933.5 550.4,970.1 551.4,927.2 552.4,978.2 553.4,916.7 554.4,999.6 555.4,939.7 556.4,967.4 557.4,948.9 558.4,967.3 559.4,942.7 560.4,967.6 561.4,947 562.4,972.7 563.4,945.9 564.4,967.9 565.4,945.7 566.4,969.6 567.4,948.3 568.4,968.7 569.4,941.8 570.4,971.1 571.3,947.5 572.3,972.2 573.3,948 574.3,969.3 575.3,947.4 576.3,968 577.3,945.4 578.3,975.4 579.3,941.5 580.3,967.1 581.3,946.5 582.3,968.2 583.3,947.2 584.3,970.1 585.3,942.6 586.3,974.6 587.3,941.7 588.3,971.6 589.3,937.6 590.3,971.6 591.3,940.5 592.3,968 593.3,942 594.3,986.6 595.3,942.6 596.3,979 597.3,943.6 598.3,974.6 599.3,938.5 600.3,977.3 601.3,948.4 602.3,978.3 603.3,946 604.3,998.6 605.3,952.1 606.3,981.9 607.3,950.7 608.3,972.4 609.3,948.4 610.3,974.6 611.3,953.9 612.3,972.4 613.3,952.4 614.3,980.9 615.3,953.3 616.3,975.3 617.3,952.2 618.3,978.4 619.3,946.2 620.3,1004.2 621.3,921.3 622.3,986.6 623.3,949.2 624.3,975.7 625.3,938.2 626.3,976.7 627.3,949.2 628.3,977.5 629.3,947.7 630.3,972.8 631.3,952.6 632.3,978 633.3,953.2 634.3,974.9 635.3,952.4 636.3,980.2 637.3,946 638.3,982.2 639.3,942.2 640.3,986.8 641.3,950.7 642.3,981.8 643.3,953.3 644.3,987.2 645.3,926.9 646.3,986 647.3,948.1 648.3,993.1 649.3,954.3 650.3,987.8 651.3,956.2 652.3,984.9 653.3,959.9 654.3,986 655.3,954.6 656.3,983.7 657.3,947.8 658.3,994.5 659.3,953.7 660.3,989 661.3,958.7 662.3,982 663.3,956.5 664.3,982.7 665.3,959.4 666.3,984.2 667.3,954.6 668.3,981.7 669.3,956 670.3,979.4 671.3,954.3 672.3,978.5 673.3,954.2 674.3,983.4 675.3,955.8 676.3,982.8 677.3,959.2 678.3,984 679.3,962.7 680.3,992.9 681.3,960.9 682.3,986.4 683.3,956.7 684.3,987.1 685.3,963 686.3,985.3 687.3,960.5 688.3,980.9 689.3,964.3 690.3,980.3 691.3,958.8 692.3,976.4 693.3,962 694.3,984.4 695.3,960.7 696.3,981.2 697.3,964.6 698.3,988.6 699.3,955.8 700.3,985.2 701.3,962.3 702.3,985.8 703.3,961.9 704.2,983.6 705.2,961.8 706.2,982.9 707.2,963.3 708.2,981.3 709.2,965.3 710.2,985.8 711.2,966 712.2,980.5 713.2,963.7 714.2,980.1 715.2,959.5 716.2,981.1 717.2,961.8 718.2,981 719.2,963.9 720.2,984.7 721.2,963.6 722.2,979.2 723.2,964.2 724.2,981.7 725.2,963.5 726.2,980.9 727.2,959.4 728.2,982.3 729.2,956.8 730.2,982.4 731.2,963.9 732.2,980.9 733.2,964.5 734.2,980.1 735.2,963.9 736.2,982.4 737.2,965.7 738.2,982.2 739.2,965 740.2,982 741.2,969 742.2,983.8 743.2,966.5 744.2,989.5 745.2,964.8 746.2,991.1 747.2,969 748.2,988 749.2,964.6 750.2,992.6 751.2,964.4 752.2,985.2 753.2,958.4 754.2,983.2 755.2,955 756.2,985.5 757.2,960.4 758.2,986.8 759.2,962.6 760.2,986.5 761.2,963.4 762.2,987.3 763.2,961 764.2,979.3 765.2,954.8 766.2,973.5 767.2,955.8 768.2,979.5 769.2,952.9 770.2,981.9 771.2,949.1 772.2,980.9 773.2,945.1 774.2,984.8 775.2,950.7 776.2,991.4 777.2,951 778.2,989.9 779.2,950.6 780.2,994.5 781.2,953.8 782.2,991 783.2,949.3 784.2,983.7 785.2,942.7 786.2,992.7 787.2,944.1 788.2,988.6 789.2,946.9 790.2,989.2 791.2,947.3 792.2,985 793.2,946.4 794.2,988.9 795.2,951.8 796.2,996.4 797.2,950.6 798.2,998.7 799.2,940.1 800.2,997.1 801.2,947.8 802.2,1000.7 803.2,939.7 804.2,1003.9 805.2,911.1 806.2,992.6 807.2,946.7 808.2,997.6 809.2,947.3 810.2,999.7 811.2,943.7 812.2,992.1 813.2,946.8 814.2,995.2 815.2,939.5 816.2,1001.9 817.2,912 818.2,998.4 819.2,936.9 820.2,1001.3 821.2,937.8 822.2,996.7 823.2,935.9 824.2,999.7 825.2,941.1 826.2,999.6 827.2,948.9 828.2,992.2 829.2,935.5 830.2,993.6 831.2,942.8 832.2,1001.2 833.2,943.2 834.2,1005 835.2,929.9 836.2,997.1 837.1,938.9 838.1,1001.6 839.1,934.9 840.1,995.4 841.1,934.1 842.1,996.2 843.1,936.4 844.1,1001.8 845.1,943.6 846.1,998.8 847.1,936 848.1,999 849.1,948.2 850.1,1013.5 851.1,942.8 852.1,990.7 853.1,940.9 854.1,993.8 855.1,950.8 856.1,989.5 857.1,944.1 858.1,991.3 859.1,950.3 860.1,990.1 861.1,952.6 862.1,995.8 863.1,948.7 864.1,1001.7 865.1,955.6 866.1,995.9 867.1,948.1 868.1,993.6 869.1,952.2 870.1,997.4 871.1,956 872.1,991.2 873.1,938 874.1,1011.6 875.1,952.5 876.1,996.5 877.1,955.6 878.1,996 879.1,958.2 880.1,996.2 881.1,952.6 882.1,996.9 883.1,949.8 884.1,990.9 885.1,957.1 886.1,990.1 887.1,952.9 888.1,996.7 889.1,955.5 890.1,995.3 891.1,950.4 892.1,989.6 893.1,955.2 894.1,990.5 895.1,951.3 896.1,995.4 897.1,948.8 898.1,994.2 899.1,953.3 900.1,995.2 901.1,952.1 902.1,991.5 903.1,954.2 904.1,996.5 905.1,952.3 906.1,991.5 907.1,959.9 908.1,989.8 909.1,955 910.1,997.5 911.1,958.3 912.1,997.6 913.1,955.9 914.1,996.9 915.1,954.2 916.1,998.3 917.1,960.4 918.1,994.4 919.1,958.8 920.1,996.4 921.1,957.5 922.1,996.9 923.1,961.3 924.1,999.6 925.1,961.3 926.1,992.3 927.1,956.5 928.1,993.6 929.1,962.1 930.1,1002.8 931.1,958.8 932.1,994.5 933.1,956.5 934.1,998.4 935.1,960.7 936.1,1001.7 937.1,958.9 938.1,1002.3 939.1,963.3 940.1,998.1 941.1,960.4 942.1,994.8 943.1,959.3 944.1,1001.8 945.1,961.5 946.1,995.3 947.1,966.3 948.1,1001.7 949.1,961.3 950.1,1002.1 951.1,963.2 952.1,999.8 953.1,961.2 954.1,1002.9 955.1,964 956.1,1004.5 957.1,963.1 958.1,1002.9 959.1,961.2 960.1,1005.7 961.1,965.5 962.1,1013 963.1,920.4 964.1,1011.6 965.1,963 966.1,1001.5 967.1,965.3 968.1,1021.8 969.1,937.1 970,1001 971,967.6 972,1004.6 973,968.6 974,1007.9 975,963.9 976,1008.5 977,963.7 978,1009.1 979,963.4 980,1007.3 981,965.9 982,1004.5 983,967.5 984,1000.1 985,962.3 986,995.5 987,963.9 988,995.7 989,965.8 990,989.9 991,965.6 992,990.8 993,959.5 994,992.7 995,961.7 996,986.8 997,938.9 998,991 999,958.7 1000,989.2 1001,957 1002,984.2 1003,959 1004,986.3 1005,958.4 1006,985.5 1007,956 1008,986 1009,956.9 1010,992.1 1011,953.6 1012,988 1013,957.1 1014,1009.8 1015,957.2 1016,991.3 1017,952.8 1018,989.7 1019,960 1020,993.4 1021,955 1022,988.1 1023,955 1024,989.3 1025,961.4 1026,992.4 1027,961.1 1028,990.2 1029,955.2 1030,992.5 1031,962.6 1032,988.2 1033,960.4 1034,988.6 1035,956.3 1036,988.1 1037,957.6 1038,983.9 1039,956.8 1040,984 1041,955.9 1042,983.1 1043,961.1 1044,984.6 1045,959.5 1046,982.3 1047,955 1048,982.1 1049,958.4 1050,987.6 1051,955 1052,982.7 1053,955.5 1054,985.5 1055,955.6 1056,980.9 1057,942.6 1058,981.3 1059,957.8 1060,986.4 1061,955 1062,984.3 1063,958.6 1064,989.7 1065,959.4 1066,985.5 1067,955 1068,991.5 1069,956 1070,992 1071,960.9 1072,989.6 1073,959.3 1074,995.6 1075,954.4 1076,995.8 1077,955.9 1078,993.6 1079,951.5 1080,994.1 1081,955.1 1082,998.6 1083,952.5 1084,995.4 1085,954.4 1086,1007 1087,957.6 1088,990 1089,957.7 1090,982.5 1091,953.4 1092,987.6 1093,955.8 1094,984.5 1095,951.1 1096,988.7 1097,953.3 1098,1007.9 1099,932.4 1100,994.8 1101,948.7 1101.9,996.7 1102.9,950.3 1103.9,996.2 1104.9,951.4 1105.9,986.7 1106.9,942.6 1107.9,993.9 1108.9,947.7 1109.9,989.3 1110.9,953.1 1111.9,990.5 1112.9,963.4 1113.9,995.4 1114.9,955.6 1115.9,997.8 1116.9,947.3 1117.9,991.6 1118.9,918.5 1119.9,1000.2 1120.9,952.1 1121.9,996.3 1122.9,945.8 1123.9,983.7 1124.9,945.3 1125.9,981 1126.9,945.9 1127.9,991.2 1128.9,952.5 1129.9,989.5 1130.9,948.2 1131.9,994.7 1132.9,949.6 1133.9,997.3 1134.9,940.2 1135.9,992.4 1136.9,937.3 1137.9,995.7 1138.9,940 1139.9,1014.4 1140.9,932.2 1141.9,1001.5 1142.9,939.7 1143.9,994.7 1144.9,938.8 1145.9,1008.8 1146.9,930.6 1147.9,982.8 1148.9,951 1149.9,974 1150.9,948.5 1151.9,986.5 1152.9,943.1 1153.9,987.8 1154.9,943 1155.9,997.1 1156.9,930.8 1157.9,999.8 1158.9,937.7 1159.9,1002.1 1160.9,940.2 1161.9,1002.6 1162.9,934 1163.9,992.1 1164.9,947 1165.9,990.1 1166.9,947.3 1167.9,997.1 1168.9,942.2 1169.9,991 1170.9,942.9 1171.9,987.7 1172.9,946 1173.9,993.1 1174.9,943.7 1175.9,993.2 1176.9,943.9 1177.9,1005.4 1178.9,925 1179.9,993.3 1180.9,941.6 1181.9,987 1182.9,948.1 1183.9,1011.6 1184.9,919.4 1185.9,984.7 1186.9,945.4 1187.9,978.9 1188.9,947.6 1189.9,975.8 1190.9,948.3 1191.9,976.8 1192.9,950.8 1193.9,976 1194.9,949.4 1195.9,977.5 1196.9,947.6 1197.9,972.3 1198.9,949.5 1199.9,972.4 1200.9,952.7 1201.9,974.3 1202.9,950.9 1203.9,974.1 1204.9,950.8 1205.9,973.7 1206.9,951.5 1207.9,972.2 1208.9,951 1209.9,975.3 1210.9,945 1211.9,970.8 1212.9,942.1 1213.9,971.2 1214.9,943 1215.9,974.8 1216.9,939 1217.9,968.5 1218.9,940.8 1219.9,967.9 1220.9,940.4 1221.9,981.9 1222.9,938.5 1223.9,982.9 1224.9,930.6 1225.9,991.6 1226.9,943.3 1227.9,987.2 1228.9,940.2 1229.9,990.7 1230.9,946.6 1231.9,990.1 1232.9,936.1 1233.9,985.9 1234.8,936.5 1235.8,983.8 1236.8,938.7 1237.8,989.6 1238.8,935.9 1239.8,989.4 1240.8,937.8 1241.8,984.2 1242.8,944.4 1243.8,983.2 1244.8,938.5 1245.8,989.3 1246.8,934.3 1247.8,979.7 1248.8,923.2 1249.8,1011.6 1250.8,938.8 1251.8,988.6 1252.8,932.1 1253.8,983.8 1254.8,930.8 1255.8,988 1256.8,939.1 1257.8,984.8 1258.8,940.8 1259.8,984.4 1260.8,935.1 1261.8,985 1262.8,943.9 1263.8,984.5 1264.8,942.1 1265.8,981.5 1266.8,933.4 1267.8,989.1 1268.8,941 1269.8,985.7 1270.8,943.3 1271.8,1023.7 1272.8,936.9 1273.8,978.8 1274.8,946.2 1275.8,978.4 1276.8,946.7 1277.8,973.6 1278.8,942.7 1279.8,979.2 1280.8,944.8 1281.8,981.4 1282.8,940.9 1283.8,975.4 1284.8,946.5 1285.8,977 1286.8,946.4 1287.8,977 1288.8,951.5 1289.8,976.5 1290.8,956.3 1291.8,974.3 1292.8,953.7 1293.8,978.2 1294.8,957 1295.8,980.8 1296.8,956.4 1297.8,980.6 1298.8,955 1299.8,981.2 1300.8,956.8 1301.8,975.6 1302.8,952.1 1303.8,977.8 1304.8,951.9 1305.8,991.2 1306.8,929.6 1307.8,977.7 1308.8,955.4 1309.8,979.6 1310.8,951.3 1311.8,975.4 1312.8,955.1 1313.8,979.8 1314.8,957.5 1315.8,978.9 1316.8,938.9 1317.8,978.5 1318.8,954.9 1319.8,976.5 1320.8,955.8 1321.8,978.7 1322.8,957.2 1323.8,978.6 1324.8,956 1325.8,977.3 1326.8,955.4 1327.8,976.9 1328.8,956.2 1329.8,978.2 1330.8,956.1 1331.8,975.8 1332.8,956.1 1333.8,975.3 1334.8,956.8 1335.8,978.7 1336.8,956.1 1337.8,975.4 1338.8,955.9 1339.8,976.5 1340.8,956.1 1341.8,980.2 1342.8,955.5 1343.8,978.4 1344.8,955.8 1345.8,980.7 1346.8,960.6 1347.8,980.2 1348.8,960.7 1349.8,978 1350.8,959.6 1351.8,981.2 1352.8,962.5 1353.8,977.5 1354.8,961.7 1355.8,980.3 1356.8,965.4 1357.8,980.5 1358.8,962.5 1359.8,978.8 1360.8,962.9 1361.8,983.6 1362.8,963.4 1363.8,989.4 1364.8,959 1365.8,988.9 1366.8,959.1 1367.7,994.7 1368.7,960.9 1369.7,989 1370.7,959.3 1371.7,990.3 1372.7,963.7 1373.7,983.8 1374.7,959.2 1375.7,991.2 1376.7,955.1 1377.7,991.1 1378.7,955.9 1379.7,998.1 1380.7,919.4 1381.7,1040.6 1382.7,947.4 1383.7,1005.9 1384.7,947.7 1385.7,1004.2 1386.7,948 1387.7,1017.5 1388.7,901.3 1389.7,1018.3 1390.7,952.9 1391.7,1015.5 1392.7,938.1 1393.7,1033.5 1394.7,917.4 1395.7,1006.3 1396.7,943.9 1397.7,1003.6 1398.7,950 1399.7,996.1 1400.7,956.9 1401.7,1012.1 1402.7,949.7 1403.7,1015.1 1404.7,952.1 1405.7,1018.9 1406.7,960.2 1407.7,1006.4 1408.7,947.3 1409.7,1016 1410.7,936.6 1411.7,1004.4 1412.7,946.3 1413.7,1074.9 1414.7,890.1 1415.7,1011.9 1416.7,948 1417.7,1004.6 1418.7,957.4 1419.7,1000.8 1420.7,959.5 1421.7,1009 1422.7,950.7 1423.7,1000.4 1424.7,957.1 1425.7,1001.9 1426.7,953.2 1427.7,1003.9 1428.7,952.4 1429.7,998.8 1430.7,957.9 1431.7,1005.3 1432.7,954.6 1433.7,1004.2 1434.7,950.6 1435.7,1008 1436.7,956.2 1437.7,1033.5 1438.7,931.5 1439.7,1009.7 1440.7,952.6 1441.7,1005.5 1442.7,954.7 1443.7,1005.5 1444.7,952.9 1445.7,1008.7 1446.7,959.2 1447.7,1004.1 1448.7,953.9 1449.7,1008.4 1450.7,960.8 1451.7,1007.6 1452.7,953.3 1453.7,999.8 1454.7,955.6 1455.7,1006.8 1456.7,959.8 1457.7,1017.4 1458.7,954.7 1459.7,999.5 1460.7,957.7 1461.7,1002.4 1462.7,967.8 1463.7,1000.3 1464.7,967.9 1465.7,995.4 1466.7,972.2 1467.7,997.8 1468.7,969.2 1469.7,1004.1 1470.7,965.9 1471.7,1003.8 1472.7,961.3 1473.7,1002.6 1474.7,959.2 1475.7,1000.7 1476.7,952.1 1477.7,1002.6 1478.7,952.7 1479.7,994.6 1480.7,952.1 1481.7,1004.6 1482.7,957.1 1483.7,1045.7 1484.7,919.4 1485.7,1003.8 1486.7,953.7 1487.7,1005.5 1488.7,951.4 1489.7,1009.2 1490.7,943.6 1491.7,1005.6 1492.7,944.1 1493.7,996.2 1494.7,951 1495.7,993.3 1496.7,947.4 1497.7,998.2 1498.7,951.9 1499.7,999.6 1500.6,956.6 1501.6,1001.4 1502.6,959 1503.6,1002 1504.6,964.4 1505.6,1003.6 1506.6,957.7 1507.6,1002 1508.6,959.5 1509.6,1003.7 1510.6,950.9 1511.6,1022.4 1512.6,958.8 1513.6,997.2 1514.6,956.4 1515.6,998.4 1516.6,964.1 1517.6,1003.3 1518.6,961.2 1519.6,997.8 1520.6,959.6 1521.6,1004.5 1522.6,957.1 1523.6,1000.5 1524.6,960.8 1525.6,996 1526.6,960.6 1527.6,1003.1 1528.6,959.1 1529.6,1002.4 1530.6,962.6 1531.6,996.8 1532.6,958.4 1533.6,998.9 1534.6,960.4 1535.6,1003 1536.6,958.6 1537.6,999.6 1538.6,966 1539.6,1003.8 1540.6,958.4 1541.6,1002.3 1542.6,952.8 1543.6,1010.9 1544.6,953 1545.6,1028.5 1546.6,940 1547.6,1009.1 1548.6,938.5 1549.6,1017.7 1550.6,946.9 1551.6,1004.9 1552.6,952.1 1553.6,1016 1554.6,940.9 1555.6,1008.4 1556.6,906.3 1557.6,1025.5 1558.6,953.2 1559.6,1017.3 1560.6,952.1 1561.6,1036.6 1562.6,903.3 1563.6,1017.5 1564.6,946.1 1565.6,1015.2 1566.6,957.8 1567.6,1005.4 1568.6,952.5 1569.6,1008.6 1570.6,956.1 1571.6,1011.6 1572.6,957.1 1573.6,1004.1 1574.6,953 1575.6,1007 1576.6,962.2 1577.6,1010.2 1578.6,930.5 1579.6,1021.4 1580.6,955.7 1581.6,1007.1 1582.6,955.4 1583.6,1005.8 1584.6,956.5 1585.6,1008.3 1586.6,958.5 1587.6,1002.3 1588.6,955.8 1589.6,1008.2 1590.6,957.8 1591.6,1009 1592.6,957.9 1593.6,1022.4 1594.6,961.1 1595.6,1003.4 1596.6,958.7 1597.6,1007.2 1598.6,956.9 1599.6,1005.6 1600.6,963.6 1601.6,1007.7 1602.6,959.2 1603.6,1003.2 1604.6,958.2 1605.6,998.4 1606.6,958 1607.6,999.8 1608.6,963.7 1609.6,994 1610.6,961.9 1611.6,998.7 1612.6,962.4 1613.6,996.6 1614.6,960.9 1615.6,997.5 1616.6,961 1617.6,999.5 1618.6,963.7 1619.6,996 1620.6,958.7 1621.6,1002.7 1622.6,963 1623.6,995.2 1624.6,963.3 1625.6,1003.5 1626.6,958.2 1627.6,1006.1 1628.6,959.4 1629.6,1001.2 1630.6,956 1631.6,1006.7 1632.6,964.9 1633.5,1005.6 1634.5,958.7 1635.5,1004.9 1636.5,953.7 1637.5,1006.7 1638.5,951.8 1639.5,1002.6 1640.5,951.2 1641.5,1009.4 1642.5,932.5 1643.5,1006.1 1644.5,949.3 1645.5,997.5 1646.5,955.1 1647.5,1007.1 1648.5,950.4 1649.5,1014.4 1650.5,932.5 1651.5,999.6 1652.5,957.6 1653.5,1000.5 1654.5,950.3 1655.5,997.7 1656.5,951.1 1657.5,992.9 1658.5,952.9 1659.5,986 1660.5,950.7 1661.5,992.1 1662.5,951.3 1663.5,995.5 1664.5,953.7 1665.5,994.4 1666.5,946.5 1667.5,1001.9 1668.5,930.5 1669.5,994.4 1670.5,949.6 1671.5,988.4 1672.5,952.2 1673.5,986.7 1674.5,953.3 1675.5,989.7 1676.5,954.2 1677.5,994.1 1678.5,945.7 1679.5,1010.3 1680.5,943.9 1681.5,988.4 1682.5,944.9 1683.5,996.5 1684.5,949.5 1685.5,990.9 1686.5,921.4 1687.5,1004.3 1688.5,944.9 1689.5,988.4 1690.5,939.7 1691.5,985.3 1692.5,948.9 1693.5,990.8 1694.5,941.4 1695.5,994.5 1696.5,926.5 1697.5,986.2 1698.5,949.8 1699.5,982.5" stroke="#000000"/>
</g>
<text class="tk" transform="translate(371.2 1378.7) scale(1.0 1.02)" text-anchor="middle">100</text>
<text class="tk" transform="translate(636.8 1378.7) scale(1.0 1.02)" text-anchor="middle">200</text>
<text class="tk" transform="translate(902.4 1378.7) scale(1.0 1.02)" text-anchor="middle">300</text>
<text class="tk" transform="translate(1168 1378.7) scale(1.0 1.02)" text-anchor="middle">400</text>
<text class="tk" transform="translate(1433.6 1378.7) scale(1.0 1.02)" text-anchor="middle">500</text>
<text class="tk" transform="translate(1699.2 1378.7) scale(1.0 1.02)" text-anchor="middle">600</text>
<text class="tk" transform="translate(354 972.7) scale(1.0 1.02)" text-anchor="end">0</text>
<text class="tk" transform="translate(348.5 1149) scale(1.0 1.02)" text-anchor="end">-0.1</text>
<text class="tk" transform="translate(348.5 1325.3) scale(1.0 1.02)" text-anchor="end">-0.2</text>
</g>
<g id="legend">
<rect x="1384" y="72" width="361" height="395" fill="#fff"/>
<path class="ax" d="M1384,72H1386V467H1384ZM1742,72H1745V467H1742ZM1384,72H1745V74H1384ZM1384,464H1745V467H1384Z"/>
<path shape-rendering="crispEdges" fill="#ff0000" d="M1398,107H1500V114H1398Z"/>
<text class="lg" transform="translate(1510.7 127.9) scale(0.9643 1.01)">Scheme 1</text>
<path shape-rendering="crispEdges" fill="#00ff00" d="M1398,170H1500V178H1398Z"/>
<text class="lg" transform="translate(1510.7 191.4) scale(0.9643 1.01)">Scheme 2</text>
<path shape-rendering="crispEdges" fill="#0000ff" d="M1398,234H1500V242H1398Z"/>
<text class="lg" transform="translate(1510.7 254.9) scale(0.9643 1.01)">Scheme 3</text>
<path shape-rendering="crispEdges" fill="#00ffff" d="M1398,297H1500V305H1398Z"/>
<text class="lg" transform="translate(1510.7 318.4) scale(0.9643 1.01)">Scheme 4</text>
<path shape-rendering="crispEdges" fill="#ff00ff" d="M1398,360H1500V368H1398Z"/>
<text class="lg" transform="translate(1510.7 381.9) scale(0.9643 1.01)">Scheme 5</text>
<path shape-rendering="crispEdges" fill="#000000" d="M1398,424H1500V432H1398Z"/>
<text class="lg" transform="translate(1510.7 445.4) scale(0.9643 1.01)">Scheme 6</text>
</g>
</svg></body></html>
